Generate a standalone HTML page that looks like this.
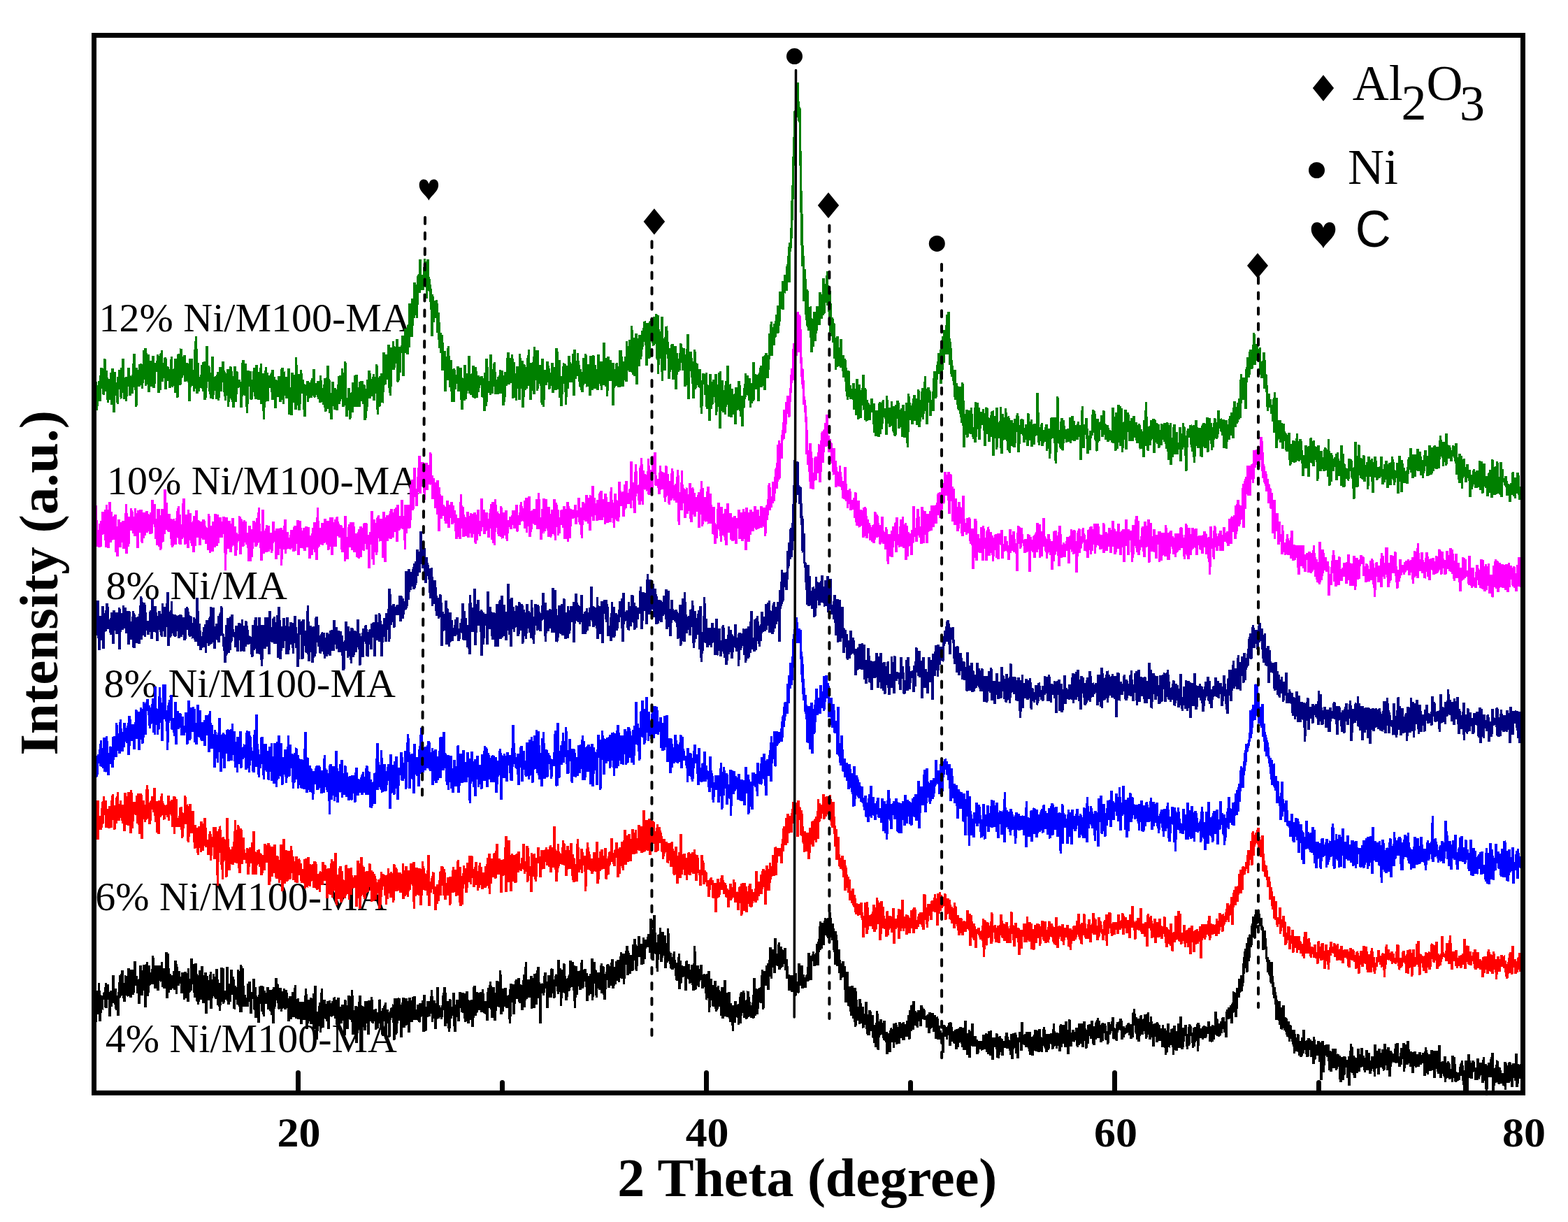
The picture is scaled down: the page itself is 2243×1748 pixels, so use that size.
<!DOCTYPE html>
<html><head><meta charset="utf-8"><title>XRD patterns</title>
<style>
html,body{margin:0;padding:0;background:#fff;}
svg{display:block;}
text{font-family:"Liberation Serif","Times New Roman",serif;fill:#000;}
.lbl{font-size:58px;}
.tk{font-size:59px;font-weight:bold;}
.ax{font-size:78px;font-weight:bold;}
.lg{font-size:72px;}
</style></head><body>
<svg width="2243" height="1748" viewBox="0 0 2243 1748">
<rect width="2243" height="1748" fill="#fff"/>

<text class="lbl" x="141.5" y="474">12% Ni/M100-MA</text>
<text class="lbl" x="152.9" y="707">10% Ni/M100-MA</text>
<text class="lbl" x="151.6" y="856.5">8% Ni/MA</text>
<text class="lbl" x="148.6" y="996.5">8% Ni/M100-MA</text>
<text class="lbl" x="136.2" y="1302">6% Ni/M100-MA</text>
<text class="lbl" x="150.7" y="1505">4% Ni/M100-MA</text>
<polyline fill="none" stroke="#008000" stroke-width="3.6" stroke-linejoin="miter" stroke-miterlimit="2" shape-rendering="crispEdges" points="134.5,564.0 135.1,569.4 135.7,559.1 136.3,547.9 136.8,555.5 137.4,545.6 138.0,564.3 138.6,587.1 139.2,553.9 139.8,551.4 140.3,571.2 140.9,568.6 141.5,563.8 142.1,544.9 142.7,560.9 143.3,573.8 143.8,536.8 144.4,552.6 145.0,526.4 145.6,537.1 146.2,527.0 146.8,555.7 147.3,536.9 147.9,564.3 148.5,562.1 149.1,555.7 149.7,513.5 150.3,548.9 150.9,557.5 151.4,560.2 152.0,530.4 152.6,549.1 153.2,539.9 153.8,542.7 154.4,576.1 154.9,542.3 155.5,556.0 156.1,572.3 156.7,545.6 157.3,553.9 157.9,557.7 158.4,556.6 159.0,533.2 159.6,556.4 160.2,579.2 160.8,526.8 161.4,569.8 161.9,556.3 162.5,542.4 163.1,589.7 163.7,567.2 164.3,531.7 164.9,554.4 165.5,563.2 166.0,549.2 166.6,564.6 167.2,550.9 167.8,563.9 168.4,577.6 169.0,539.3 169.5,554.9 170.1,542.7 170.7,553.1 171.3,529.2 171.9,539.9 172.5,546.6 173.0,566.1 173.6,570.3 174.2,525.7 174.8,535.0 175.4,560.7 176.0,513.0 176.5,540.3 177.1,546.6 177.7,570.7 178.3,560.3 178.9,541.8 179.5,540.8 180.1,542.8 180.6,574.4 181.2,539.1 181.8,541.1 182.4,552.7 183.0,544.0 183.6,542.4 184.1,525.7 184.7,545.3 185.3,537.3 185.9,566.0 186.5,556.5 187.1,544.2 187.6,556.4 188.2,538.0 188.8,562.8 189.4,543.6 190.0,554.0 190.6,520.1 191.1,549.3 191.7,512.5 192.3,506.0 192.9,536.9 193.5,526.0 194.1,544.9 194.7,582.0 195.2,526.5 195.8,530.1 196.4,544.7 197.0,549.7 197.6,537.4 198.2,536.7 198.7,552.8 199.3,549.3 199.9,521.1 200.5,538.1 201.1,539.9 201.7,520.1 202.2,543.5 202.8,523.2 203.4,555.8 204.0,541.6 204.6,539.5 205.2,527.1 205.7,535.4 206.3,501.4 206.9,516.7 207.5,543.3 208.1,498.4 208.7,551.6 209.3,504.8 209.8,549.5 210.4,520.5 211.0,549.5 211.6,537.6 212.2,507.5 212.8,557.2 213.3,560.5 213.9,533.2 214.5,529.2 215.1,531.1 215.7,516.2 216.3,553.2 216.8,523.5 217.4,532.1 218.0,518.6 218.6,521.4 219.2,509.5 219.8,554.7 220.3,529.2 220.9,549.0 221.5,531.7 222.1,518.9 222.7,525.5 223.3,521.4 223.9,531.7 224.4,524.9 225.0,526.3 225.6,507.1 226.2,517.4 226.8,561.6 227.4,520.0 227.9,513.2 228.5,538.3 229.1,557.5 229.7,506.3 230.3,528.7 230.9,521.2 231.4,501.0 232.0,545.9 232.6,532.4 233.2,534.1 233.8,519.4 234.4,541.2 234.9,523.4 235.5,530.6 236.1,513.4 236.7,511.5 237.3,557.4 237.9,524.4 238.5,538.8 239.0,533.1 239.6,525.8 240.2,524.7 240.8,545.2 241.4,528.6 242.0,531.4 242.5,534.5 243.1,555.3 243.7,546.5 244.3,541.2 244.9,524.4 245.5,509.8 246.0,551.7 246.6,552.0 247.2,532.3 247.8,544.6 248.4,549.0 249.0,549.9 249.5,551.6 250.1,527.0 250.7,562.4 251.3,513.0 251.9,550.9 252.5,544.4 253.1,551.3 253.6,569.3 254.2,562.4 254.8,515.3 255.4,505.7 256.0,550.6 256.6,517.9 257.1,536.0 257.7,551.3 258.3,506.9 258.9,498.6 259.5,541.1 260.1,537.4 260.6,532.3 261.2,537.4 261.8,521.4 262.4,509.8 263.0,534.0 263.6,519.7 264.1,507.7 264.7,546.3 265.3,536.2 265.9,544.7 266.5,519.8 267.1,525.8 267.7,519.7 268.2,521.8 268.8,541.3 269.4,523.9 270.0,544.3 270.6,544.1 271.2,574.4 271.7,513.3 272.3,554.2 272.9,536.8 273.5,538.2 274.1,512.6 274.7,530.4 275.2,552.0 275.8,537.3 276.4,540.3 277.0,533.7 277.6,559.7 278.2,538.7 278.7,499.8 279.3,526.9 279.9,504.1 280.5,481.2 281.1,530.0 281.7,563.4 282.3,540.5 282.8,518.8 283.4,523.0 284.0,560.1 284.6,542.8 285.2,540.9 285.8,539.2 286.3,540.9 286.9,554.7 287.5,550.3 288.1,544.3 288.7,521.9 289.3,549.8 289.8,528.5 290.4,560.4 291.0,518.1 291.6,538.5 292.2,540.9 292.8,517.4 293.3,572.0 293.9,567.4 294.5,533.1 295.1,555.2 295.7,548.3 296.3,494.9 296.9,546.2 297.4,540.7 298.0,543.3 298.6,522.7 299.2,537.2 299.8,538.9 300.4,563.5 300.9,548.3 301.5,542.3 302.1,569.8 302.7,532.7 303.3,535.7 303.9,510.3 304.4,570.9 305.0,560.2 305.6,559.4 306.2,555.1 306.8,545.2 307.4,547.2 307.9,538.9 308.5,539.9 309.1,544.6 309.7,570.7 310.3,553.7 310.9,542.8 311.5,533.6 312.0,532.7 312.6,572.8 313.2,553.3 313.8,545.6 314.4,538.3 315.0,524.7 315.5,543.4 316.1,560.3 316.7,537.8 317.3,540.8 317.9,541.0 318.5,547.1 319.0,516.7 319.6,541.1 320.2,530.1 320.8,561.3 321.4,531.8 322.0,556.0 322.5,573.0 323.1,540.2 323.7,535.2 324.3,549.4 324.9,546.1 325.5,528.5 326.1,554.5 326.6,582.4 327.2,541.9 327.8,543.0 328.4,528.0 329.0,552.5 329.6,524.6 330.1,527.2 330.7,569.9 331.3,531.0 331.9,566.5 332.5,574.5 333.1,552.0 333.6,557.4 334.2,582.5 334.8,544.2 335.4,537.2 336.0,523.7 336.6,548.7 337.1,574.5 337.7,565.3 338.3,531.4 338.9,533.1 339.5,539.4 340.1,553.7 340.7,545.0 341.2,552.5 341.8,554.1 342.4,543.6 343.0,548.3 343.6,552.8 344.2,547.7 344.7,558.3 345.3,582.8 345.9,560.0 346.5,550.5 347.1,519.5 347.7,556.7 348.2,515.1 348.8,524.8 349.4,565.3 350.0,562.7 350.6,547.5 351.2,519.8 351.7,543.8 352.3,538.4 352.9,561.9 353.5,590.9 354.1,554.6 354.7,536.9 355.3,530.1 355.8,550.0 356.4,548.0 357.0,530.7 357.6,553.4 358.2,530.9 358.8,571.3 359.3,570.5 359.9,571.0 360.5,543.3 361.1,561.0 361.7,549.6 362.3,545.1 362.8,546.1 363.4,529.1 364.0,526.6 364.6,566.6 365.2,549.1 365.8,556.5 366.3,570.6 366.9,521.9 367.5,538.9 368.1,556.1 368.7,560.1 369.3,546.4 369.9,571.6 370.4,557.1 371.0,531.8 371.6,536.9 372.2,568.0 372.8,562.0 373.4,520.0 373.9,577.9 374.5,564.7 375.1,578.0 375.7,547.3 376.3,549.0 376.9,534.3 377.4,599.7 378.0,551.4 378.6,582.9 379.2,543.2 379.8,557.7 380.4,525.1 380.9,548.1 381.5,572.6 382.1,532.8 382.7,574.3 383.3,561.3 383.9,536.8 384.5,546.6 385.0,547.4 385.6,554.8 386.2,546.2 386.8,541.1 387.4,550.5 388.0,537.7 388.5,533.1 389.1,555.3 389.7,572.0 390.3,529.1 390.9,556.5 391.5,545.0 392.0,539.2 392.6,571.9 393.2,547.6 393.8,583.6 394.4,543.1 395.0,564.0 395.5,553.1 396.1,543.8 396.7,567.8 397.3,554.7 397.9,568.3 398.5,556.8 399.1,538.4 399.6,556.0 400.2,558.8 400.8,575.0 401.4,541.9 402.0,557.4 402.6,527.6 403.1,569.9 403.7,539.1 404.3,526.3 404.9,557.5 405.5,578.3 406.1,531.6 406.6,539.5 407.2,545.7 407.8,538.9 408.4,565.9 409.0,544.8 409.6,546.4 410.1,569.7 410.7,546.0 411.3,567.2 411.9,542.3 412.5,538.1 413.1,527.1 413.7,593.0 414.2,554.3 414.8,564.4 415.4,559.6 416.0,563.1 416.6,561.2 417.2,594.4 417.7,542.0 418.3,532.9 418.9,542.7 419.5,537.0 420.1,574.1 420.7,575.5 421.2,543.9 421.8,536.4 422.4,554.9 423.0,586.0 423.6,511.2 424.2,570.8 424.7,542.4 425.3,580.2 425.9,542.6 426.5,556.7 427.1,535.1 427.7,544.6 428.3,586.7 428.8,576.8 429.4,555.1 430.0,546.9 430.6,528.8 431.2,555.5 431.8,562.1 432.3,561.2 432.9,561.1 433.5,542.9 434.1,561.8 434.7,562.4 435.3,586.1 435.8,596.4 436.4,560.9 437.0,549.8 437.6,562.3 438.2,552.8 438.8,550.5 439.3,562.7 439.9,545.3 440.5,574.7 441.1,562.2 441.7,568.6 442.3,560.9 442.9,551.4 443.4,547.5 444.0,560.2 444.6,554.8 445.2,568.8 445.8,564.6 446.4,540.6 446.9,566.1 447.5,541.1 448.1,554.1 448.7,559.9 449.3,528.4 449.9,567.0 450.4,568.1 451.0,562.7 451.6,558.1 452.2,559.1 452.8,548.4 453.4,561.1 453.9,556.1 454.5,567.7 455.1,544.7 455.7,570.4 456.3,568.9 456.9,563.9 457.5,558.7 458.0,576.4 458.6,537.1 459.2,574.9 459.8,571.2 460.4,572.0 461.0,573.8 461.5,555.5 462.1,562.6 462.7,578.6 463.3,575.0 463.9,571.1 464.5,540.6 465.0,577.2 465.6,588.5 466.2,585.7 466.8,572.0 467.4,540.3 468.0,584.8 468.5,565.5 469.1,523.3 469.7,575.0 470.3,541.9 470.9,545.5 471.5,557.3 472.1,591.3 472.6,562.2 473.2,573.7 473.8,600.0 474.4,597.3 475.0,567.3 475.6,564.7 476.1,546.5 476.7,556.5 477.3,576.3 477.9,575.7 478.5,570.5 479.1,586.1 479.6,554.6 480.2,567.2 480.8,581.1 481.4,578.4 482.0,586.9 482.6,574.9 483.1,562.3 483.7,574.1 484.3,549.7 484.9,538.3 485.5,577.6 486.1,566.3 486.7,572.6 487.2,536.9 487.8,560.5 488.4,556.2 489.0,551.4 489.6,526.6 490.2,560.6 490.7,582.4 491.3,573.1 491.9,555.6 492.5,565.9 493.1,579.5 493.7,517.0 494.2,563.6 494.8,575.4 495.4,577.8 496.0,595.7 496.6,585.6 497.2,570.9 497.7,570.6 498.3,579.1 498.9,555.5 499.5,564.3 500.1,580.9 500.7,599.5 501.3,561.8 501.8,563.7 502.4,568.0 503.0,588.2 503.6,563.7 504.2,590.2 504.8,546.9 505.3,560.7 505.9,560.4 506.5,577.7 507.1,582.2 507.7,536.8 508.3,547.3 508.8,569.4 509.4,551.6 510.0,536.2 510.6,581.5 511.2,571.7 511.8,571.6 512.3,554.4 512.9,580.9 513.5,558.3 514.1,581.9 514.7,546.2 515.3,547.1 515.9,565.8 516.4,549.6 517.0,574.0 517.6,566.5 518.2,545.4 518.8,563.0 519.4,555.4 519.9,577.7 520.5,550.2 521.1,553.5 521.7,582.7 522.3,600.8 522.9,596.4 523.4,562.0 524.0,564.7 524.6,587.9 525.2,558.4 525.8,543.2 526.4,562.5 526.9,568.3 527.5,545.1 528.1,530.1 528.7,533.3 529.3,570.0 529.9,544.2 530.5,554.6 531.0,560.4 531.6,567.0 532.2,549.6 532.8,563.8 533.4,538.7 534.0,547.5 534.5,535.3 535.1,572.9 535.7,551.9 536.3,538.7 536.9,545.0 537.5,546.8 538.0,562.6 538.6,521.4 539.2,530.8 539.8,541.9 540.4,592.9 541.0,564.5 541.5,545.0 542.1,559.1 542.7,582.4 543.3,541.3 543.9,538.4 544.5,565.8 545.1,552.6 545.6,555.2 546.2,533.8 546.8,576.3 547.4,571.9 548.0,551.2 548.6,552.7 549.1,504.2 549.7,550.8 550.3,535.6 550.9,546.2 551.5,550.0 552.1,531.4 552.6,507.0 553.2,542.9 553.8,522.7 554.4,529.4 555.0,524.1 555.6,528.2 556.1,492.8 556.7,554.7 557.3,537.1 557.9,551.7 558.5,566.2 559.1,530.5 559.7,497.1 560.2,512.2 560.8,505.6 561.4,517.0 562.0,526.2 562.6,488.4 563.2,528.8 563.7,495.0 564.3,525.9 564.9,517.6 565.5,513.0 566.1,516.2 566.7,506.9 567.2,504.5 567.8,484.6 568.4,512.7 569.0,544.9 569.6,546.2 570.2,533.5 570.7,521.6 571.3,496.1 571.9,532.5 572.5,504.9 573.1,503.7 573.7,498.7 574.3,504.4 574.8,494.0 575.4,499.2 576.0,480.4 576.6,492.0 577.2,537.8 577.8,495.2 578.3,491.2 578.9,503.8 579.5,504.9 580.1,470.5 580.7,484.3 581.3,502.1 581.8,488.4 582.4,483.7 583.0,506.8 583.6,465.2 584.2,476.5 584.8,463.6 585.3,497.0 585.9,434.0 586.5,454.5 587.1,454.8 587.7,473.7 588.3,470.4 588.9,482.0 589.4,427.1 590.0,465.9 590.6,445.0 591.2,436.1 591.8,455.0 592.4,426.8 592.9,404.0 593.5,431.8 594.1,409.5 594.7,422.1 595.3,437.8 595.9,434.4 596.4,454.5 597.0,420.6 597.6,394.6 598.2,405.9 598.8,400.3 599.4,392.2 599.9,418.7 600.5,396.9 601.1,370.6 601.7,415.1 602.3,398.1 602.9,403.6 603.5,396.4 604.0,403.2 604.6,393.3 605.2,415.0 605.8,401.3 606.4,401.3 607.0,402.2 607.5,369.8 608.1,393.2 608.7,392.1 609.3,401.0 609.9,373.9 610.5,427.3 611.0,400.9 611.6,378.2 612.2,371.1 612.8,399.7 613.4,406.6 614.0,398.9 614.5,416.7 615.1,407.2 615.7,431.7 616.3,412.6 616.9,428.1 617.5,449.5 618.1,481.1 618.6,421.4 619.2,434.1 619.8,430.0 620.4,461.3 621.0,429.8 621.6,444.1 622.1,454.7 622.7,440.6 623.3,443.5 623.9,454.6 624.5,428.6 625.1,442.7 625.6,463.5 626.2,476.0 626.8,472.7 627.4,447.3 628.0,473.0 628.6,497.9 629.1,496.2 629.7,487.6 630.3,475.9 630.9,505.3 631.5,486.6 632.1,478.7 632.7,487.8 633.2,530.1 633.8,511.0 634.4,529.3 635.0,501.8 635.6,528.2 636.2,502.4 636.7,511.6 637.3,559.6 637.9,530.6 638.5,509.6 639.1,518.3 639.7,526.9 640.2,543.9 640.8,515.3 641.4,494.6 642.0,521.7 642.6,528.3 643.2,531.3 643.7,554.0 644.3,537.7 644.9,547.8 645.5,515.4 646.1,551.5 646.7,574.5 647.3,552.6 647.8,544.8 648.4,544.4 649.0,574.5 649.6,526.8 650.2,541.3 650.8,551.4 651.3,556.5 651.9,535.8 652.5,549.0 653.1,538.8 653.7,545.9 654.3,541.5 654.8,523.8 655.4,543.7 656.0,559.6 656.6,527.2 657.2,540.1 657.8,556.1 658.3,525.7 658.9,547.8 659.5,526.0 660.1,564.8 660.7,585.6 661.3,580.6 661.9,541.2 662.4,558.2 663.0,547.4 663.6,547.1 664.2,572.7 664.8,522.3 665.4,564.2 665.9,544.8 666.5,570.6 667.1,549.2 667.7,534.1 668.3,551.0 668.9,559.1 669.4,546.9 670.0,555.0 670.6,537.3 671.2,509.0 671.8,562.5 672.4,559.0 672.9,549.4 673.5,548.1 674.1,565.2 674.7,539.0 675.3,534.7 675.9,544.0 676.5,568.3 677.0,523.0 677.6,568.5 678.2,536.4 678.8,528.4 679.4,570.0 680.0,546.2 680.5,525.1 681.1,541.8 681.7,564.6 682.3,569.3 682.9,540.9 683.5,555.6 684.0,561.1 684.6,537.3 685.2,555.0 685.8,548.3 686.4,539.4 687.0,540.1 687.5,549.8 688.1,549.1 688.7,538.6 689.3,540.9 689.9,567.9 690.5,552.0 691.1,563.8 691.6,569.3 692.2,558.4 692.8,587.9 693.4,533.4 694.0,562.0 694.6,542.1 695.1,580.3 695.7,577.5 696.3,513.1 696.9,530.4 697.5,559.0 698.1,561.1 698.6,560.1 699.2,545.8 699.8,555.0 700.4,558.4 701.0,545.5 701.6,564.8 702.1,506.9 702.7,557.8 703.3,528.3 703.9,563.3 704.5,542.3 705.1,530.7 705.7,552.8 706.2,530.1 706.8,530.0 707.4,518.4 708.0,545.4 708.6,554.6 709.2,563.7 709.7,543.2 710.3,564.0 710.9,545.8 711.5,543.8 712.1,555.4 712.7,563.9 713.2,539.2 713.8,540.8 714.4,542.2 715.0,546.4 715.6,529.0 716.2,562.9 716.7,537.7 717.3,552.8 717.9,530.0 718.5,550.8 719.1,551.3 719.7,536.9 720.3,579.8 720.8,550.7 721.4,575.3 722.0,560.9 722.6,532.3 723.2,537.1 723.8,551.4 724.3,544.8 724.9,544.5 725.5,538.5 726.1,511.7 726.7,539.4 727.3,504.3 727.8,549.7 728.4,530.4 729.0,530.5 729.6,539.1 730.2,547.7 730.8,517.7 731.3,512.0 731.9,523.9 732.5,506.7 733.1,525.5 733.7,570.4 734.3,523.8 734.9,553.7 735.4,518.1 736.0,547.4 736.6,536.4 737.2,540.9 737.8,551.9 738.4,572.6 738.9,545.1 739.5,543.8 740.1,524.5 740.7,551.7 741.3,537.1 741.9,555.9 742.4,540.5 743.0,571.7 743.6,506.3 744.2,535.8 744.8,556.4 745.4,534.7 745.9,526.8 746.5,536.0 747.1,516.4 747.7,542.6 748.3,583.3 748.9,560.5 749.5,520.8 750.0,524.9 750.6,533.0 751.2,557.7 751.8,525.5 752.4,527.8 753.0,555.3 753.5,554.9 754.1,533.1 754.7,520.0 755.3,512.3 755.9,527.1 756.5,500.2 757.0,552.4 757.6,528.1 758.2,547.5 758.8,571.8 759.4,559.5 760.0,518.7 760.5,554.0 761.1,559.0 761.7,525.5 762.3,521.9 762.9,536.6 763.5,510.5 764.1,564.4 764.6,496.4 765.2,519.1 765.8,533.8 766.4,534.6 767.0,541.4 767.6,543.3 768.1,534.8 768.7,558.5 769.3,501.0 769.9,538.5 770.5,526.0 771.1,540.8 771.6,542.4 772.2,522.5 772.8,527.2 773.4,552.4 774.0,544.6 774.6,526.5 775.1,574.2 775.7,578.9 776.3,512.8 776.9,543.7 777.5,582.4 778.1,552.2 778.7,542.3 779.2,534.8 779.8,528.9 780.4,534.7 781.0,528.7 781.6,551.4 782.2,531.4 782.7,530.6 783.3,517.3 783.9,537.5 784.5,522.7 785.1,535.2 785.7,556.6 786.2,544.7 786.8,547.2 787.4,544.6 788.0,539.4 788.6,536.1 789.2,532.9 789.7,551.6 790.3,519.3 790.9,561.8 791.5,538.9 792.1,525.2 792.7,529.7 793.3,526.4 793.8,541.1 794.4,525.7 795.0,558.3 795.6,524.5 796.2,498.4 796.8,525.4 797.3,503.0 797.9,537.5 798.5,556.8 799.1,549.5 799.7,514.8 800.3,524.8 800.8,569.3 801.4,543.8 802.0,538.2 802.6,556.7 803.2,581.1 803.8,560.9 804.3,540.6 804.9,544.4 805.5,548.9 806.1,527.4 806.7,519.6 807.3,539.0 807.9,521.5 808.4,537.0 809.0,539.8 809.6,579.1 810.2,523.2 810.8,535.9 811.4,535.2 811.9,545.7 812.5,556.4 813.1,529.5 813.7,523.7 814.3,509.3 814.9,521.8 815.4,547.4 816.0,538.8 816.6,520.2 817.2,531.5 817.8,538.6 818.4,546.8 818.9,527.6 819.5,533.6 820.1,506.2 820.7,517.8 821.3,566.3 821.9,499.7 822.5,532.0 823.0,541.8 823.6,531.3 824.2,523.7 824.8,536.7 825.4,537.6 826.0,536.1 826.5,504.6 827.1,534.8 827.7,522.4 828.3,527.7 828.9,541.2 829.5,548.3 830.0,552.7 830.6,528.3 831.2,553.0 831.8,557.3 832.4,556.6 833.0,560.9 833.5,534.0 834.1,533.5 834.7,550.8 835.3,512.5 835.9,539.9 836.5,526.9 837.1,529.7 837.6,505.6 838.2,520.4 838.8,535.5 839.4,551.3 840.0,553.0 840.6,534.3 841.1,532.3 841.7,521.0 842.3,542.5 842.9,531.0 843.5,545.9 844.1,565.8 844.6,534.6 845.2,508.9 845.8,520.0 846.4,509.5 847.0,514.0 847.6,557.5 848.1,538.6 848.7,508.1 849.3,545.9 849.9,556.4 850.5,528.1 851.1,522.5 851.7,528.3 852.2,539.1 852.8,545.2 853.4,554.6 854.0,555.0 854.6,554.5 855.2,557.5 855.7,545.2 856.3,507.0 856.9,531.3 857.5,538.9 858.1,526.7 858.7,549.2 859.2,527.0 859.8,517.1 860.4,558.2 861.0,544.6 861.6,536.7 862.2,549.0 862.7,551.2 863.3,538.6 863.9,489.9 864.5,520.8 865.1,524.5 865.7,515.3 866.3,535.8 866.8,552.9 867.4,523.7 868.0,512.4 868.6,567.2 869.2,524.1 869.8,510.5 870.3,535.9 870.9,539.1 871.5,519.4 872.1,545.3 872.7,523.0 873.3,515.4 873.8,534.4 874.4,544.6 875.0,520.2 875.6,536.8 876.2,529.4 876.8,579.9 877.3,518.6 877.9,554.8 878.5,529.8 879.1,528.4 879.7,543.1 880.3,546.0 880.9,552.4 881.4,536.0 882.0,519.9 882.6,520.9 883.2,538.9 883.8,540.1 884.4,553.9 884.9,536.3 885.5,546.9 886.1,554.2 886.7,530.2 887.3,501.1 887.9,505.9 888.4,500.8 889.0,552.7 889.6,509.9 890.2,545.3 890.8,533.6 891.4,552.5 891.9,539.6 892.5,520.0 893.1,517.7 893.7,522.1 894.3,523.1 894.9,510.3 895.5,518.3 896.0,546.2 896.6,488.4 897.2,521.7 897.8,501.0 898.4,519.3 899.0,530.0 899.5,514.0 900.1,527.7 900.7,486.4 901.3,532.4 901.9,502.3 902.5,522.9 903.0,514.7 903.6,466.4 904.2,497.4 904.8,513.7 905.4,536.1 906.0,513.7 906.5,512.6 907.1,483.2 907.7,531.7 908.3,537.6 908.9,506.4 909.5,501.5 910.1,476.9 910.6,519.4 911.2,550.2 911.8,515.4 912.4,524.3 913.0,511.3 913.6,484.4 914.1,523.8 914.7,479.0 915.3,496.0 915.9,503.7 916.5,513.5 917.1,504.7 917.6,503.6 918.2,483.1 918.8,473.3 919.4,495.9 920.0,481.9 920.6,471.0 921.1,471.0 921.7,483.7 922.3,459.6 922.9,467.6 923.5,462.0 924.1,492.5 924.7,495.7 925.2,522.6 925.8,461.6 926.4,475.0 927.0,501.7 927.6,481.6 928.2,479.0 928.7,513.3 929.3,477.5 929.9,462.7 930.5,459.3 931.1,487.0 931.7,485.8 932.2,456.3 932.8,462.3 933.4,488.7 934.0,490.2 934.6,469.9 935.2,492.4 935.7,492.2 936.3,452.6 936.9,478.5 937.5,491.7 938.1,475.5 938.7,449.4 939.3,481.9 939.8,500.4 940.4,515.4 941.0,451.4 941.6,534.5 942.2,471.1 942.8,507.6 943.3,513.1 943.9,509.5 944.5,495.9 945.1,474.2 945.7,505.6 946.3,483.3 946.8,453.1 947.4,545.4 948.0,509.9 948.6,529.6 949.2,483.6 949.8,525.0 950.3,527.9 950.9,528.0 951.5,501.7 952.1,482.3 952.7,500.5 953.3,466.6 953.9,475.9 954.4,507.3 955.0,489.5 955.6,504.4 956.2,506.1 956.8,541.7 957.4,531.6 957.9,509.4 958.5,531.5 959.1,498.3 959.7,506.6 960.3,528.6 960.9,492.6 961.4,509.4 962.0,491.9 962.6,516.8 963.2,542.9 963.8,502.5 964.4,519.5 964.9,500.6 965.5,496.6 966.1,495.5 966.7,541.7 967.3,557.4 967.9,525.7 968.5,505.5 969.0,530.1 969.6,512.6 970.2,532.3 970.8,523.9 971.4,524.0 972.0,529.9 972.5,509.9 973.1,513.2 973.7,491.1 974.3,513.2 974.9,496.8 975.5,518.8 976.0,505.3 976.6,523.6 977.2,529.9 977.8,498.3 978.4,508.9 979.0,507.0 979.5,536.1 980.1,552.7 980.7,538.5 981.3,518.3 981.9,549.5 982.5,499.1 983.1,550.7 983.6,514.3 984.2,478.5 984.8,571.1 985.4,553.2 986.0,509.1 986.6,529.8 987.1,523.6 987.7,529.3 988.3,502.6 988.9,516.5 989.5,536.4 990.1,532.5 990.6,549.4 991.2,530.9 991.8,570.2 992.4,519.0 993.0,536.4 993.6,500.3 994.1,512.4 994.7,557.0 995.3,519.3 995.9,545.2 996.5,535.9 997.1,520.1 997.7,532.7 998.2,530.7 998.8,532.0 999.4,553.9 1000.0,553.0 1000.6,533.0 1001.2,528.2 1001.7,549.2 1002.3,543.6 1002.9,563.5 1003.5,591.9 1004.1,562.1 1004.7,548.0 1005.2,546.5 1005.8,535.7 1006.4,535.7 1007.0,534.9 1007.6,545.5 1008.2,545.2 1008.7,565.3 1009.3,546.3 1009.9,550.0 1010.5,532.9 1011.1,581.7 1011.7,562.7 1012.3,584.7 1012.8,568.2 1013.4,580.2 1014.0,551.0 1014.6,567.6 1015.2,601.5 1015.8,535.4 1016.3,576.2 1016.9,585.3 1017.5,564.0 1018.1,570.1 1018.7,579.1 1019.3,546.4 1019.8,565.0 1020.4,543.3 1021.0,546.9 1021.6,548.1 1022.2,556.6 1022.8,561.9 1023.3,567.5 1023.9,535.4 1024.5,594.4 1025.1,580.4 1025.7,573.3 1026.3,554.8 1026.9,559.7 1027.4,571.0 1028.0,569.0 1028.6,533.1 1029.2,575.2 1029.8,613.1 1030.4,531.0 1030.9,580.4 1031.5,569.9 1032.1,561.8 1032.7,587.8 1033.3,543.9 1033.9,567.4 1034.4,590.2 1035.0,561.7 1035.6,558.2 1036.2,567.7 1036.8,558.3 1037.4,593.0 1037.9,550.8 1038.5,581.9 1039.1,545.4 1039.7,578.9 1040.3,565.8 1040.9,523.2 1041.5,568.1 1042.0,550.0 1042.6,561.0 1043.2,595.6 1043.8,550.0 1044.4,551.2 1045.0,594.7 1045.5,572.1 1046.1,597.0 1046.7,576.3 1047.3,555.7 1047.9,570.1 1048.5,592.7 1049.0,588.0 1049.6,572.1 1050.2,573.2 1050.8,570.6 1051.4,562.9 1052.0,606.5 1052.5,573.4 1053.1,553.9 1053.7,565.3 1054.3,586.2 1054.9,584.9 1055.5,571.6 1056.1,562.6 1056.6,574.7 1057.2,545.5 1057.8,552.0 1058.4,588.4 1059.0,566.5 1059.6,581.4 1060.1,595.9 1060.7,585.5 1061.3,574.0 1061.9,609.7 1062.5,583.9 1063.1,565.7 1063.6,583.8 1064.2,577.6 1064.8,555.2 1065.4,570.6 1066.0,565.8 1066.6,534.2 1067.1,564.5 1067.7,561.9 1068.3,558.7 1068.9,537.3 1069.5,558.9 1070.1,563.7 1070.7,565.5 1071.2,543.6 1071.8,573.4 1072.4,541.0 1073.0,557.4 1073.6,583.1 1074.2,548.1 1074.7,550.6 1075.3,577.2 1075.9,551.6 1076.5,552.4 1077.1,560.7 1077.7,574.3 1078.2,517.8 1078.8,540.8 1079.4,537.1 1080.0,535.2 1080.6,538.5 1081.2,538.2 1081.7,557.1 1082.3,536.1 1082.9,552.8 1083.5,556.5 1084.1,536.0 1084.7,549.5 1085.3,574.1 1085.8,550.4 1086.4,532.8 1087.0,541.4 1087.6,525.7 1088.2,544.8 1088.8,553.8 1089.3,523.4 1089.9,531.8 1090.5,552.3 1091.1,522.8 1091.7,532.5 1092.3,509.8 1092.8,511.3 1093.4,514.5 1094.0,557.5 1094.6,512.3 1095.2,508.3 1095.8,505.7 1096.3,510.3 1096.9,522.0 1097.5,512.2 1098.1,541.4 1098.7,509.4 1099.3,528.6 1099.9,507.8 1100.4,512.0 1101.0,476.6 1101.6,497.2 1102.2,496.9 1102.8,492.7 1103.4,459.6 1103.9,508.7 1104.5,486.3 1105.1,484.2 1105.7,485.9 1106.3,485.1 1106.9,494.3 1107.4,463.5 1108.0,465.8 1108.6,482.7 1109.2,476.9 1109.8,464.8 1110.4,458.2 1110.9,450.4 1111.5,460.0 1112.1,477.2 1112.7,436.6 1113.3,476.1 1113.9,461.4 1114.5,439.0 1115.0,459.5 1115.6,422.1 1116.2,417.6 1116.8,424.9 1117.4,439.5 1118.0,440.8 1118.5,434.9 1119.1,442.2 1119.7,402.1 1120.3,442.8 1120.9,408.0 1121.5,416.9 1122.0,417.1 1122.6,400.8 1123.2,393.3 1123.8,395.4 1124.4,408.5 1125.0,415.4 1125.5,411.9 1126.1,383.0 1126.7,383.2 1127.3,378.0 1127.9,397.6 1128.5,353.4 1129.1,403.8 1129.6,363.5 1130.2,346.8 1130.8,353.7 1131.4,353.5 1132.0,330.3 1132.6,322.6 1133.1,287.5 1133.7,285.8 1134.3,266.1 1134.9,224.0 1135.5,235.5 1136.1,201.8 1136.6,187.9 1137.2,158.6 1137.8,161.4 1138.4,175.5 1139.0,137.4 1139.6,166.4 1140.1,157.9 1140.7,156.0 1141.3,118.4 1141.9,156.7 1142.5,172.6 1143.1,152.8 1143.7,175.0 1144.2,155.2 1144.8,226.6 1145.4,238.5 1146.0,303.6 1146.6,295.3 1147.2,351.2 1147.7,349.8 1148.3,381.1 1148.9,366.5 1149.5,378.3 1150.1,430.7 1150.7,385.3 1151.2,392.7 1151.8,405.1 1152.4,399.0 1153.0,442.1 1153.6,457.6 1154.2,424.2 1154.7,414.0 1155.3,466.1 1155.9,467.5 1156.5,465.3 1157.1,473.3 1157.7,442.4 1158.3,456.4 1158.8,438.8 1159.4,440.8 1160.0,482.7 1160.6,455.4 1161.2,503.9 1161.8,467.5 1162.3,455.6 1162.9,479.2 1163.5,495.6 1164.1,473.8 1164.7,445.7 1165.3,471.7 1165.8,488.2 1166.4,455.9 1167.0,449.3 1167.6,476.8 1168.2,460.4 1168.8,438.0 1169.3,447.9 1169.9,439.8 1170.5,455.1 1171.1,450.0 1171.7,465.2 1172.3,456.3 1172.9,417.9 1173.4,449.1 1174.0,456.1 1174.6,447.7 1175.2,456.0 1175.8,429.0 1176.4,421.3 1176.9,451.1 1177.5,417.2 1178.1,398.1 1178.7,449.3 1179.3,419.5 1179.9,425.2 1180.4,406.5 1181.0,407.0 1181.6,409.0 1182.2,421.3 1182.8,432.6 1183.4,388.1 1183.9,437.4 1184.5,408.6 1185.1,413.8 1185.7,445.7 1186.3,436.7 1186.9,416.1 1187.5,474.8 1188.0,433.8 1188.6,455.2 1189.2,457.8 1189.8,480.9 1190.4,453.7 1191.0,481.1 1191.5,455.9 1192.1,489.8 1192.7,462.4 1193.3,472.3 1193.9,512.7 1194.5,490.3 1195.0,490.3 1195.6,528.6 1196.2,500.7 1196.8,483.4 1197.4,510.8 1198.0,481.4 1198.5,521.1 1199.1,524.3 1199.7,497.2 1200.3,498.3 1200.9,513.4 1201.5,512.7 1202.1,498.4 1202.6,525.6 1203.2,484.9 1203.8,513.2 1204.4,515.6 1205.0,519.7 1205.6,531.1 1206.1,508.0 1206.7,539.6 1207.3,529.0 1207.9,523.3 1208.5,513.6 1209.1,518.6 1209.6,545.7 1210.2,526.0 1210.8,544.8 1211.4,562.2 1212.0,562.4 1212.6,571.7 1213.1,542.1 1213.7,530.0 1214.3,565.0 1214.9,554.1 1215.5,568.1 1216.1,550.7 1216.7,570.7 1217.2,565.7 1217.8,564.3 1218.4,561.5 1219.0,560.5 1219.6,558.5 1220.2,559.1 1220.7,572.3 1221.3,548.5 1221.9,585.8 1222.5,556.6 1223.1,575.0 1223.7,558.2 1224.2,556.4 1224.8,594.2 1225.4,556.8 1226.0,541.8 1226.6,551.6 1227.2,558.8 1227.7,599.7 1228.3,568.7 1228.9,581.3 1229.5,550.5 1230.1,573.2 1230.7,579.1 1231.3,598.2 1231.8,558.3 1232.4,580.1 1233.0,576.0 1233.6,555.1 1234.2,572.1 1234.8,568.9 1235.3,536.1 1235.9,584.3 1236.5,584.1 1237.1,568.9 1237.7,555.0 1238.3,601.4 1238.8,582.4 1239.4,595.3 1240.0,602.4 1240.6,571.8 1241.2,594.1 1241.8,577.7 1242.3,581.1 1242.9,581.1 1243.5,582.8 1244.1,601.2 1244.7,585.5 1245.3,581.4 1245.9,579.7 1246.4,590.1 1247.0,570.4 1247.6,577.1 1248.2,584.7 1248.8,576.7 1249.4,584.3 1249.9,576.7 1250.5,619.4 1251.1,608.8 1251.7,594.9 1252.3,587.1 1252.9,623.7 1253.4,593.8 1254.0,587.6 1254.6,594.2 1255.2,594.6 1255.8,612.8 1256.4,590.0 1256.9,624.6 1257.5,576.7 1258.1,602.6 1258.7,575.5 1259.3,621.4 1259.9,587.0 1260.5,591.8 1261.0,608.0 1261.6,613.7 1262.2,575.8 1262.8,588.5 1263.4,571.9 1264.0,597.0 1264.5,593.4 1265.1,589.8 1265.7,584.7 1266.3,589.9 1266.9,584.4 1267.5,605.3 1268.0,621.6 1268.6,566.3 1269.2,595.9 1269.8,591.4 1270.4,606.4 1271.0,583.5 1271.5,596.8 1272.1,582.7 1272.7,610.6 1273.3,600.9 1273.9,596.6 1274.5,605.1 1275.1,595.1 1275.6,574.0 1276.2,608.6 1276.8,603.5 1277.4,596.3 1278.0,614.6 1278.6,618.3 1279.1,581.0 1279.7,586.0 1280.3,623.4 1280.9,621.3 1281.5,586.5 1282.1,579.3 1282.6,588.0 1283.2,590.1 1283.8,572.6 1284.4,598.5 1285.0,577.4 1285.6,578.4 1286.1,612.6 1286.7,586.8 1287.3,596.5 1287.9,607.7 1288.5,610.6 1289.1,592.1 1289.7,598.1 1290.2,584.1 1290.8,625.4 1291.4,607.7 1292.0,579.4 1292.6,597.2 1293.2,608.5 1293.7,604.7 1294.3,626.3 1294.9,618.9 1295.5,588.1 1296.1,595.3 1296.7,576.1 1297.2,600.6 1297.8,598.9 1298.4,639.8 1299.0,597.9 1299.6,562.7 1300.2,585.5 1300.7,598.0 1301.3,576.0 1301.9,582.1 1302.5,590.1 1303.1,601.3 1303.7,592.6 1304.3,580.4 1304.8,606.7 1305.4,584.9 1306.0,584.9 1306.6,570.3 1307.2,579.2 1307.8,601.7 1308.3,564.7 1308.9,588.9 1309.5,601.0 1310.1,582.9 1310.7,592.2 1311.3,569.9 1311.8,608.1 1312.4,604.2 1313.0,589.8 1313.6,557.4 1314.2,568.1 1314.8,599.9 1315.3,611.1 1315.9,587.9 1316.5,602.5 1317.1,572.3 1317.7,578.4 1318.3,580.9 1318.9,587.0 1319.4,555.3 1320.0,594.1 1320.6,599.7 1321.2,559.6 1321.8,555.7 1322.4,582.4 1322.9,565.8 1323.5,537.8 1324.1,588.0 1324.7,577.0 1325.3,566.3 1325.9,607.1 1326.4,575.0 1327.0,560.2 1327.6,573.2 1328.2,554.4 1328.8,558.3 1329.4,576.0 1329.9,560.5 1330.5,561.5 1331.1,594.8 1331.7,581.3 1332.3,579.8 1332.9,574.9 1333.5,572.4 1334.0,585.9 1334.6,560.3 1335.2,588.2 1335.8,541.4 1336.4,550.5 1337.0,530.6 1337.5,545.0 1338.1,556.7 1338.7,569.5 1339.3,533.8 1339.9,542.4 1340.5,534.6 1341.0,526.5 1341.6,517.3 1342.2,535.2 1342.8,504.6 1343.4,531.9 1344.0,528.4 1344.5,515.6 1345.1,508.0 1345.7,500.0 1346.3,548.7 1346.9,493.6 1347.5,535.7 1348.1,516.5 1348.6,497.2 1349.2,480.6 1349.8,511.6 1350.4,518.5 1351.0,472.2 1351.6,478.3 1352.1,496.2 1352.7,482.9 1353.3,507.4 1353.9,464.6 1354.5,480.4 1355.1,450.5 1355.6,507.1 1356.2,465.8 1356.8,445.8 1357.4,482.4 1358.0,485.7 1358.6,521.8 1359.1,489.5 1359.7,498.2 1360.3,512.8 1360.9,534.7 1361.5,514.8 1362.1,538.5 1362.7,536.5 1363.2,529.8 1363.8,542.0 1364.4,544.7 1365.0,531.9 1365.6,567.9 1366.2,529.0 1366.7,571.7 1367.3,570.5 1367.9,556.2 1368.5,547.8 1369.1,558.5 1369.7,571.9 1370.2,578.4 1370.8,573.4 1371.4,586.8 1372.0,564.5 1372.6,579.3 1373.2,553.0 1373.7,592.1 1374.3,584.7 1374.9,578.0 1375.5,605.1 1376.1,599.9 1376.7,546.7 1377.3,594.1 1377.8,572.7 1378.4,614.8 1379.0,639.5 1379.6,592.2 1380.2,601.7 1380.8,596.7 1381.3,606.4 1381.9,611.2 1382.5,621.5 1383.1,585.7 1383.7,626.3 1384.3,586.9 1384.8,606.2 1385.4,620.2 1386.0,613.4 1386.6,587.5 1387.2,591.4 1387.8,595.3 1388.3,602.0 1388.9,621.0 1389.5,582.7 1390.1,610.6 1390.7,613.0 1391.3,612.4 1391.9,611.1 1392.4,627.8 1393.0,611.7 1393.6,617.7 1394.2,613.2 1394.8,632.8 1395.4,574.8 1395.9,625.0 1396.5,600.9 1397.1,600.8 1397.7,590.1 1398.3,576.1 1398.9,599.6 1399.4,595.0 1400.0,613.8 1400.6,583.0 1401.2,628.8 1401.8,610.7 1402.4,602.7 1402.9,595.6 1403.5,594.6 1404.1,589.3 1404.7,598.7 1405.3,607.5 1405.9,604.8 1406.5,585.5 1407.0,603.7 1407.6,594.0 1408.2,610.7 1408.8,637.7 1409.4,618.4 1410.0,603.8 1410.5,583.4 1411.1,586.8 1411.7,582.7 1412.3,620.7 1412.9,597.5 1413.5,610.7 1414.0,600.1 1414.6,611.4 1415.2,632.1 1415.8,599.6 1416.4,605.1 1417.0,598.0 1417.5,624.5 1418.1,594.9 1418.7,593.4 1419.3,589.5 1419.9,589.4 1420.5,619.0 1421.1,652.0 1421.6,596.3 1422.2,627.0 1422.8,616.2 1423.4,595.1 1424.0,608.2 1424.6,609.1 1425.1,602.0 1425.7,643.1 1426.3,583.2 1426.9,619.0 1427.5,618.3 1428.1,604.1 1428.6,615.6 1429.2,627.0 1429.8,615.7 1430.4,619.9 1431.0,624.3 1431.6,581.8 1432.1,636.7 1432.7,649.3 1433.3,629.0 1433.9,629.6 1434.5,591.8 1435.1,612.0 1435.7,601.3 1436.2,604.8 1436.8,629.2 1437.4,601.6 1438.0,612.2 1438.6,584.5 1439.2,611.8 1439.7,615.8 1440.3,603.4 1440.9,603.3 1441.5,644.0 1442.1,595.7 1442.7,598.3 1443.2,602.1 1443.8,633.5 1444.4,647.6 1445.0,620.1 1445.6,603.8 1446.2,608.4 1446.7,631.7 1447.3,601.0 1447.9,637.9 1448.5,637.3 1449.1,616.4 1449.7,625.5 1450.3,627.1 1450.8,639.7 1451.4,599.2 1452.0,634.0 1452.6,609.9 1453.2,603.8 1453.8,617.4 1454.3,612.5 1454.9,600.6 1455.5,591.1 1456.1,601.4 1456.7,638.7 1457.3,646.7 1457.8,626.4 1458.4,634.7 1459.0,608.3 1459.6,615.2 1460.2,620.9 1460.8,599.7 1461.3,601.2 1461.9,618.2 1462.5,611.7 1463.1,600.3 1463.7,622.9 1464.3,612.8 1464.9,632.8 1465.4,616.9 1466.0,612.4 1466.6,619.1 1467.2,614.5 1467.8,606.9 1468.4,611.1 1468.9,629.0 1469.5,627.5 1470.1,637.5 1470.7,591.3 1471.3,611.5 1471.9,611.3 1472.4,620.4 1473.0,610.8 1473.6,609.9 1474.2,630.1 1474.8,620.8 1475.4,600.0 1475.9,638.8 1476.5,633.6 1477.1,609.3 1477.7,631.2 1478.3,607.0 1478.9,635.8 1479.5,615.1 1480.0,606.1 1480.6,612.8 1481.2,606.8 1481.8,621.7 1482.4,621.5 1483.0,619.4 1483.5,610.3 1484.1,562.4 1484.7,620.5 1485.3,589.8 1485.9,622.9 1486.5,636.6 1487.0,623.4 1487.6,613.2 1488.2,616.4 1488.8,617.1 1489.4,610.7 1490.0,610.2 1490.5,605.0 1491.1,637.6 1491.7,619.0 1492.3,634.0 1492.9,615.4 1493.5,620.4 1494.1,616.6 1494.6,626.4 1495.2,632.0 1495.8,623.0 1496.4,608.9 1497.0,607.3 1497.6,644.9 1498.1,615.0 1498.7,614.8 1499.3,641.9 1499.9,636.1 1500.5,627.6 1501.1,613.2 1501.6,655.6 1502.2,625.4 1502.8,627.8 1503.4,616.8 1504.0,597.7 1504.6,598.9 1505.1,625.7 1505.7,625.4 1506.3,615.7 1506.9,601.4 1507.5,597.3 1508.1,614.4 1508.7,597.1 1509.2,633.3 1509.8,637.2 1510.4,662.9 1511.0,633.0 1511.6,610.4 1512.2,606.1 1512.7,566.6 1513.3,610.4 1513.9,616.8 1514.5,634.4 1515.1,628.9 1515.7,628.6 1516.2,622.8 1516.8,629.7 1517.4,641.8 1518.0,603.3 1518.6,612.6 1519.2,598.4 1519.7,644.4 1520.3,639.5 1520.9,631.2 1521.5,601.3 1522.1,622.3 1522.7,616.1 1523.3,620.9 1523.8,616.8 1524.4,627.6 1525.0,613.7 1525.6,632.8 1526.2,623.4 1526.8,615.2 1527.3,618.0 1527.9,613.0 1528.5,632.2 1529.1,615.6 1529.7,624.3 1530.3,613.8 1530.8,597.1 1531.4,633.6 1532.0,603.6 1532.6,630.2 1533.2,626.2 1533.8,594.6 1534.3,605.4 1534.9,612.0 1535.5,607.3 1536.1,601.8 1536.7,631.1 1537.3,616.2 1537.9,625.7 1538.4,613.3 1539.0,624.5 1539.6,608.5 1540.2,619.5 1540.8,628.8 1541.4,620.6 1541.9,613.0 1542.5,603.4 1543.1,622.5 1543.7,625.2 1544.3,616.0 1544.9,608.3 1545.4,628.2 1546.0,657.7 1546.6,615.4 1547.2,625.1 1547.8,625.6 1548.4,580.8 1548.9,621.6 1549.5,608.9 1550.1,640.6 1550.7,615.7 1551.3,607.6 1551.9,616.0 1552.5,621.8 1553.0,610.7 1553.6,618.3 1554.2,598.5 1554.8,615.5 1555.4,630.6 1556.0,648.6 1556.5,629.4 1557.1,622.8 1557.7,636.5 1558.3,633.9 1558.9,643.6 1559.5,634.7 1560.0,616.5 1560.6,622.1 1561.2,620.8 1561.8,622.6 1562.4,621.0 1563.0,606.0 1563.5,586.0 1564.1,607.6 1564.7,587.0 1565.3,618.6 1565.9,617.5 1566.5,592.1 1567.1,627.7 1567.6,630.3 1568.2,618.6 1568.8,642.3 1569.4,645.3 1570.0,598.7 1570.6,632.5 1571.1,623.4 1571.7,623.0 1572.3,630.7 1572.9,605.7 1573.5,607.5 1574.1,603.9 1574.6,604.9 1575.2,614.7 1575.8,594.3 1576.4,600.3 1577.0,624.7 1577.6,614.8 1578.1,621.6 1578.7,587.3 1579.3,603.9 1579.9,607.2 1580.5,616.0 1581.1,606.6 1581.7,629.4 1582.2,614.4 1582.8,615.5 1583.4,615.3 1584.0,625.7 1584.6,607.9 1585.2,631.8 1585.7,621.7 1586.3,617.1 1586.9,615.3 1587.5,622.4 1588.1,629.8 1588.7,628.6 1589.2,620.0 1589.8,627.4 1590.4,616.0 1591.0,632.9 1591.6,613.6 1592.2,582.8 1592.7,634.0 1593.3,615.4 1593.9,596.2 1594.5,610.7 1595.1,600.3 1595.7,645.0 1596.3,620.9 1596.8,589.8 1597.4,621.4 1598.0,607.2 1598.6,641.8 1599.2,597.3 1599.8,579.3 1600.3,613.9 1600.9,607.6 1601.5,606.5 1602.1,580.6 1602.7,618.9 1603.3,637.5 1603.8,583.9 1604.4,629.8 1605.0,603.7 1605.6,647.3 1606.2,618.6 1606.8,609.2 1607.3,628.4 1607.9,619.7 1608.5,603.1 1609.1,622.7 1609.7,604.6 1610.3,585.7 1610.9,642.9 1611.4,607.5 1612.0,603.7 1612.6,618.0 1613.2,589.9 1613.8,593.1 1614.4,605.9 1614.9,605.8 1615.5,614.7 1616.1,630.5 1616.7,606.9 1617.3,621.4 1617.9,623.2 1618.4,598.2 1619.0,617.9 1619.6,600.6 1620.2,630.6 1620.8,621.7 1621.4,615.3 1621.9,595.3 1622.5,617.1 1623.1,604.1 1623.7,626.2 1624.3,614.0 1624.9,603.9 1625.5,629.8 1626.0,627.0 1626.6,607.6 1627.2,633.8 1627.8,612.2 1628.4,612.2 1629.0,618.8 1629.5,605.9 1630.1,610.7 1630.7,615.0 1631.3,640.2 1631.9,639.9 1632.5,614.0 1633.0,641.8 1633.6,617.4 1634.2,623.9 1634.8,631.5 1635.4,622.8 1636.0,654.4 1636.5,622.4 1637.1,601.2 1637.7,638.4 1638.3,613.1 1638.9,614.9 1639.5,575.2 1640.1,634.5 1640.6,631.9 1641.2,631.8 1641.8,634.5 1642.4,645.2 1643.0,619.7 1643.6,634.4 1644.1,609.7 1644.7,615.6 1645.3,636.5 1645.9,626.8 1646.5,601.5 1647.1,626.7 1647.6,618.8 1648.2,609.6 1648.8,628.2 1649.4,616.0 1650.0,598.9 1650.6,605.8 1651.1,648.4 1651.7,600.2 1652.3,625.9 1652.9,631.8 1653.5,632.3 1654.1,605.0 1654.7,618.5 1655.2,625.4 1655.8,635.3 1656.4,614.1 1657.0,606.6 1657.6,638.7 1658.2,640.3 1658.7,629.6 1659.3,615.4 1659.9,630.5 1660.5,626.2 1661.1,637.1 1661.7,606.5 1662.2,626.8 1662.8,622.9 1663.4,609.0 1664.0,628.6 1664.6,626.1 1665.2,619.7 1665.7,631.7 1666.3,605.2 1666.9,625.4 1667.5,632.7 1668.1,630.6 1668.7,642.4 1669.3,609.1 1669.8,604.6 1670.4,630.3 1671.0,633.5 1671.6,658.0 1672.2,635.9 1672.8,614.1 1673.3,638.8 1673.9,614.6 1674.5,605.3 1675.1,665.3 1675.7,631.9 1676.3,637.7 1676.8,635.5 1677.4,653.8 1678.0,631.5 1678.6,645.2 1679.2,612.4 1679.8,607.1 1680.3,648.3 1680.9,649.1 1681.5,635.0 1682.1,630.9 1682.7,630.1 1683.3,617.6 1683.9,650.2 1684.4,637.4 1685.0,635.2 1685.6,633.3 1686.2,643.2 1686.8,635.3 1687.4,638.8 1687.9,610.9 1688.5,635.5 1689.1,660.0 1689.7,620.5 1690.3,626.3 1690.9,641.2 1691.4,642.2 1692.0,637.4 1692.6,604.7 1693.2,635.6 1693.8,611.1 1694.4,616.4 1694.9,636.4 1695.5,624.2 1696.1,640.3 1696.7,674.4 1697.3,639.9 1697.9,639.2 1698.5,615.7 1699.0,619.4 1699.6,613.3 1700.2,621.1 1700.8,613.0 1701.4,619.3 1702.0,625.9 1702.5,614.4 1703.1,608.4 1703.7,609.3 1704.3,635.7 1704.9,630.0 1705.5,644.1 1706.0,644.4 1706.6,624.1 1707.2,638.6 1707.8,607.8 1708.4,661.7 1709.0,645.7 1709.5,625.1 1710.1,611.2 1710.7,633.4 1711.3,600.6 1711.9,616.3 1712.5,638.2 1713.1,628.3 1713.6,620.0 1714.2,640.7 1714.8,611.7 1715.4,630.7 1716.0,619.2 1716.6,614.0 1717.1,632.8 1717.7,611.6 1718.3,653.3 1718.9,617.1 1719.5,654.2 1720.1,609.5 1720.6,633.9 1721.2,607.6 1721.8,605.4 1722.4,626.9 1723.0,634.2 1723.6,605.9 1724.1,641.2 1724.7,612.4 1725.3,625.7 1725.9,629.1 1726.5,632.0 1727.1,597.4 1727.7,646.5 1728.2,631.1 1728.8,616.7 1729.4,607.9 1730.0,598.1 1730.6,602.7 1731.2,630.0 1731.7,617.1 1732.3,605.5 1732.9,614.1 1733.5,644.0 1734.1,616.6 1734.7,612.8 1735.2,640.4 1735.8,627.5 1736.4,621.3 1737.0,611.8 1737.6,598.0 1738.2,603.4 1738.7,613.1 1739.3,616.7 1739.9,624.8 1740.5,627.4 1741.1,622.4 1741.7,622.0 1742.3,604.1 1742.8,587.4 1743.4,610.5 1744.0,604.0 1744.6,608.1 1745.2,613.2 1745.8,599.0 1746.3,600.7 1746.9,614.9 1747.5,617.7 1748.1,606.3 1748.7,622.6 1749.3,612.0 1749.8,600.3 1750.4,615.2 1751.0,641.3 1751.6,604.4 1752.2,630.5 1752.8,633.2 1753.3,634.6 1753.9,601.1 1754.5,641.5 1755.1,614.0 1755.7,608.4 1756.3,608.5 1756.9,620.1 1757.4,611.9 1758.0,608.4 1758.6,629.0 1759.2,600.0 1759.8,595.2 1760.4,620.5 1760.9,618.1 1761.5,622.4 1762.1,590.3 1762.7,619.8 1763.3,610.0 1763.9,627.1 1764.4,582.9 1765.0,602.6 1765.6,594.4 1766.2,574.4 1766.8,585.7 1767.4,610.8 1767.9,586.8 1768.5,582.0 1769.1,603.4 1769.7,603.9 1770.3,602.7 1770.9,576.2 1771.5,585.4 1772.0,599.6 1772.6,573.4 1773.2,569.9 1773.8,590.2 1774.4,598.4 1775.0,557.6 1775.5,534.9 1776.1,549.0 1776.7,553.0 1777.3,563.3 1777.9,571.8 1778.5,558.8 1779.0,548.7 1779.6,558.7 1780.2,540.5 1780.8,551.1 1781.4,540.2 1782.0,584.9 1782.5,556.0 1783.1,530.2 1783.7,525.4 1784.3,530.9 1784.9,511.4 1785.5,521.9 1786.1,519.4 1786.6,540.1 1787.2,519.3 1787.8,511.9 1788.4,501.9 1789.0,502.0 1789.6,515.4 1790.1,511.1 1790.7,528.0 1791.3,500.8 1791.9,522.4 1792.5,510.0 1793.1,505.5 1793.6,476.3 1794.2,485.6 1794.8,513.5 1795.4,522.0 1796.0,504.3 1796.6,511.4 1797.1,494.4 1797.7,495.8 1798.3,492.5 1798.9,516.4 1799.5,508.3 1800.1,501.0 1800.7,500.5 1801.2,513.8 1801.8,511.3 1802.4,497.2 1803.0,535.8 1803.6,518.0 1804.2,517.2 1804.7,540.6 1805.3,537.0 1805.9,524.0 1806.5,535.6 1807.1,515.7 1807.7,524.5 1808.2,504.5 1808.8,556.4 1809.4,515.5 1810.0,554.7 1810.6,536.4 1811.2,537.2 1811.7,551.2 1812.3,560.6 1812.9,568.4 1813.5,587.6 1814.1,570.7 1814.7,581.0 1815.3,562.8 1815.8,583.3 1816.4,577.6 1817.0,571.0 1817.6,578.3 1818.2,580.9 1818.8,586.5 1819.3,591.6 1819.9,580.9 1820.5,579.8 1821.1,602.8 1821.7,570.6 1822.3,587.5 1822.8,619.3 1823.4,561.0 1824.0,590.6 1824.6,611.3 1825.2,579.9 1825.8,640.8 1826.3,569.5 1826.9,627.2 1827.5,630.3 1828.1,622.7 1828.7,608.1 1829.3,617.6 1829.9,601.4 1830.4,626.6 1831.0,601.0 1831.6,614.2 1832.2,633.3 1832.8,605.2 1833.4,617.1 1833.9,625.8 1834.5,606.1 1835.1,642.4 1835.7,631.5 1836.3,606.1 1836.9,627.2 1837.4,617.7 1838.0,619.9 1838.6,630.7 1839.2,620.4 1839.8,644.3 1840.4,621.6 1840.9,645.7 1841.5,632.0 1842.1,645.1 1842.7,626.3 1843.3,627.4 1843.9,618.9 1844.5,643.6 1845.0,649.2 1845.6,666.3 1846.2,655.3 1846.8,641.4 1847.4,635.6 1848.0,644.5 1848.5,639.3 1849.1,660.7 1849.7,654.0 1850.3,629.9 1850.9,632.5 1851.5,661.7 1852.0,647.6 1852.6,640.7 1853.2,660.9 1853.8,639.7 1854.4,641.8 1855.0,639.8 1855.5,619.6 1856.1,659.4 1856.7,631.2 1857.3,640.7 1857.9,638.9 1858.5,659.9 1859.1,649.4 1859.6,651.2 1860.2,628.2 1860.8,650.5 1861.4,631.5 1862.0,656.5 1862.6,657.6 1863.1,652.5 1863.7,681.3 1864.3,660.6 1864.9,661.8 1865.5,655.7 1866.1,651.4 1866.6,667.6 1867.2,669.8 1867.8,636.8 1868.4,669.6 1869.0,662.4 1869.6,668.9 1870.1,662.3 1870.7,638.9 1871.3,640.2 1871.9,681.8 1872.5,660.4 1873.1,637.6 1873.7,662.2 1874.2,652.6 1874.8,632.3 1875.4,626.2 1876.0,635.9 1876.6,661.8 1877.2,657.5 1877.7,654.9 1878.3,662.4 1878.9,666.9 1879.5,629.7 1880.1,654.7 1880.7,647.5 1881.2,642.1 1881.8,651.7 1882.4,657.6 1883.0,655.8 1883.6,639.5 1884.2,653.0 1884.7,687.5 1885.3,645.4 1885.9,636.9 1886.5,664.0 1887.1,668.5 1887.7,666.8 1888.3,645.2 1888.8,674.4 1889.4,650.0 1890.0,645.3 1890.6,652.7 1891.2,659.7 1891.8,671.1 1892.3,670.0 1892.9,661.2 1893.5,674.4 1894.1,662.9 1894.7,674.2 1895.3,642.8 1895.8,640.6 1896.4,672.9 1897.0,643.3 1897.6,658.4 1898.2,661.3 1898.8,656.1 1899.3,656.7 1899.9,682.1 1900.5,628.5 1901.1,675.3 1901.7,694.8 1902.3,663.8 1902.9,663.4 1903.4,673.7 1904.0,688.9 1904.6,647.7 1905.2,665.3 1905.8,661.7 1906.4,672.0 1906.9,666.7 1907.5,673.6 1908.1,659.0 1908.7,665.5 1909.3,655.8 1909.9,656.0 1910.4,663.3 1911.0,663.4 1911.6,649.5 1912.2,687.0 1912.8,663.9 1913.4,647.0 1913.9,681.0 1914.5,655.9 1915.1,673.1 1915.7,666.1 1916.3,669.9 1916.9,668.9 1917.5,658.9 1918.0,667.4 1918.6,694.6 1919.2,636.6 1919.8,668.1 1920.4,673.2 1921.0,653.1 1921.5,648.9 1922.1,697.0 1922.7,662.8 1923.3,696.2 1923.9,675.3 1924.5,669.2 1925.0,674.8 1925.6,677.0 1926.2,684.6 1926.8,674.6 1927.4,670.7 1928.0,671.3 1928.5,687.4 1929.1,680.2 1929.7,655.7 1930.3,660.8 1930.9,674.0 1931.5,661.2 1932.1,664.7 1932.6,656.9 1933.2,666.5 1933.8,675.9 1934.4,683.7 1935.0,670.5 1935.6,698.5 1936.1,669.4 1936.7,713.7 1937.3,684.0 1937.9,677.2 1938.5,663.7 1939.1,632.3 1939.6,668.4 1940.2,673.0 1940.8,696.5 1941.4,651.9 1942.0,696.3 1942.6,667.2 1943.1,680.4 1943.7,636.4 1944.3,672.5 1944.9,666.0 1945.5,679.9 1946.1,672.0 1946.7,655.3 1947.2,683.5 1947.8,680.1 1948.4,678.8 1949.0,684.4 1949.6,685.7 1950.2,670.6 1950.7,652.6 1951.3,652.2 1951.9,689.1 1952.5,680.5 1953.1,672.3 1953.7,665.1 1954.2,671.4 1954.8,671.3 1955.4,666.5 1956.0,661.6 1956.6,700.1 1957.2,674.1 1957.7,662.9 1958.3,653.6 1958.9,661.4 1959.5,680.8 1960.1,681.3 1960.7,668.2 1961.3,671.9 1961.8,667.1 1962.4,656.3 1963.0,688.7 1963.6,676.3 1964.2,704.5 1964.8,661.1 1965.3,669.5 1965.9,683.2 1966.5,668.1 1967.1,652.8 1967.7,658.7 1968.3,672.7 1968.8,676.0 1969.4,670.2 1970.0,684.9 1970.6,684.8 1971.2,675.8 1971.8,671.9 1972.3,668.1 1972.9,678.9 1973.5,683.9 1974.1,672.4 1974.7,677.6 1975.3,667.3 1975.9,652.8 1976.4,658.3 1977.0,681.9 1977.6,677.7 1978.2,692.9 1978.8,672.5 1979.4,683.3 1979.9,689.4 1980.5,685.0 1981.1,663.7 1981.7,669.3 1982.3,673.6 1982.9,658.7 1983.4,678.2 1984.0,685.5 1984.6,665.5 1985.2,698.2 1985.8,668.1 1986.4,669.2 1986.9,668.8 1987.5,662.5 1988.1,677.6 1988.7,672.3 1989.3,694.1 1989.9,680.1 1990.5,679.2 1991.0,669.1 1991.6,653.3 1992.2,670.9 1992.8,660.8 1993.4,684.8 1994.0,671.8 1994.5,694.3 1995.1,682.0 1995.7,683.3 1996.3,675.2 1996.9,674.8 1997.5,680.6 1998.0,684.0 1998.6,662.3 1999.2,678.1 1999.8,706.2 2000.4,670.1 2001.0,667.8 2001.5,661.9 2002.1,651.7 2002.7,686.6 2003.3,671.5 2003.9,674.5 2004.5,694.9 2005.1,703.5 2005.6,658.4 2006.2,684.0 2006.8,678.2 2007.4,675.1 2008.0,676.1 2008.6,669.3 2009.1,690.5 2009.7,677.5 2010.3,673.8 2010.9,685.6 2011.5,680.8 2012.1,675.0 2012.6,673.1 2013.2,691.8 2013.8,675.2 2014.4,667.2 2015.0,656.9 2015.6,663.6 2016.1,654.2 2016.7,669.3 2017.3,671.2 2017.9,640.6 2018.5,667.8 2019.1,675.9 2019.7,669.5 2020.2,654.6 2020.8,683.7 2021.4,657.7 2022.0,650.6 2022.6,652.4 2023.2,666.3 2023.7,679.3 2024.3,681.6 2024.9,668.9 2025.5,650.3 2026.1,657.3 2026.7,654.0 2027.2,663.3 2027.8,642.2 2028.4,666.9 2029.0,673.7 2029.6,663.2 2030.2,671.1 2030.7,652.6 2031.3,645.7 2031.9,656.3 2032.5,679.7 2033.1,677.9 2033.7,658.3 2034.3,679.9 2034.8,659.8 2035.4,683.7 2036.0,670.1 2036.6,657.7 2037.2,674.0 2037.8,653.3 2038.3,651.0 2038.9,644.2 2039.5,666.4 2040.1,662.2 2040.7,661.8 2041.3,657.3 2041.8,681.3 2042.4,656.7 2043.0,652.3 2043.6,677.7 2044.2,679.6 2044.8,665.0 2045.3,637.4 2045.9,651.9 2046.5,667.3 2047.1,659.2 2047.7,678.8 2048.3,640.3 2048.9,666.6 2049.4,649.1 2050.0,674.2 2050.6,655.5 2051.2,669.5 2051.8,647.2 2052.4,636.9 2052.9,640.4 2053.5,646.5 2054.1,640.7 2054.7,669.3 2055.3,670.6 2055.9,656.4 2056.4,638.9 2057.0,650.4 2057.6,642.6 2058.2,670.1 2058.8,654.9 2059.4,656.7 2059.9,644.7 2060.5,623.4 2061.1,639.1 2061.7,634.2 2062.3,653.1 2062.9,649.1 2063.5,637.1 2064.0,642.0 2064.6,667.0 2065.2,633.8 2065.8,633.9 2066.4,642.5 2067.0,636.0 2067.5,639.1 2068.1,651.1 2068.7,666.3 2069.3,620.3 2069.9,642.8 2070.5,643.1 2071.0,641.1 2071.6,639.3 2072.2,637.4 2072.8,655.6 2073.4,637.3 2074.0,642.5 2074.5,645.0 2075.1,647.1 2075.7,644.3 2076.3,660.3 2076.9,648.0 2077.5,651.2 2078.1,649.0 2078.6,637.5 2079.2,640.6 2079.8,638.5 2080.4,655.4 2081.0,644.4 2081.6,640.7 2082.1,658.3 2082.7,662.8 2083.3,634.1 2083.9,679.4 2084.5,658.8 2085.1,657.8 2085.6,673.7 2086.2,661.7 2086.8,653.8 2087.4,690.6 2088.0,649.3 2088.6,662.7 2089.1,675.6 2089.7,651.7 2090.3,665.0 2090.9,672.1 2091.5,698.8 2092.1,657.2 2092.7,668.9 2093.2,678.7 2093.8,672.1 2094.4,656.4 2095.0,677.9 2095.6,674.8 2096.2,680.0 2096.7,689.6 2097.3,688.8 2097.9,681.8 2098.5,681.4 2099.1,664.1 2099.7,677.3 2100.2,682.6 2100.8,675.4 2101.4,682.6 2102.0,671.6 2102.6,702.6 2103.2,711.1 2103.7,678.6 2104.3,688.8 2104.9,680.7 2105.5,700.0 2106.1,689.4 2106.7,684.9 2107.3,681.1 2107.8,685.6 2108.4,671.3 2109.0,692.8 2109.6,675.1 2110.2,691.1 2110.8,686.0 2111.3,698.4 2111.9,684.3 2112.5,697.6 2113.1,672.8 2113.7,692.4 2114.3,681.9 2114.8,687.3 2115.4,685.8 2116.0,696.9 2116.6,659.2 2117.2,689.2 2117.8,666.0 2118.3,700.6 2118.9,660.1 2119.5,672.5 2120.1,664.0 2120.7,706.3 2121.3,669.1 2121.9,687.0 2122.4,678.8 2123.0,662.7 2123.6,681.4 2124.2,694.2 2124.8,683.5 2125.4,697.9 2125.9,681.4 2126.5,686.1 2127.1,681.2 2127.7,690.6 2128.3,710.4 2128.9,690.9 2129.4,688.8 2130.0,678.6 2130.6,676.9 2131.2,705.2 2131.8,672.5 2132.4,675.1 2132.9,685.5 2133.5,681.4 2134.1,711.7 2134.7,656.9 2135.3,691.6 2135.9,696.1 2136.5,672.9 2137.0,679.0 2137.6,692.7 2138.2,708.0 2138.8,675.7 2139.4,667.4 2140.0,699.8 2140.5,706.9 2141.1,683.4 2141.7,659.7 2142.3,706.1 2142.9,685.3 2143.5,702.1 2144.0,687.4 2144.6,683.3 2145.2,682.4 2145.8,706.8 2146.4,706.3 2147.0,661.3 2147.5,676.5 2148.1,710.9 2148.7,683.8 2149.3,671.5 2149.9,689.1 2150.5,688.0 2151.1,688.5 2151.6,684.0 2152.2,686.5 2152.8,685.0 2153.4,695.3 2154.0,681.2 2154.6,688.2 2155.1,690.4 2155.7,709.0 2156.3,697.6 2156.9,691.9 2157.5,700.3 2158.1,699.0 2158.6,708.0 2159.2,701.0 2159.8,717.6 2160.4,712.3 2161.0,695.2 2161.6,690.8 2162.1,707.5 2162.7,703.2 2163.3,695.9 2163.9,678.9 2164.5,674.8 2165.1,702.5 2165.7,708.2 2166.2,708.9 2166.8,683.0 2167.4,712.6 2168.0,693.2 2168.6,705.1 2169.2,705.8 2169.7,690.9 2170.3,693.9 2170.9,675.7 2171.5,690.5 2172.1,679.8 2172.7,708.2 2173.2,703.8 2173.8,714.8 2174.4,708.2 2175.0,696.2 2175.6,708.8 2176.2,699.9 2176.7,712.8 2177.3,709.4 2177.9,693.5 2178.5,706.2"/>
<polyline fill="none" stroke="#FF00FF" stroke-width="3.6" stroke-linejoin="miter" stroke-miterlimit="2" shape-rendering="crispEdges" points="134.5,732.2 135.1,738.6 135.7,738.2 136.3,754.3 136.8,722.9 137.4,756.8 138.0,744.4 138.6,773.9 139.2,774.9 139.8,781.7 140.3,771.7 140.9,758.4 141.5,773.0 142.1,783.2 142.7,748.6 143.3,768.7 143.8,758.2 144.4,781.8 145.0,745.3 145.6,753.8 146.2,764.3 146.8,762.6 147.3,732.2 147.9,764.1 148.5,756.3 149.1,754.3 149.7,755.6 150.3,761.5 150.9,728.9 151.4,782.6 152.0,743.9 152.6,721.8 153.2,756.2 153.8,780.7 154.4,749.1 154.9,782.1 155.5,782.1 156.1,743.3 156.7,717.7 157.3,737.2 157.9,775.8 158.4,743.8 159.0,732.6 159.6,735.3 160.2,756.5 160.8,756.0 161.4,770.3 161.9,772.1 162.5,741.3 163.1,753.6 163.7,737.9 164.3,757.1 164.9,737.5 165.5,736.6 166.0,789.6 166.6,756.1 167.2,765.8 167.8,795.9 168.4,767.9 169.0,753.5 169.5,756.1 170.1,743.2 170.7,772.5 171.3,749.7 171.9,783.0 172.5,749.3 173.0,749.1 173.6,747.9 174.2,764.5 174.8,757.4 175.4,776.2 176.0,745.5 176.5,758.8 177.1,785.0 177.7,750.2 178.3,762.4 178.9,778.9 179.5,762.6 180.1,743.6 180.6,720.8 181.2,791.7 181.8,760.3 182.4,773.5 183.0,745.7 183.6,782.2 184.1,761.4 184.7,753.8 185.3,738.6 185.9,758.7 186.5,745.0 187.1,749.2 187.6,726.8 188.2,744.7 188.8,755.0 189.4,732.5 190.0,753.5 190.6,762.8 191.1,747.2 191.7,742.2 192.3,742.1 192.9,766.8 193.5,727.4 194.1,746.9 194.7,744.9 195.2,753.8 195.8,750.3 196.4,733.7 197.0,783.7 197.6,754.0 198.2,729.8 198.7,736.9 199.3,752.5 199.9,760.6 200.5,729.4 201.1,762.0 201.7,728.8 202.2,737.9 202.8,764.0 203.4,777.4 204.0,748.9 204.6,745.3 205.2,770.3 205.7,733.0 206.3,754.4 206.9,753.6 207.5,765.8 208.1,754.4 208.7,745.4 209.3,759.3 209.8,731.5 210.4,762.3 211.0,738.6 211.6,734.7 212.2,743.3 212.8,749.8 213.3,760.2 213.9,745.5 214.5,760.5 215.1,764.2 215.7,746.9 216.3,732.9 216.8,763.1 217.4,752.7 218.0,714.7 218.6,732.5 219.2,750.4 219.8,726.2 220.3,737.1 220.9,720.7 221.5,754.2 222.1,751.6 222.7,750.6 223.3,770.9 223.9,742.5 224.4,743.6 225.0,780.3 225.6,727.7 226.2,760.1 226.8,727.7 227.4,752.4 227.9,782.4 228.5,753.2 229.1,736.8 229.7,787.0 230.3,740.6 230.9,746.1 231.4,754.3 232.0,728.3 232.6,767.4 233.2,775.4 233.8,761.9 234.4,755.2 234.9,747.7 235.5,764.3 236.1,700.4 236.7,748.4 237.3,754.6 237.9,719.2 238.5,757.5 239.0,748.8 239.6,750.4 240.2,752.7 240.8,760.3 241.4,758.5 242.0,735.0 242.5,749.6 243.1,748.7 243.7,752.3 244.3,742.5 244.9,767.3 245.5,772.7 246.0,776.2 246.6,782.4 247.2,776.0 247.8,745.2 248.4,742.8 249.0,746.4 249.5,761.6 250.1,750.8 250.7,768.7 251.3,779.2 251.9,746.4 252.5,768.8 253.1,747.2 253.6,733.5 254.2,733.6 254.8,748.7 255.4,723.8 256.0,761.9 256.6,778.0 257.1,735.8 257.7,749.0 258.3,778.8 258.9,760.0 259.5,757.7 260.1,750.6 260.6,771.0 261.2,760.2 261.8,737.9 262.4,716.7 263.0,712.9 263.6,765.8 264.1,751.3 264.7,778.5 265.3,763.8 265.9,735.7 266.5,760.5 267.1,774.9 267.7,741.9 268.2,748.2 268.8,783.9 269.4,728.9 270.0,739.3 270.6,773.3 271.2,759.9 271.7,738.8 272.3,734.0 272.9,764.4 273.5,776.4 274.1,770.4 274.7,763.9 275.2,781.2 275.8,762.6 276.4,744.6 277.0,790.0 277.6,738.5 278.2,755.9 278.7,757.0 279.3,780.9 279.9,746.3 280.5,754.1 281.1,730.5 281.7,764.0 282.3,765.9 282.8,769.2 283.4,744.4 284.0,762.9 284.6,745.3 285.2,751.8 285.8,758.2 286.3,780.0 286.9,752.7 287.5,762.5 288.1,746.5 288.7,751.0 289.3,749.0 289.8,757.7 290.4,772.4 291.0,742.9 291.6,771.8 292.2,745.5 292.8,765.9 293.3,752.0 293.9,756.1 294.5,754.7 295.1,778.3 295.7,765.1 296.3,778.1 296.9,755.5 297.4,757.6 298.0,786.8 298.6,735.5 299.2,747.7 299.8,758.9 300.4,790.5 300.9,752.3 301.5,774.5 302.1,787.0 302.7,758.5 303.3,759.6 303.9,788.8 304.4,753.8 305.0,746.0 305.6,775.8 306.2,754.7 306.8,783.4 307.4,771.5 307.9,735.5 308.5,767.7 309.1,763.6 309.7,753.0 310.3,781.0 310.9,735.8 311.5,744.1 312.0,756.1 312.6,776.5 313.2,739.8 313.8,754.0 314.4,752.8 315.0,740.3 315.5,758.0 316.1,746.0 316.7,756.9 317.3,768.6 317.9,749.7 318.5,750.3 319.0,748.5 319.6,750.7 320.2,739.4 320.8,745.5 321.4,766.0 322.0,750.3 322.5,815.7 323.1,751.4 323.7,771.5 324.3,740.5 324.9,760.0 325.5,755.7 326.1,763.1 326.6,785.4 327.2,761.8 327.8,745.4 328.4,766.4 329.0,749.3 329.6,762.7 330.1,789.9 330.7,779.8 331.3,782.0 331.9,773.4 332.5,764.8 333.1,740.8 333.6,757.7 334.2,756.8 334.8,776.0 335.4,781.0 336.0,772.9 336.6,752.9 337.1,794.5 337.7,787.8 338.3,762.1 338.9,768.6 339.5,775.6 340.1,767.2 340.7,764.0 341.2,773.4 341.8,765.8 342.4,768.9 343.0,740.4 343.6,740.5 344.2,793.0 344.7,741.8 345.3,773.4 345.9,770.8 346.5,769.3 347.1,754.9 347.7,781.8 348.2,771.4 348.8,760.5 349.4,743.8 350.0,762.3 350.6,756.6 351.2,746.2 351.7,772.0 352.3,775.2 352.9,779.2 353.5,768.0 354.1,762.4 354.7,784.1 355.3,778.4 355.8,802.6 356.4,775.2 357.0,751.8 357.6,781.7 358.2,803.2 358.8,771.0 359.3,763.9 359.9,757.4 360.5,796.8 361.1,764.0 361.7,763.1 362.3,771.8 362.8,744.7 363.4,762.8 364.0,747.2 364.6,765.0 365.2,775.0 365.8,781.8 366.3,760.8 366.9,780.2 367.5,761.2 368.1,741.5 368.7,776.5 369.3,764.3 369.9,769.3 370.4,726.5 371.0,771.0 371.6,771.7 372.2,771.7 372.8,784.2 373.4,762.3 373.9,801.7 374.5,779.5 375.1,776.7 375.7,729.0 376.3,737.3 376.9,791.8 377.4,774.5 378.0,783.0 378.6,762.5 379.2,766.7 379.8,777.8 380.4,756.3 380.9,789.5 381.5,751.5 382.1,772.4 382.7,764.8 383.3,774.6 383.9,788.7 384.5,751.7 385.0,776.4 385.6,771.3 386.2,782.7 386.8,769.2 387.4,761.9 388.0,777.5 388.5,790.5 389.1,782.5 389.7,772.2 390.3,776.5 390.9,745.7 391.5,761.4 392.0,766.0 392.6,761.5 393.2,759.0 393.8,769.2 394.4,776.3 395.0,800.4 395.5,759.1 396.1,755.9 396.7,785.7 397.3,772.5 397.9,756.2 398.5,794.1 399.1,766.9 399.6,765.1 400.2,760.6 400.8,755.8 401.4,771.8 402.0,755.2 402.6,808.5 403.1,775.4 403.7,766.3 404.3,758.0 404.9,774.1 405.5,785.6 406.1,773.8 406.6,752.2 407.2,766.3 407.8,743.3 408.4,792.3 409.0,780.6 409.6,773.1 410.1,774.5 410.7,761.1 411.3,767.6 411.9,784.9 412.5,769.3 413.1,779.1 413.7,773.4 414.2,773.6 414.8,775.0 415.4,786.3 416.0,765.5 416.6,780.7 417.2,757.8 417.7,761.1 418.3,759.0 418.9,783.5 419.5,765.5 420.1,789.4 420.7,754.4 421.2,776.3 421.8,752.4 422.4,787.9 423.0,759.6 423.6,777.5 424.2,759.7 424.7,758.5 425.3,774.2 425.9,743.8 426.5,751.9 427.1,794.0 427.7,757.7 428.3,783.2 428.8,757.1 429.4,745.0 430.0,764.1 430.6,784.0 431.2,770.2 431.8,766.0 432.3,783.9 432.9,758.7 433.5,781.8 434.1,775.4 434.7,754.6 435.3,784.9 435.8,788.0 436.4,766.7 437.0,772.4 437.6,766.2 438.2,753.0 438.8,782.8 439.3,754.8 439.9,778.6 440.5,762.2 441.1,754.5 441.7,780.0 442.3,774.1 442.9,799.1 443.4,769.3 444.0,772.8 444.6,772.3 445.2,766.6 445.8,791.0 446.4,793.9 446.9,781.1 447.5,754.9 448.1,777.6 448.7,771.6 449.3,763.7 449.9,746.6 450.4,784.5 451.0,789.4 451.6,775.6 452.2,777.9 452.8,798.1 453.4,800.9 453.9,774.3 454.5,726.5 455.1,781.9 455.7,773.2 456.3,781.5 456.9,762.9 457.5,755.3 458.0,778.8 458.6,766.2 459.2,772.5 459.8,777.3 460.4,772.5 461.0,748.5 461.5,779.7 462.1,763.2 462.7,767.5 463.3,777.3 463.9,748.2 464.5,766.6 465.0,742.3 465.6,762.0 466.2,775.8 466.8,768.3 467.4,766.0 468.0,779.2 468.5,764.0 469.1,745.4 469.7,786.6 470.3,773.2 470.9,782.1 471.5,763.5 472.1,763.0 472.6,758.2 473.2,739.8 473.8,762.3 474.4,760.2 475.0,793.9 475.6,739.9 476.1,769.7 476.7,766.4 477.3,767.9 477.9,766.7 478.5,772.3 479.1,782.1 479.6,743.3 480.2,781.7 480.8,764.4 481.4,753.4 482.0,739.9 482.6,740.3 483.1,767.3 483.7,751.1 484.3,751.0 484.9,760.8 485.5,768.7 486.1,761.1 486.7,750.9 487.2,758.8 487.8,765.8 488.4,752.3 489.0,782.6 489.6,788.3 490.2,788.7 490.7,763.8 491.3,763.6 491.9,754.7 492.5,790.2 493.1,761.7 493.7,802.7 494.2,737.6 494.8,772.6 495.4,777.0 496.0,769.3 496.6,778.3 497.2,800.1 497.7,768.7 498.3,782.1 498.9,762.5 499.5,750.2 500.1,753.2 500.7,782.5 501.3,774.5 501.8,747.5 502.4,774.5 503.0,779.0 503.6,777.2 504.2,787.2 504.8,747.4 505.3,755.3 505.9,753.4 506.5,772.2 507.1,790.1 507.7,763.2 508.3,775.3 508.8,783.5 509.4,763.0 510.0,782.6 510.6,768.4 511.2,797.4 511.8,791.8 512.3,763.4 512.9,762.1 513.5,798.8 514.1,757.1 514.7,788.3 515.3,764.2 515.9,752.7 516.4,797.2 517.0,777.3 517.6,754.7 518.2,767.0 518.8,759.3 519.4,755.7 519.9,769.0 520.5,787.5 521.1,748.9 521.7,778.3 522.3,748.2 522.9,769.5 523.4,748.3 524.0,749.9 524.6,759.8 525.2,785.6 525.8,783.1 526.4,768.0 526.9,765.2 527.5,771.7 528.1,813.1 528.7,774.8 529.3,767.2 529.9,761.5 530.5,763.9 531.0,778.1 531.6,777.2 532.2,731.3 532.8,800.2 533.4,774.4 534.0,765.9 534.5,808.4 535.1,743.1 535.7,747.4 536.3,783.7 536.9,766.3 537.5,779.7 538.0,784.7 538.6,793.8 539.2,775.7 539.8,755.4 540.4,739.1 541.0,766.8 541.5,737.4 542.1,765.2 542.7,751.7 543.3,769.7 543.9,774.3 544.5,762.7 545.1,741.9 545.6,765.2 546.2,751.5 546.8,767.2 547.4,755.1 548.0,798.0 548.6,753.3 549.1,731.8 549.7,747.2 550.3,762.3 550.9,803.7 551.5,782.2 552.1,751.2 552.6,760.2 553.2,741.3 553.8,737.1 554.4,774.0 555.0,765.6 555.6,747.4 556.1,747.7 556.7,765.1 557.3,768.8 557.9,745.7 558.5,731.1 559.1,771.0 559.7,745.1 560.2,727.7 560.8,752.5 561.4,758.2 562.0,769.3 562.6,747.1 563.2,757.6 563.7,733.2 564.3,759.4 564.9,727.8 565.5,760.5 566.1,753.2 566.7,726.5 567.2,739.8 567.8,774.7 568.4,732.1 569.0,722.4 569.6,742.9 570.2,749.4 570.7,759.0 571.3,743.5 571.9,738.1 572.5,741.1 573.1,756.1 573.7,740.9 574.3,751.7 574.8,715.0 575.4,736.5 576.0,740.1 576.6,757.0 577.2,747.6 577.8,743.2 578.3,756.1 578.9,741.5 579.5,786.4 580.1,722.5 580.7,737.2 581.3,762.6 581.8,745.0 582.4,736.5 583.0,746.1 583.6,722.1 584.2,729.9 584.8,729.6 585.3,755.6 585.9,729.5 586.5,755.3 587.1,721.6 587.7,724.9 588.3,693.2 588.9,728.0 589.4,686.5 590.0,726.2 590.6,729.8 591.2,719.6 591.8,695.9 592.4,706.5 592.9,668.6 593.5,697.2 594.1,710.7 594.7,705.9 595.3,698.9 595.9,723.5 596.4,707.5 597.0,700.8 597.6,702.5 598.2,681.9 598.8,694.3 599.4,665.5 599.9,651.9 600.5,687.8 601.1,706.2 601.7,673.7 602.3,695.5 602.9,661.3 603.5,686.6 604.0,686.0 604.6,684.4 605.2,661.1 605.8,690.6 606.4,691.6 607.0,688.0 607.5,715.2 608.1,675.2 608.7,684.2 609.3,700.6 609.9,661.7 610.5,668.9 611.0,700.5 611.6,678.7 612.2,672.3 612.8,692.8 613.4,664.8 614.0,688.5 614.5,670.8 615.1,677.3 615.7,647.0 616.3,691.7 616.9,692.8 617.5,686.7 618.1,679.8 618.6,694.2 619.2,714.3 619.8,706.9 620.4,684.2 621.0,700.6 621.6,694.8 622.1,708.8 622.7,689.9 623.3,726.9 623.9,693.7 624.5,692.2 625.1,714.6 625.6,736.3 626.2,687.0 626.8,715.5 627.4,726.1 628.0,759.6 628.6,696.8 629.1,739.0 629.7,712.2 630.3,720.1 630.9,741.6 631.5,729.6 632.1,709.5 632.7,728.8 633.2,728.0 633.8,738.4 634.4,722.0 635.0,726.2 635.6,732.0 636.2,737.9 636.7,735.3 637.3,744.9 637.9,748.5 638.5,744.1 639.1,729.3 639.7,716.0 640.2,726.5 640.8,730.0 641.4,736.8 642.0,755.1 642.6,740.2 643.2,727.1 643.7,721.8 644.3,740.5 644.9,738.7 645.5,726.7 646.1,718.2 646.7,738.4 647.3,750.0 647.8,747.6 648.4,722.6 649.0,738.5 649.6,742.3 650.2,730.5 650.8,744.1 651.3,735.7 651.9,759.6 652.5,735.6 653.1,770.5 653.7,761.4 654.3,752.0 654.8,750.4 655.4,768.1 656.0,741.3 656.6,753.4 657.2,743.4 657.8,770.7 658.3,742.8 658.9,743.6 659.5,707.3 660.1,751.4 660.7,742.2 661.3,756.4 661.9,725.5 662.4,734.6 663.0,767.9 663.6,736.3 664.2,751.1 664.8,762.2 665.4,749.5 665.9,749.3 666.5,766.9 667.1,740.5 667.7,757.4 668.3,744.7 668.9,731.7 669.4,749.7 670.0,769.3 670.6,746.6 671.2,738.6 671.8,746.2 672.4,742.0 672.9,757.3 673.5,734.3 674.1,763.4 674.7,756.1 675.3,768.5 675.9,743.0 676.5,764.4 677.0,734.9 677.6,759.4 678.2,746.8 678.8,733.3 679.4,762.5 680.0,772.7 680.5,777.8 681.1,757.6 681.7,747.1 682.3,773.4 682.9,736.5 683.5,753.2 684.0,728.6 684.6,753.4 685.2,755.2 685.8,745.1 686.4,767.4 687.0,749.5 687.5,758.8 688.1,759.9 688.7,749.9 689.3,712.8 689.9,745.6 690.5,754.4 691.1,736.5 691.6,752.8 692.2,729.4 692.8,761.7 693.4,761.7 694.0,758.5 694.6,745.0 695.1,756.9 695.7,733.3 696.3,740.6 696.9,759.1 697.5,742.4 698.1,748.9 698.6,752.5 699.2,769.0 699.8,742.6 700.4,744.4 701.0,742.3 701.6,727.7 702.1,755.6 702.7,721.1 703.3,740.1 703.9,772.0 704.5,752.3 705.1,717.6 705.7,736.6 706.2,777.1 706.8,747.3 707.4,779.6 708.0,742.9 708.6,714.1 709.2,755.1 709.7,747.4 710.3,755.1 710.9,734.7 711.5,734.3 712.1,741.4 712.7,734.1 713.2,763.2 713.8,767.0 714.4,746.7 715.0,764.2 715.6,739.1 716.2,744.9 716.7,724.1 717.3,768.4 717.9,741.1 718.5,768.3 719.1,768.1 719.7,757.1 720.3,752.6 720.8,733.4 721.4,762.1 722.0,758.3 722.6,765.7 723.2,754.2 723.8,730.2 724.3,731.5 724.9,762.9 725.5,773.5 726.1,744.6 726.7,747.3 727.3,753.1 727.8,751.3 728.4,752.5 729.0,743.9 729.6,750.6 730.2,738.9 730.8,745.7 731.3,757.4 731.9,747.9 732.5,737.4 733.1,751.2 733.7,730.0 734.3,736.6 734.9,730.5 735.4,750.5 736.0,755.8 736.6,740.4 737.2,732.3 737.8,752.9 738.4,749.4 738.9,721.7 739.5,760.0 740.1,759.2 740.7,741.2 741.3,743.8 741.9,743.2 742.4,737.4 743.0,751.0 743.6,733.3 744.2,739.5 744.8,746.1 745.4,718.3 745.9,735.8 746.5,724.5 747.1,736.2 747.7,735.2 748.3,739.7 748.9,744.6 749.5,726.8 750.0,746.4 750.6,715.9 751.2,755.7 751.8,740.2 752.4,753.2 753.0,712.2 753.5,761.8 754.1,736.4 754.7,745.7 755.3,742.2 755.9,739.4 756.5,733.3 757.0,710.0 757.6,759.0 758.2,768.3 758.8,731.0 759.4,760.4 760.0,754.3 760.5,745.4 761.1,738.0 761.7,749.0 762.3,730.2 762.9,735.0 763.5,732.0 764.1,728.8 764.6,731.8 765.2,749.2 765.8,750.3 766.4,728.0 767.0,739.1 767.6,737.3 768.1,714.0 768.7,757.1 769.3,723.7 769.9,757.4 770.5,705.2 771.1,728.6 771.6,751.9 772.2,747.1 772.8,748.1 773.4,739.9 774.0,771.6 774.6,741.6 775.1,745.7 775.7,729.7 776.3,728.6 776.9,761.4 777.5,761.5 778.1,713.5 778.7,732.4 779.2,759.8 779.8,742.2 780.4,755.6 781.0,713.6 781.6,743.8 782.2,741.2 782.7,742.0 783.3,731.2 783.9,740.5 784.5,767.9 785.1,724.7 785.7,740.0 786.2,736.4 786.8,737.0 787.4,768.4 788.0,765.1 788.6,735.5 789.2,749.1 789.7,728.7 790.3,746.0 790.9,735.4 791.5,763.5 792.1,748.0 792.7,725.1 793.3,713.8 793.8,724.1 794.4,773.1 795.0,726.2 795.6,719.5 796.2,730.7 796.8,733.5 797.3,750.4 797.9,729.5 798.5,766.3 799.1,741.1 799.7,745.6 800.3,762.6 800.8,743.8 801.4,745.9 802.0,750.8 802.6,730.0 803.2,732.9 803.8,751.3 804.3,729.1 804.9,732.3 805.5,755.2 806.1,750.0 806.7,746.1 807.3,723.7 807.9,770.9 808.4,738.6 809.0,736.1 809.6,738.1 810.2,728.1 810.8,736.7 811.4,771.1 811.9,717.9 812.5,774.7 813.1,726.3 813.7,726.2 814.3,761.3 814.9,769.6 815.4,734.5 816.0,753.1 816.6,728.6 817.2,734.9 817.8,728.8 818.4,742.2 818.9,730.2 819.5,742.0 820.1,734.7 820.7,739.8 821.3,740.7 821.9,729.4 822.5,733.7 823.0,722.0 823.6,746.8 824.2,750.2 824.8,733.2 825.4,734.2 826.0,730.0 826.5,731.2 827.1,740.1 827.7,712.2 828.3,715.5 828.9,738.3 829.5,750.4 830.0,726.4 830.6,748.7 831.2,750.7 831.8,737.9 832.4,769.6 833.0,734.2 833.5,737.8 834.1,718.6 834.7,720.0 835.3,736.8 835.9,743.7 836.5,731.7 837.1,733.8 837.6,736.0 838.2,745.5 838.8,708.4 839.4,745.6 840.0,720.8 840.6,740.6 841.1,744.8 841.7,711.8 842.3,749.2 842.9,733.2 843.5,724.0 844.1,758.5 844.6,712.6 845.2,708.7 845.8,733.9 846.4,737.4 847.0,727.4 847.6,739.1 848.1,695.1 848.7,745.1 849.3,732.7 849.9,713.8 850.5,711.9 851.1,736.7 851.7,735.6 852.2,719.7 852.8,731.1 853.4,729.9 854.0,745.4 854.6,715.3 855.2,744.2 855.7,730.6 856.3,729.7 856.9,736.8 857.5,721.5 858.1,707.3 858.7,704.0 859.2,743.5 859.8,702.2 860.4,743.5 861.0,717.3 861.6,744.1 862.2,713.8 862.7,732.0 863.3,730.1 863.9,738.8 864.5,721.1 865.1,733.6 865.7,750.3 866.3,706.4 866.8,741.9 867.4,710.6 868.0,740.8 868.6,720.5 869.2,747.6 869.8,722.1 870.3,718.3 870.9,741.2 871.5,721.9 872.1,722.4 872.7,739.6 873.3,746.5 873.8,738.0 874.4,696.7 875.0,730.0 875.6,729.3 876.2,737.7 876.8,740.5 877.3,739.9 877.9,731.9 878.5,754.7 879.1,722.4 879.7,714.6 880.3,705.7 880.9,718.7 881.4,735.8 882.0,724.6 882.6,744.9 883.2,723.9 883.8,715.9 884.4,746.1 884.9,720.1 885.5,739.6 886.1,688.9 886.7,702.2 887.3,713.3 887.9,705.2 888.4,723.7 889.0,720.7 889.6,722.4 890.2,705.4 890.8,705.2 891.4,707.8 891.9,738.9 892.5,712.0 893.1,729.1 893.7,702.8 894.3,693.3 894.9,715.6 895.5,727.3 896.0,687.8 896.6,703.9 897.2,720.4 897.8,706.7 898.4,705.6 899.0,720.8 899.5,711.3 900.1,711.0 900.7,700.4 901.3,711.4 901.9,699.3 902.5,727.2 903.0,660.2 903.6,706.9 904.2,715.5 904.8,690.2 905.4,712.5 906.0,692.7 906.5,713.0 907.1,726.6 907.7,698.2 908.3,734.0 908.9,700.3 909.5,664.4 910.1,693.6 910.6,700.9 911.2,701.8 911.8,697.7 912.4,703.1 913.0,694.1 913.6,716.0 914.1,700.6 914.7,693.3 915.3,721.8 915.9,675.5 916.5,666.0 917.1,683.2 917.6,655.2 918.2,699.7 918.8,687.3 919.4,722.3 920.0,677.0 920.6,672.7 921.1,699.8 921.7,698.7 922.3,698.6 922.9,679.8 923.5,679.2 924.1,695.4 924.7,684.6 925.2,694.8 925.8,702.4 926.4,681.2 927.0,693.3 927.6,656.2 928.2,707.4 928.7,706.0 929.3,685.8 929.9,679.7 930.5,684.7 931.1,685.9 931.7,680.9 932.2,672.0 932.8,685.3 933.4,698.4 934.0,652.0 934.6,672.2 935.2,667.1 935.7,661.9 936.3,678.3 936.9,647.0 937.5,673.5 938.1,692.7 938.7,694.0 939.3,691.4 939.8,687.0 940.4,694.8 941.0,685.6 941.6,691.2 942.2,695.4 942.8,707.3 943.3,701.3 943.9,699.8 944.5,665.6 945.1,692.0 945.7,691.1 946.3,681.4 946.8,674.6 947.4,699.9 948.0,692.1 948.6,687.0 949.2,675.9 949.8,681.5 950.3,685.4 950.9,698.1 951.5,718.1 952.1,697.5 952.7,666.1 953.3,702.0 953.9,703.0 954.4,681.9 955.0,678.0 955.6,698.0 956.2,709.3 956.8,704.9 957.4,722.2 957.9,698.0 958.5,700.6 959.1,688.3 959.7,715.8 960.3,705.1 960.9,710.7 961.4,670.0 962.0,677.4 962.6,709.0 963.2,712.9 963.8,698.2 964.4,700.2 964.9,715.6 965.5,693.6 966.1,706.0 966.7,692.3 967.3,697.9 967.9,718.9 968.5,681.9 969.0,696.8 969.6,671.8 970.2,713.2 970.8,711.8 971.4,751.3 972.0,704.0 972.5,713.5 973.1,726.5 973.7,721.0 974.3,707.4 974.9,729.9 975.5,672.7 976.0,719.7 976.6,702.3 977.2,702.2 977.8,698.6 978.4,719.1 979.0,699.6 979.5,717.1 980.1,740.5 980.7,705.2 981.3,717.5 981.9,707.6 982.5,697.6 983.1,725.6 983.6,735.3 984.2,708.2 984.8,719.0 985.4,716.6 986.0,708.3 986.6,731.4 987.1,690.7 987.7,741.9 988.3,712.7 988.9,746.5 989.5,728.6 990.1,720.5 990.6,697.6 991.2,703.2 991.8,732.4 992.4,712.2 993.0,736.0 993.6,704.7 994.1,739.2 994.7,723.5 995.3,729.8 995.9,711.4 996.5,718.3 997.1,732.1 997.7,727.3 998.2,711.3 998.8,728.5 999.4,704.2 1000.0,755.3 1000.6,734.4 1001.2,719.2 1001.7,722.3 1002.3,712.2 1002.9,728.5 1003.5,687.7 1004.1,727.4 1004.7,752.5 1005.2,697.8 1005.8,730.9 1006.4,720.7 1007.0,726.6 1007.6,712.4 1008.2,743.9 1008.7,711.2 1009.3,744.3 1009.9,746.1 1010.5,734.1 1011.1,739.8 1011.7,703.2 1012.3,722.3 1012.8,696.0 1013.4,741.5 1014.0,749.4 1014.6,711.3 1015.2,736.3 1015.8,730.2 1016.3,706.3 1016.9,729.1 1017.5,735.7 1018.1,749.3 1018.7,733.6 1019.3,745.0 1019.8,764.0 1020.4,752.9 1021.0,725.4 1021.6,744.9 1022.2,762.2 1022.8,777.8 1023.3,749.9 1023.9,756.2 1024.5,752.6 1025.1,769.8 1025.7,753.9 1026.3,756.4 1026.9,727.7 1027.4,736.4 1028.0,719.1 1028.6,728.8 1029.2,746.5 1029.8,758.5 1030.4,758.1 1030.9,749.9 1031.5,774.7 1032.1,725.1 1032.7,743.5 1033.3,765.8 1033.9,750.0 1034.4,747.3 1035.0,759.3 1035.6,734.9 1036.2,735.5 1036.8,740.5 1037.4,773.1 1037.9,727.7 1038.5,737.7 1039.1,779.7 1039.7,752.6 1040.3,743.2 1040.9,720.2 1041.5,749.7 1042.0,747.0 1042.6,761.5 1043.2,735.5 1043.8,738.1 1044.4,760.4 1045.0,734.2 1045.5,771.6 1046.1,746.1 1046.7,754.9 1047.3,740.5 1047.9,773.7 1048.5,741.0 1049.0,768.8 1049.6,742.4 1050.2,755.8 1050.8,737.7 1051.4,761.6 1052.0,773.4 1052.5,743.4 1053.1,777.7 1053.7,752.7 1054.3,740.7 1054.9,755.5 1055.5,745.3 1056.1,755.4 1056.6,745.0 1057.2,729.5 1057.8,770.5 1058.4,756.1 1059.0,747.8 1059.6,761.8 1060.1,733.3 1060.7,749.9 1061.3,763.7 1061.9,773.7 1062.5,756.3 1063.1,765.7 1063.6,727.7 1064.2,752.4 1064.8,764.9 1065.4,771.3 1066.0,734.8 1066.6,774.5 1067.1,787.2 1067.7,754.0 1068.3,726.0 1068.9,760.3 1069.5,759.7 1070.1,743.5 1070.7,769.6 1071.2,775.2 1071.8,734.4 1072.4,733.4 1073.0,751.9 1073.6,765.2 1074.2,729.3 1074.7,735.6 1075.3,742.5 1075.9,734.2 1076.5,742.2 1077.1,759.7 1077.7,732.2 1078.2,755.2 1078.8,744.5 1079.4,740.2 1080.0,723.7 1080.6,746.9 1081.2,751.0 1081.7,731.4 1082.3,756.0 1082.9,757.0 1083.5,744.6 1084.1,729.4 1084.7,740.4 1085.3,755.3 1085.8,754.7 1086.4,740.0 1087.0,737.9 1087.6,751.7 1088.2,750.3 1088.8,755.2 1089.3,724.4 1089.9,738.2 1090.5,752.0 1091.1,727.8 1091.7,739.2 1092.3,726.0 1092.8,749.6 1093.4,753.9 1094.0,726.4 1094.6,767.2 1095.2,744.3 1095.8,727.0 1096.3,738.1 1096.9,723.1 1097.5,743.8 1098.1,725.8 1098.7,714.6 1099.3,722.5 1099.9,707.0 1100.4,691.3 1101.0,702.7 1101.6,729.8 1102.2,712.9 1102.8,725.5 1103.4,710.9 1103.9,713.5 1104.5,715.4 1105.1,720.0 1105.7,690.5 1106.3,689.1 1106.9,698.7 1107.4,717.4 1108.0,695.4 1108.6,685.5 1109.2,682.7 1109.8,678.2 1110.4,669.6 1110.9,687.8 1111.5,698.7 1112.1,672.6 1112.7,644.8 1113.3,636.0 1113.9,686.0 1114.5,629.7 1115.0,684.4 1115.6,653.9 1116.2,641.4 1116.8,651.8 1117.4,636.4 1118.0,656.0 1118.5,622.0 1119.1,630.2 1119.7,614.8 1120.3,626.6 1120.9,627.5 1121.5,593.9 1122.0,586.1 1122.6,620.3 1123.2,614.0 1123.8,606.3 1124.4,586.2 1125.0,576.5 1125.5,575.3 1126.1,586.7 1126.7,569.2 1127.3,565.9 1127.9,582.0 1128.5,596.3 1129.1,595.2 1129.6,566.5 1130.2,574.6 1130.8,560.4 1131.4,554.0 1132.0,542.8 1132.6,530.4 1133.1,526.8 1133.7,532.4 1134.3,544.3 1134.9,499.1 1135.5,504.9 1136.1,491.0 1136.6,511.7 1137.2,531.8 1137.8,498.3 1138.4,467.4 1139.0,487.5 1139.6,508.5 1140.1,468.4 1140.7,446.6 1141.3,450.1 1141.9,484.8 1142.5,452.8 1143.1,504.4 1143.7,450.3 1144.2,484.6 1144.8,470.6 1145.4,509.5 1146.0,512.9 1146.6,527.2 1147.2,539.2 1147.7,527.2 1148.3,549.6 1148.9,544.4 1149.5,561.6 1150.1,578.7 1150.7,578.1 1151.2,571.8 1151.8,580.9 1152.4,591.0 1153.0,600.0 1153.6,607.2 1154.2,650.4 1154.7,647.3 1155.3,644.4 1155.9,664.6 1156.5,656.7 1157.1,647.0 1157.7,675.0 1158.3,669.4 1158.8,634.3 1159.4,698.8 1160.0,666.8 1160.6,645.8 1161.2,691.9 1161.8,676.9 1162.3,679.5 1162.9,700.0 1163.5,691.2 1164.1,682.3 1164.7,679.5 1165.3,676.5 1165.8,671.3 1166.4,652.9 1167.0,686.7 1167.6,670.1 1168.2,666.8 1168.8,676.6 1169.3,653.5 1169.9,655.0 1170.5,668.1 1171.1,652.6 1171.7,637.6 1172.3,635.8 1172.9,689.9 1173.4,637.9 1174.0,675.0 1174.6,630.4 1175.2,643.5 1175.8,629.2 1176.4,617.4 1176.9,628.5 1177.5,662.0 1178.1,620.1 1178.7,615.6 1179.3,634.8 1179.9,613.6 1180.4,615.5 1181.0,605.4 1181.6,639.0 1182.2,634.8 1182.8,592.7 1183.4,638.4 1183.9,627.0 1184.5,631.0 1185.1,623.4 1185.7,639.0 1186.3,646.6 1186.9,627.9 1187.5,641.1 1188.0,642.4 1188.6,633.4 1189.2,638.9 1189.8,646.9 1190.4,662.5 1191.0,643.4 1191.5,655.3 1192.1,671.8 1192.7,679.4 1193.3,641.4 1193.9,667.3 1194.5,663.1 1195.0,661.0 1195.6,660.8 1196.2,697.2 1196.8,689.8 1197.4,674.1 1198.0,681.5 1198.5,680.1 1199.1,679.5 1199.7,694.9 1200.3,677.8 1200.9,695.7 1201.5,666.4 1202.1,691.3 1202.6,687.1 1203.2,681.8 1203.8,696.9 1204.4,693.9 1205.0,688.5 1205.6,712.9 1206.1,693.5 1206.7,693.6 1207.3,689.8 1207.9,713.9 1208.5,712.8 1209.1,667.6 1209.6,688.8 1210.2,707.6 1210.8,717.0 1211.4,711.9 1212.0,704.4 1212.6,727.3 1213.1,700.7 1213.7,710.4 1214.3,710.2 1214.9,712.9 1215.5,699.1 1216.1,709.4 1216.7,724.0 1217.2,729.4 1217.8,727.8 1218.4,724.0 1219.0,714.7 1219.6,728.4 1220.2,720.0 1220.7,723.4 1221.3,728.7 1221.9,712.1 1222.5,732.4 1223.1,741.1 1223.7,704.1 1224.2,723.1 1224.8,723.4 1225.4,751.6 1226.0,732.0 1226.6,739.9 1227.2,742.7 1227.7,722.6 1228.3,716.1 1228.9,751.0 1229.5,754.2 1230.1,749.6 1230.7,749.8 1231.3,729.5 1231.8,730.4 1232.4,741.5 1233.0,751.5 1233.6,738.9 1234.2,740.2 1234.8,752.2 1235.3,768.5 1235.9,725.6 1236.5,745.3 1237.1,728.7 1237.7,725.4 1238.3,766.9 1238.8,738.3 1239.4,758.4 1240.0,769.9 1240.6,765.0 1241.2,742.8 1241.8,762.6 1242.3,757.0 1242.9,748.5 1243.5,754.1 1244.1,751.4 1244.7,773.1 1245.3,759.1 1245.9,753.9 1246.4,765.5 1247.0,765.8 1247.6,768.8 1248.2,774.5 1248.8,750.7 1249.4,753.8 1249.9,777.2 1250.5,752.4 1251.1,771.9 1251.7,732.0 1252.3,762.4 1252.9,751.1 1253.4,760.3 1254.0,769.1 1254.6,736.6 1255.2,743.0 1255.8,763.8 1256.4,748.3 1256.9,767.9 1257.5,766.1 1258.1,751.0 1258.7,778.3 1259.3,775.8 1259.9,772.2 1260.5,758.6 1261.0,759.3 1261.6,747.6 1262.2,738.9 1262.8,762.5 1263.4,777.7 1264.0,764.6 1264.5,776.4 1265.1,761.0 1265.7,762.7 1266.3,763.3 1266.9,786.2 1267.5,754.1 1268.0,760.7 1268.6,780.9 1269.2,784.1 1269.8,779.5 1270.4,807.3 1271.0,770.0 1271.5,772.2 1272.1,764.4 1272.7,767.8 1273.3,796.2 1273.9,786.5 1274.5,767.3 1275.1,789.9 1275.6,759.0 1276.2,796.8 1276.8,766.4 1277.4,782.7 1278.0,753.5 1278.6,773.6 1279.1,765.6 1279.7,768.0 1280.3,769.5 1280.9,747.8 1281.5,748.2 1282.1,789.5 1282.6,754.5 1283.2,739.8 1283.8,776.3 1284.4,770.2 1285.0,772.3 1285.6,763.8 1286.1,779.1 1286.7,782.3 1287.3,766.7 1287.9,775.1 1288.5,742.8 1289.1,765.7 1289.7,756.8 1290.2,753.5 1290.8,782.0 1291.4,739.5 1292.0,772.0 1292.6,749.7 1293.2,783.6 1293.7,770.2 1294.3,780.6 1294.9,764.6 1295.5,748.3 1296.1,801.0 1296.7,765.6 1297.2,752.4 1297.8,782.8 1298.4,796.4 1299.0,767.9 1299.6,761.1 1300.2,776.6 1300.7,779.6 1301.3,780.6 1301.9,763.3 1302.5,767.1 1303.1,773.5 1303.7,794.0 1304.3,783.8 1304.8,757.9 1305.4,771.3 1306.0,776.4 1306.6,756.1 1307.2,723.8 1307.8,764.9 1308.3,755.4 1308.9,765.7 1309.5,767.0 1310.1,763.3 1310.7,761.2 1311.3,775.3 1311.8,753.9 1312.4,738.9 1313.0,727.7 1313.6,765.9 1314.2,739.4 1314.8,755.3 1315.3,757.8 1315.9,767.6 1316.5,768.1 1317.1,756.4 1317.7,755.9 1318.3,777.5 1318.9,725.0 1319.4,750.6 1320.0,742.0 1320.6,750.5 1321.2,776.5 1321.8,744.8 1322.4,734.1 1322.9,730.7 1323.5,749.7 1324.1,739.9 1324.7,734.8 1325.3,764.5 1325.9,776.8 1326.4,740.7 1327.0,735.0 1327.6,755.0 1328.2,741.0 1328.8,757.0 1329.4,760.3 1329.9,751.2 1330.5,746.2 1331.1,731.5 1331.7,756.6 1332.3,759.2 1332.9,723.3 1333.5,733.3 1334.0,747.1 1334.6,742.4 1335.2,753.8 1335.8,722.8 1336.4,731.8 1337.0,733.5 1337.5,732.6 1338.1,746.3 1338.7,741.2 1339.3,749.0 1339.9,727.0 1340.5,719.3 1341.0,736.6 1341.6,729.7 1342.2,707.3 1342.8,705.4 1343.4,722.9 1344.0,732.1 1344.5,704.0 1345.1,740.5 1345.7,723.1 1346.3,714.2 1346.9,728.9 1347.5,712.6 1348.1,690.7 1348.6,702.6 1349.2,719.5 1349.8,718.7 1350.4,699.2 1351.0,702.0 1351.6,702.1 1352.1,675.4 1352.7,690.1 1353.3,690.2 1353.9,708.6 1354.5,678.6 1355.1,706.0 1355.6,694.4 1356.2,696.2 1356.8,675.1 1357.4,723.5 1358.0,735.1 1358.6,684.5 1359.1,701.3 1359.7,678.2 1360.3,711.0 1360.9,714.3 1361.5,717.0 1362.1,696.5 1362.7,746.3 1363.2,732.5 1363.8,698.7 1364.4,712.4 1365.0,720.9 1365.6,725.0 1366.2,750.5 1366.7,713.1 1367.3,721.5 1367.9,726.1 1368.5,727.4 1369.1,731.1 1369.7,738.0 1370.2,759.5 1370.8,754.7 1371.4,742.5 1372.0,717.8 1372.6,725.5 1373.2,726.6 1373.7,738.5 1374.3,725.8 1374.9,734.0 1375.5,755.1 1376.1,762.4 1376.7,743.4 1377.3,767.4 1377.8,709.1 1378.4,748.7 1379.0,741.9 1379.6,761.4 1380.2,750.2 1380.8,756.3 1381.3,761.1 1381.9,752.7 1382.5,764.5 1383.1,751.0 1383.7,741.4 1384.3,750.3 1384.8,762.7 1385.4,754.6 1386.0,752.3 1386.6,739.8 1387.2,751.9 1387.8,773.9 1388.3,771.8 1388.9,778.0 1389.5,762.8 1390.1,766.6 1390.7,780.4 1391.3,756.5 1391.9,813.9 1392.4,759.3 1393.0,782.5 1393.6,797.8 1394.2,766.9 1394.8,741.6 1395.4,755.5 1395.9,746.0 1396.5,745.0 1397.1,801.8 1397.7,789.2 1398.3,787.9 1398.9,763.6 1399.4,777.2 1400.0,770.1 1400.6,772.7 1401.2,773.0 1401.8,791.4 1402.4,781.2 1402.9,779.1 1403.5,774.0 1404.1,754.5 1404.7,783.0 1405.3,778.0 1405.9,801.9 1406.5,751.6 1407.0,763.2 1407.6,777.6 1408.2,783.0 1408.8,784.0 1409.4,775.9 1410.0,769.0 1410.5,778.4 1411.1,802.0 1411.7,790.3 1412.3,760.1 1412.9,770.1 1413.5,753.6 1414.0,761.4 1414.6,789.7 1415.2,795.3 1415.8,768.2 1416.4,787.1 1417.0,761.0 1417.5,791.4 1418.1,772.1 1418.7,775.1 1419.3,766.5 1419.9,769.7 1420.5,803.3 1421.1,783.4 1421.6,786.4 1422.2,773.1 1422.8,773.6 1423.4,773.0 1424.0,765.3 1424.6,787.4 1425.1,763.8 1425.7,787.0 1426.3,797.7 1426.9,789.1 1427.5,763.5 1428.1,800.2 1428.6,766.2 1429.2,774.6 1429.8,770.9 1430.4,765.5 1431.0,763.8 1431.6,771.6 1432.1,777.5 1432.7,780.1 1433.3,758.3 1433.9,798.9 1434.5,781.5 1435.1,780.0 1435.7,780.0 1436.2,789.1 1436.8,785.1 1437.4,782.1 1438.0,767.3 1438.6,787.8 1439.2,778.3 1439.7,778.4 1440.3,774.1 1440.9,783.8 1441.5,784.7 1442.1,783.1 1442.7,801.3 1443.2,790.4 1443.8,780.1 1444.4,785.3 1445.0,756.6 1445.6,790.6 1446.2,772.7 1446.7,768.5 1447.3,787.1 1447.9,764.8 1448.5,788.1 1449.1,769.9 1449.7,759.9 1450.3,776.2 1450.8,790.0 1451.4,771.1 1452.0,787.4 1452.6,777.7 1453.2,779.2 1453.8,792.2 1454.3,779.6 1454.9,816.7 1455.5,774.8 1456.1,767.1 1456.7,752.4 1457.3,762.3 1457.8,778.0 1458.4,754.6 1459.0,759.1 1459.6,784.5 1460.2,774.8 1460.8,765.8 1461.3,755.3 1461.9,767.5 1462.5,775.6 1463.1,774.5 1463.7,775.3 1464.3,774.1 1464.9,772.6 1465.4,782.9 1466.0,791.1 1466.6,787.2 1467.2,771.2 1467.8,790.0 1468.4,785.4 1468.9,785.4 1469.5,787.6 1470.1,787.4 1470.7,764.2 1471.3,778.9 1471.9,773.9 1472.4,765.0 1473.0,818.3 1473.6,775.1 1474.2,768.5 1474.8,786.0 1475.4,775.7 1475.9,772.2 1476.5,782.5 1477.1,788.1 1477.7,784.7 1478.3,789.6 1478.9,768.2 1479.5,767.0 1480.0,797.9 1480.6,765.2 1481.2,786.7 1481.8,773.8 1482.4,761.0 1483.0,787.2 1483.5,790.0 1484.1,748.5 1484.7,768.0 1485.3,780.5 1485.9,752.2 1486.5,785.5 1487.0,750.2 1487.6,798.0 1488.2,764.7 1488.8,780.5 1489.4,760.1 1490.0,796.2 1490.5,772.6 1491.1,766.7 1491.7,780.5 1492.3,775.2 1492.9,740.7 1493.5,770.9 1494.1,781.8 1494.6,766.6 1495.2,781.5 1495.8,775.5 1496.4,789.5 1497.0,772.2 1497.6,799.2 1498.1,771.4 1498.7,778.4 1499.3,773.2 1499.9,764.1 1500.5,777.6 1501.1,770.8 1501.6,790.4 1502.2,778.4 1502.8,791.7 1503.4,791.5 1504.0,774.1 1504.6,777.6 1505.1,815.3 1505.7,793.0 1506.3,783.8 1506.9,803.1 1507.5,771.1 1508.1,759.6 1508.7,793.5 1509.2,775.3 1509.8,758.8 1510.4,770.3 1511.0,781.3 1511.6,766.5 1512.2,781.3 1512.7,789.3 1513.3,787.0 1513.9,795.1 1514.5,760.9 1515.1,810.3 1515.7,752.0 1516.2,770.2 1516.8,764.2 1517.4,788.1 1518.0,783.4 1518.6,798.1 1519.2,793.4 1519.7,790.7 1520.3,779.5 1520.9,785.4 1521.5,776.1 1522.1,794.5 1522.7,789.2 1523.3,797.2 1523.8,782.3 1524.4,778.0 1525.0,787.9 1525.6,773.8 1526.2,776.7 1526.8,767.8 1527.3,786.6 1527.9,782.6 1528.5,770.6 1529.1,805.8 1529.7,786.6 1530.3,776.0 1530.8,767.0 1531.4,767.7 1532.0,776.8 1532.6,756.7 1533.2,766.5 1533.8,781.0 1534.3,789.4 1534.9,762.5 1535.5,793.2 1536.1,788.3 1536.7,763.8 1537.3,758.6 1537.9,785.2 1538.4,785.8 1539.0,774.1 1539.6,787.1 1540.2,818.6 1540.8,776.8 1541.4,795.7 1541.9,770.5 1542.5,758.7 1543.1,763.4 1543.7,756.0 1544.3,790.5 1544.9,779.9 1545.4,782.5 1546.0,784.3 1546.6,767.4 1547.2,777.9 1547.8,770.2 1548.4,771.4 1548.9,761.8 1549.5,755.3 1550.1,775.9 1550.7,765.2 1551.3,766.3 1551.9,788.4 1552.5,777.7 1553.0,775.3 1553.6,772.7 1554.2,774.1 1554.8,788.8 1555.4,770.7 1556.0,797.5 1556.5,793.7 1557.1,758.4 1557.7,770.5 1558.3,787.1 1558.9,764.8 1559.5,753.6 1560.0,778.4 1560.6,792.8 1561.2,753.0 1561.8,788.1 1562.4,756.7 1563.0,762.6 1563.5,779.4 1564.1,769.1 1564.7,766.5 1565.3,768.3 1565.9,749.1 1566.5,792.1 1567.1,767.3 1567.6,759.1 1568.2,757.8 1568.8,779.8 1569.4,776.4 1570.0,749.5 1570.6,765.9 1571.1,753.3 1571.7,777.3 1572.3,763.6 1572.9,779.9 1573.5,780.5 1574.1,786.3 1574.6,767.0 1575.2,765.8 1575.8,774.0 1576.4,784.2 1577.0,766.9 1577.6,765.9 1578.1,784.6 1578.7,748.2 1579.3,791.1 1579.9,770.3 1580.5,776.4 1581.1,786.3 1581.7,761.1 1582.2,775.3 1582.8,787.6 1583.4,776.1 1584.0,782.1 1584.6,763.3 1585.2,781.8 1585.7,774.8 1586.3,766.8 1586.9,755.1 1587.5,777.7 1588.1,758.3 1588.7,776.3 1589.2,791.0 1589.8,767.3 1590.4,776.7 1591.0,757.6 1591.6,782.0 1592.2,744.8 1592.7,771.9 1593.3,756.5 1593.9,758.8 1594.5,758.9 1595.1,792.5 1595.7,759.7 1596.3,790.0 1596.8,770.2 1597.4,762.5 1598.0,770.6 1598.6,769.1 1599.2,769.7 1599.8,784.5 1600.3,749.2 1600.9,775.1 1601.5,770.7 1602.1,776.3 1602.7,761.4 1603.3,794.4 1603.8,776.0 1604.4,759.0 1605.0,765.3 1605.6,767.8 1606.2,764.7 1606.8,783.2 1607.3,756.7 1607.9,803.9 1608.5,765.0 1609.1,768.8 1609.7,768.7 1610.3,778.5 1610.9,743.2 1611.4,770.2 1612.0,780.5 1612.6,766.1 1613.2,776.4 1613.8,793.7 1614.4,757.0 1614.9,759.9 1615.5,770.4 1616.1,773.1 1616.7,769.8 1617.3,759.1 1617.9,761.3 1618.4,763.9 1619.0,776.3 1619.6,803.5 1620.2,771.8 1620.8,750.7 1621.4,792.6 1621.9,765.3 1622.5,780.8 1623.1,776.2 1623.7,769.4 1624.3,772.1 1624.9,742.6 1625.5,783.9 1626.0,737.9 1626.6,789.5 1627.2,768.8 1627.8,744.9 1628.4,774.8 1629.0,793.4 1629.5,792.7 1630.1,777.7 1630.7,778.4 1631.3,774.3 1631.9,782.5 1632.5,767.8 1633.0,780.0 1633.6,755.1 1634.2,776.3 1634.8,753.4 1635.4,755.8 1636.0,788.9 1636.5,773.9 1637.1,796.5 1637.7,757.3 1638.3,746.1 1638.9,756.7 1639.5,782.5 1640.1,780.0 1640.6,751.9 1641.2,763.3 1641.8,772.3 1642.4,764.8 1643.0,742.7 1643.6,805.3 1644.1,798.9 1644.7,782.1 1645.3,757.7 1645.9,748.1 1646.5,781.8 1647.1,779.2 1647.6,786.7 1648.2,789.0 1648.8,768.5 1649.4,768.0 1650.0,774.3 1650.6,768.8 1651.1,756.9 1651.7,772.5 1652.3,789.7 1652.9,773.7 1653.5,777.4 1654.1,798.5 1654.7,765.4 1655.2,773.4 1655.8,770.3 1656.4,773.1 1657.0,778.6 1657.6,760.4 1658.2,772.1 1658.7,804.0 1659.3,760.2 1659.9,778.3 1660.5,793.3 1661.1,802.3 1661.7,785.9 1662.2,761.8 1662.8,771.3 1663.4,792.7 1664.0,792.4 1664.6,768.1 1665.2,774.9 1665.7,794.4 1666.3,762.2 1666.9,796.0 1667.5,751.3 1668.1,761.6 1668.7,783.8 1669.3,782.7 1669.8,762.1 1670.4,800.6 1671.0,765.6 1671.6,781.4 1672.2,801.0 1672.8,783.5 1673.3,792.3 1673.9,761.0 1674.5,769.2 1675.1,759.3 1675.7,779.5 1676.3,775.7 1676.8,766.7 1677.4,784.9 1678.0,770.1 1678.6,792.8 1679.2,782.7 1679.8,769.4 1680.3,786.4 1680.9,779.2 1681.5,797.2 1682.1,763.0 1682.7,790.5 1683.3,774.6 1683.9,765.5 1684.4,789.3 1685.0,763.0 1685.6,773.0 1686.2,778.9 1686.8,786.7 1687.4,778.8 1687.9,765.0 1688.5,782.1 1689.1,755.5 1689.7,754.7 1690.3,762.0 1690.9,784.2 1691.4,765.1 1692.0,780.1 1692.6,773.8 1693.2,768.8 1693.8,774.2 1694.4,799.9 1694.9,789.5 1695.5,776.2 1696.1,774.2 1696.7,748.9 1697.3,792.8 1697.9,778.9 1698.5,786.2 1699.0,795.3 1699.6,770.8 1700.2,799.6 1700.8,754.6 1701.4,770.1 1702.0,765.0 1702.5,766.4 1703.1,793.9 1703.7,785.6 1704.3,787.2 1704.9,767.8 1705.5,781.3 1706.0,754.6 1706.6,785.1 1707.2,756.6 1707.8,767.6 1708.4,761.3 1709.0,781.6 1709.5,761.3 1710.1,782.3 1710.7,782.9 1711.3,755.9 1711.9,793.9 1712.5,784.1 1713.1,767.8 1713.6,768.8 1714.2,773.8 1714.8,779.5 1715.4,778.3 1716.0,765.7 1716.6,785.5 1717.1,769.7 1717.7,772.7 1718.3,766.1 1718.9,786.7 1719.5,786.3 1720.1,791.5 1720.6,766.5 1721.2,775.8 1721.8,783.4 1722.4,762.3 1723.0,760.1 1723.6,782.0 1724.1,763.3 1724.7,772.2 1725.3,763.9 1725.9,792.7 1726.5,784.7 1727.1,779.5 1727.7,788.7 1728.2,777.4 1728.8,769.0 1729.4,804.0 1730.0,768.4 1730.6,822.0 1731.2,768.4 1731.7,786.1 1732.3,753.5 1732.9,781.7 1733.5,771.8 1734.1,770.1 1734.7,773.1 1735.2,770.6 1735.8,783.2 1736.4,799.6 1737.0,767.7 1737.6,751.8 1738.2,765.4 1738.7,773.2 1739.3,763.2 1739.9,780.0 1740.5,767.4 1741.1,788.2 1741.7,777.0 1742.3,780.2 1742.8,768.2 1743.4,774.8 1744.0,763.4 1744.6,781.2 1745.2,772.2 1745.8,759.0 1746.3,787.9 1746.9,765.8 1747.5,779.2 1748.1,771.1 1748.7,788.1 1749.3,765.9 1749.8,766.5 1750.4,772.3 1751.0,754.5 1751.6,767.5 1752.2,774.7 1752.8,762.8 1753.3,764.7 1753.9,761.9 1754.5,773.5 1755.1,770.6 1755.7,777.3 1756.3,759.6 1756.9,781.3 1757.4,761.0 1758.0,769.2 1758.6,750.9 1759.2,742.5 1759.8,770.7 1760.4,746.7 1760.9,777.6 1761.5,740.4 1762.1,740.8 1762.7,739.0 1763.3,758.4 1763.9,742.6 1764.4,742.8 1765.0,760.8 1765.6,737.4 1766.2,754.2 1766.8,771.2 1767.4,735.3 1767.9,722.9 1768.5,763.7 1769.1,752.9 1769.7,720.9 1770.3,744.8 1770.9,715.1 1771.5,750.9 1772.0,753.2 1772.6,722.5 1773.2,749.7 1773.8,738.8 1774.4,743.5 1775.0,742.2 1775.5,722.8 1776.1,736.8 1776.7,727.1 1777.3,731.8 1777.9,710.5 1778.5,692.1 1779.0,754.7 1779.6,708.2 1780.2,707.3 1780.8,687.9 1781.4,728.1 1782.0,689.2 1782.5,682.1 1783.1,692.0 1783.7,702.2 1784.3,695.7 1784.9,666.5 1785.5,706.9 1786.1,708.7 1786.6,694.8 1787.2,682.7 1787.8,684.1 1788.4,708.6 1789.0,666.0 1789.6,681.9 1790.1,673.6 1790.7,664.2 1791.3,667.3 1791.9,663.8 1792.5,690.8 1793.1,673.6 1793.6,647.9 1794.2,644.0 1794.8,652.8 1795.4,669.2 1796.0,655.8 1796.6,660.2 1797.1,665.2 1797.7,643.5 1798.3,657.4 1798.9,649.2 1799.5,658.8 1800.1,646.2 1800.7,668.8 1801.2,642.7 1801.8,648.7 1802.4,638.6 1803.0,657.3 1803.6,655.3 1804.2,624.8 1804.7,631.2 1805.3,641.3 1805.9,650.3 1806.5,684.3 1807.1,664.3 1807.7,667.1 1808.2,677.2 1808.8,678.4 1809.4,692.4 1810.0,678.2 1810.6,674.6 1811.2,692.2 1811.7,702.9 1812.3,693.3 1812.9,685.5 1813.5,700.1 1814.1,696.3 1814.7,691.9 1815.3,719.7 1815.8,698.0 1816.4,703.2 1817.0,698.6 1817.6,711.8 1818.2,727.1 1818.8,705.3 1819.3,727.6 1819.9,722.7 1820.5,716.9 1821.1,763.1 1821.7,733.5 1822.3,737.9 1822.8,714.9 1823.4,770.6 1824.0,743.5 1824.6,745.3 1825.2,759.5 1825.8,745.1 1826.3,749.4 1826.9,734.5 1827.5,745.4 1828.1,747.5 1828.7,768.4 1829.3,778.7 1829.9,745.9 1830.4,774.3 1831.0,772.2 1831.6,765.4 1832.2,764.5 1832.8,769.8 1833.4,764.7 1833.9,793.2 1834.5,751.3 1835.1,772.3 1835.7,785.7 1836.3,780.1 1836.9,775.9 1837.4,789.6 1838.0,782.8 1838.6,793.8 1839.2,790.2 1839.8,780.8 1840.4,783.1 1840.9,787.1 1841.5,764.3 1842.1,779.7 1842.7,794.0 1843.3,779.9 1843.9,787.8 1844.5,786.7 1845.0,790.4 1845.6,773.4 1846.2,789.1 1846.8,798.9 1847.4,764.4 1848.0,759.3 1848.5,785.6 1849.1,789.4 1849.7,793.6 1850.3,801.6 1850.9,778.6 1851.5,795.1 1852.0,800.3 1852.6,798.6 1853.2,780.7 1853.8,783.4 1854.4,791.0 1855.0,798.1 1855.5,793.6 1856.1,779.8 1856.7,808.1 1857.3,812.1 1857.9,821.9 1858.5,789.9 1859.1,794.3 1859.6,803.1 1860.2,779.8 1860.8,784.3 1861.4,782.2 1862.0,810.3 1862.6,802.9 1863.1,789.8 1863.7,779.7 1864.3,792.2 1864.9,813.2 1865.5,799.2 1866.1,812.7 1866.6,798.7 1867.2,818.4 1867.8,793.5 1868.4,797.5 1869.0,801.0 1869.6,791.5 1870.1,797.3 1870.7,797.5 1871.3,791.2 1871.9,818.9 1872.5,806.5 1873.1,789.5 1873.7,790.7 1874.2,802.6 1874.8,790.9 1875.4,819.8 1876.0,815.7 1876.6,799.3 1877.2,816.6 1877.7,794.5 1878.3,803.7 1878.9,806.0 1879.5,779.7 1880.1,811.7 1880.7,814.3 1881.2,797.2 1881.8,825.2 1882.4,808.4 1883.0,800.3 1883.6,828.9 1884.2,819.8 1884.7,804.4 1885.3,832.8 1885.9,832.3 1886.5,805.6 1887.1,818.7 1887.7,835.5 1888.3,774.9 1888.8,829.6 1889.4,802.2 1890.0,791.7 1890.6,830.1 1891.2,801.2 1891.8,786.4 1892.3,820.3 1892.9,790.9 1893.5,813.3 1894.1,807.2 1894.7,815.7 1895.3,809.7 1895.8,796.7 1896.4,808.7 1897.0,812.8 1897.6,817.2 1898.2,816.4 1898.8,805.1 1899.3,805.0 1899.9,812.8 1900.5,812.0 1901.1,852.1 1901.7,823.6 1902.3,821.2 1902.9,827.8 1903.4,821.4 1904.0,836.6 1904.6,810.9 1905.2,818.4 1905.8,802.0 1906.4,819.6 1906.9,810.3 1907.5,787.2 1908.1,804.9 1908.7,831.5 1909.3,821.1 1909.9,822.9 1910.4,810.8 1911.0,838.9 1911.6,823.3 1912.2,801.3 1912.8,807.4 1913.4,830.4 1913.9,805.9 1914.5,830.0 1915.1,836.6 1915.7,796.5 1916.3,809.7 1916.9,817.6 1917.5,816.0 1918.0,816.7 1918.6,828.1 1919.2,830.4 1919.8,823.5 1920.4,812.6 1921.0,820.7 1921.5,821.1 1922.1,814.9 1922.7,808.1 1923.3,805.4 1923.9,824.8 1924.5,817.3 1925.0,808.2 1925.6,812.1 1926.2,835.0 1926.8,804.4 1927.4,815.0 1928.0,829.5 1928.5,816.7 1929.1,793.4 1929.7,822.7 1930.3,805.1 1930.9,818.4 1931.5,813.7 1932.1,837.7 1932.6,818.2 1933.2,805.8 1933.8,817.6 1934.4,815.6 1935.0,813.1 1935.6,837.6 1936.1,825.1 1936.7,818.0 1937.3,795.1 1937.9,805.7 1938.5,843.6 1939.1,830.1 1939.6,827.1 1940.2,823.3 1940.8,797.6 1941.4,817.5 1942.0,829.1 1942.6,821.9 1943.1,810.0 1943.7,822.9 1944.3,827.7 1944.9,802.0 1945.5,801.5 1946.1,806.1 1946.7,793.7 1947.2,799.4 1947.8,800.5 1948.4,796.3 1949.0,806.7 1949.6,796.0 1950.2,800.5 1950.7,823.6 1951.3,813.8 1951.9,813.3 1952.5,810.6 1953.1,811.9 1953.7,816.0 1954.2,832.7 1954.8,807.7 1955.4,807.0 1956.0,811.1 1956.6,824.4 1957.2,813.8 1957.7,831.7 1958.3,823.4 1958.9,815.4 1959.5,826.7 1960.1,829.3 1960.7,802.4 1961.3,829.8 1961.8,821.8 1962.4,798.8 1963.0,804.3 1963.6,801.2 1964.2,826.0 1964.8,826.8 1965.3,836.4 1965.9,813.4 1966.5,854.0 1967.1,824.9 1967.7,813.2 1968.3,812.7 1968.8,814.2 1969.4,803.7 1970.0,825.3 1970.6,809.6 1971.2,817.7 1971.8,832.7 1972.3,822.8 1972.9,822.2 1973.5,808.9 1974.1,832.3 1974.7,810.4 1975.3,815.4 1975.9,839.7 1976.4,790.6 1977.0,824.7 1977.6,813.5 1978.2,794.8 1978.8,813.0 1979.4,824.9 1979.9,810.2 1980.5,827.7 1981.1,809.7 1981.7,821.8 1982.3,805.9 1982.9,783.5 1983.4,810.9 1984.0,783.5 1984.6,816.1 1985.2,823.4 1985.8,839.7 1986.4,820.1 1986.9,804.8 1987.5,834.2 1988.1,811.3 1988.7,830.6 1989.3,812.2 1989.9,794.1 1990.5,803.3 1991.0,803.1 1991.6,817.3 1992.2,820.2 1992.8,803.8 1993.4,807.0 1994.0,794.7 1994.5,813.1 1995.1,808.8 1995.7,789.2 1996.3,820.0 1996.9,824.1 1997.5,809.9 1998.0,827.8 1998.6,838.1 1999.2,841.4 1999.8,819.8 2000.4,814.9 2001.0,822.9 2001.5,832.2 2002.1,818.6 2002.7,822.4 2003.3,799.9 2003.9,822.5 2004.5,820.8 2005.1,811.9 2005.6,809.9 2006.2,808.7 2006.8,817.4 2007.4,810.5 2008.0,816.8 2008.6,821.8 2009.1,808.6 2009.7,818.2 2010.3,804.4 2010.9,805.1 2011.5,807.6 2012.1,802.6 2012.6,807.4 2013.2,816.0 2013.8,812.1 2014.4,800.4 2015.0,816.2 2015.6,813.2 2016.1,822.5 2016.7,807.8 2017.3,813.8 2017.9,802.8 2018.5,801.8 2019.1,819.2 2019.7,817.7 2020.2,813.0 2020.8,796.8 2021.4,834.7 2022.0,809.2 2022.6,808.7 2023.2,825.7 2023.7,787.7 2024.3,820.7 2024.9,807.6 2025.5,803.4 2026.1,823.8 2026.7,792.6 2027.2,796.9 2027.8,826.5 2028.4,777.5 2029.0,804.4 2029.6,798.7 2030.2,806.7 2030.7,803.9 2031.3,802.4 2031.9,817.2 2032.5,809.3 2033.1,807.1 2033.7,789.8 2034.3,815.5 2034.8,820.2 2035.4,800.9 2036.0,815.4 2036.6,805.5 2037.2,805.6 2037.8,827.4 2038.3,819.7 2038.9,816.6 2039.5,802.4 2040.1,803.1 2040.7,790.1 2041.3,800.8 2041.8,807.5 2042.4,795.7 2043.0,824.9 2043.6,815.5 2044.2,813.3 2044.8,800.5 2045.3,830.2 2045.9,804.3 2046.5,799.4 2047.1,815.0 2047.7,813.6 2048.3,811.2 2048.9,807.4 2049.4,808.0 2050.0,798.5 2050.6,803.9 2051.2,821.6 2051.8,805.3 2052.4,808.0 2052.9,820.6 2053.5,803.5 2054.1,813.4 2054.7,795.3 2055.3,819.7 2055.9,818.2 2056.4,816.1 2057.0,817.1 2057.6,801.5 2058.2,814.7 2058.8,788.5 2059.4,785.8 2059.9,796.2 2060.5,787.8 2061.1,803.0 2061.7,822.0 2062.3,792.6 2062.9,797.6 2063.5,789.0 2064.0,811.7 2064.6,812.4 2065.2,809.1 2065.8,801.1 2066.4,807.3 2067.0,820.4 2067.5,821.8 2068.1,819.9 2068.7,806.7 2069.3,802.3 2069.9,787.8 2070.5,807.5 2071.0,796.8 2071.6,793.7 2072.2,813.9 2072.8,808.3 2073.4,807.0 2074.0,817.3 2074.5,802.5 2075.1,784.1 2075.7,814.0 2076.3,818.2 2076.9,786.0 2077.5,820.7 2078.1,791.6 2078.6,802.3 2079.2,817.4 2079.8,811.6 2080.4,830.7 2081.0,821.6 2081.6,804.3 2082.1,804.6 2082.7,819.1 2083.3,792.4 2083.9,827.1 2084.5,812.4 2085.1,820.5 2085.6,811.1 2086.2,804.9 2086.8,827.1 2087.4,814.5 2088.0,832.7 2088.6,831.8 2089.1,846.2 2089.7,812.0 2090.3,824.3 2090.9,829.4 2091.5,830.0 2092.1,821.1 2092.7,797.0 2093.2,829.4 2093.8,817.7 2094.4,797.7 2095.0,826.7 2095.6,807.6 2096.2,800.3 2096.7,819.2 2097.3,825.3 2097.9,816.7 2098.5,818.9 2099.1,818.4 2099.7,819.1 2100.2,824.8 2100.8,826.0 2101.4,836.6 2102.0,795.3 2102.6,822.3 2103.2,812.5 2103.7,820.2 2104.3,825.5 2104.9,832.2 2105.5,840.8 2106.1,820.5 2106.7,811.9 2107.3,819.8 2107.8,833.7 2108.4,835.9 2109.0,838.6 2109.6,826.4 2110.2,832.8 2110.8,838.6 2111.3,841.0 2111.9,820.7 2112.5,817.3 2113.1,808.0 2113.7,812.7 2114.3,828.0 2114.8,824.8 2115.4,831.4 2116.0,836.6 2116.6,814.8 2117.2,834.3 2117.8,835.8 2118.3,840.5 2118.9,800.5 2119.5,841.5 2120.1,826.2 2120.7,800.7 2121.3,816.2 2121.9,842.7 2122.4,832.5 2123.0,831.9 2123.6,840.2 2124.2,846.1 2124.8,827.4 2125.4,806.9 2125.9,827.9 2126.5,844.0 2127.1,818.1 2127.7,825.3 2128.3,815.7 2128.9,831.5 2129.4,806.2 2130.0,837.7 2130.6,836.4 2131.2,849.2 2131.8,832.6 2132.4,822.2 2132.9,826.7 2133.5,833.8 2134.1,829.4 2134.7,854.1 2135.3,852.6 2135.9,821.8 2136.5,829.0 2137.0,809.3 2137.6,829.7 2138.2,839.7 2138.8,820.7 2139.4,800.5 2140.0,838.5 2140.5,813.3 2141.1,842.4 2141.7,801.8 2142.3,834.3 2142.9,846.6 2143.5,831.2 2144.0,822.7 2144.6,827.9 2145.2,804.6 2145.8,815.9 2146.4,837.7 2147.0,840.1 2147.5,813.4 2148.1,815.1 2148.7,837.9 2149.3,806.8 2149.9,841.0 2150.5,828.1 2151.1,831.6 2151.6,825.9 2152.2,831.1 2152.8,808.2 2153.4,817.0 2154.0,843.7 2154.6,831.9 2155.1,807.1 2155.7,837.6 2156.3,828.1 2156.9,847.0 2157.5,825.4 2158.1,826.2 2158.6,804.8 2159.2,839.7 2159.8,818.1 2160.4,814.8 2161.0,823.7 2161.6,808.7 2162.1,824.0 2162.7,828.8 2163.3,823.2 2163.9,831.8 2164.5,839.1 2165.1,828.3 2165.7,810.3 2166.2,832.9 2166.8,840.5 2167.4,836.9 2168.0,820.0 2168.6,829.7 2169.2,845.6 2169.7,822.4 2170.3,820.0 2170.9,807.9 2171.5,821.0 2172.1,839.0 2172.7,814.2 2173.2,796.7 2173.8,809.6 2174.4,828.1 2175.0,805.7 2175.6,816.3 2176.2,840.0 2176.7,822.6 2177.3,847.3 2177.9,827.5 2178.5,831.7"/>
<polyline fill="none" stroke="#000080" stroke-width="3.6" stroke-linejoin="miter" stroke-miterlimit="2" shape-rendering="crispEdges" points="134.5,878.6 135.1,894.8 135.7,865.3 136.3,901.2 136.8,908.7 137.4,884.0 138.0,897.7 138.6,894.9 139.2,884.9 139.8,877.7 140.3,859.5 140.9,913.0 141.5,890.3 142.1,930.2 142.7,903.9 143.3,895.4 143.8,880.9 144.4,912.7 145.0,883.3 145.6,915.5 146.2,885.0 146.8,894.1 147.3,867.5 147.9,927.6 148.5,889.7 149.1,885.2 149.7,903.8 150.3,877.4 150.9,903.2 151.4,873.0 152.0,899.7 152.6,875.0 153.2,862.7 153.8,882.1 154.4,868.5 154.9,899.9 155.5,891.6 156.1,899.2 156.7,892.7 157.3,885.8 157.9,891.8 158.4,907.7 159.0,888.5 159.6,879.5 160.2,876.3 160.8,887.9 161.4,879.7 161.9,920.7 162.5,873.1 163.1,874.6 163.7,886.7 164.3,901.6 164.9,887.3 165.5,876.6 166.0,878.9 166.6,886.0 167.2,906.6 167.8,876.3 168.4,890.1 169.0,882.0 169.5,896.6 170.1,897.7 170.7,868.7 171.3,928.7 171.9,894.5 172.5,883.6 173.0,877.6 173.6,887.5 174.2,892.1 174.8,900.9 175.4,891.7 176.0,899.2 176.5,866.5 177.1,879.9 177.7,876.0 178.3,894.2 178.9,898.8 179.5,868.8 180.1,889.1 180.6,903.0 181.2,906.0 181.8,874.3 182.4,900.5 183.0,897.0 183.6,884.9 184.1,922.4 184.7,874.3 185.3,887.4 185.9,898.9 186.5,895.6 187.1,889.1 187.6,913.3 188.2,914.4 188.8,906.1 189.4,907.5 190.0,891.0 190.6,873.7 191.1,926.0 191.7,876.8 192.3,926.5 192.9,889.6 193.5,895.2 194.1,888.8 194.7,906.4 195.2,883.4 195.8,920.0 196.4,899.5 197.0,893.8 197.6,882.1 198.2,895.3 198.7,890.8 199.3,920.5 199.9,905.3 200.5,866.2 201.1,914.5 201.7,853.3 202.2,914.5 202.8,860.8 203.4,890.2 204.0,902.9 204.6,890.0 205.2,872.8 205.7,909.2 206.3,862.0 206.9,866.9 207.5,911.4 208.1,876.1 208.7,893.4 209.3,902.1 209.8,887.7 210.4,893.6 211.0,891.1 211.6,892.5 212.2,907.7 212.8,903.6 213.3,894.0 213.9,903.2 214.5,880.3 215.1,876.7 215.7,872.9 216.3,900.8 216.8,913.9 217.4,889.7 218.0,857.3 218.6,880.3 219.2,895.5 219.8,892.7 220.3,889.5 220.9,903.4 221.5,902.4 222.1,866.8 222.7,894.8 223.3,876.5 223.9,891.9 224.4,907.9 225.0,917.2 225.6,899.6 226.2,880.8 226.8,883.4 227.4,897.4 227.9,873.7 228.5,888.2 229.1,898.9 229.7,904.0 230.3,885.1 230.9,895.7 231.4,911.4 232.0,894.9 232.6,863.3 233.2,893.8 233.8,894.5 234.4,884.0 234.9,891.5 235.5,867.7 236.1,910.7 236.7,897.8 237.3,882.8 237.9,895.2 238.5,893.7 239.0,878.2 239.6,849.9 240.2,847.2 240.8,924.0 241.4,874.7 242.0,887.8 242.5,901.6 243.1,887.0 243.7,911.6 244.3,878.1 244.9,902.0 245.5,860.4 246.0,904.6 246.6,904.3 247.2,899.4 247.8,898.5 248.4,898.2 249.0,907.7 249.5,909.4 250.1,879.5 250.7,911.1 251.3,879.7 251.9,897.3 252.5,890.9 253.1,902.6 253.6,889.9 254.2,901.7 254.8,887.9 255.4,880.5 256.0,912.5 256.6,904.9 257.1,904.1 257.7,911.2 258.3,879.5 258.9,910.8 259.5,879.9 260.1,902.7 260.6,894.0 261.2,901.2 261.8,908.1 262.4,897.5 263.0,882.8 263.6,912.1 264.1,916.2 264.7,908.5 265.3,914.2 265.9,870.2 266.5,899.3 267.1,896.5 267.7,867.6 268.2,900.3 268.8,898.7 269.4,875.0 270.0,885.7 270.6,900.4 271.2,908.7 271.7,910.5 272.3,882.0 272.9,882.6 273.5,891.8 274.1,899.1 274.7,891.0 275.2,897.1 275.8,911.5 276.4,911.3 277.0,902.8 277.6,882.7 278.2,893.1 278.7,909.9 279.3,914.9 279.9,918.1 280.5,884.6 281.1,894.2 281.7,882.5 282.3,855.3 282.8,884.7 283.4,874.0 284.0,924.2 284.6,909.7 285.2,892.1 285.8,903.4 286.3,909.0 286.9,930.2 287.5,914.9 288.1,926.9 288.7,910.5 289.3,923.5 289.8,925.8 290.4,917.8 291.0,903.6 291.6,920.6 292.2,897.1 292.8,926.0 293.3,899.1 293.9,892.8 294.5,933.5 295.1,897.2 295.7,906.4 296.3,887.0 296.9,892.9 297.4,898.6 298.0,888.4 298.6,923.5 299.2,892.8 299.8,884.4 300.4,922.1 300.9,915.7 301.5,867.7 302.1,895.6 302.7,920.5 303.3,892.6 303.9,900.5 304.4,901.2 305.0,869.2 305.6,891.0 306.2,917.4 306.8,928.3 307.4,904.2 307.9,903.8 308.5,914.4 309.1,908.4 309.7,913.9 310.3,892.0 310.9,906.4 311.5,914.1 312.0,915.6 312.6,881.5 313.2,919.4 313.8,908.2 314.4,908.9 315.0,878.4 315.5,907.3 316.1,881.6 316.7,866.7 317.3,908.4 317.9,906.9 318.5,908.0 319.0,910.0 319.6,907.3 320.2,924.9 320.8,920.4 321.4,933.4 322.0,947.9 322.5,920.1 323.1,920.7 323.7,938.3 324.3,894.3 324.9,903.1 325.5,912.4 326.1,883.6 326.6,923.9 327.2,933.7 327.8,888.6 328.4,895.7 329.0,923.1 329.6,930.3 330.1,882.5 330.7,917.5 331.3,905.6 331.9,879.4 332.5,902.1 333.1,899.8 333.6,910.6 334.2,909.6 334.8,904.6 335.4,906.9 336.0,906.6 336.6,917.4 337.1,924.6 337.7,924.6 338.3,895.2 338.9,896.8 339.5,898.8 340.1,932.2 340.7,917.3 341.2,897.5 341.8,891.3 342.4,893.8 343.0,910.4 343.6,892.4 344.2,910.0 344.7,931.6 345.3,906.0 345.9,923.7 346.5,885.8 347.1,915.7 347.7,914.7 348.2,895.3 348.8,932.1 349.4,909.9 350.0,899.0 350.6,905.3 351.2,925.2 351.7,888.1 352.3,912.4 352.9,894.7 353.5,913.6 354.1,901.6 354.7,908.8 355.3,922.2 355.8,910.7 356.4,918.8 357.0,921.2 357.6,916.5 358.2,913.6 358.8,910.7 359.3,920.2 359.9,929.2 360.5,939.4 361.1,938.1 361.7,894.1 362.3,914.7 362.8,917.8 363.4,929.4 364.0,927.0 364.6,887.1 365.2,914.4 365.8,882.6 366.3,902.4 366.9,895.1 367.5,900.1 368.1,935.3 368.7,901.2 369.3,901.9 369.9,911.9 370.4,927.1 371.0,882.7 371.6,935.9 372.2,897.7 372.8,894.0 373.4,911.9 373.9,920.7 374.5,953.2 375.1,924.2 375.7,900.3 376.3,906.5 376.9,894.5 377.4,920.3 378.0,923.1 378.6,904.4 379.2,927.9 379.8,882.7 380.4,902.1 380.9,894.9 381.5,900.3 382.1,883.5 382.7,925.0 383.3,894.4 383.9,907.5 384.5,928.7 385.0,935.5 385.6,928.6 386.2,873.8 386.8,904.8 387.4,904.0 388.0,898.6 388.5,897.0 389.1,900.7 389.7,919.1 390.3,902.2 390.9,888.0 391.5,884.2 392.0,911.9 392.6,881.9 393.2,920.9 393.8,901.6 394.4,901.5 395.0,913.3 395.5,903.8 396.1,921.1 396.7,889.0 397.3,880.4 397.9,941.3 398.5,912.4 399.1,868.1 399.6,937.1 400.2,886.9 400.8,942.8 401.4,939.0 402.0,923.9 402.6,909.8 403.1,895.7 403.7,925.1 404.3,903.3 404.9,927.3 405.5,905.3 406.1,884.4 406.6,898.6 407.2,911.0 407.8,902.1 408.4,912.4 409.0,895.2 409.6,936.3 410.1,901.8 410.7,918.8 411.3,883.4 411.9,923.9 412.5,935.6 413.1,920.4 413.7,906.8 414.2,895.8 414.8,920.7 415.4,920.3 416.0,889.9 416.6,911.3 417.2,919.9 417.7,898.5 418.3,921.1 418.9,906.9 419.5,934.9 420.1,890.8 420.7,919.9 421.2,913.4 421.8,881.2 422.4,896.5 423.0,897.8 423.6,926.8 424.2,905.9 424.7,911.7 425.3,914.3 425.9,953.7 426.5,908.1 427.1,943.4 427.7,909.0 428.3,886.5 428.8,898.9 429.4,892.0 430.0,906.2 430.6,888.6 431.2,897.5 431.8,943.3 432.3,916.3 432.9,917.9 433.5,942.0 434.1,885.8 434.7,921.8 435.3,905.0 435.8,912.2 436.4,901.7 437.0,914.8 437.6,932.9 438.2,932.5 438.8,917.0 439.3,926.4 439.9,893.8 440.5,865.7 441.1,930.1 441.7,946.2 442.3,920.9 442.9,903.4 443.4,914.2 444.0,933.3 444.6,894.6 445.2,914.8 445.8,923.6 446.4,897.0 446.9,947.7 447.5,927.0 448.1,940.8 448.7,896.4 449.3,917.5 449.9,938.9 450.4,921.4 451.0,934.6 451.6,884.1 452.2,912.8 452.8,881.9 453.4,906.2 453.9,919.1 454.5,912.6 455.1,894.0 455.7,919.3 456.3,925.2 456.9,913.0 457.5,927.8 458.0,933.3 458.6,934.9 459.2,909.3 459.8,923.2 460.4,904.6 461.0,913.6 461.5,932.4 462.1,913.3 462.7,907.8 463.3,905.5 463.9,923.6 464.5,941.5 465.0,930.3 465.6,911.7 466.2,928.4 466.8,930.9 467.4,939.4 468.0,904.7 468.5,926.1 469.1,909.3 469.7,907.1 470.3,936.3 470.9,924.9 471.5,917.4 472.1,938.3 472.6,919.0 473.2,902.0 473.8,931.2 474.4,901.5 475.0,902.5 475.6,909.9 476.1,914.2 476.7,931.4 477.3,911.1 477.9,887.4 478.5,907.8 479.1,922.2 479.6,915.2 480.2,915.3 480.8,897.5 481.4,911.1 482.0,926.9 482.6,927.3 483.1,904.1 483.7,905.9 484.3,902.0 484.9,933.1 485.5,905.8 486.1,913.6 486.7,904.7 487.2,903.4 487.8,916.1 488.4,932.9 489.0,909.0 489.6,937.5 490.2,917.6 490.7,930.4 491.3,959.0 491.9,955.7 492.5,923.6 493.1,920.2 493.7,916.6 494.2,930.7 494.8,888.7 495.4,907.8 496.0,917.1 496.6,907.0 497.2,903.3 497.7,940.7 498.3,895.9 498.9,912.7 499.5,910.3 500.1,912.2 500.7,902.9 501.3,932.4 501.8,918.2 502.4,948.5 503.0,898.0 503.6,922.3 504.2,899.5 504.8,924.2 505.3,939.5 505.9,902.0 506.5,936.8 507.1,907.4 507.7,902.1 508.3,926.2 508.8,933.1 509.4,923.2 510.0,926.2 510.6,920.7 511.2,913.0 511.8,886.3 512.3,915.1 512.9,909.3 513.5,929.3 514.1,906.4 514.7,952.4 515.3,929.3 515.9,911.9 516.4,929.1 517.0,913.9 517.6,938.6 518.2,910.2 518.8,940.2 519.4,898.9 519.9,917.7 520.5,914.5 521.1,900.5 521.7,909.5 522.3,914.6 522.9,894.6 523.4,899.6 524.0,921.2 524.6,900.2 525.2,938.3 525.8,937.8 526.4,903.9 526.9,917.0 527.5,919.5 528.1,922.2 528.7,901.2 529.3,921.7 529.9,900.5 530.5,907.2 531.0,928.7 531.6,906.6 532.2,891.8 532.8,897.8 533.4,912.0 534.0,893.8 534.5,890.0 535.1,908.0 535.7,889.6 536.3,939.1 536.9,893.3 537.5,915.2 538.0,879.5 538.6,897.6 539.2,916.1 539.8,911.1 540.4,912.4 541.0,892.1 541.5,904.2 542.1,897.4 542.7,876.9 543.3,918.2 543.9,887.7 544.5,894.4 545.1,911.7 545.6,907.8 546.2,939.0 546.8,894.7 547.4,918.9 548.0,892.9 548.6,894.6 549.1,911.2 549.7,903.9 550.3,884.1 550.9,890.4 551.5,894.1 552.1,918.3 552.6,877.5 553.2,893.2 553.8,898.8 554.4,890.5 555.0,879.3 555.6,900.7 556.1,871.2 556.7,917.7 557.3,842.1 557.9,852.7 558.5,886.7 559.1,894.0 559.7,890.5 560.2,872.6 560.8,879.3 561.4,881.5 562.0,866.0 562.6,873.7 563.2,863.7 563.7,897.8 564.3,885.0 564.9,870.4 565.5,870.8 566.1,868.9 566.7,870.6 567.2,879.6 567.8,868.7 568.4,865.6 569.0,879.7 569.6,870.1 570.2,872.2 570.7,872.8 571.3,868.0 571.9,852.0 572.5,865.7 573.1,888.9 573.7,853.7 574.3,852.9 574.8,858.2 575.4,857.5 576.0,885.3 576.6,856.3 577.2,879.0 577.8,871.7 578.3,869.3 578.9,866.5 579.5,860.6 580.1,862.1 580.7,872.2 581.3,817.3 581.8,855.4 582.4,867.4 583.0,836.1 583.6,844.8 584.2,858.4 584.8,814.0 585.3,846.5 585.9,822.2 586.5,842.8 587.1,843.8 587.7,840.3 588.3,818.3 588.9,833.8 589.4,821.9 590.0,836.1 590.6,823.6 591.2,814.6 591.8,842.6 592.4,805.7 592.9,816.2 593.5,841.2 594.1,827.9 594.7,835.0 595.3,802.9 595.9,820.9 596.4,802.2 597.0,786.2 597.6,823.8 598.2,795.8 598.8,813.4 599.4,794.5 599.9,818.0 600.5,817.1 601.1,789.5 601.7,788.2 602.3,759.8 602.9,794.6 603.5,797.2 604.0,787.8 604.6,813.3 605.2,802.1 605.8,805.3 606.4,796.7 607.0,783.9 607.5,811.6 608.1,826.4 608.7,834.3 609.3,819.0 609.9,797.0 610.5,814.1 611.0,824.0 611.6,804.9 612.2,818.8 612.8,816.1 613.4,815.1 614.0,813.3 614.5,837.3 615.1,842.9 615.7,856.1 616.3,833.1 616.9,840.4 617.5,812.5 618.1,847.6 618.6,867.4 619.2,833.4 619.8,856.1 620.4,840.7 621.0,859.4 621.6,864.3 622.1,829.7 622.7,840.3 623.3,844.3 623.9,854.8 624.5,881.3 625.1,861.8 625.6,864.8 626.2,867.2 626.8,854.7 627.4,885.0 628.0,877.0 628.6,883.0 629.1,875.7 629.7,850.1 630.3,883.3 630.9,865.4 631.5,862.2 632.1,923.5 632.7,895.6 633.2,874.9 633.8,897.0 634.4,902.4 635.0,888.3 635.6,878.4 636.2,901.9 636.7,898.7 637.3,898.0 637.9,859.2 638.5,894.8 639.1,922.3 639.7,870.4 640.2,882.2 640.8,876.2 641.4,881.5 642.0,887.9 642.6,924.6 643.2,886.3 643.7,918.7 644.3,876.5 644.9,903.5 645.5,892.5 646.1,886.8 646.7,899.1 647.3,917.3 647.8,902.0 648.4,907.0 649.0,897.8 649.6,904.5 650.2,903.3 650.8,910.2 651.3,894.3 651.9,886.4 652.5,888.5 653.1,888.1 653.7,905.3 654.3,882.8 654.8,908.3 655.4,900.2 656.0,917.3 656.6,899.6 657.2,914.0 657.8,903.3 658.3,899.0 658.9,890.8 659.5,903.7 660.1,897.3 660.7,885.2 661.3,887.3 661.9,863.0 662.4,914.9 663.0,914.5 663.6,887.3 664.2,874.0 664.8,906.5 665.4,913.8 665.9,894.5 666.5,883.8 667.1,916.2 667.7,909.7 668.3,912.0 668.9,926.4 669.4,894.1 670.0,897.4 670.6,928.3 671.2,908.6 671.8,935.9 672.4,850.7 672.9,868.5 673.5,903.9 674.1,901.7 674.7,874.6 675.3,877.9 675.9,878.7 676.5,903.8 677.0,869.1 677.6,890.3 678.2,879.7 678.8,842.0 679.4,896.9 680.0,923.2 680.5,888.7 681.1,904.7 681.7,892.7 682.3,888.6 682.9,863.8 683.5,888.6 684.0,857.7 684.6,881.0 685.2,893.6 685.8,894.1 686.4,877.6 687.0,888.5 687.5,873.6 688.1,903.9 688.7,871.8 689.3,937.5 689.9,905.3 690.5,890.2 691.1,921.7 691.6,876.1 692.2,912.5 692.8,881.0 693.4,892.5 694.0,882.4 694.6,878.7 695.1,881.7 695.7,894.6 696.3,886.2 696.9,922.2 697.5,892.6 698.1,846.2 698.6,878.3 699.2,885.8 699.8,895.5 700.4,900.3 701.0,868.1 701.6,893.2 702.1,875.2 702.7,890.8 703.3,884.5 703.9,910.1 704.5,906.1 705.1,914.7 705.7,875.7 706.2,880.1 706.8,889.3 707.4,879.0 708.0,877.8 708.6,896.9 709.2,925.3 709.7,893.7 710.3,914.5 710.9,864.1 711.5,921.9 712.1,924.9 712.7,891.0 713.2,879.5 713.8,898.2 714.4,859.8 715.0,892.8 715.6,858.1 716.2,914.3 716.7,886.9 717.3,874.9 717.9,852.1 718.5,911.8 719.1,889.1 719.7,878.3 720.3,907.5 720.8,864.8 721.4,905.8 722.0,909.6 722.6,883.1 723.2,907.8 723.8,916.2 724.3,875.3 724.9,876.1 725.5,901.7 726.1,900.7 726.7,874.8 727.3,835.2 727.8,861.8 728.4,908.4 729.0,879.3 729.6,871.7 730.2,893.8 730.8,857.8 731.3,924.8 731.9,854.6 732.5,883.9 733.1,893.5 733.7,897.4 734.3,868.3 734.9,881.1 735.4,904.3 736.0,889.0 736.6,898.2 737.2,889.3 737.8,889.9 738.4,872.1 738.9,866.6 739.5,881.8 740.1,867.5 740.7,910.4 741.3,898.3 741.9,907.0 742.4,861.0 743.0,864.0 743.6,896.9 744.2,888.6 744.8,889.6 745.4,902.0 745.9,868.6 746.5,864.1 747.1,871.0 747.7,920.5 748.3,884.3 748.9,871.9 749.5,909.4 750.0,899.9 750.6,899.5 751.2,895.2 751.8,881.0 752.4,914.4 753.0,898.6 753.5,864.4 754.1,865.3 754.7,873.4 755.3,898.7 755.9,873.8 756.5,879.6 757.0,876.3 757.6,885.2 758.2,904.7 758.8,876.6 759.4,884.1 760.0,912.8 760.5,858.0 761.1,889.2 761.7,887.1 762.3,882.6 762.9,900.9 763.5,920.7 764.1,884.0 764.6,883.2 765.2,894.7 765.8,864.1 766.4,877.9 767.0,889.1 767.6,887.6 768.1,871.5 768.7,902.3 769.3,864.7 769.9,872.1 770.5,866.8 771.1,890.3 771.6,897.4 772.2,882.0 772.8,903.3 773.4,876.8 774.0,885.3 774.6,887.5 775.1,883.2 775.7,886.7 776.3,866.6 776.9,848.5 777.5,874.5 778.1,877.3 778.7,879.6 779.2,866.1 779.8,862.5 780.4,917.5 781.0,896.2 781.6,889.2 782.2,886.4 782.7,872.8 783.3,881.2 783.9,902.8 784.5,900.5 785.1,874.0 785.7,875.3 786.2,874.6 786.8,871.6 787.4,898.9 788.0,894.4 788.6,888.8 789.2,873.3 789.7,904.6 790.3,883.8 790.9,841.1 791.5,904.8 792.1,887.2 792.7,873.3 793.3,905.4 793.8,843.7 794.4,872.2 795.0,894.7 795.6,871.1 796.2,917.6 796.8,916.7 797.3,888.0 797.9,887.0 798.5,912.4 799.1,893.9 799.7,865.7 800.3,879.1 800.8,868.5 801.4,893.7 802.0,886.4 802.6,907.1 803.2,887.8 803.8,870.4 804.3,864.5 804.9,909.0 805.5,905.0 806.1,869.2 806.7,858.3 807.3,856.7 807.9,900.1 808.4,877.0 809.0,914.0 809.6,876.3 810.2,878.3 810.8,879.1 811.4,893.8 811.9,913.0 812.5,867.4 813.1,896.8 813.7,907.2 814.3,880.9 814.9,877.0 815.4,902.2 816.0,873.4 816.6,878.9 817.2,867.6 817.8,874.8 818.4,888.3 818.9,889.9 819.5,879.9 820.1,885.1 820.7,861.4 821.3,918.7 821.9,865.0 822.5,892.1 823.0,869.8 823.6,883.2 824.2,848.7 824.8,871.2 825.4,861.9 826.0,888.4 826.5,884.5 827.1,867.1 827.7,866.0 828.3,889.6 828.9,874.3 829.5,892.5 830.0,887.4 830.6,874.6 831.2,877.9 831.8,851.1 832.4,882.2 833.0,878.6 833.5,882.1 834.1,907.3 834.7,884.9 835.3,882.8 835.9,882.5 836.5,875.4 837.1,906.6 837.6,882.1 838.2,904.1 838.8,894.6 839.4,870.2 840.0,886.4 840.6,901.6 841.1,876.7 841.7,884.2 842.3,879.1 842.9,879.5 843.5,896.0 844.1,869.1 844.6,877.4 845.2,885.6 845.8,838.7 846.4,877.5 847.0,884.4 847.6,889.3 848.1,871.8 848.7,866.8 849.3,897.3 849.9,871.1 850.5,890.1 851.1,884.0 851.7,870.1 852.2,874.7 852.8,869.4 853.4,899.3 854.0,885.8 854.6,853.8 855.2,913.8 855.7,906.1 856.3,904.1 856.9,867.5 857.5,874.4 858.1,873.0 858.7,907.3 859.2,884.3 859.8,887.7 860.4,878.9 861.0,859.7 861.6,897.9 862.2,920.4 862.7,878.4 863.3,868.0 863.9,871.8 864.5,872.4 865.1,858.3 865.7,874.3 866.3,877.3 866.8,857.7 867.4,890.0 868.0,875.4 868.6,863.7 869.2,883.5 869.8,909.6 870.3,906.3 870.9,901.9 871.5,901.9 872.1,899.5 872.7,895.5 873.3,898.0 873.8,917.1 874.4,877.0 875.0,897.2 875.6,860.7 876.2,894.6 876.8,906.8 877.3,877.9 877.9,912.2 878.5,867.9 879.1,909.5 879.7,879.5 880.3,890.0 880.9,877.3 881.4,894.2 882.0,881.0 882.6,902.3 883.2,884.0 883.8,887.9 884.4,879.3 884.9,890.4 885.5,875.3 886.1,878.8 886.7,859.6 887.3,874.6 887.9,875.5 888.4,879.3 889.0,882.4 889.6,855.7 890.2,894.3 890.8,917.9 891.4,881.2 891.9,848.0 892.5,893.3 893.1,880.0 893.7,876.3 894.3,882.1 894.9,879.6 895.5,875.6 896.0,888.2 896.6,883.0 897.2,873.3 897.8,890.0 898.4,899.0 899.0,899.3 899.5,861.5 900.1,878.7 900.7,887.7 901.3,880.0 901.9,875.1 902.5,896.0 903.0,882.4 903.6,884.2 904.2,851.5 904.8,852.6 905.4,867.6 906.0,878.6 906.5,890.6 907.1,862.3 907.7,901.0 908.3,877.7 908.9,866.8 909.5,887.4 910.1,897.6 910.6,875.0 911.2,874.4 911.8,878.0 912.4,885.9 913.0,869.3 913.6,872.1 914.1,875.1 914.7,869.8 915.3,877.6 915.9,859.7 916.5,838.6 917.1,861.5 917.6,863.4 918.2,899.8 918.8,885.8 919.4,874.2 920.0,859.4 920.6,847.6 921.1,855.4 921.7,873.8 922.3,862.8 922.9,847.7 923.5,867.1 924.1,852.5 924.7,870.2 925.2,893.4 925.8,876.3 926.4,820.9 927.0,879.2 927.6,851.9 928.2,864.5 928.7,865.0 929.3,862.9 929.9,829.5 930.5,879.4 931.1,843.7 931.7,844.9 932.2,864.0 932.8,872.1 933.4,851.7 934.0,835.5 934.6,868.7 935.2,857.6 935.7,876.6 936.3,883.2 936.9,843.4 937.5,843.4 938.1,861.8 938.7,850.8 939.3,892.9 939.8,867.7 940.4,868.3 941.0,870.8 941.6,891.5 942.2,874.8 942.8,881.7 943.3,857.6 943.9,881.5 944.5,863.4 945.1,861.1 945.7,861.1 946.3,890.2 946.8,866.0 947.4,878.2 948.0,873.7 948.6,880.7 949.2,863.4 949.8,851.6 950.3,868.3 950.9,875.6 951.5,860.5 952.1,874.2 952.7,886.0 953.3,843.0 953.9,900.2 954.4,892.6 955.0,881.9 955.6,896.5 956.2,845.3 956.8,881.2 957.4,885.2 957.9,887.3 958.5,887.0 959.1,909.9 959.7,892.0 960.3,871.2 960.9,858.0 961.4,866.1 962.0,875.9 962.6,885.6 963.2,882.1 963.8,886.6 964.4,873.4 964.9,876.4 965.5,889.4 966.1,879.5 966.7,872.6 967.3,876.2 967.9,891.3 968.5,875.5 969.0,879.1 969.6,913.7 970.2,882.5 970.8,887.9 971.4,902.9 972.0,913.1 972.5,896.5 973.1,864.8 973.7,924.3 974.3,871.4 974.9,867.4 975.5,873.2 976.0,910.1 976.6,886.0 977.2,856.3 977.8,917.4 978.4,862.2 979.0,917.8 979.5,847.0 980.1,886.0 980.7,888.7 981.3,878.9 981.9,887.5 982.5,906.2 983.1,892.3 983.6,901.0 984.2,891.6 984.8,893.0 985.4,880.8 986.0,889.4 986.6,905.1 987.1,908.6 987.7,872.4 988.3,881.2 988.9,894.3 989.5,889.6 990.1,878.9 990.6,859.2 991.2,897.0 991.8,881.8 992.4,926.5 993.0,913.0 993.6,901.6 994.1,874.2 994.7,884.1 995.3,914.2 995.9,884.2 996.5,893.4 997.1,904.9 997.7,908.2 998.2,893.2 998.8,907.7 999.4,873.3 1000.0,900.4 1000.6,899.1 1001.2,928.5 1001.7,908.9 1002.3,866.8 1002.9,927.8 1003.5,947.2 1004.1,913.3 1004.7,916.0 1005.2,930.9 1005.8,905.7 1006.4,905.6 1007.0,910.9 1007.6,854.3 1008.2,898.9 1008.7,919.1 1009.3,918.6 1009.9,884.9 1010.5,905.9 1011.1,901.4 1011.7,899.3 1012.3,926.3 1012.8,897.7 1013.4,908.8 1014.0,923.1 1014.6,898.5 1015.2,913.4 1015.8,898.3 1016.3,914.2 1016.9,913.3 1017.5,925.7 1018.1,908.7 1018.7,911.9 1019.3,891.4 1019.8,907.3 1020.4,901.4 1021.0,897.7 1021.6,913.2 1022.2,919.2 1022.8,918.3 1023.3,937.0 1023.9,910.6 1024.5,907.7 1025.1,885.3 1025.7,937.4 1026.3,930.8 1026.9,929.8 1027.4,907.5 1028.0,910.0 1028.6,910.6 1029.2,899.0 1029.8,925.6 1030.4,918.1 1030.9,939.1 1031.5,922.7 1032.1,916.5 1032.7,930.3 1033.3,931.1 1033.9,902.6 1034.4,894.2 1035.0,901.3 1035.6,934.5 1036.2,929.9 1036.8,941.2 1037.4,921.0 1037.9,926.0 1038.5,913.8 1039.1,951.2 1039.7,931.0 1040.3,944.6 1040.9,927.9 1041.5,908.1 1042.0,935.9 1042.6,896.1 1043.2,932.9 1043.8,918.3 1044.4,926.5 1045.0,901.3 1045.5,921.3 1046.1,910.2 1046.7,906.7 1047.3,942.3 1047.9,928.3 1048.5,914.3 1049.0,909.8 1049.6,914.2 1050.2,922.8 1050.8,925.3 1051.4,921.6 1052.0,893.1 1052.5,920.4 1053.1,923.9 1053.7,931.8 1054.3,919.7 1054.9,917.7 1055.5,921.2 1056.1,911.7 1056.6,952.6 1057.2,908.2 1057.8,905.0 1058.4,924.4 1059.0,924.2 1059.6,930.1 1060.1,917.3 1060.7,911.3 1061.3,906.4 1061.9,920.1 1062.5,924.2 1063.1,919.3 1063.6,901.0 1064.2,899.7 1064.8,937.2 1065.4,920.5 1066.0,917.3 1066.6,948.0 1067.1,934.4 1067.7,899.5 1068.3,915.0 1068.9,934.0 1069.5,928.2 1070.1,922.7 1070.7,942.0 1071.2,896.0 1071.8,928.9 1072.4,907.6 1073.0,933.9 1073.6,913.6 1074.2,888.9 1074.7,917.2 1075.3,873.7 1075.9,929.2 1076.5,916.7 1077.1,929.3 1077.7,915.1 1078.2,912.8 1078.8,931.8 1079.4,921.2 1080.0,885.6 1080.6,899.4 1081.2,929.9 1081.7,887.7 1082.3,885.8 1082.9,891.6 1083.5,880.7 1084.1,905.0 1084.7,899.0 1085.3,917.0 1085.8,896.3 1086.4,924.9 1087.0,895.0 1087.6,912.9 1088.2,916.5 1088.8,903.5 1089.3,893.9 1089.9,875.6 1090.5,878.7 1091.1,903.5 1091.7,888.4 1092.3,903.1 1092.8,882.5 1093.4,892.7 1094.0,893.1 1094.6,902.8 1095.2,885.4 1095.8,901.4 1096.3,864.3 1096.9,869.3 1097.5,890.0 1098.1,885.5 1098.7,894.7 1099.3,861.9 1099.9,890.6 1100.4,859.5 1101.0,905.4 1101.6,873.4 1102.2,877.0 1102.8,892.2 1103.4,888.6 1103.9,874.0 1104.5,879.0 1105.1,907.4 1105.7,866.4 1106.3,904.0 1106.9,871.6 1107.4,860.9 1108.0,898.5 1108.6,888.2 1109.2,879.5 1109.8,893.3 1110.4,874.2 1110.9,868.2 1111.5,882.2 1112.1,876.7 1112.7,860.7 1113.3,888.7 1113.9,874.6 1114.5,891.4 1115.0,918.0 1115.6,844.5 1116.2,870.8 1116.8,866.5 1117.4,840.8 1118.0,864.3 1118.5,815.1 1119.1,833.0 1119.7,860.9 1120.3,825.2 1120.9,833.7 1121.5,840.1 1122.0,819.2 1122.6,826.1 1123.2,839.4 1123.8,833.1 1124.4,824.7 1125.0,844.4 1125.5,817.6 1126.1,828.5 1126.7,814.3 1127.3,788.4 1127.9,791.2 1128.5,809.6 1129.1,776.0 1129.6,796.9 1130.2,799.9 1130.8,769.4 1131.4,754.7 1132.0,795.0 1132.6,794.9 1133.1,762.4 1133.7,774.9 1134.3,748.0 1134.9,720.9 1135.5,721.7 1136.1,720.4 1136.6,658.2 1137.2,707.7 1137.8,719.4 1138.4,708.2 1139.0,688.8 1139.6,686.1 1140.1,660.5 1140.7,704.0 1141.3,660.7 1141.9,708.3 1142.5,705.1 1143.1,695.6 1143.7,712.1 1144.2,721.4 1144.8,701.7 1145.4,696.6 1146.0,740.8 1146.6,735.5 1147.2,750.8 1147.7,740.3 1148.3,788.1 1148.9,790.1 1149.5,764.4 1150.1,764.6 1150.7,804.1 1151.2,805.3 1151.8,806.1 1152.4,812.6 1153.0,829.9 1153.6,835.7 1154.2,838.4 1154.7,863.5 1155.3,863.6 1155.9,807.6 1156.5,857.6 1157.1,867.1 1157.7,824.0 1158.3,840.9 1158.8,845.8 1159.4,866.2 1160.0,862.8 1160.6,861.2 1161.2,859.5 1161.8,870.5 1162.3,861.1 1162.9,841.5 1163.5,841.3 1164.1,845.7 1164.7,882.8 1165.3,861.0 1165.8,866.2 1166.4,880.8 1167.0,860.8 1167.6,824.8 1168.2,859.1 1168.8,844.9 1169.3,845.2 1169.9,842.1 1170.5,850.0 1171.1,833.3 1171.7,865.7 1172.3,860.3 1172.9,856.7 1173.4,855.2 1174.0,833.1 1174.6,861.5 1175.2,833.2 1175.8,822.8 1176.4,841.8 1176.9,848.3 1177.5,848.6 1178.1,861.5 1178.7,839.1 1179.3,862.8 1179.9,867.4 1180.4,850.0 1181.0,830.4 1181.6,867.1 1182.2,848.4 1182.8,851.7 1183.4,828.8 1183.9,824.1 1184.5,876.2 1185.1,865.6 1185.7,843.2 1186.3,849.2 1186.9,838.9 1187.5,857.8 1188.0,828.4 1188.6,872.3 1189.2,867.6 1189.8,879.3 1190.4,865.1 1191.0,874.3 1191.5,872.7 1192.1,875.1 1192.7,859.8 1193.3,886.2 1193.9,851.4 1194.5,864.0 1195.0,872.1 1195.6,908.6 1196.2,861.2 1196.8,881.9 1197.4,885.7 1198.0,856.6 1198.5,919.2 1199.1,900.5 1199.7,891.4 1200.3,885.5 1200.9,902.0 1201.5,858.2 1202.1,918.3 1202.6,891.0 1203.2,912.8 1203.8,884.2 1204.4,892.0 1205.0,867.7 1205.6,900.4 1206.1,905.5 1206.7,897.9 1207.3,933.5 1207.9,909.7 1208.5,911.9 1209.1,901.3 1209.6,925.9 1210.2,911.8 1210.8,919.1 1211.4,906.8 1212.0,939.8 1212.6,943.8 1213.1,919.6 1213.7,930.7 1214.3,916.2 1214.9,940.5 1215.5,940.5 1216.1,917.1 1216.7,937.2 1217.2,902.2 1217.8,927.7 1218.4,914.8 1219.0,933.7 1219.6,934.8 1220.2,912.3 1220.7,915.8 1221.3,925.8 1221.9,929.0 1222.5,930.5 1223.1,936.7 1223.7,929.1 1224.2,965.5 1224.8,943.5 1225.4,928.5 1226.0,956.6 1226.6,948.9 1227.2,957.0 1227.7,957.7 1228.3,925.7 1228.9,936.7 1229.5,941.2 1230.1,921.4 1230.7,952.5 1231.3,934.0 1231.8,955.4 1232.4,957.2 1233.0,940.9 1233.6,919.8 1234.2,958.0 1234.8,937.5 1235.3,958.3 1235.9,921.6 1236.5,971.9 1237.1,954.4 1237.7,963.3 1238.3,955.0 1238.8,974.0 1239.4,978.2 1240.0,944.5 1240.6,950.4 1241.2,964.5 1241.8,969.7 1242.3,926.9 1242.9,961.5 1243.5,937.8 1244.1,976.2 1244.7,964.5 1245.3,945.3 1245.9,946.4 1246.4,983.4 1247.0,986.8 1247.6,959.1 1248.2,954.1 1248.8,969.7 1249.4,946.4 1249.9,959.4 1250.5,966.9 1251.1,967.4 1251.7,969.4 1252.3,958.9 1252.9,957.9 1253.4,942.9 1254.0,933.8 1254.6,968.1 1255.2,959.1 1255.8,983.7 1256.4,970.3 1256.9,938.6 1257.5,975.5 1258.1,950.6 1258.7,958.2 1259.3,952.8 1259.9,933.8 1260.5,984.7 1261.0,960.3 1261.6,968.2 1262.2,956.5 1262.8,948.5 1263.4,953.9 1264.0,988.1 1264.5,955.0 1265.1,946.7 1265.7,992.8 1266.3,958.7 1266.9,953.1 1267.5,980.2 1268.0,952.6 1268.6,970.1 1269.2,964.3 1269.8,952.3 1270.4,946.4 1271.0,983.9 1271.5,978.6 1272.1,993.9 1272.7,967.6 1273.3,964.7 1273.9,970.2 1274.5,974.4 1275.1,984.2 1275.6,938.7 1276.2,981.0 1276.8,961.9 1277.4,970.8 1278.0,955.9 1278.6,967.5 1279.1,992.1 1279.7,938.1 1280.3,973.2 1280.9,967.4 1281.5,962.7 1282.1,966.8 1282.6,973.5 1283.2,961.1 1283.8,966.4 1284.4,964.8 1285.0,970.3 1285.6,962.3 1286.1,965.6 1286.7,979.0 1287.3,973.5 1287.9,986.7 1288.5,962.0 1289.1,940.0 1289.7,966.3 1290.2,954.2 1290.8,953.0 1291.4,970.7 1292.0,962.4 1292.6,972.2 1293.2,991.0 1293.7,992.4 1294.3,973.4 1294.9,977.4 1295.5,980.9 1296.1,985.5 1296.7,948.8 1297.2,944.0 1297.8,988.1 1298.4,956.2 1299.0,939.6 1299.6,966.6 1300.2,953.5 1300.7,984.6 1301.3,985.3 1301.9,973.1 1302.5,964.6 1303.1,969.2 1303.7,959.8 1304.3,967.9 1304.8,969.8 1305.4,959.4 1306.0,960.9 1306.6,960.5 1307.2,989.8 1307.8,966.3 1308.3,951.6 1308.9,982.2 1309.5,962.5 1310.1,957.8 1310.7,926.2 1311.3,951.8 1311.8,944.4 1312.4,962.0 1313.0,958.1 1313.6,965.6 1314.2,966.6 1314.8,948.8 1315.3,931.1 1315.9,968.8 1316.5,956.6 1317.1,950.3 1317.7,945.0 1318.3,947.2 1318.9,999.0 1319.4,955.1 1320.0,968.8 1320.6,951.2 1321.2,939.8 1321.8,975.0 1322.4,979.5 1322.9,983.9 1323.5,962.6 1324.1,956.8 1324.7,976.5 1325.3,966.6 1325.9,978.3 1326.4,973.0 1327.0,991.8 1327.6,961.0 1328.2,966.0 1328.8,940.1 1329.4,974.4 1329.9,952.9 1330.5,975.8 1331.1,943.6 1331.7,965.0 1332.3,946.2 1332.9,945.0 1333.5,950.2 1334.0,1001.3 1334.6,955.2 1335.2,934.7 1335.8,967.1 1336.4,954.3 1337.0,938.3 1337.5,967.1 1338.1,933.4 1338.7,933.3 1339.3,923.3 1339.9,945.0 1340.5,936.1 1341.0,948.8 1341.6,968.2 1342.2,922.0 1342.8,936.2 1343.4,938.1 1344.0,950.6 1344.5,933.6 1345.1,925.6 1345.7,944.7 1346.3,925.6 1346.9,931.0 1347.5,941.3 1348.1,931.7 1348.6,946.4 1349.2,938.9 1349.8,910.3 1350.4,924.2 1351.0,918.6 1351.6,902.4 1352.1,910.3 1352.7,917.7 1353.3,912.6 1353.9,912.7 1354.5,889.1 1355.1,893.6 1355.6,908.6 1356.2,886.8 1356.8,893.4 1357.4,922.2 1358.0,896.8 1358.6,904.1 1359.1,935.6 1359.7,907.7 1360.3,914.7 1360.9,898.1 1361.5,914.3 1362.1,912.7 1362.7,904.0 1363.2,897.4 1363.8,917.9 1364.4,919.8 1365.0,932.4 1365.6,950.4 1366.2,935.1 1366.7,941.1 1367.3,925.4 1367.9,934.3 1368.5,950.0 1369.1,962.1 1369.7,924.2 1370.2,946.6 1370.8,958.7 1371.4,940.9 1372.0,966.3 1372.6,939.7 1373.2,947.0 1373.7,955.2 1374.3,934.3 1374.9,943.8 1375.5,953.9 1376.1,953.1 1376.7,971.9 1377.3,950.2 1377.8,954.6 1378.4,946.1 1379.0,948.2 1379.6,969.5 1380.2,972.8 1380.8,964.2 1381.3,966.0 1381.9,953.9 1382.5,965.0 1383.1,988.2 1383.7,987.0 1384.3,933.2 1384.8,972.1 1385.4,986.1 1386.0,954.8 1386.6,978.8 1387.2,987.5 1387.8,952.4 1388.3,971.7 1388.9,975.4 1389.5,969.6 1390.1,948.3 1390.7,979.1 1391.3,989.9 1391.9,962.8 1392.4,959.6 1393.0,988.9 1393.6,965.1 1394.2,976.7 1394.8,984.1 1395.4,969.3 1395.9,981.7 1396.5,984.2 1397.1,974.6 1397.7,948.1 1398.3,965.7 1398.9,981.3 1399.4,957.5 1400.0,956.6 1400.6,979.6 1401.2,982.1 1401.8,961.5 1402.4,988.6 1402.9,982.1 1403.5,959.5 1404.1,987.9 1404.7,956.4 1405.3,976.4 1405.9,989.0 1406.5,981.2 1407.0,968.2 1407.6,969.0 1408.2,1004.2 1408.8,967.2 1409.4,995.1 1410.0,979.1 1410.5,975.9 1411.1,977.5 1411.7,1005.2 1412.3,967.3 1412.9,985.5 1413.5,981.4 1414.0,988.8 1414.6,959.8 1415.2,986.3 1415.8,985.2 1416.4,977.0 1417.0,990.7 1417.5,954.9 1418.1,960.1 1418.7,973.8 1419.3,1001.8 1419.9,979.7 1420.5,980.0 1421.1,997.0 1421.6,983.6 1422.2,974.5 1422.8,1007.0 1423.4,991.2 1424.0,987.2 1424.6,975.8 1425.1,988.9 1425.7,962.7 1426.3,982.4 1426.9,987.4 1427.5,997.0 1428.1,1000.0 1428.6,988.4 1429.2,997.6 1429.8,975.5 1430.4,980.0 1431.0,986.6 1431.6,999.1 1432.1,991.8 1432.7,963.8 1433.3,954.0 1433.9,985.7 1434.5,966.4 1435.1,968.1 1435.7,989.0 1436.2,984.0 1436.8,1000.2 1437.4,971.9 1438.0,972.3 1438.6,990.8 1439.2,1004.4 1439.7,1003.0 1440.3,964.3 1440.9,974.9 1441.5,992.3 1442.1,994.9 1442.7,977.7 1443.2,970.2 1443.8,973.2 1444.4,1006.0 1445.0,990.6 1445.6,949.5 1446.2,951.6 1446.7,990.5 1447.3,970.0 1447.9,988.0 1448.5,977.9 1449.1,971.5 1449.7,987.5 1450.3,967.9 1450.8,993.3 1451.4,970.5 1452.0,969.7 1452.6,969.2 1453.2,985.9 1453.8,1002.0 1454.3,984.6 1454.9,995.4 1455.5,973.0 1456.1,1002.6 1456.7,973.1 1457.3,969.1 1457.8,994.5 1458.4,995.1 1459.0,1005.5 1459.6,1026.5 1460.2,980.2 1460.8,1000.4 1461.3,972.8 1461.9,989.9 1462.5,965.3 1463.1,1013.1 1463.7,991.9 1464.3,988.4 1464.9,977.0 1465.4,988.7 1466.0,983.8 1466.6,999.4 1467.2,982.7 1467.8,971.4 1468.4,994.0 1468.9,988.2 1469.5,984.4 1470.1,1001.4 1470.7,972.8 1471.3,979.7 1471.9,990.9 1472.4,989.5 1473.0,976.6 1473.6,970.3 1474.2,997.9 1474.8,998.9 1475.4,1015.0 1475.9,983.9 1476.5,991.2 1477.1,984.8 1477.7,992.5 1478.3,996.9 1478.9,999.8 1479.5,1004.5 1480.0,995.5 1480.6,989.7 1481.2,1000.0 1481.8,979.7 1482.4,995.3 1483.0,988.0 1483.5,1008.4 1484.1,1002.1 1484.7,1003.2 1485.3,989.2 1485.9,976.7 1486.5,979.9 1487.0,982.7 1487.6,991.4 1488.2,987.4 1488.8,988.8 1489.4,998.9 1490.0,999.9 1490.5,995.7 1491.1,988.6 1491.7,1002.7 1492.3,980.9 1492.9,990.6 1493.5,982.1 1494.1,993.7 1494.6,967.3 1495.2,990.9 1495.8,973.6 1496.4,968.0 1497.0,981.6 1497.6,991.6 1498.1,984.6 1498.7,1001.6 1499.3,1002.7 1499.9,974.7 1500.5,965.6 1501.1,973.4 1501.6,1003.2 1502.2,978.9 1502.8,989.2 1503.4,1005.3 1504.0,978.1 1504.6,982.3 1505.1,990.2 1505.7,989.0 1506.3,993.5 1506.9,983.4 1507.5,979.3 1508.1,981.0 1508.7,974.4 1509.2,998.5 1509.8,990.4 1510.4,983.2 1511.0,1020.2 1511.6,976.6 1512.2,976.0 1512.7,974.6 1513.3,978.2 1513.9,994.3 1514.5,990.5 1515.1,972.2 1515.7,995.2 1516.2,1016.9 1516.8,1000.3 1517.4,999.6 1518.0,994.0 1518.6,978.5 1519.2,1018.5 1519.7,996.2 1520.3,1016.2 1520.9,1000.6 1521.5,1007.2 1522.1,993.8 1522.7,992.5 1523.3,966.2 1523.8,1006.9 1524.4,1004.5 1525.0,984.5 1525.6,990.9 1526.2,991.6 1526.8,988.6 1527.3,988.0 1527.9,999.5 1528.5,986.3 1529.1,995.6 1529.7,1000.6 1530.3,978.6 1530.8,996.4 1531.4,992.6 1532.0,997.5 1532.6,988.7 1533.2,979.8 1533.8,1000.9 1534.3,968.9 1534.9,963.4 1535.5,1005.6 1536.1,991.9 1536.7,969.2 1537.3,969.5 1537.9,982.0 1538.4,964.1 1539.0,1000.9 1539.6,961.0 1540.2,971.2 1540.8,978.6 1541.4,984.7 1541.9,958.6 1542.5,959.7 1543.1,993.7 1543.7,1002.5 1544.3,981.8 1544.9,974.2 1545.4,1002.8 1546.0,1014.6 1546.6,993.0 1547.2,967.4 1547.8,980.7 1548.4,989.1 1548.9,968.6 1549.5,992.4 1550.1,986.9 1550.7,997.8 1551.3,992.0 1551.9,1008.2 1552.5,1007.0 1553.0,977.0 1553.6,1007.4 1554.2,993.7 1554.8,984.8 1555.4,971.2 1556.0,969.7 1556.5,987.2 1557.1,1002.2 1557.7,976.4 1558.3,972.9 1558.9,960.2 1559.5,1003.9 1560.0,967.5 1560.6,978.5 1561.2,983.2 1561.8,986.8 1562.4,988.1 1563.0,997.4 1563.5,976.6 1564.1,986.0 1564.7,993.2 1565.3,987.1 1565.9,979.4 1566.5,990.8 1567.1,989.4 1567.6,976.8 1568.2,982.0 1568.8,982.8 1569.4,984.1 1570.0,1009.4 1570.6,964.7 1571.1,1004.1 1571.7,986.0 1572.3,995.9 1572.9,984.7 1573.5,965.1 1574.1,990.7 1574.6,984.0 1575.2,1011.3 1575.8,955.4 1576.4,1012.7 1577.0,963.3 1577.6,967.4 1578.1,978.7 1578.7,990.5 1579.3,1000.3 1579.9,1000.8 1580.5,991.3 1581.1,987.6 1581.7,968.9 1582.2,998.5 1582.8,984.7 1583.4,961.9 1584.0,961.7 1584.6,1004.8 1585.2,967.8 1585.7,981.5 1586.3,964.8 1586.9,991.0 1587.5,971.6 1588.1,986.1 1588.7,985.3 1589.2,994.9 1589.8,977.1 1590.4,966.8 1591.0,998.0 1591.6,963.8 1592.2,984.8 1592.7,984.1 1593.3,979.7 1593.9,978.8 1594.5,1000.3 1595.1,966.6 1595.7,983.8 1596.3,970.3 1596.8,1025.6 1597.4,986.8 1598.0,988.4 1598.6,962.6 1599.2,963.3 1599.8,964.0 1600.3,974.4 1600.9,1002.4 1601.5,993.6 1602.1,981.4 1602.7,976.8 1603.3,976.9 1603.8,991.7 1604.4,981.4 1605.0,993.9 1605.6,986.8 1606.2,978.0 1606.8,984.9 1607.3,979.0 1607.9,970.6 1608.5,965.2 1609.1,982.9 1609.7,999.7 1610.3,978.0 1610.9,1002.3 1611.4,972.0 1612.0,976.1 1612.6,998.6 1613.2,980.4 1613.8,978.6 1614.4,986.6 1614.9,981.8 1615.5,980.2 1616.1,987.0 1616.7,995.3 1617.3,966.1 1617.9,996.0 1618.4,959.0 1619.0,983.5 1619.6,976.8 1620.2,989.3 1620.8,1002.5 1621.4,993.4 1621.9,984.2 1622.5,981.8 1623.1,991.3 1623.7,966.6 1624.3,963.5 1624.9,973.3 1625.5,959.6 1626.0,994.4 1626.6,1008.9 1627.2,983.4 1627.8,968.2 1628.4,973.0 1629.0,957.8 1629.5,974.0 1630.1,1003.6 1630.7,996.2 1631.3,991.6 1631.9,994.0 1632.5,967.8 1633.0,975.0 1633.6,995.5 1634.2,990.3 1634.8,994.5 1635.4,979.3 1636.0,968.8 1636.5,999.6 1637.1,981.7 1637.7,968.2 1638.3,1005.9 1638.9,974.2 1639.5,980.1 1640.1,1006.4 1640.6,992.4 1641.2,978.4 1641.8,983.9 1642.4,973.8 1643.0,979.8 1643.6,1000.1 1644.1,948.4 1644.7,974.8 1645.3,993.7 1645.9,958.0 1646.5,980.8 1647.1,1010.8 1647.6,1011.1 1648.2,977.9 1648.8,983.4 1649.4,993.4 1650.0,963.5 1650.6,967.9 1651.1,965.8 1651.7,989.0 1652.3,968.0 1652.9,1000.5 1653.5,977.1 1654.1,974.7 1654.7,992.6 1655.2,967.3 1655.8,982.0 1656.4,985.5 1657.0,983.8 1657.6,1006.9 1658.2,998.5 1658.7,1006.5 1659.3,984.5 1659.9,966.5 1660.5,980.7 1661.1,998.9 1661.7,1004.0 1662.2,982.9 1662.8,972.8 1663.4,981.2 1664.0,965.2 1664.6,986.1 1665.2,972.6 1665.7,966.1 1666.3,962.7 1666.9,1004.4 1667.5,978.7 1668.1,994.8 1668.7,996.9 1669.3,994.9 1669.8,988.0 1670.4,957.7 1671.0,972.0 1671.6,969.4 1672.2,1000.3 1672.8,999.1 1673.3,993.6 1673.9,984.5 1674.5,1003.7 1675.1,996.2 1675.7,1001.1 1676.3,985.7 1676.8,985.8 1677.4,982.8 1678.0,983.4 1678.6,972.7 1679.2,979.5 1679.8,978.0 1680.3,1009.4 1680.9,1004.5 1681.5,1002.7 1682.1,977.9 1682.7,987.3 1683.3,1002.3 1683.9,989.9 1684.4,979.9 1685.0,997.1 1685.6,1003.9 1686.2,1011.6 1686.8,1000.9 1687.4,985.4 1687.9,1001.3 1688.5,998.6 1689.1,963.7 1689.7,1009.2 1690.3,1002.7 1690.9,997.2 1691.4,1017.3 1692.0,1001.4 1692.6,1009.3 1693.2,1004.6 1693.8,982.4 1694.4,992.9 1694.9,995.7 1695.5,993.8 1696.1,1013.7 1696.7,973.5 1697.3,996.4 1697.9,975.5 1698.5,1017.0 1699.0,1006.3 1699.6,1008.6 1700.2,974.2 1700.8,997.7 1701.4,999.6 1702.0,975.6 1702.5,1015.1 1703.1,1027.2 1703.7,988.6 1704.3,1001.9 1704.9,976.9 1705.5,990.2 1706.0,1006.2 1706.6,997.4 1707.2,1009.8 1707.8,989.7 1708.4,1005.0 1709.0,963.4 1709.5,975.7 1710.1,988.9 1710.7,988.2 1711.3,1015.1 1711.9,1009.2 1712.5,991.4 1713.1,983.2 1713.6,981.7 1714.2,988.4 1714.8,990.1 1715.4,998.2 1716.0,986.2 1716.6,977.7 1717.1,992.0 1717.7,1002.0 1718.3,992.3 1718.9,998.7 1719.5,982.4 1720.1,1005.9 1720.6,998.3 1721.2,1017.5 1721.8,993.3 1722.4,1010.2 1723.0,985.9 1723.6,1001.9 1724.1,985.4 1724.7,974.8 1725.3,986.7 1725.9,982.2 1726.5,994.3 1727.1,995.4 1727.7,987.2 1728.2,968.0 1728.8,1000.9 1729.4,1002.1 1730.0,974.3 1730.6,985.2 1731.2,1007.3 1731.7,990.6 1732.3,985.9 1732.9,1012.5 1733.5,991.1 1734.1,1000.7 1734.7,997.2 1735.2,990.2 1735.8,985.0 1736.4,981.3 1737.0,996.1 1737.6,990.8 1738.2,991.3 1738.7,968.6 1739.3,982.3 1739.9,973.8 1740.5,996.8 1741.1,976.1 1741.7,974.2 1742.3,976.3 1742.8,998.4 1743.4,995.7 1744.0,991.0 1744.6,990.6 1745.2,980.2 1745.8,977.2 1746.3,983.4 1746.9,985.3 1747.5,982.2 1748.1,1010.1 1748.7,997.9 1749.3,1002.8 1749.8,989.7 1750.4,984.8 1751.0,965.9 1751.6,974.4 1752.2,994.2 1752.8,994.7 1753.3,992.5 1753.9,987.0 1754.5,1015.0 1755.1,986.6 1755.7,990.0 1756.3,1021.3 1756.9,973.4 1757.4,970.2 1758.0,987.3 1758.6,994.8 1759.2,958.2 1759.8,992.9 1760.4,992.9 1760.9,1001.0 1761.5,1002.9 1762.1,960.9 1762.7,965.0 1763.3,957.8 1763.9,983.6 1764.4,945.4 1765.0,984.4 1765.6,980.8 1766.2,963.3 1766.8,966.5 1767.4,957.5 1767.9,956.1 1768.5,967.7 1769.1,979.3 1769.7,985.6 1770.3,984.4 1770.9,951.0 1771.5,937.5 1772.0,968.3 1772.6,969.6 1773.2,951.4 1773.8,976.0 1774.4,988.2 1775.0,947.2 1775.5,951.5 1776.1,953.2 1776.7,939.0 1777.3,964.2 1777.9,945.6 1778.5,976.6 1779.0,974.5 1779.6,935.8 1780.2,934.4 1780.8,945.4 1781.4,973.2 1782.0,941.9 1782.5,958.4 1783.1,947.8 1783.7,940.9 1784.3,951.6 1784.9,952.0 1785.5,927.6 1786.1,937.7 1786.6,925.9 1787.2,914.3 1787.8,942.2 1788.4,906.5 1789.0,919.9 1789.6,940.7 1790.1,942.4 1790.7,910.8 1791.3,919.2 1791.9,904.5 1792.5,894.3 1793.1,903.3 1793.6,903.4 1794.2,927.2 1794.8,915.1 1795.4,901.0 1796.0,911.4 1796.6,912.8 1797.1,921.4 1797.7,901.4 1798.3,912.2 1798.9,928.8 1799.5,921.0 1800.1,915.3 1800.7,895.0 1801.2,919.1 1801.8,895.9 1802.4,890.9 1803.0,913.4 1803.6,915.8 1804.2,916.5 1804.7,911.3 1805.3,899.4 1805.9,918.3 1806.5,934.3 1807.1,938.8 1807.7,948.0 1808.2,918.8 1808.8,922.9 1809.4,905.6 1810.0,945.7 1810.6,932.4 1811.2,951.6 1811.7,933.4 1812.3,933.7 1812.9,952.9 1813.5,943.6 1814.1,924.5 1814.7,962.3 1815.3,976.8 1815.8,944.2 1816.4,930.0 1817.0,961.0 1817.6,946.6 1818.2,962.2 1818.8,950.6 1819.3,954.4 1819.9,950.5 1820.5,955.5 1821.1,948.2 1821.7,963.4 1822.3,948.0 1822.8,972.6 1823.4,987.5 1824.0,967.6 1824.6,961.3 1825.2,946.9 1825.8,976.1 1826.3,987.3 1826.9,960.4 1827.5,993.8 1828.1,969.3 1828.7,991.1 1829.3,964.7 1829.9,983.1 1830.4,998.2 1831.0,981.0 1831.6,980.4 1832.2,976.5 1832.8,991.6 1833.4,968.0 1833.9,979.6 1834.5,976.5 1835.1,985.2 1835.7,1003.5 1836.3,977.4 1836.9,975.6 1837.4,994.6 1838.0,988.6 1838.6,980.6 1839.2,994.1 1839.8,961.6 1840.4,993.2 1840.9,1005.9 1841.5,1002.3 1842.1,1005.6 1842.7,997.2 1843.3,996.9 1843.9,1003.4 1844.5,986.0 1845.0,1002.7 1845.6,989.3 1846.2,1006.2 1846.8,1000.2 1847.4,1006.5 1848.0,993.5 1848.5,991.3 1849.1,1017.8 1849.7,1024.0 1850.3,997.6 1850.9,998.9 1851.5,1012.3 1852.0,1014.4 1852.6,1029.3 1853.2,1008.1 1853.8,1023.6 1854.4,1001.5 1855.0,988.6 1855.5,1015.9 1856.1,998.4 1856.7,1022.9 1857.3,1032.9 1857.9,994.6 1858.5,1014.3 1859.1,1029.0 1859.6,1006.2 1860.2,1032.5 1860.8,1016.3 1861.4,1019.4 1862.0,1004.6 1862.6,1007.7 1863.1,1023.0 1863.7,1027.8 1864.3,1028.3 1864.9,1019.9 1865.5,1005.1 1866.1,1025.7 1866.6,1061.1 1867.2,1018.6 1867.8,1023.7 1868.4,1030.6 1869.0,1006.9 1869.6,1004.9 1870.1,1024.0 1870.7,998.0 1871.3,1026.9 1871.9,1044.3 1872.5,1029.7 1873.1,1015.1 1873.7,1016.7 1874.2,1019.1 1874.8,1012.5 1875.4,1011.5 1876.0,1027.9 1876.6,1025.3 1877.2,1016.3 1877.7,1035.0 1878.3,1007.4 1878.9,1017.7 1879.5,1012.9 1880.1,1018.6 1880.7,1014.3 1881.2,1022.5 1881.8,1022.1 1882.4,1006.6 1883.0,1026.2 1883.6,1019.0 1884.2,1011.5 1884.7,1027.7 1885.3,1026.8 1885.9,1036.9 1886.5,987.9 1887.1,1020.6 1887.7,1018.2 1888.3,1006.9 1888.8,1000.4 1889.4,993.3 1890.0,1031.9 1890.6,1012.5 1891.2,1037.1 1891.8,1020.6 1892.3,1035.9 1892.9,1019.9 1893.5,1029.1 1894.1,1018.6 1894.7,1010.9 1895.3,1018.4 1895.8,1020.7 1896.4,1025.7 1897.0,1041.2 1897.6,1029.1 1898.2,1036.2 1898.8,1029.1 1899.3,1015.4 1899.9,1039.2 1900.5,1020.5 1901.1,1047.4 1901.7,1021.8 1902.3,1046.9 1902.9,1012.4 1903.4,1031.9 1904.0,1023.1 1904.6,1018.9 1905.2,1019.9 1905.8,1021.3 1906.4,1027.8 1906.9,1020.2 1907.5,1015.2 1908.1,1006.9 1908.7,1004.4 1909.3,1026.4 1909.9,1028.3 1910.4,1027.3 1911.0,1010.1 1911.6,1036.3 1912.2,1025.4 1912.8,1051.4 1913.4,1031.9 1913.9,1022.5 1914.5,1031.1 1915.1,1010.3 1915.7,1012.2 1916.3,1022.8 1916.9,1022.0 1917.5,1018.9 1918.0,1023.3 1918.6,1036.9 1919.2,1037.5 1919.8,1047.0 1920.4,1016.4 1921.0,1024.2 1921.5,1025.3 1922.1,1035.0 1922.7,1048.7 1923.3,1020.9 1923.9,1023.4 1924.5,1010.8 1925.0,1026.1 1925.6,1017.1 1926.2,1006.1 1926.8,1031.7 1927.4,1019.4 1928.0,1036.8 1928.5,1022.6 1929.1,1017.2 1929.7,1017.2 1930.3,1019.3 1930.9,1017.4 1931.5,1001.9 1932.1,1023.1 1932.6,1033.8 1933.2,1059.6 1933.8,1045.9 1934.4,1041.7 1935.0,1029.1 1935.6,1013.8 1936.1,1033.7 1936.7,1017.3 1937.3,1014.6 1937.9,1034.1 1938.5,1026.4 1939.1,1007.4 1939.6,1014.2 1940.2,1005.6 1940.8,1030.5 1941.4,1013.0 1942.0,1017.3 1942.6,996.4 1943.1,1038.8 1943.7,1006.1 1944.3,1021.3 1944.9,1037.9 1945.5,1040.1 1946.1,1044.6 1946.7,1043.4 1947.2,1027.7 1947.8,1009.7 1948.4,1039.4 1949.0,1058.5 1949.6,1010.4 1950.2,1021.6 1950.7,1036.5 1951.3,1030.2 1951.9,1048.3 1952.5,1025.8 1953.1,1021.3 1953.7,1030.1 1954.2,1012.2 1954.8,1017.5 1955.4,1043.7 1956.0,1022.0 1956.6,1055.5 1957.2,1040.8 1957.7,1012.1 1958.3,1043.1 1958.9,1032.7 1959.5,1020.7 1960.1,1064.3 1960.7,1041.4 1961.3,1014.1 1961.8,1033.9 1962.4,1031.8 1963.0,1043.5 1963.6,1023.8 1964.2,1013.5 1964.8,1037.4 1965.3,1046.4 1965.9,1014.0 1966.5,1034.3 1967.1,1037.6 1967.7,1040.8 1968.3,1013.6 1968.8,1017.4 1969.4,1037.2 1970.0,1029.8 1970.6,1039.7 1971.2,1030.4 1971.8,1043.2 1972.3,1016.3 1972.9,1016.6 1973.5,1013.1 1974.1,1027.7 1974.7,1045.2 1975.3,1036.6 1975.9,1038.6 1976.4,1021.5 1977.0,1045.8 1977.6,1044.7 1978.2,1034.6 1978.8,1044.3 1979.4,1012.6 1979.9,1003.5 1980.5,1011.8 1981.1,1007.3 1981.7,1023.1 1982.3,1049.1 1982.9,1016.8 1983.4,1036.7 1984.0,1007.4 1984.6,998.2 1985.2,1037.5 1985.8,1028.3 1986.4,1016.4 1986.9,1048.6 1987.5,1019.1 1988.1,1031.6 1988.7,1031.2 1989.3,1039.1 1989.9,1030.3 1990.5,1039.2 1991.0,1037.5 1991.6,1034.5 1992.2,1034.3 1992.8,1049.7 1993.4,1051.0 1994.0,1006.0 1994.5,1020.8 1995.1,1030.9 1995.7,1025.2 1996.3,1024.2 1996.9,1046.3 1997.5,1054.7 1998.0,1045.4 1998.6,1028.3 1999.2,1019.9 1999.8,1003.5 2000.4,997.2 2001.0,1044.1 2001.5,1025.3 2002.1,1010.4 2002.7,1013.3 2003.3,1018.0 2003.9,1051.6 2004.5,1027.9 2005.1,1030.6 2005.6,1041.7 2006.2,1012.8 2006.8,1039.2 2007.4,1049.1 2008.0,1029.0 2008.6,1025.5 2009.1,1047.9 2009.7,1030.5 2010.3,1036.4 2010.9,1026.0 2011.5,1020.2 2012.1,1033.2 2012.6,1059.5 2013.2,1024.7 2013.8,1010.9 2014.4,1023.4 2015.0,1029.2 2015.6,1038.8 2016.1,1023.3 2016.7,1029.2 2017.3,1047.5 2017.9,1044.0 2018.5,998.1 2019.1,1027.7 2019.7,1009.5 2020.2,1010.7 2020.8,1045.6 2021.4,1004.0 2022.0,1021.5 2022.6,1054.8 2023.2,1005.9 2023.7,1029.4 2024.3,1008.7 2024.9,1016.8 2025.5,1033.1 2026.1,1017.6 2026.7,1036.3 2027.2,1001.4 2027.8,1012.5 2028.4,1035.5 2029.0,1035.4 2029.6,1049.5 2030.2,1027.6 2030.7,1008.0 2031.3,1021.6 2031.9,1017.5 2032.5,1023.8 2033.1,1047.1 2033.7,1035.0 2034.3,1022.5 2034.8,1025.3 2035.4,1033.4 2036.0,1037.4 2036.6,1022.4 2037.2,1024.0 2037.8,1044.8 2038.3,1044.7 2038.9,1014.7 2039.5,1025.6 2040.1,1021.5 2040.7,1031.4 2041.3,1008.4 2041.8,1022.4 2042.4,1019.8 2043.0,1034.8 2043.6,1019.9 2044.2,1032.6 2044.8,1023.2 2045.3,1033.3 2045.9,1024.0 2046.5,1021.5 2047.1,1031.8 2047.7,1037.6 2048.3,1018.2 2048.9,995.8 2049.4,1024.0 2050.0,1024.7 2050.6,1014.5 2051.2,1004.1 2051.8,1006.2 2052.4,1020.4 2052.9,1028.6 2053.5,1033.2 2054.1,1018.2 2054.7,1031.9 2055.3,1030.2 2055.9,1027.3 2056.4,1026.7 2057.0,1017.6 2057.6,1026.4 2058.2,1023.3 2058.8,1020.7 2059.4,1046.9 2059.9,1015.7 2060.5,1034.7 2061.1,992.8 2061.7,1033.8 2062.3,1026.6 2062.9,1011.6 2063.5,1013.9 2064.0,1032.8 2064.6,1023.2 2065.2,1014.6 2065.8,1012.3 2066.4,1015.4 2067.0,1021.2 2067.5,1036.1 2068.1,1003.7 2068.7,1014.4 2069.3,1024.3 2069.9,1022.8 2070.5,1006.1 2071.0,1020.7 2071.6,986.4 2072.2,1021.9 2072.8,1014.2 2073.4,1003.0 2074.0,1012.0 2074.5,1000.6 2075.1,1022.7 2075.7,1016.1 2076.3,1014.8 2076.9,1032.3 2077.5,1003.7 2078.1,1012.0 2078.6,1025.6 2079.2,1030.5 2079.8,1037.3 2080.4,999.2 2081.0,1024.4 2081.6,1021.5 2082.1,1029.4 2082.7,1017.4 2083.3,1003.4 2083.9,1021.9 2084.5,1002.5 2085.1,997.4 2085.6,1017.9 2086.2,1032.6 2086.8,1050.1 2087.4,1014.6 2088.0,1019.7 2088.6,1024.4 2089.1,1030.4 2089.7,1043.0 2090.3,1034.6 2090.9,1025.9 2091.5,1029.0 2092.1,1024.9 2092.7,1018.4 2093.2,1024.5 2093.8,1004.9 2094.4,1058.5 2095.0,1036.7 2095.6,1035.4 2096.2,1040.5 2096.7,1022.4 2097.3,1028.6 2097.9,1035.4 2098.5,1049.4 2099.1,1041.8 2099.7,1013.5 2100.2,1024.7 2100.8,1026.1 2101.4,1027.1 2102.0,1045.6 2102.6,1028.4 2103.2,1019.4 2103.7,1029.6 2104.3,1039.2 2104.9,1027.2 2105.5,1032.9 2106.1,1029.9 2106.7,1050.1 2107.3,1037.1 2107.8,1048.1 2108.4,1023.6 2109.0,1020.6 2109.6,1033.8 2110.2,1027.7 2110.8,1031.7 2111.3,1027.6 2111.9,1036.5 2112.5,1034.3 2113.1,1018.0 2113.7,1037.6 2114.3,1021.6 2114.8,1041.2 2115.4,1054.8 2116.0,1050.4 2116.6,1030.0 2117.2,1012.2 2117.8,1063.3 2118.3,1043.0 2118.9,1026.7 2119.5,1014.1 2120.1,1035.2 2120.7,1046.2 2121.3,1040.1 2121.9,1044.7 2122.4,1056.4 2123.0,1022.5 2123.6,1029.1 2124.2,1036.3 2124.8,1042.3 2125.4,1035.0 2125.9,1039.8 2126.5,1041.0 2127.1,1045.7 2127.7,1022.8 2128.3,1024.3 2128.9,1026.7 2129.4,1026.1 2130.0,1061.4 2130.6,1032.2 2131.2,1043.3 2131.8,1032.0 2132.4,1034.0 2132.9,1041.7 2133.5,1053.6 2134.1,1043.2 2134.7,1027.1 2135.3,1014.5 2135.9,1037.6 2136.5,1026.4 2137.0,1029.0 2137.6,1033.4 2138.2,1028.9 2138.8,1031.7 2139.4,1028.6 2140.0,1033.3 2140.5,1039.7 2141.1,1012.6 2141.7,1013.9 2142.3,1052.4 2142.9,1051.2 2143.5,1034.4 2144.0,1054.2 2144.6,1050.6 2145.2,1044.0 2145.8,1052.6 2146.4,1020.9 2147.0,1031.9 2147.5,1014.9 2148.1,1032.3 2148.7,1034.6 2149.3,1045.2 2149.9,1041.4 2150.5,1032.5 2151.1,1047.4 2151.6,1025.0 2152.2,1023.4 2152.8,1040.9 2153.4,1043.6 2154.0,1028.3 2154.6,1034.7 2155.1,1046.4 2155.7,1043.8 2156.3,1016.3 2156.9,1030.7 2157.5,1019.6 2158.1,1030.5 2158.6,1033.1 2159.2,1038.9 2159.8,1063.2 2160.4,1014.5 2161.0,1011.6 2161.6,1018.3 2162.1,1041.6 2162.7,1034.8 2163.3,1036.7 2163.9,1051.2 2164.5,1035.1 2165.1,1017.3 2165.7,1026.2 2166.2,1028.2 2166.8,1034.6 2167.4,1025.3 2168.0,1018.5 2168.6,1016.9 2169.2,1021.6 2169.7,1040.5 2170.3,1022.1 2170.9,1017.6 2171.5,1056.2 2172.1,1033.0 2172.7,1029.4 2173.2,1046.0 2173.8,1063.1 2174.4,1017.6 2175.0,1051.6 2175.6,1036.2 2176.2,1025.2 2176.7,1038.9 2177.3,1023.4 2177.9,1016.8 2178.5,1034.7"/>
<polyline fill="none" stroke="#0000FF" stroke-width="3.6" stroke-linejoin="miter" stroke-miterlimit="2" shape-rendering="crispEdges" points="134.5,1078.2 135.1,1084.7 135.7,1083.7 136.3,1101.4 136.8,1092.2 137.4,1098.1 138.0,1109.8 138.6,1109.7 139.2,1102.7 139.8,1086.5 140.3,1080.9 140.9,1079.5 141.5,1087.1 142.1,1091.6 142.7,1075.5 143.3,1072.3 143.8,1096.4 144.4,1059.3 145.0,1087.3 145.6,1097.1 146.2,1072.7 146.8,1070.1 147.3,1075.6 147.9,1099.2 148.5,1085.5 149.1,1055.5 149.7,1079.6 150.3,1103.7 150.9,1102.7 151.4,1096.3 152.0,1081.1 152.6,1053.3 153.2,1087.1 153.8,1080.8 154.4,1084.7 154.9,1109.2 155.5,1085.6 156.1,1086.8 156.7,1091.9 157.3,1076.8 157.9,1069.5 158.4,1067.8 159.0,1093.0 159.6,1088.1 160.2,1070.7 160.8,1098.2 161.4,1081.1 161.9,1054.5 162.5,1086.9 163.1,1073.5 163.7,1052.6 164.3,1083.3 164.9,1068.0 165.5,1066.5 166.0,1082.5 166.6,1034.4 167.2,1049.3 167.8,1063.1 168.4,1073.9 169.0,1057.7 169.5,1051.3 170.1,1049.7 170.7,1064.9 171.3,1077.7 171.9,1040.8 172.5,1029.4 173.0,1059.1 173.6,1056.9 174.2,1047.2 174.8,1072.4 175.4,1075.0 176.0,1051.0 176.5,1054.1 177.1,1069.0 177.7,1051.3 178.3,1034.0 178.9,1056.0 179.5,1041.1 180.1,1061.3 180.6,1046.5 181.2,1051.2 181.8,1062.5 182.4,1050.9 183.0,1041.5 183.6,1034.5 184.1,1080.2 184.7,1069.1 185.3,1023.9 185.9,1030.9 186.5,1058.1 187.1,1037.4 187.6,1047.0 188.2,1059.9 188.8,1047.6 189.4,1042.5 190.0,1035.9 190.6,1041.8 191.1,1049.3 191.7,1071.9 192.3,1060.2 192.9,1038.3 193.5,1057.0 194.1,1043.0 194.7,1015.4 195.2,1038.5 195.8,1057.0 196.4,1029.5 197.0,1055.3 197.6,1033.8 198.2,1039.1 198.7,1018.0 199.3,1073.3 199.9,1045.4 200.5,1054.5 201.1,1029.3 201.7,1011.7 202.2,1057.0 202.8,1023.9 203.4,1063.8 204.0,1032.4 204.6,1062.7 205.2,1022.2 205.7,1004.3 206.3,1045.9 206.9,1032.5 207.5,1033.3 208.1,1050.9 208.7,1017.6 209.3,1010.3 209.8,1012.1 210.4,1003.0 211.0,1000.5 211.6,1009.1 212.2,1014.1 212.8,1022.5 213.3,1009.3 213.9,1027.1 214.5,1041.8 215.1,1024.7 215.7,1035.2 216.3,1012.0 216.8,1032.1 217.4,1034.6 218.0,1015.1 218.6,999.5 219.2,1021.8 219.8,1024.3 220.3,1048.2 220.9,1016.4 221.5,1050.7 222.1,981.7 222.7,1017.3 223.3,1014.2 223.9,1016.1 224.4,1013.7 225.0,1021.9 225.6,1050.6 226.2,1020.4 226.8,1043.2 227.4,1021.6 227.9,1025.2 228.5,983.4 229.1,1025.1 229.7,1034.0 230.3,1004.8 230.9,1013.8 231.4,1009.8 232.0,1060.1 232.6,1008.0 233.2,1012.5 233.8,979.1 234.4,998.3 234.9,1028.6 235.5,1003.7 236.1,978.8 236.7,1020.6 237.3,1027.3 237.9,1030.2 238.5,1032.1 239.0,1015.8 239.6,1073.4 240.2,1017.0 240.8,1033.9 241.4,1005.2 242.0,1016.3 242.5,1001.2 243.1,1030.7 243.7,1020.5 244.3,1010.5 244.9,993.8 245.5,1037.1 246.0,1041.8 246.6,1042.2 247.2,1026.9 247.8,1040.2 248.4,1044.1 249.0,1037.6 249.5,1053.4 250.1,1026.7 250.7,1033.1 251.3,1004.3 251.9,1065.4 252.5,1017.7 253.1,1036.1 253.6,1041.6 254.2,1017.5 254.8,1030.7 255.4,1043.3 256.0,1030.3 256.6,1027.0 257.1,1027.0 257.7,1020.6 258.3,1029.9 258.9,1039.2 259.5,1040.9 260.1,1051.9 260.6,1034.6 261.2,1025.3 261.8,1048.4 262.4,1040.3 263.0,1051.5 263.6,1038.0 264.1,1044.0 264.7,1041.9 265.3,1047.8 265.9,1019.2 266.5,1034.1 267.1,1039.1 267.7,1065.2 268.2,1035.2 268.8,1044.4 269.4,1033.8 270.0,1002.1 270.6,1058.2 271.2,1048.8 271.7,1058.6 272.3,1014.7 272.9,1042.6 273.5,1041.0 274.1,1011.7 274.7,1046.3 275.2,1028.3 275.8,1047.0 276.4,1010.8 277.0,1024.2 277.6,1027.2 278.2,1013.6 278.7,1040.5 279.3,1061.9 279.9,1039.6 280.5,1050.8 281.1,1065.2 281.7,1049.9 282.3,1034.4 282.8,1008.4 283.4,1047.1 284.0,1035.9 284.6,1034.0 285.2,1054.4 285.8,1051.7 286.3,1016.2 286.9,1047.2 287.5,1037.9 288.1,1058.2 288.7,1043.7 289.3,1060.1 289.8,1033.5 290.4,1038.3 291.0,1036.1 291.6,1042.6 292.2,1041.9 292.8,1066.5 293.3,1029.9 293.9,1048.3 294.5,1027.4 295.1,1023.1 295.7,1037.8 296.3,1022.6 296.9,1051.5 297.4,1036.4 298.0,1040.1 298.6,1057.1 299.2,1076.1 299.8,1041.1 300.4,1017.2 300.9,1044.0 301.5,1051.0 302.1,1070.7 302.7,1051.0 303.3,1037.1 303.9,1068.1 304.4,1071.2 305.0,1049.9 305.6,1058.4 306.2,1060.0 306.8,1098.2 307.4,1044.5 307.9,1048.0 308.5,1053.7 309.1,1067.9 309.7,1051.0 310.3,1065.1 310.9,1072.0 311.5,1090.6 312.0,1054.8 312.6,1052.5 313.2,1052.5 313.8,1026.9 314.4,1038.7 315.0,1061.5 315.5,1061.9 316.1,1103.5 316.7,1080.9 317.3,1073.3 317.9,1085.4 318.5,1049.7 319.0,1051.4 319.6,1048.6 320.2,1058.9 320.8,1098.5 321.4,1057.7 322.0,1051.6 322.5,1063.5 323.1,1077.3 323.7,1071.6 324.3,1078.3 324.9,1043.6 325.5,1049.6 326.1,1060.7 326.6,1066.6 327.2,1088.5 327.8,1044.0 328.4,1076.8 329.0,1062.3 329.6,1076.9 330.1,1055.6 330.7,1043.4 331.3,1087.5 331.9,1072.6 332.5,1034.9 333.1,1080.1 333.6,1051.4 334.2,1067.0 334.8,1068.8 335.4,1046.4 336.0,1088.5 336.6,1061.0 337.1,1097.9 337.7,1078.8 338.3,1079.5 338.9,1075.6 339.5,1105.0 340.1,1054.2 340.7,1058.7 341.2,1061.0 341.8,1092.2 342.4,1090.8 343.0,1074.6 343.6,1078.0 344.2,1045.6 344.7,1099.2 345.3,1070.3 345.9,1076.3 346.5,1069.3 347.1,1085.8 347.7,1071.1 348.2,1077.0 348.8,1076.7 349.4,1066.6 350.0,1065.0 350.6,1082.4 351.2,1082.4 351.7,1088.6 352.3,1101.0 352.9,1055.3 353.5,1045.1 354.1,1069.8 354.7,1098.7 355.3,1076.3 355.8,1046.1 356.4,1104.7 357.0,1086.2 357.6,1052.2 358.2,1063.7 358.8,1079.8 359.3,1068.8 359.9,1076.1 360.5,1087.5 361.1,1078.9 361.7,1102.8 362.3,1075.9 362.8,1104.9 363.4,1069.5 364.0,1059.7 364.6,1043.9 365.2,1065.1 365.8,1081.7 366.3,1096.7 366.9,1021.6 367.5,1079.9 368.1,1064.1 368.7,1093.1 369.3,1072.3 369.9,1086.4 370.4,1112.4 371.0,1083.5 371.6,1078.9 372.2,1098.8 372.8,1087.1 373.4,1078.9 373.9,1055.0 374.5,1076.5 375.1,1054.3 375.7,1086.4 376.3,1092.9 376.9,1084.3 377.4,1114.9 378.0,1064.0 378.6,1090.7 379.2,1084.5 379.8,1063.9 380.4,1092.7 380.9,1098.5 381.5,1103.7 382.1,1081.8 382.7,1095.8 383.3,1073.8 383.9,1110.7 384.5,1116.1 385.0,1088.3 385.6,1089.7 386.2,1067.8 386.8,1086.6 387.4,1080.1 388.0,1090.5 388.5,1062.7 389.1,1117.2 389.7,1090.4 390.3,1105.9 390.9,1096.0 391.5,1082.9 392.0,1120.9 392.6,1107.3 393.2,1063.1 393.8,1088.3 394.4,1084.9 395.0,1075.4 395.5,1126.3 396.1,1068.7 396.7,1115.8 397.3,1060.6 397.9,1113.6 398.5,1081.3 399.1,1052.2 399.6,1095.5 400.2,1099.3 400.8,1075.7 401.4,1110.0 402.0,1062.9 402.6,1111.2 403.1,1102.2 403.7,1123.0 404.3,1085.8 404.9,1107.9 405.5,1083.1 406.1,1107.4 406.6,1097.8 407.2,1107.5 407.8,1072.0 408.4,1102.6 409.0,1100.7 409.6,1120.4 410.1,1089.0 410.7,1091.9 411.3,1106.3 411.9,1104.5 412.5,1052.5 413.1,1091.0 413.7,1110.7 414.2,1090.2 414.8,1064.7 415.4,1090.6 416.0,1096.3 416.6,1080.4 417.2,1098.5 417.7,1078.4 418.3,1094.1 418.9,1099.0 419.5,1128.2 420.1,1104.0 420.7,1120.0 421.2,1102.1 421.8,1079.1 422.4,1079.0 423.0,1112.5 423.6,1071.8 424.2,1072.1 424.7,1115.0 425.3,1085.8 425.9,1080.3 426.5,1128.4 427.1,1085.4 427.7,1111.0 428.3,1100.1 428.8,1103.2 429.4,1101.9 430.0,1118.6 430.6,1126.9 431.2,1085.8 431.8,1128.1 432.3,1098.4 432.9,1099.4 433.5,1114.3 434.1,1093.5 434.7,1087.1 435.3,1129.1 435.8,1093.5 436.4,1067.3 437.0,1047.5 437.6,1109.5 438.2,1101.7 438.8,1134.1 439.3,1084.8 439.9,1084.2 440.5,1105.8 441.1,1128.4 441.7,1129.9 442.3,1106.6 442.9,1095.2 443.4,1108.8 444.0,1132.8 444.6,1105.7 445.2,1099.6 445.8,1115.2 446.4,1111.2 446.9,1110.0 447.5,1143.9 448.1,1120.0 448.7,1110.8 449.3,1103.1 449.9,1104.8 450.4,1118.3 451.0,1122.3 451.6,1099.3 452.2,1101.4 452.8,1106.0 453.4,1094.8 453.9,1129.8 454.5,1096.0 455.1,1114.2 455.7,1128.7 456.3,1095.2 456.9,1097.7 457.5,1110.1 458.0,1121.4 458.6,1116.2 459.2,1114.2 459.8,1135.0 460.4,1104.0 461.0,1102.4 461.5,1125.4 462.1,1116.5 462.7,1131.0 463.3,1133.5 463.9,1096.5 464.5,1079.7 465.0,1125.2 465.6,1115.2 466.2,1121.0 466.8,1101.0 467.4,1130.4 468.0,1113.0 468.5,1126.6 469.1,1133.0 469.7,1119.5 470.3,1116.3 470.9,1106.3 471.5,1164.5 472.1,1095.2 472.6,1130.9 473.2,1093.3 473.8,1105.2 474.4,1143.6 475.0,1107.2 475.6,1138.2 476.1,1113.7 476.7,1135.5 477.3,1096.4 477.9,1101.4 478.5,1146.1 479.1,1127.0 479.6,1103.8 480.2,1113.4 480.8,1074.2 481.4,1116.4 482.0,1099.1 482.6,1105.2 483.1,1147.6 483.7,1112.4 484.3,1111.0 484.9,1102.7 485.5,1133.2 486.1,1131.2 486.7,1107.2 487.2,1093.1 487.8,1118.0 488.4,1123.8 489.0,1087.5 489.6,1141.2 490.2,1105.9 490.7,1123.2 491.3,1108.1 491.9,1108.3 492.5,1137.4 493.1,1123.1 493.7,1095.4 494.2,1127.4 494.8,1135.7 495.4,1118.5 496.0,1140.0 496.6,1105.5 497.2,1137.8 497.7,1125.2 498.3,1124.3 498.9,1145.1 499.5,1133.5 500.1,1116.1 500.7,1130.2 501.3,1109.9 501.8,1130.3 502.4,1144.2 503.0,1142.5 503.6,1109.4 504.2,1117.5 504.8,1132.6 505.3,1131.7 505.9,1108.7 506.5,1125.3 507.1,1128.2 507.7,1147.8 508.3,1125.6 508.8,1120.2 509.4,1102.9 510.0,1097.9 510.6,1137.4 511.2,1122.8 511.8,1113.8 512.3,1138.3 512.9,1129.9 513.5,1119.7 514.1,1134.0 514.7,1114.6 515.3,1134.0 515.9,1128.2 516.4,1114.3 517.0,1115.0 517.6,1109.1 518.2,1137.1 518.8,1119.4 519.4,1104.2 519.9,1134.1 520.5,1130.1 521.1,1122.0 521.7,1125.4 522.3,1115.4 522.9,1111.6 523.4,1136.5 524.0,1102.4 524.6,1095.3 525.2,1098.7 525.8,1136.5 526.4,1103.2 526.9,1116.8 527.5,1109.0 528.1,1103.7 528.7,1118.2 529.3,1118.9 529.9,1154.5 530.5,1115.1 531.0,1125.2 531.6,1155.5 532.2,1145.1 532.8,1131.4 533.4,1136.2 534.0,1120.1 534.5,1135.0 535.1,1125.3 535.7,1106.4 536.3,1150.2 536.9,1120.3 537.5,1130.2 538.0,1111.6 538.6,1099.4 539.2,1089.8 539.8,1063.3 540.4,1130.2 541.0,1089.8 541.5,1110.4 542.1,1119.4 542.7,1093.8 543.3,1110.3 543.9,1125.6 544.5,1114.9 545.1,1128.8 545.6,1073.2 546.2,1128.9 546.8,1133.4 547.4,1095.5 548.0,1131.7 548.6,1111.6 549.1,1114.0 549.7,1127.8 550.3,1092.6 550.9,1132.2 551.5,1105.5 552.1,1131.3 552.6,1116.5 553.2,1122.5 553.8,1103.4 554.4,1116.8 555.0,1097.4 555.6,1105.5 556.1,1093.0 556.7,1115.9 557.3,1099.9 557.9,1157.3 558.5,1101.3 559.1,1078.7 559.7,1134.7 560.2,1108.7 560.8,1123.1 561.4,1115.2 562.0,1100.1 562.6,1103.0 563.2,1094.2 563.7,1136.7 564.3,1123.2 564.9,1088.7 565.5,1127.8 566.1,1120.6 566.7,1082.0 567.2,1095.4 567.8,1116.0 568.4,1113.5 569.0,1143.5 569.6,1107.7 570.2,1123.6 570.7,1098.4 571.3,1104.4 571.9,1106.0 572.5,1104.4 573.1,1108.5 573.7,1106.0 574.3,1075.9 574.8,1115.6 575.4,1083.5 576.0,1116.9 576.6,1113.4 577.2,1113.8 577.8,1091.2 578.3,1106.0 578.9,1113.0 579.5,1090.9 580.1,1074.1 580.7,1128.8 581.3,1094.4 581.8,1089.4 582.4,1080.2 583.0,1075.6 583.6,1050.0 584.2,1077.2 584.8,1076.5 585.3,1079.6 585.9,1127.7 586.5,1091.7 587.1,1086.4 587.7,1094.0 588.3,1078.8 588.9,1114.2 589.4,1112.7 590.0,1077.7 590.6,1107.4 591.2,1102.9 591.8,1135.2 592.4,1110.6 592.9,1064.2 593.5,1080.8 594.1,1101.3 594.7,1096.7 595.3,1107.9 595.9,1083.3 596.4,1089.7 597.0,1110.1 597.6,1094.5 598.2,1083.1 598.8,1124.5 599.4,1081.2 599.9,1084.9 600.5,1066.7 601.1,1085.7 601.7,1050.6 602.3,1106.6 602.9,1041.0 603.5,1093.9 604.0,1063.5 604.6,1084.7 605.2,1105.0 605.8,1079.3 606.4,1088.1 607.0,1068.7 607.5,1074.8 608.1,1101.6 608.7,1068.1 609.3,1096.4 609.9,1084.8 610.5,1074.9 611.0,1098.8 611.6,1066.1 612.2,1088.6 612.8,1060.2 613.4,1079.1 614.0,1061.6 614.5,1087.3 615.1,1100.1 615.7,1102.3 616.3,1092.7 616.9,1089.6 617.5,1078.0 618.1,1079.6 618.6,1070.1 619.2,1122.5 619.8,1085.6 620.4,1085.0 621.0,1090.2 621.6,1073.9 622.1,1116.8 622.7,1081.0 623.3,1072.1 623.9,1120.3 624.5,1110.6 625.1,1101.8 625.6,1082.4 626.2,1116.0 626.8,1091.4 627.4,1096.2 628.0,1111.9 628.6,1095.2 629.1,1084.6 629.7,1055.5 630.3,1112.9 630.9,1054.3 631.5,1080.1 632.1,1077.7 632.7,1084.0 633.2,1086.4 633.8,1101.7 634.4,1088.7 635.0,1047.0 635.6,1096.3 636.2,1077.0 636.7,1091.6 637.3,1077.8 637.9,1099.0 638.5,1097.6 639.1,1117.6 639.7,1112.8 640.2,1122.5 640.8,1080.5 641.4,1129.7 642.0,1096.9 642.6,1113.2 643.2,1117.3 643.7,1118.8 644.3,1103.4 644.9,1081.4 645.5,1119.9 646.1,1127.8 646.7,1126.5 647.3,1125.9 647.8,1134.1 648.4,1122.2 649.0,1099.2 649.6,1118.9 650.2,1087.0 650.8,1104.9 651.3,1107.6 651.9,1124.8 652.5,1100.2 653.1,1101.5 653.7,1095.9 654.3,1113.4 654.8,1075.2 655.4,1065.8 656.0,1133.5 656.6,1125.6 657.2,1115.7 657.8,1110.6 658.3,1093.7 658.9,1078.0 659.5,1111.2 660.1,1084.4 660.7,1119.8 661.3,1107.9 661.9,1079.1 662.4,1107.6 663.0,1072.9 663.6,1090.6 664.2,1119.3 664.8,1090.6 665.4,1097.7 665.9,1091.5 666.5,1093.5 667.1,1119.3 667.7,1110.5 668.3,1111.3 668.9,1076.2 669.4,1098.3 670.0,1089.8 670.6,1105.2 671.2,1085.4 671.8,1119.6 672.4,1149.1 672.9,1105.4 673.5,1093.3 674.1,1116.5 674.7,1074.8 675.3,1093.6 675.9,1117.6 676.5,1096.2 677.0,1102.0 677.6,1126.1 678.2,1106.4 678.8,1112.2 679.4,1085.7 680.0,1138.8 680.5,1095.8 681.1,1110.0 681.7,1103.4 682.3,1101.2 682.9,1080.6 683.5,1097.3 684.0,1103.7 684.6,1125.7 685.2,1104.6 685.8,1094.3 686.4,1105.1 687.0,1104.5 687.5,1099.8 688.1,1105.8 688.7,1129.2 689.3,1101.3 689.9,1079.1 690.5,1091.8 691.1,1095.8 691.6,1088.4 692.2,1103.4 692.8,1116.8 693.4,1066.8 694.0,1081.5 694.6,1092.1 695.1,1111.0 695.7,1069.1 696.3,1116.9 696.9,1125.7 697.5,1120.1 698.1,1103.7 698.6,1077.1 699.2,1090.6 699.8,1088.2 700.4,1101.0 701.0,1114.5 701.6,1108.8 702.1,1083.8 702.7,1115.5 703.3,1119.0 703.9,1082.4 704.5,1082.2 705.1,1090.5 705.7,1104.3 706.2,1081.3 706.8,1118.7 707.4,1101.4 708.0,1112.3 708.6,1088.5 709.2,1083.3 709.7,1105.3 710.3,1133.5 710.9,1111.9 711.5,1121.7 712.1,1091.1 712.7,1088.5 713.2,1098.3 713.8,1108.9 714.4,1098.9 715.0,1077.7 715.6,1071.0 716.2,1102.2 716.7,1094.6 717.3,1144.0 717.9,1087.0 718.5,1080.6 719.1,1108.8 719.7,1090.9 720.3,1096.8 720.8,1113.0 721.4,1078.2 722.0,1087.2 722.6,1083.7 723.2,1082.7 723.8,1082.8 724.3,1089.2 724.9,1117.6 725.5,1091.0 726.1,1076.5 726.7,1091.3 727.3,1081.9 727.8,1095.0 728.4,1092.5 729.0,1079.9 729.6,1088.1 730.2,1103.2 730.8,1116.0 731.3,1091.6 731.9,1116.7 732.5,1111.2 733.1,1070.0 733.7,1084.0 734.3,1036.7 734.9,1073.8 735.4,1088.0 736.0,1076.9 736.6,1092.7 737.2,1085.4 737.8,1097.5 738.4,1083.0 738.9,1098.9 739.5,1093.6 740.1,1095.7 740.7,1107.5 741.3,1078.3 741.9,1122.7 742.4,1092.1 743.0,1098.1 743.6,1089.1 744.2,1085.2 744.8,1069.1 745.4,1084.2 745.9,1067.4 746.5,1069.8 747.1,1117.9 747.7,1091.6 748.3,1086.5 748.9,1073.8 749.5,1090.6 750.0,1090.9 750.6,1101.3 751.2,1088.0 751.8,1093.3 752.4,1111.3 753.0,1099.3 753.5,1108.5 754.1,1061.9 754.7,1085.0 755.3,1110.4 755.9,1092.7 756.5,1114.6 757.0,1084.9 757.6,1109.9 758.2,1057.6 758.8,1076.5 759.4,1092.5 760.0,1069.0 760.5,1053.9 761.1,1103.4 761.7,1119.8 762.3,1094.2 762.9,1065.8 763.5,1088.2 764.1,1065.5 764.6,1052.4 765.2,1098.4 765.8,1098.1 766.4,1090.2 767.0,1065.8 767.6,1044.0 768.1,1098.4 768.7,1086.9 769.3,1106.1 769.9,1060.0 770.5,1046.3 771.1,1104.2 771.6,1114.9 772.2,1106.3 772.8,1099.0 773.4,1090.6 774.0,1099.0 774.6,1077.1 775.1,1125.4 775.7,1115.8 776.3,1056.4 776.9,1109.2 777.5,1046.8 778.1,1092.8 778.7,1081.3 779.2,1113.7 779.8,1089.5 780.4,1083.5 781.0,1109.0 781.6,1073.7 782.2,1073.3 782.7,1111.8 783.3,1096.0 783.9,1090.1 784.5,1076.9 785.1,1085.2 785.7,1080.9 786.2,1093.3 786.8,1090.8 787.4,1085.4 788.0,1086.9 788.6,1114.0 789.2,1099.3 789.7,1095.0 790.3,1086.1 790.9,1093.1 791.5,1087.4 792.1,1091.8 792.7,1095.5 793.3,1076.4 793.8,1075.7 794.4,1045.0 795.0,1067.2 795.6,1088.8 796.2,1123.1 796.8,1124.1 797.3,1083.3 797.9,1034.4 798.5,1092.2 799.1,1094.0 799.7,1112.8 800.3,1073.6 800.8,1082.4 801.4,1082.9 802.0,1087.9 802.6,1065.8 803.2,1094.3 803.8,1075.5 804.3,1089.8 804.9,1086.0 805.5,1048.0 806.1,1091.3 806.7,1066.0 807.3,1068.9 807.9,1070.0 808.4,1062.8 809.0,1082.7 809.6,1039.6 810.2,1074.6 810.8,1088.7 811.4,1093.1 811.9,1105.6 812.5,1106.6 813.1,1105.2 813.7,1084.2 814.3,1073.5 814.9,1057.1 815.4,1077.2 816.0,1088.8 816.6,1080.8 817.2,1071.0 817.8,1103.3 818.4,1120.4 818.9,1083.0 819.5,1111.3 820.1,1098.1 820.7,1071.1 821.3,1090.4 821.9,1077.4 822.5,1109.8 823.0,1109.9 823.6,1096.9 824.2,1082.9 824.8,1097.1 825.4,1094.5 826.0,1109.8 826.5,1108.4 827.1,1101.7 827.7,1066.0 828.3,1099.0 828.9,1106.0 829.5,1080.6 830.0,1070.6 830.6,1100.0 831.2,1065.3 831.8,1076.8 832.4,1080.5 833.0,1068.4 833.5,1051.6 834.1,1116.0 834.7,1079.1 835.3,1060.5 835.9,1115.9 836.5,1088.0 837.1,1109.5 837.6,1112.3 838.2,1069.0 838.8,1097.5 839.4,1098.1 840.0,1069.2 840.6,1067.6 841.1,1103.6 841.7,1087.6 842.3,1065.1 842.9,1069.8 843.5,1083.3 844.1,1070.9 844.6,1116.7 845.2,1121.7 845.8,1098.3 846.4,1075.1 847.0,1063.7 847.6,1073.5 848.1,1125.0 848.7,1108.3 849.3,1069.2 849.9,1077.3 850.5,1102.3 851.1,1077.6 851.7,1076.8 852.2,1092.9 852.8,1098.7 853.4,1084.7 854.0,1122.7 854.6,1085.5 855.2,1078.2 855.7,1051.2 856.3,1063.7 856.9,1080.3 857.5,1078.3 858.1,1057.7 858.7,1129.7 859.2,1090.7 859.8,1086.6 860.4,1078.0 861.0,1077.3 861.6,1044.8 862.2,1080.9 862.7,1061.6 863.3,1056.2 863.9,1107.8 864.5,1079.8 865.1,1084.9 865.7,1076.7 866.3,1070.3 866.8,1057.4 867.4,1091.5 868.0,1060.6 868.6,1057.0 869.2,1056.8 869.8,1084.0 870.3,1085.8 870.9,1088.9 871.5,1074.6 872.1,1074.0 872.7,1099.1 873.3,1051.2 873.8,1087.6 874.4,1078.9 875.0,1067.1 875.6,1060.5 876.2,1048.4 876.8,1049.2 877.3,1054.6 877.9,1068.5 878.5,1109.8 879.1,1062.8 879.7,1071.0 880.3,1066.2 880.9,1049.0 881.4,1057.3 882.0,1099.2 882.6,1073.5 883.2,1047.2 883.8,1037.2 884.4,1095.7 884.9,1066.5 885.5,1048.2 886.1,1084.1 886.7,1066.4 887.3,1059.0 887.9,1068.7 888.4,1092.9 889.0,1052.5 889.6,1081.7 890.2,1070.0 890.8,1058.1 891.4,1093.5 891.9,1060.6 892.5,1068.8 893.1,1057.3 893.7,1042.6 894.3,1070.1 894.9,1045.8 895.5,1093.8 896.0,1089.7 896.6,1053.0 897.2,1052.2 897.8,1047.5 898.4,1090.7 899.0,1040.5 899.5,1041.2 900.1,1043.5 900.7,1044.2 901.3,1084.0 901.9,1052.0 902.5,1061.2 903.0,1054.4 903.6,1054.2 904.2,1090.6 904.8,1086.9 905.4,1064.7 906.0,1044.1 906.5,1094.4 907.1,1056.2 907.7,1038.2 908.3,1039.4 908.9,1053.7 909.5,1064.5 910.1,1004.4 910.6,1058.0 911.2,1049.9 911.8,1059.6 912.4,1035.2 913.0,1066.4 913.6,1041.0 914.1,1067.9 914.7,1088.0 915.3,1052.2 915.9,1053.5 916.5,1052.1 917.1,1017.6 917.6,1053.7 918.2,1019.7 918.8,1001.7 919.4,1043.3 920.0,1055.1 920.6,1028.8 921.1,1014.4 921.7,1065.1 922.3,1014.3 922.9,1059.1 923.5,1035.6 924.1,1020.9 924.7,1044.3 925.2,996.9 925.8,1025.6 926.4,1037.2 927.0,1035.6 927.6,1059.5 928.2,1018.2 928.7,1044.6 929.3,1031.9 929.9,1047.2 930.5,1040.6 931.1,1052.7 931.7,1031.0 932.2,1056.5 932.8,1032.4 933.4,1019.4 934.0,1032.2 934.6,1033.3 935.2,1056.2 935.7,1010.4 936.3,1030.7 936.9,1010.0 937.5,1047.9 938.1,1048.0 938.7,1044.9 939.3,1011.1 939.8,1017.7 940.4,1035.2 941.0,1044.0 941.6,1050.7 942.2,1031.6 942.8,1043.0 943.3,1035.2 943.9,1034.0 944.5,1037.5 945.1,1025.9 945.7,1061.1 946.3,1069.5 946.8,1056.9 947.4,1040.3 948.0,1073.5 948.6,1033.6 949.2,1069.8 949.8,1067.8 950.3,1072.9 950.9,1024.3 951.5,1060.2 952.1,1046.8 952.7,1069.4 953.3,1060.3 953.9,1022.6 954.4,1070.0 955.0,1090.3 955.6,1069.0 956.2,1074.8 956.8,1065.8 957.4,1072.8 957.9,1056.2 958.5,1093.8 959.1,1106.0 959.7,1056.2 960.3,1077.5 960.9,1063.8 961.4,1098.1 962.0,1075.6 962.6,1086.3 963.2,1069.5 963.8,1091.5 964.4,1086.7 964.9,1080.0 965.5,1084.0 966.1,1050.8 966.7,1089.7 967.3,1059.0 967.9,1066.7 968.5,1077.2 969.0,1089.2 969.6,1092.0 970.2,1082.4 970.8,1082.2 971.4,1090.3 972.0,1065.3 972.5,1079.9 973.1,1068.6 973.7,1051.4 974.3,1061.1 974.9,1098.8 975.5,1071.0 976.0,1053.8 976.6,1082.1 977.2,1071.7 977.8,1074.3 978.4,1077.0 979.0,1087.5 979.5,1086.6 980.1,1081.1 980.7,1087.2 981.3,1082.8 981.9,1090.7 982.5,1097.1 983.1,1084.7 983.6,1118.8 984.2,1070.5 984.8,1079.1 985.4,1084.7 986.0,1110.3 986.6,1105.6 987.1,1095.9 987.7,1077.3 988.3,1098.1 988.9,1090.7 989.5,1086.9 990.1,1112.4 990.6,1117.8 991.2,1098.8 991.8,1083.7 992.4,1098.6 993.0,1078.9 993.6,1070.8 994.1,1065.4 994.7,1091.0 995.3,1090.3 995.9,1083.1 996.5,1087.2 997.1,1090.8 997.7,1078.9 998.2,1102.7 998.8,1123.1 999.4,1094.0 1000.0,1070.5 1000.6,1097.7 1001.2,1102.5 1001.7,1109.9 1002.3,1117.8 1002.9,1114.3 1003.5,1119.3 1004.1,1101.7 1004.7,1109.2 1005.2,1092.5 1005.8,1096.5 1006.4,1117.5 1007.0,1101.7 1007.6,1082.1 1008.2,1074.8 1008.7,1118.2 1009.3,1101.1 1009.9,1098.8 1010.5,1095.1 1011.1,1115.0 1011.7,1107.5 1012.3,1105.3 1012.8,1105.2 1013.4,1107.7 1014.0,1125.6 1014.6,1114.7 1015.2,1133.2 1015.8,1082.0 1016.3,1101.6 1016.9,1126.9 1017.5,1102.5 1018.1,1111.8 1018.7,1109.5 1019.3,1117.5 1019.8,1121.5 1020.4,1148.4 1021.0,1133.4 1021.6,1120.9 1022.2,1127.0 1022.8,1127.2 1023.3,1118.7 1023.9,1109.4 1024.5,1126.5 1025.1,1130.2 1025.7,1108.8 1026.3,1118.0 1026.9,1126.8 1027.4,1126.5 1028.0,1147.6 1028.6,1116.9 1029.2,1109.7 1029.8,1128.7 1030.4,1105.2 1030.9,1117.8 1031.5,1091.5 1032.1,1128.6 1032.7,1158.4 1033.3,1115.4 1033.9,1116.5 1034.4,1131.5 1035.0,1138.1 1035.6,1097.0 1036.2,1118.9 1036.8,1124.6 1037.4,1123.4 1037.9,1127.6 1038.5,1120.6 1039.1,1119.5 1039.7,1106.0 1040.3,1150.6 1040.9,1124.3 1041.5,1142.2 1042.0,1123.3 1042.6,1126.4 1043.2,1122.5 1043.8,1134.2 1044.4,1125.9 1045.0,1101.0 1045.5,1167.0 1046.1,1129.1 1046.7,1114.8 1047.3,1102.5 1047.9,1113.7 1048.5,1122.7 1049.0,1112.1 1049.6,1136.1 1050.2,1103.4 1050.8,1129.1 1051.4,1131.3 1052.0,1111.5 1052.5,1110.5 1053.1,1113.9 1053.7,1128.8 1054.3,1121.0 1054.9,1120.4 1055.5,1130.6 1056.1,1144.1 1056.6,1116.4 1057.2,1107.5 1057.8,1123.5 1058.4,1123.7 1059.0,1144.9 1059.6,1139.4 1060.1,1128.2 1060.7,1114.7 1061.3,1146.4 1061.9,1117.0 1062.5,1133.8 1063.1,1134.7 1063.6,1141.0 1064.2,1116.5 1064.8,1151.9 1065.4,1142.9 1066.0,1122.9 1066.6,1123.8 1067.1,1097.4 1067.7,1131.2 1068.3,1135.1 1068.9,1112.4 1069.5,1125.7 1070.1,1108.5 1070.7,1164.7 1071.2,1115.6 1071.8,1125.6 1072.4,1132.1 1073.0,1118.1 1073.6,1130.0 1074.2,1137.5 1074.7,1154.4 1075.3,1140.5 1075.9,1158.0 1076.5,1105.1 1077.1,1110.8 1077.7,1104.8 1078.2,1121.7 1078.8,1114.0 1079.4,1114.5 1080.0,1122.2 1080.6,1125.4 1081.2,1107.1 1081.7,1122.6 1082.3,1119.9 1082.9,1117.2 1083.5,1138.7 1084.1,1091.4 1084.7,1110.3 1085.3,1108.7 1085.8,1109.5 1086.4,1108.4 1087.0,1103.3 1087.6,1105.1 1088.2,1122.1 1088.8,1120.5 1089.3,1092.4 1089.9,1082.8 1090.5,1100.6 1091.1,1082.9 1091.7,1111.9 1092.3,1112.0 1092.8,1078.0 1093.4,1114.5 1094.0,1103.7 1094.6,1088.0 1095.2,1120.6 1095.8,1138.1 1096.3,1101.7 1096.9,1106.7 1097.5,1086.4 1098.1,1108.5 1098.7,1094.6 1099.3,1110.0 1099.9,1096.9 1100.4,1103.1 1101.0,1088.5 1101.6,1072.7 1102.2,1098.9 1102.8,1118.2 1103.4,1052.8 1103.9,1092.0 1104.5,1070.5 1105.1,1062.3 1105.7,1085.5 1106.3,1078.5 1106.9,1081.0 1107.4,1082.4 1108.0,1046.1 1108.6,1096.3 1109.2,1092.4 1109.8,1059.9 1110.4,1067.0 1110.9,1046.4 1111.5,1066.5 1112.1,1062.0 1112.7,1062.1 1113.3,1052.9 1113.9,1062.8 1114.5,1053.4 1115.0,1047.2 1115.6,1052.1 1116.2,1055.2 1116.8,1054.2 1117.4,1048.0 1118.0,1060.5 1118.5,1032.1 1119.1,1055.3 1119.7,1026.8 1120.3,1025.5 1120.9,1023.1 1121.5,1040.0 1122.0,1016.8 1122.6,1005.4 1123.2,1024.8 1123.8,1003.7 1124.4,1009.4 1125.0,1009.7 1125.5,1008.7 1126.1,1020.6 1126.7,1000.1 1127.3,978.4 1127.9,1005.5 1128.5,976.8 1129.1,966.3 1129.6,972.3 1130.2,984.8 1130.8,947.8 1131.4,951.7 1132.0,973.8 1132.6,980.1 1133.1,949.0 1133.7,955.0 1134.3,939.1 1134.9,928.6 1135.5,907.3 1136.1,917.8 1136.6,901.2 1137.2,900.5 1137.8,903.2 1138.4,903.9 1139.0,883.0 1139.6,886.2 1140.1,903.2 1140.7,920.0 1141.3,899.4 1141.9,912.4 1142.5,915.1 1143.1,898.9 1143.7,920.2 1144.2,902.9 1144.8,901.1 1145.4,920.9 1146.0,943.1 1146.6,932.7 1147.2,964.9 1147.7,949.3 1148.3,975.8 1148.9,971.5 1149.5,1002.1 1150.1,984.0 1150.7,994.8 1151.2,1001.2 1151.8,993.7 1152.4,1021.4 1153.0,1007.7 1153.6,1013.9 1154.2,1027.1 1154.7,1032.7 1155.3,1062.3 1155.9,1035.1 1156.5,1062.8 1157.1,1010.1 1157.7,1053.9 1158.3,1041.7 1158.8,1072.0 1159.4,1029.1 1160.0,1045.4 1160.6,1044.8 1161.2,1005.3 1161.8,1036.9 1162.3,1078.0 1162.9,1035.4 1163.5,1044.3 1164.1,1027.8 1164.7,1049.6 1165.3,1014.5 1165.8,1008.4 1166.4,1032.8 1167.0,1000.6 1167.6,1017.6 1168.2,985.5 1168.8,1023.0 1169.3,1005.3 1169.9,1012.4 1170.5,1011.8 1171.1,1013.0 1171.7,1001.2 1172.3,997.8 1172.9,1017.3 1173.4,1021.1 1174.0,980.4 1174.6,991.2 1175.2,994.2 1175.8,989.5 1176.4,1012.9 1176.9,997.6 1177.5,993.2 1178.1,1002.8 1178.7,1016.9 1179.3,966.8 1179.9,1004.2 1180.4,993.2 1181.0,990.2 1181.6,994.3 1182.2,965.6 1182.8,993.4 1183.4,999.3 1183.9,988.0 1184.5,977.0 1185.1,986.9 1185.7,1010.6 1186.3,1025.5 1186.9,1003.4 1187.5,1015.3 1188.0,1025.4 1188.6,1013.7 1189.2,997.6 1189.8,1017.4 1190.4,1040.5 1191.0,1009.1 1191.5,1014.8 1192.1,1006.8 1192.7,1029.2 1193.3,1016.2 1193.9,1045.1 1194.5,1048.8 1195.0,1030.9 1195.6,1037.2 1196.2,1045.3 1196.8,1031.6 1197.4,1041.6 1198.0,1079.0 1198.5,1055.4 1199.1,1010.9 1199.7,1079.8 1200.3,1063.2 1200.9,1065.2 1201.5,1089.0 1202.1,1090.2 1202.6,1090.0 1203.2,1095.2 1203.8,1052.4 1204.4,1092.9 1205.0,1072.5 1205.6,1082.4 1206.1,1101.8 1206.7,1103.3 1207.3,1096.0 1207.9,1085.1 1208.5,1112.0 1209.1,1092.6 1209.6,1102.9 1210.2,1106.0 1210.8,1111.0 1211.4,1091.5 1212.0,1117.0 1212.6,1114.9 1213.1,1100.7 1213.7,1115.2 1214.3,1128.7 1214.9,1093.3 1215.5,1109.6 1216.1,1100.4 1216.7,1106.4 1217.2,1126.6 1217.8,1110.7 1218.4,1106.2 1219.0,1133.3 1219.6,1125.7 1220.2,1131.2 1220.7,1153.6 1221.3,1117.0 1221.9,1096.4 1222.5,1153.1 1223.1,1123.7 1223.7,1127.7 1224.2,1137.5 1224.8,1135.0 1225.4,1109.6 1226.0,1114.0 1226.6,1114.2 1227.2,1119.8 1227.7,1131.7 1228.3,1140.3 1228.9,1141.9 1229.5,1119.3 1230.1,1133.4 1230.7,1124.9 1231.3,1129.4 1231.8,1147.2 1232.4,1139.9 1233.0,1125.1 1233.6,1146.7 1234.2,1147.1 1234.8,1147.4 1235.3,1142.1 1235.9,1144.3 1236.5,1158.6 1237.1,1141.1 1237.7,1152.1 1238.3,1137.9 1238.8,1158.8 1239.4,1169.3 1240.0,1148.2 1240.6,1154.0 1241.2,1155.3 1241.8,1150.4 1242.3,1175.8 1242.9,1155.7 1243.5,1135.7 1244.1,1167.9 1244.7,1146.0 1245.3,1167.5 1245.9,1123.9 1246.4,1170.2 1247.0,1140.2 1247.6,1149.7 1248.2,1158.0 1248.8,1162.6 1249.4,1139.6 1249.9,1164.1 1250.5,1166.5 1251.1,1155.4 1251.7,1156.6 1252.3,1172.8 1252.9,1148.6 1253.4,1164.9 1254.0,1159.8 1254.6,1156.2 1255.2,1147.5 1255.8,1141.3 1256.4,1164.6 1256.9,1166.8 1257.5,1169.6 1258.1,1156.1 1258.7,1161.8 1259.3,1160.2 1259.9,1164.3 1260.5,1157.0 1261.0,1177.3 1261.6,1153.1 1262.2,1141.8 1262.8,1158.6 1263.4,1155.3 1264.0,1188.8 1264.5,1152.1 1265.1,1146.3 1265.7,1177.7 1266.3,1187.3 1266.9,1191.6 1267.5,1152.2 1268.0,1150.2 1268.6,1200.9 1269.2,1159.0 1269.8,1144.9 1270.4,1171.8 1271.0,1130.4 1271.5,1134.5 1272.1,1157.7 1272.7,1169.8 1273.3,1160.9 1273.9,1166.5 1274.5,1177.4 1275.1,1185.6 1275.6,1150.2 1276.2,1151.2 1276.8,1165.6 1277.4,1154.8 1278.0,1149.9 1278.6,1158.2 1279.1,1145.6 1279.7,1163.1 1280.3,1172.0 1280.9,1158.5 1281.5,1152.5 1282.1,1141.9 1282.6,1148.5 1283.2,1147.5 1283.8,1183.1 1284.4,1189.4 1285.0,1155.4 1285.6,1164.4 1286.1,1191.1 1286.7,1147.7 1287.3,1191.5 1287.9,1153.7 1288.5,1148.8 1289.1,1192.2 1289.7,1153.3 1290.2,1165.5 1290.8,1173.3 1291.4,1160.9 1292.0,1146.2 1292.6,1153.5 1293.2,1171.1 1293.7,1181.0 1294.3,1169.2 1294.9,1137.4 1295.5,1166.7 1296.1,1151.3 1296.7,1178.2 1297.2,1172.1 1297.8,1151.5 1298.4,1144.6 1299.0,1150.2 1299.6,1161.1 1300.2,1167.6 1300.7,1146.4 1301.3,1157.5 1301.9,1178.7 1302.5,1177.9 1303.1,1147.7 1303.7,1180.6 1304.3,1172.7 1304.8,1160.8 1305.4,1167.7 1306.0,1142.2 1306.6,1156.9 1307.2,1159.6 1307.8,1162.1 1308.3,1139.9 1308.9,1168.6 1309.5,1151.9 1310.1,1135.9 1310.7,1174.0 1311.3,1169.7 1311.8,1149.8 1312.4,1139.8 1313.0,1152.7 1313.6,1130.3 1314.2,1117.4 1314.8,1172.0 1315.3,1184.5 1315.9,1154.0 1316.5,1148.8 1317.1,1133.1 1317.7,1125.7 1318.3,1127.4 1318.9,1151.5 1319.4,1139.7 1320.0,1138.7 1320.6,1150.4 1321.2,1134.3 1321.8,1152.3 1322.4,1100.9 1322.9,1135.9 1323.5,1151.1 1324.1,1161.7 1324.7,1144.9 1325.3,1148.8 1325.9,1099.4 1326.4,1141.0 1327.0,1134.2 1327.6,1117.6 1328.2,1132.7 1328.8,1132.4 1329.4,1126.2 1329.9,1139.0 1330.5,1150.0 1331.1,1139.7 1331.7,1138.5 1332.3,1115.9 1332.9,1134.3 1333.5,1130.0 1334.0,1132.5 1334.6,1142.5 1335.2,1128.7 1335.8,1112.6 1336.4,1134.7 1337.0,1115.5 1337.5,1120.6 1338.1,1119.0 1338.7,1122.7 1339.3,1087.0 1339.9,1108.6 1340.5,1119.4 1341.0,1118.9 1341.6,1115.5 1342.2,1119.3 1342.8,1121.4 1343.4,1102.1 1344.0,1136.2 1344.5,1111.8 1345.1,1115.4 1345.7,1110.2 1346.3,1093.5 1346.9,1093.0 1347.5,1107.9 1348.1,1131.6 1348.6,1094.5 1349.2,1111.9 1349.8,1092.0 1350.4,1107.6 1351.0,1091.4 1351.6,1087.5 1352.1,1087.4 1352.7,1092.4 1353.3,1101.0 1353.9,1095.8 1354.5,1089.4 1355.1,1106.9 1355.6,1108.5 1356.2,1102.1 1356.8,1115.5 1357.4,1106.7 1358.0,1093.5 1358.6,1128.0 1359.1,1110.1 1359.7,1110.3 1360.3,1146.0 1360.9,1099.3 1361.5,1109.3 1362.1,1112.8 1362.7,1141.6 1363.2,1139.2 1363.8,1140.0 1364.4,1122.3 1365.0,1125.2 1365.6,1121.1 1366.2,1149.3 1366.7,1126.9 1367.3,1133.5 1367.9,1122.7 1368.5,1152.6 1369.1,1143.7 1369.7,1171.4 1370.2,1158.6 1370.8,1139.5 1371.4,1129.5 1372.0,1133.7 1372.6,1154.4 1373.2,1148.0 1373.7,1148.2 1374.3,1156.6 1374.9,1134.1 1375.5,1134.7 1376.1,1146.6 1376.7,1148.9 1377.3,1136.5 1377.8,1174.9 1378.4,1152.1 1379.0,1134.9 1379.6,1161.8 1380.2,1171.6 1380.8,1194.7 1381.3,1154.9 1381.9,1163.9 1382.5,1148.1 1383.1,1150.5 1383.7,1130.7 1384.3,1158.4 1384.8,1167.5 1385.4,1142.1 1386.0,1178.4 1386.6,1209.6 1387.2,1139.2 1387.8,1169.7 1388.3,1160.2 1388.9,1167.3 1389.5,1165.8 1390.1,1194.7 1390.7,1175.9 1391.3,1176.8 1391.9,1193.7 1392.4,1170.6 1393.0,1198.0 1393.6,1162.1 1394.2,1163.7 1394.8,1178.0 1395.4,1171.8 1395.9,1172.9 1396.5,1169.2 1397.1,1148.2 1397.7,1182.4 1398.3,1169.6 1398.9,1178.3 1399.4,1169.1 1400.0,1177.8 1400.6,1150.9 1401.2,1164.8 1401.8,1167.0 1402.4,1173.3 1402.9,1189.9 1403.5,1182.5 1404.1,1196.1 1404.7,1195.9 1405.3,1172.4 1405.9,1191.8 1406.5,1183.4 1407.0,1149.6 1407.6,1171.8 1408.2,1195.1 1408.8,1200.4 1409.4,1171.5 1410.0,1164.9 1410.5,1181.8 1411.1,1174.9 1411.7,1170.7 1412.3,1178.9 1412.9,1151.7 1413.5,1183.8 1414.0,1189.5 1414.6,1172.5 1415.2,1162.9 1415.8,1178.1 1416.4,1182.6 1417.0,1169.6 1417.5,1178.6 1418.1,1158.5 1418.7,1144.3 1419.3,1183.8 1419.9,1176.8 1420.5,1179.3 1421.1,1144.7 1421.6,1165.3 1422.2,1182.7 1422.8,1152.5 1423.4,1165.4 1424.0,1153.8 1424.6,1183.0 1425.1,1177.2 1425.7,1190.4 1426.3,1148.2 1426.9,1170.8 1427.5,1162.7 1428.1,1199.1 1428.6,1176.2 1429.2,1172.6 1429.8,1169.3 1430.4,1161.2 1431.0,1160.4 1431.6,1168.0 1432.1,1178.6 1432.7,1161.3 1433.3,1193.5 1433.9,1178.3 1434.5,1175.2 1435.1,1185.9 1435.7,1174.7 1436.2,1159.3 1436.8,1205.4 1437.4,1132.8 1438.0,1174.5 1438.6,1183.7 1439.2,1178.4 1439.7,1159.0 1440.3,1168.1 1440.9,1166.6 1441.5,1171.7 1442.1,1170.2 1442.7,1185.6 1443.2,1170.4 1443.8,1161.1 1444.4,1181.9 1445.0,1183.4 1445.6,1195.4 1446.2,1156.6 1446.7,1168.5 1447.3,1161.4 1447.9,1175.1 1448.5,1165.5 1449.1,1187.3 1449.7,1175.7 1450.3,1168.4 1450.8,1184.1 1451.4,1176.6 1452.0,1184.8 1452.6,1206.8 1453.2,1166.5 1453.8,1168.3 1454.3,1161.8 1454.9,1186.6 1455.5,1182.8 1456.1,1178.1 1456.7,1183.3 1457.3,1164.3 1457.8,1188.1 1458.4,1173.2 1459.0,1186.1 1459.6,1168.9 1460.2,1179.1 1460.8,1166.6 1461.3,1186.4 1461.9,1182.5 1462.5,1176.0 1463.1,1181.4 1463.7,1171.7 1464.3,1166.7 1464.9,1195.1 1465.4,1189.1 1466.0,1187.8 1466.6,1178.6 1467.2,1187.1 1467.8,1211.5 1468.4,1146.1 1468.9,1184.6 1469.5,1190.2 1470.1,1169.1 1470.7,1175.9 1471.3,1177.9 1471.9,1197.2 1472.4,1170.1 1473.0,1173.6 1473.6,1194.5 1474.2,1179.4 1474.8,1164.1 1475.4,1159.3 1475.9,1203.9 1476.5,1181.6 1477.1,1187.2 1477.7,1176.3 1478.3,1178.8 1478.9,1156.1 1479.5,1193.2 1480.0,1157.9 1480.6,1158.2 1481.2,1162.5 1481.8,1184.8 1482.4,1170.5 1483.0,1197.7 1483.5,1158.4 1484.1,1191.5 1484.7,1173.0 1485.3,1165.0 1485.9,1176.2 1486.5,1184.5 1487.0,1169.9 1487.6,1189.7 1488.2,1179.9 1488.8,1179.7 1489.4,1159.3 1490.0,1167.7 1490.5,1157.5 1491.1,1169.9 1491.7,1184.6 1492.3,1191.4 1492.9,1156.4 1493.5,1150.7 1494.1,1179.8 1494.6,1171.9 1495.2,1160.5 1495.8,1185.6 1496.4,1165.2 1497.0,1165.2 1497.6,1170.6 1498.1,1171.2 1498.7,1194.3 1499.3,1176.3 1499.9,1183.5 1500.5,1165.8 1501.1,1155.8 1501.6,1195.8 1502.2,1199.3 1502.8,1167.5 1503.4,1155.9 1504.0,1153.2 1504.6,1164.2 1505.1,1149.1 1505.7,1195.0 1506.3,1150.7 1506.9,1181.6 1507.5,1171.5 1508.1,1155.3 1508.7,1169.6 1509.2,1186.6 1509.8,1163.0 1510.4,1178.8 1511.0,1154.1 1511.6,1167.6 1512.2,1167.7 1512.7,1170.7 1513.3,1197.3 1513.9,1164.9 1514.5,1163.7 1515.1,1168.9 1515.7,1162.4 1516.2,1177.9 1516.8,1194.1 1517.4,1221.4 1518.0,1189.4 1518.6,1167.4 1519.2,1199.2 1519.7,1150.5 1520.3,1206.8 1520.9,1162.7 1521.5,1168.9 1522.1,1166.2 1522.7,1184.3 1523.3,1165.5 1523.8,1180.2 1524.4,1182.6 1525.0,1172.9 1525.6,1181.0 1526.2,1171.5 1526.8,1206.7 1527.3,1190.1 1527.9,1181.7 1528.5,1158.5 1529.1,1182.6 1529.7,1161.8 1530.3,1166.1 1530.8,1196.5 1531.4,1177.8 1532.0,1161.7 1532.6,1192.1 1533.2,1207.6 1533.8,1158.0 1534.3,1170.0 1534.9,1174.6 1535.5,1185.5 1536.1,1171.1 1536.7,1168.4 1537.3,1167.1 1537.9,1189.4 1538.4,1169.0 1539.0,1185.8 1539.6,1164.1 1540.2,1177.4 1540.8,1157.2 1541.4,1165.6 1541.9,1178.8 1542.5,1178.6 1543.1,1172.1 1543.7,1196.9 1544.3,1197.7 1544.9,1177.2 1545.4,1164.2 1546.0,1167.7 1546.6,1170.4 1547.2,1180.5 1547.8,1185.2 1548.4,1194.8 1548.9,1188.0 1549.5,1199.2 1550.1,1175.9 1550.7,1155.2 1551.3,1171.3 1551.9,1186.3 1552.5,1198.7 1553.0,1177.8 1553.6,1190.7 1554.2,1181.4 1554.8,1205.3 1555.4,1139.6 1556.0,1165.1 1556.5,1172.8 1557.1,1185.4 1557.7,1173.6 1558.3,1165.9 1558.9,1173.2 1559.5,1179.1 1560.0,1169.6 1560.6,1153.5 1561.2,1165.8 1561.8,1161.2 1562.4,1184.7 1563.0,1163.7 1563.5,1176.2 1564.1,1176.4 1564.7,1165.9 1565.3,1176.4 1565.9,1177.3 1566.5,1203.0 1567.1,1159.8 1567.6,1171.7 1568.2,1182.2 1568.8,1164.8 1569.4,1162.8 1570.0,1166.8 1570.6,1184.4 1571.1,1210.8 1571.7,1158.4 1572.3,1142.0 1572.9,1175.5 1573.5,1154.6 1574.1,1148.0 1574.6,1152.6 1575.2,1138.4 1575.8,1192.4 1576.4,1189.9 1577.0,1184.8 1577.6,1180.9 1578.1,1171.2 1578.7,1158.8 1579.3,1150.5 1579.9,1172.3 1580.5,1196.8 1581.1,1193.1 1581.7,1163.5 1582.2,1180.8 1582.8,1163.7 1583.4,1181.3 1584.0,1162.5 1584.6,1150.6 1585.2,1145.0 1585.7,1169.9 1586.3,1172.7 1586.9,1162.6 1587.5,1145.6 1588.1,1144.9 1588.7,1148.1 1589.2,1182.8 1589.8,1131.2 1590.4,1156.2 1591.0,1155.0 1591.6,1159.9 1592.2,1146.5 1592.7,1173.3 1593.3,1162.2 1593.9,1153.8 1594.5,1157.8 1595.1,1157.4 1595.7,1161.3 1596.3,1148.7 1596.8,1135.3 1597.4,1148.8 1598.0,1166.5 1598.6,1150.7 1599.2,1144.1 1599.8,1174.7 1600.3,1140.6 1600.9,1171.6 1601.5,1126.0 1602.1,1164.5 1602.7,1188.4 1603.3,1172.3 1603.8,1148.5 1604.4,1157.1 1605.0,1164.2 1605.6,1167.0 1606.2,1158.3 1606.8,1124.3 1607.3,1161.7 1607.9,1155.9 1608.5,1145.0 1609.1,1152.8 1609.7,1144.2 1610.3,1186.7 1610.9,1143.9 1611.4,1179.6 1612.0,1198.4 1612.6,1158.3 1613.2,1174.3 1613.8,1141.4 1614.4,1188.8 1614.9,1155.2 1615.5,1162.7 1616.1,1163.4 1616.7,1134.3 1617.3,1151.4 1617.9,1175.9 1618.4,1162.6 1619.0,1170.5 1619.6,1140.9 1620.2,1142.0 1620.8,1166.3 1621.4,1161.2 1621.9,1155.7 1622.5,1157.7 1623.1,1150.6 1623.7,1171.9 1624.3,1153.2 1624.9,1163.0 1625.5,1162.1 1626.0,1158.1 1626.6,1170.2 1627.2,1150.9 1627.8,1160.3 1628.4,1177.7 1629.0,1160.0 1629.5,1188.0 1630.1,1150.4 1630.7,1160.3 1631.3,1158.1 1631.9,1156.7 1632.5,1175.5 1633.0,1144.9 1633.6,1152.3 1634.2,1188.9 1634.8,1165.3 1635.4,1190.0 1636.0,1151.6 1636.5,1187.9 1637.1,1163.3 1637.7,1166.0 1638.3,1182.1 1638.9,1164.3 1639.5,1148.5 1640.1,1174.7 1640.6,1146.7 1641.2,1166.3 1641.8,1173.9 1642.4,1174.0 1643.0,1159.9 1643.6,1176.4 1644.1,1168.2 1644.7,1171.5 1645.3,1154.8 1645.9,1157.2 1646.5,1140.9 1647.1,1160.8 1647.6,1159.2 1648.2,1186.7 1648.8,1176.6 1649.4,1164.0 1650.0,1147.2 1650.6,1182.0 1651.1,1150.2 1651.7,1169.5 1652.3,1177.2 1652.9,1172.7 1653.5,1150.4 1654.1,1152.9 1654.7,1147.8 1655.2,1168.0 1655.8,1182.3 1656.4,1172.2 1657.0,1178.4 1657.6,1191.5 1658.2,1171.9 1658.7,1168.5 1659.3,1167.5 1659.9,1164.2 1660.5,1164.8 1661.1,1161.3 1661.7,1178.1 1662.2,1158.3 1662.8,1170.5 1663.4,1186.2 1664.0,1180.3 1664.6,1196.5 1665.2,1160.0 1665.7,1174.5 1666.3,1157.5 1666.9,1167.4 1667.5,1188.7 1668.1,1164.5 1668.7,1171.4 1669.3,1185.3 1669.8,1181.1 1670.4,1147.7 1671.0,1166.4 1671.6,1192.9 1672.2,1198.4 1672.8,1180.8 1673.3,1203.7 1673.9,1186.1 1674.5,1178.3 1675.1,1168.6 1675.7,1174.4 1676.3,1175.5 1676.8,1153.7 1677.4,1173.0 1678.0,1177.8 1678.6,1179.0 1679.2,1170.1 1679.8,1205.4 1680.3,1155.2 1680.9,1161.9 1681.5,1217.8 1682.1,1171.0 1682.7,1183.2 1683.3,1171.6 1683.9,1164.8 1684.4,1169.1 1685.0,1170.2 1685.6,1154.8 1686.2,1186.8 1686.8,1183.5 1687.4,1170.8 1687.9,1179.7 1688.5,1191.5 1689.1,1183.9 1689.7,1182.9 1690.3,1186.8 1690.9,1189.0 1691.4,1178.0 1692.0,1192.4 1692.6,1191.0 1693.2,1156.6 1693.8,1168.4 1694.4,1188.0 1694.9,1180.9 1695.5,1176.4 1696.1,1164.6 1696.7,1200.6 1697.3,1173.9 1697.9,1175.6 1698.5,1183.9 1699.0,1148.1 1699.6,1201.3 1700.2,1178.7 1700.8,1180.4 1701.4,1173.1 1702.0,1189.6 1702.5,1158.8 1703.1,1169.4 1703.7,1200.1 1704.3,1177.7 1704.9,1152.6 1705.5,1179.5 1706.0,1165.3 1706.6,1161.8 1707.2,1190.0 1707.8,1173.6 1708.4,1204.1 1709.0,1169.5 1709.5,1188.7 1710.1,1162.0 1710.7,1162.0 1711.3,1189.5 1711.9,1169.8 1712.5,1185.6 1713.1,1182.0 1713.6,1190.7 1714.2,1179.2 1714.8,1177.7 1715.4,1182.5 1716.0,1186.8 1716.6,1186.5 1717.1,1175.2 1717.7,1204.8 1718.3,1171.6 1718.9,1175.2 1719.5,1154.1 1720.1,1173.9 1720.6,1182.9 1721.2,1193.5 1721.8,1185.2 1722.4,1200.0 1723.0,1194.8 1723.6,1176.1 1724.1,1215.7 1724.7,1201.0 1725.3,1201.8 1725.9,1161.4 1726.5,1192.4 1727.1,1162.5 1727.7,1185.4 1728.2,1206.5 1728.8,1147.3 1729.4,1183.7 1730.0,1194.8 1730.6,1171.3 1731.2,1172.2 1731.7,1169.6 1732.3,1187.6 1732.9,1190.0 1733.5,1198.3 1734.1,1177.6 1734.7,1204.8 1735.2,1167.7 1735.8,1163.7 1736.4,1169.2 1737.0,1160.2 1737.6,1167.8 1738.2,1177.4 1738.7,1189.7 1739.3,1193.2 1739.9,1186.6 1740.5,1190.3 1741.1,1158.1 1741.7,1183.1 1742.3,1207.7 1742.8,1172.1 1743.4,1180.3 1744.0,1177.9 1744.6,1186.5 1745.2,1182.0 1745.8,1146.4 1746.3,1169.7 1746.9,1166.9 1747.5,1179.7 1748.1,1164.1 1748.7,1164.7 1749.3,1177.8 1749.8,1180.9 1750.4,1195.4 1751.0,1164.8 1751.6,1209.1 1752.2,1176.7 1752.8,1197.5 1753.3,1177.3 1753.9,1169.8 1754.5,1183.4 1755.1,1171.1 1755.7,1184.2 1756.3,1161.5 1756.9,1155.9 1757.4,1186.2 1758.0,1140.3 1758.6,1175.2 1759.2,1156.5 1759.8,1177.0 1760.4,1165.0 1760.9,1161.3 1761.5,1162.7 1762.1,1157.4 1762.7,1180.2 1763.3,1170.1 1763.9,1149.6 1764.4,1149.5 1765.0,1180.8 1765.6,1155.5 1766.2,1167.4 1766.8,1152.5 1767.4,1150.7 1767.9,1135.0 1768.5,1164.6 1769.1,1165.6 1769.7,1130.0 1770.3,1151.7 1770.9,1161.4 1771.5,1140.8 1772.0,1130.9 1772.6,1121.0 1773.2,1147.4 1773.8,1128.8 1774.4,1131.7 1775.0,1112.2 1775.5,1096.4 1776.1,1101.9 1776.7,1108.2 1777.3,1117.4 1777.9,1126.9 1778.5,1112.9 1779.0,1102.6 1779.6,1106.2 1780.2,1088.8 1780.8,1095.1 1781.4,1073.8 1782.0,1089.9 1782.5,1064.0 1783.1,1069.6 1783.7,1073.1 1784.3,1075.3 1784.9,1067.9 1785.5,1065.4 1786.1,1066.3 1786.6,1058.2 1787.2,1060.8 1787.8,1052.9 1788.4,1047.5 1789.0,1016.5 1789.6,1055.5 1790.1,1031.7 1790.7,1019.3 1791.3,1041.4 1791.9,1025.9 1792.5,1008.6 1793.1,1014.0 1793.6,1023.2 1794.2,1013.8 1794.8,1029.9 1795.4,1013.4 1796.0,979.1 1796.6,1024.0 1797.1,988.9 1797.7,978.6 1798.3,998.3 1798.9,1017.6 1799.5,991.7 1800.1,1003.5 1800.7,1027.5 1801.2,1034.6 1801.8,1028.2 1802.4,1010.7 1803.0,1021.8 1803.6,1037.9 1804.2,1025.3 1804.7,1040.7 1805.3,1035.0 1805.9,1007.2 1806.5,1029.0 1807.1,1053.8 1807.7,1039.8 1808.2,1035.5 1808.8,1061.0 1809.4,1047.1 1810.0,1075.2 1810.6,1051.1 1811.2,1071.0 1811.7,1058.6 1812.3,1082.3 1812.9,1062.5 1813.5,1074.8 1814.1,1069.5 1814.7,1084.7 1815.3,1080.9 1815.8,1092.3 1816.4,1085.4 1817.0,1083.9 1817.6,1107.4 1818.2,1100.6 1818.8,1114.6 1819.3,1087.2 1819.9,1122.5 1820.5,1104.9 1821.1,1103.7 1821.7,1094.8 1822.3,1094.5 1822.8,1117.3 1823.4,1126.7 1824.0,1120.8 1824.6,1130.9 1825.2,1109.6 1825.8,1128.5 1826.3,1125.7 1826.9,1149.3 1827.5,1117.6 1828.1,1119.8 1828.7,1139.3 1829.3,1142.3 1829.9,1139.5 1830.4,1147.6 1831.0,1153.3 1831.6,1141.3 1832.2,1172.6 1832.8,1134.4 1833.4,1162.6 1833.9,1118.1 1834.5,1167.7 1835.1,1143.1 1835.7,1160.2 1836.3,1159.2 1836.9,1148.9 1837.4,1157.9 1838.0,1155.3 1838.6,1158.5 1839.2,1175.9 1839.8,1144.6 1840.4,1176.2 1840.9,1159.2 1841.5,1180.8 1842.1,1176.2 1842.7,1182.2 1843.3,1174.0 1843.9,1181.1 1844.5,1174.5 1845.0,1179.7 1845.6,1187.2 1846.2,1197.1 1846.8,1189.4 1847.4,1178.0 1848.0,1163.9 1848.5,1180.5 1849.1,1187.0 1849.7,1183.6 1850.3,1202.9 1850.9,1204.8 1851.5,1193.6 1852.0,1176.0 1852.6,1195.0 1853.2,1186.9 1853.8,1170.2 1854.4,1190.8 1855.0,1187.9 1855.5,1202.4 1856.1,1171.6 1856.7,1174.9 1857.3,1201.1 1857.9,1219.9 1858.5,1202.8 1859.1,1203.4 1859.6,1205.8 1860.2,1196.7 1860.8,1179.0 1861.4,1201.6 1862.0,1198.4 1862.6,1187.6 1863.1,1230.2 1863.7,1190.2 1864.3,1214.0 1864.9,1235.5 1865.5,1204.3 1866.1,1200.3 1866.6,1197.7 1867.2,1215.2 1867.8,1208.8 1868.4,1208.0 1869.0,1174.5 1869.6,1209.9 1870.1,1202.8 1870.7,1214.1 1871.3,1190.2 1871.9,1205.5 1872.5,1209.1 1873.1,1211.9 1873.7,1215.3 1874.2,1192.5 1874.8,1219.3 1875.4,1216.3 1876.0,1191.3 1876.6,1208.4 1877.2,1210.2 1877.7,1207.6 1878.3,1182.7 1878.9,1211.5 1879.5,1223.3 1880.1,1187.3 1880.7,1214.5 1881.2,1235.2 1881.8,1204.1 1882.4,1230.0 1883.0,1242.0 1883.6,1212.0 1884.2,1225.2 1884.7,1229.2 1885.3,1204.0 1885.9,1215.7 1886.5,1225.1 1887.1,1223.2 1887.7,1211.9 1888.3,1206.1 1888.8,1231.4 1889.4,1242.9 1890.0,1222.8 1890.6,1222.6 1891.2,1199.9 1891.8,1200.4 1892.3,1205.8 1892.9,1221.8 1893.5,1225.3 1894.1,1216.9 1894.7,1208.2 1895.3,1213.8 1895.8,1220.5 1896.4,1210.2 1897.0,1205.1 1897.6,1241.2 1898.2,1200.3 1898.8,1213.5 1899.3,1236.6 1899.9,1215.6 1900.5,1233.3 1901.1,1224.6 1901.7,1206.5 1902.3,1212.7 1902.9,1202.6 1903.4,1221.7 1904.0,1225.4 1904.6,1206.8 1905.2,1224.9 1905.8,1210.2 1906.4,1178.0 1906.9,1188.0 1907.5,1225.1 1908.1,1236.0 1908.7,1243.1 1909.3,1201.7 1909.9,1227.6 1910.4,1216.6 1911.0,1216.8 1911.6,1193.3 1912.2,1229.4 1912.8,1217.8 1913.4,1218.6 1913.9,1230.6 1914.5,1222.5 1915.1,1201.8 1915.7,1240.8 1916.3,1194.1 1916.9,1218.1 1917.5,1213.0 1918.0,1240.3 1918.6,1207.8 1919.2,1197.0 1919.8,1224.3 1920.4,1201.9 1921.0,1185.2 1921.5,1203.1 1922.1,1217.4 1922.7,1205.2 1923.3,1242.3 1923.9,1204.0 1924.5,1207.6 1925.0,1210.2 1925.6,1223.0 1926.2,1229.3 1926.8,1212.6 1927.4,1219.5 1928.0,1194.7 1928.5,1231.1 1929.1,1222.9 1929.7,1221.2 1930.3,1230.4 1930.9,1223.4 1931.5,1207.9 1932.1,1211.4 1932.6,1225.2 1933.2,1234.0 1933.8,1202.0 1934.4,1220.5 1935.0,1201.9 1935.6,1238.8 1936.1,1232.9 1936.7,1204.0 1937.3,1238.1 1937.9,1204.9 1938.5,1213.7 1939.1,1227.6 1939.6,1241.9 1940.2,1203.5 1940.8,1235.7 1941.4,1220.1 1942.0,1213.6 1942.6,1214.1 1943.1,1219.1 1943.7,1215.6 1944.3,1213.9 1944.9,1221.5 1945.5,1213.0 1946.1,1238.9 1946.7,1240.9 1947.2,1227.8 1947.8,1222.8 1948.4,1236.2 1949.0,1209.4 1949.6,1226.6 1950.2,1225.0 1950.7,1242.4 1951.3,1201.6 1951.9,1226.2 1952.5,1236.7 1953.1,1219.2 1953.7,1225.5 1954.2,1220.5 1954.8,1199.2 1955.4,1206.2 1956.0,1223.9 1956.6,1242.9 1957.2,1197.2 1957.7,1215.1 1958.3,1238.9 1958.9,1222.3 1959.5,1222.3 1960.1,1220.8 1960.7,1209.2 1961.3,1195.7 1961.8,1228.4 1962.4,1234.8 1963.0,1249.5 1963.6,1235.3 1964.2,1183.2 1964.8,1222.3 1965.3,1209.7 1965.9,1224.5 1966.5,1230.5 1967.1,1203.0 1967.7,1230.8 1968.3,1223.4 1968.8,1233.0 1969.4,1228.7 1970.0,1229.9 1970.6,1205.1 1971.2,1220.1 1971.8,1232.3 1972.3,1216.1 1972.9,1238.0 1973.5,1203.1 1974.1,1220.8 1974.7,1230.0 1975.3,1239.2 1975.9,1216.1 1976.4,1263.2 1977.0,1227.0 1977.6,1208.8 1978.2,1201.0 1978.8,1206.7 1979.4,1215.2 1979.9,1224.0 1980.5,1215.9 1981.1,1246.6 1981.7,1242.5 1982.3,1236.0 1982.9,1248.9 1983.4,1213.5 1984.0,1214.2 1984.6,1223.7 1985.2,1222.0 1985.8,1223.7 1986.4,1247.1 1986.9,1243.9 1987.5,1223.8 1988.1,1209.0 1988.7,1199.0 1989.3,1234.6 1989.9,1254.5 1990.5,1229.9 1991.0,1216.8 1991.6,1214.1 1992.2,1210.1 1992.8,1228.8 1993.4,1217.0 1994.0,1238.9 1994.5,1189.8 1995.1,1214.9 1995.7,1228.9 1996.3,1214.9 1996.9,1215.0 1997.5,1223.4 1998.0,1221.2 1998.6,1202.1 1999.2,1219.6 1999.8,1211.4 2000.4,1224.2 2001.0,1198.7 2001.5,1219.2 2002.1,1198.7 2002.7,1198.8 2003.3,1216.3 2003.9,1215.3 2004.5,1245.0 2005.1,1220.4 2005.6,1238.1 2006.2,1245.1 2006.8,1205.0 2007.4,1229.1 2008.0,1221.4 2008.6,1200.9 2009.1,1219.9 2009.7,1210.8 2010.3,1194.4 2010.9,1226.0 2011.5,1224.0 2012.1,1219.4 2012.6,1216.3 2013.2,1220.2 2013.8,1225.4 2014.4,1191.3 2015.0,1230.6 2015.6,1204.7 2016.1,1234.7 2016.7,1216.8 2017.3,1215.9 2017.9,1217.1 2018.5,1243.7 2019.1,1238.5 2019.7,1214.8 2020.2,1217.8 2020.8,1226.1 2021.4,1216.7 2022.0,1219.0 2022.6,1210.7 2023.2,1241.7 2023.7,1200.7 2024.3,1196.9 2024.9,1202.5 2025.5,1210.2 2026.1,1216.3 2026.7,1211.2 2027.2,1237.0 2027.8,1198.9 2028.4,1207.2 2029.0,1234.6 2029.6,1214.3 2030.2,1221.7 2030.7,1236.0 2031.3,1210.3 2031.9,1222.6 2032.5,1209.4 2033.1,1197.4 2033.7,1208.4 2034.3,1216.3 2034.8,1233.3 2035.4,1228.9 2036.0,1227.2 2036.6,1226.1 2037.2,1214.6 2037.8,1217.9 2038.3,1213.9 2038.9,1220.1 2039.5,1245.2 2040.1,1220.9 2040.7,1218.5 2041.3,1228.8 2041.8,1220.2 2042.4,1202.5 2043.0,1215.1 2043.6,1230.8 2044.2,1222.6 2044.8,1215.8 2045.3,1207.9 2045.9,1207.0 2046.5,1212.3 2047.1,1217.6 2047.7,1204.0 2048.3,1221.5 2048.9,1229.1 2049.4,1167.4 2050.0,1233.4 2050.6,1222.3 2051.2,1219.2 2051.8,1226.1 2052.4,1200.1 2052.9,1224.3 2053.5,1198.9 2054.1,1214.1 2054.7,1207.5 2055.3,1225.0 2055.9,1221.0 2056.4,1218.9 2057.0,1222.5 2057.6,1233.5 2058.2,1222.4 2058.8,1215.8 2059.4,1231.0 2059.9,1214.1 2060.5,1209.3 2061.1,1226.8 2061.7,1223.7 2062.3,1232.4 2062.9,1203.1 2063.5,1205.3 2064.0,1210.3 2064.6,1228.5 2065.2,1234.5 2065.8,1226.7 2066.4,1213.4 2067.0,1206.4 2067.5,1204.2 2068.1,1174.0 2068.7,1218.3 2069.3,1189.0 2069.9,1197.4 2070.5,1206.4 2071.0,1229.3 2071.6,1209.5 2072.2,1219.9 2072.8,1238.5 2073.4,1214.8 2074.0,1202.7 2074.5,1229.2 2075.1,1226.5 2075.7,1208.3 2076.3,1243.9 2076.9,1210.7 2077.5,1220.0 2078.1,1221.3 2078.6,1201.8 2079.2,1207.3 2079.8,1216.0 2080.4,1229.7 2081.0,1228.5 2081.6,1223.6 2082.1,1194.3 2082.7,1220.6 2083.3,1219.6 2083.9,1237.1 2084.5,1220.7 2085.1,1244.3 2085.6,1232.5 2086.2,1224.7 2086.8,1214.2 2087.4,1224.7 2088.0,1212.4 2088.6,1231.5 2089.1,1198.1 2089.7,1215.9 2090.3,1220.2 2090.9,1196.3 2091.5,1225.5 2092.1,1232.3 2092.7,1230.1 2093.2,1224.6 2093.8,1213.5 2094.4,1212.9 2095.0,1225.0 2095.6,1235.8 2096.2,1225.8 2096.7,1201.4 2097.3,1219.8 2097.9,1220.7 2098.5,1229.6 2099.1,1214.9 2099.7,1225.7 2100.2,1227.6 2100.8,1222.9 2101.4,1245.5 2102.0,1232.9 2102.6,1238.2 2103.2,1219.9 2103.7,1232.3 2104.3,1200.9 2104.9,1251.5 2105.5,1224.6 2106.1,1239.3 2106.7,1212.8 2107.3,1253.3 2107.8,1213.0 2108.4,1219.9 2109.0,1227.4 2109.6,1227.6 2110.2,1217.1 2110.8,1227.2 2111.3,1249.8 2111.9,1235.4 2112.5,1250.0 2113.1,1248.8 2113.7,1234.0 2114.3,1238.8 2114.8,1236.9 2115.4,1222.2 2116.0,1236.2 2116.6,1242.9 2117.2,1230.0 2117.8,1237.7 2118.3,1218.9 2118.9,1250.8 2119.5,1229.6 2120.1,1218.0 2120.7,1248.6 2121.3,1248.4 2121.9,1238.9 2122.4,1244.5 2123.0,1245.4 2123.6,1237.5 2124.2,1241.2 2124.8,1238.5 2125.4,1260.7 2125.9,1235.8 2126.5,1212.9 2127.1,1234.8 2127.7,1263.6 2128.3,1226.5 2128.9,1220.0 2129.4,1234.4 2130.0,1264.6 2130.6,1222.2 2131.2,1238.5 2131.8,1205.6 2132.4,1236.3 2132.9,1223.2 2133.5,1257.6 2134.1,1214.9 2134.7,1231.2 2135.3,1223.9 2135.9,1253.6 2136.5,1258.6 2137.0,1230.3 2137.6,1239.6 2138.2,1236.4 2138.8,1244.7 2139.4,1223.8 2140.0,1206.9 2140.5,1232.6 2141.1,1227.7 2141.7,1227.2 2142.3,1227.3 2142.9,1217.9 2143.5,1242.4 2144.0,1239.1 2144.6,1233.9 2145.2,1231.0 2145.8,1228.0 2146.4,1220.7 2147.0,1247.4 2147.5,1254.2 2148.1,1222.6 2148.7,1227.2 2149.3,1214.2 2149.9,1238.5 2150.5,1255.1 2151.1,1236.4 2151.6,1248.3 2152.2,1202.9 2152.8,1205.1 2153.4,1254.9 2154.0,1221.2 2154.6,1228.1 2155.1,1227.6 2155.7,1260.2 2156.3,1225.6 2156.9,1217.3 2157.5,1261.3 2158.1,1235.6 2158.6,1235.2 2159.2,1215.1 2159.8,1247.5 2160.4,1241.7 2161.0,1233.7 2161.6,1226.4 2162.1,1245.8 2162.7,1236.7 2163.3,1230.4 2163.9,1212.5 2164.5,1238.5 2165.1,1263.9 2165.7,1234.4 2166.2,1244.8 2166.8,1235.0 2167.4,1233.2 2168.0,1244.7 2168.6,1227.2 2169.2,1224.3 2169.7,1217.1 2170.3,1242.7 2170.9,1257.3 2171.5,1213.9 2172.1,1232.7 2172.7,1225.4 2173.2,1232.1 2173.8,1235.2 2174.4,1234.5 2175.0,1241.2 2175.6,1236.5 2176.2,1241.6 2176.7,1218.7 2177.3,1247.7 2177.9,1227.3 2178.5,1231.9"/>
<polyline fill="none" stroke="#FF0000" stroke-width="3.6" stroke-linejoin="miter" stroke-miterlimit="2" shape-rendering="crispEdges" points="134.5,1177.6 135.1,1199.4 135.7,1197.2 136.3,1168.5 136.8,1171.7 137.4,1167.6 138.0,1185.4 138.6,1174.8 139.2,1187.8 139.8,1144.8 140.3,1200.8 140.9,1173.1 141.5,1185.6 142.1,1171.9 142.7,1167.6 143.3,1181.2 143.8,1186.8 144.4,1169.7 145.0,1170.2 145.6,1183.7 146.2,1157.8 146.8,1146.9 147.3,1178.1 147.9,1160.3 148.5,1139.4 149.1,1157.4 149.7,1162.8 150.3,1150.6 150.9,1145.4 151.4,1170.3 152.0,1184.1 152.6,1165.3 153.2,1156.6 153.8,1174.9 154.4,1180.1 154.9,1163.1 155.5,1176.7 156.1,1184.6 156.7,1163.8 157.3,1153.5 157.9,1172.3 158.4,1170.4 159.0,1184.1 159.6,1144.7 160.2,1154.6 160.8,1151.5 161.4,1136.5 161.9,1166.7 162.5,1173.0 163.1,1152.0 163.7,1186.5 164.3,1177.0 164.9,1173.5 165.5,1169.6 166.0,1178.4 166.6,1140.6 167.2,1172.2 167.8,1171.7 168.4,1132.6 169.0,1167.0 169.5,1156.9 170.1,1173.6 170.7,1153.3 171.3,1159.9 171.9,1165.5 172.5,1145.5 173.0,1169.6 173.6,1158.1 174.2,1167.8 174.8,1151.2 175.4,1177.5 176.0,1169.6 176.5,1156.7 177.1,1169.9 177.7,1180.2 178.3,1188.8 178.9,1133.8 179.5,1173.9 180.1,1167.1 180.6,1157.9 181.2,1143.0 181.8,1179.9 182.4,1138.7 183.0,1168.6 183.6,1180.5 184.1,1133.1 184.7,1154.3 185.3,1137.8 185.9,1163.2 186.5,1183.8 187.1,1192.1 187.6,1130.1 188.2,1149.7 188.8,1170.5 189.4,1184.7 190.0,1165.8 190.6,1146.8 191.1,1163.7 191.7,1158.6 192.3,1155.5 192.9,1146.9 193.5,1165.1 194.1,1163.8 194.7,1157.2 195.2,1155.1 195.8,1137.7 196.4,1150.7 197.0,1178.3 197.6,1155.5 198.2,1135.1 198.7,1180.2 199.3,1167.1 199.9,1192.8 200.5,1159.5 201.1,1150.9 201.7,1134.8 202.2,1179.9 202.8,1200.1 203.4,1144.9 204.0,1147.7 204.6,1167.9 205.2,1144.7 205.7,1153.8 206.3,1152.5 206.9,1161.2 207.5,1175.9 208.1,1158.4 208.7,1172.9 209.3,1151.2 209.8,1163.3 210.4,1123.2 211.0,1134.4 211.6,1170.8 212.2,1148.3 212.8,1167.2 213.3,1166.6 213.9,1179.2 214.5,1170.9 215.1,1174.2 215.7,1155.9 216.3,1146.5 216.8,1146.0 217.4,1150.0 218.0,1139.6 218.6,1149.1 219.2,1156.5 219.8,1162.1 220.3,1152.6 220.9,1127.0 221.5,1157.0 222.1,1161.8 222.7,1175.8 223.3,1167.6 223.9,1147.9 224.4,1146.6 225.0,1190.9 225.6,1170.7 226.2,1188.1 226.8,1192.9 227.4,1145.3 227.9,1164.8 228.5,1166.0 229.1,1167.7 229.7,1167.5 230.3,1162.0 230.9,1161.6 231.4,1134.6 232.0,1156.2 232.6,1146.8 233.2,1161.0 233.8,1151.4 234.4,1169.0 234.9,1172.3 235.5,1164.1 236.1,1164.2 236.7,1160.7 237.3,1152.0 237.9,1156.6 238.5,1151.3 239.0,1165.6 239.6,1159.6 240.2,1168.8 240.8,1138.0 241.4,1173.8 242.0,1147.2 242.5,1147.7 243.1,1156.5 243.7,1151.0 244.3,1165.2 244.9,1151.7 245.5,1144.1 246.0,1148.1 246.6,1183.3 247.2,1163.3 247.8,1144.2 248.4,1163.6 249.0,1138.8 249.5,1193.0 250.1,1140.1 250.7,1172.8 251.3,1174.2 251.9,1142.6 252.5,1171.2 253.1,1182.8 253.6,1174.7 254.2,1171.8 254.8,1183.2 255.4,1171.0 256.0,1174.2 256.6,1167.2 257.1,1179.8 257.7,1154.9 258.3,1183.2 258.9,1162.8 259.5,1153.8 260.1,1177.6 260.6,1199.3 261.2,1188.0 261.8,1164.7 262.4,1184.6 263.0,1166.5 263.6,1172.2 264.1,1176.1 264.7,1137.9 265.3,1178.5 265.9,1159.4 266.5,1165.1 267.1,1153.1 267.7,1152.8 268.2,1162.4 268.8,1191.2 269.4,1205.0 270.0,1178.4 270.6,1196.7 271.2,1175.4 271.7,1149.6 272.3,1183.1 272.9,1188.4 273.5,1174.9 274.1,1187.2 274.7,1192.0 275.2,1169.6 275.8,1160.3 276.4,1181.0 277.0,1181.7 277.6,1179.9 278.2,1201.9 278.7,1214.2 279.3,1180.5 279.9,1198.9 280.5,1203.3 281.1,1200.2 281.7,1206.1 282.3,1183.7 282.8,1202.3 283.4,1223.3 284.0,1204.4 284.6,1182.2 285.2,1202.3 285.8,1213.3 286.3,1199.6 286.9,1185.2 287.5,1219.4 288.1,1175.4 288.7,1203.9 289.3,1196.1 289.8,1177.9 290.4,1216.9 291.0,1203.6 291.6,1180.0 292.2,1208.7 292.8,1192.8 293.3,1169.9 293.9,1189.7 294.5,1205.4 295.1,1211.9 295.7,1205.0 296.3,1203.6 296.9,1210.9 297.4,1200.6 298.0,1223.2 298.6,1207.4 299.2,1210.1 299.8,1214.2 300.4,1189.0 300.9,1194.7 301.5,1230.5 302.1,1211.7 302.7,1202.1 303.3,1212.2 303.9,1199.3 304.4,1211.6 305.0,1196.8 305.6,1211.9 306.2,1182.7 306.8,1229.0 307.4,1199.9 307.9,1183.2 308.5,1204.9 309.1,1202.8 309.7,1211.3 310.3,1190.9 310.9,1215.5 311.5,1266.9 312.0,1189.3 312.6,1215.1 313.2,1205.0 313.8,1213.2 314.4,1181.6 315.0,1192.3 315.5,1218.0 316.1,1210.3 316.7,1237.0 317.3,1200.1 317.9,1214.2 318.5,1257.8 319.0,1199.7 319.6,1197.7 320.2,1211.7 320.8,1211.7 321.4,1225.9 322.0,1214.8 322.5,1201.0 323.1,1216.5 323.7,1255.1 324.3,1233.6 324.9,1169.7 325.5,1211.7 326.1,1200.3 326.6,1224.1 327.2,1211.7 327.8,1245.2 328.4,1229.6 329.0,1229.1 329.6,1218.2 330.1,1214.8 330.7,1221.0 331.3,1236.2 331.9,1224.4 332.5,1210.6 333.1,1236.5 333.6,1219.6 334.2,1215.5 334.8,1204.4 335.4,1208.2 336.0,1207.2 336.6,1173.4 337.1,1233.7 337.7,1226.8 338.3,1214.7 338.9,1234.7 339.5,1225.3 340.1,1224.5 340.7,1179.8 341.2,1215.3 341.8,1227.5 342.4,1244.7 343.0,1248.5 343.6,1242.2 344.2,1201.6 344.7,1185.5 345.3,1229.3 345.9,1220.9 346.5,1235.8 347.1,1218.9 347.7,1224.5 348.2,1197.6 348.8,1228.5 349.4,1214.6 350.0,1227.3 350.6,1229.2 351.2,1220.3 351.7,1227.3 352.3,1222.3 352.9,1234.7 353.5,1230.8 354.1,1214.5 354.7,1214.1 355.3,1250.9 355.8,1222.1 356.4,1239.4 357.0,1230.2 357.6,1215.3 358.2,1212.6 358.8,1226.4 359.3,1228.7 359.9,1234.5 360.5,1205.2 361.1,1215.9 361.7,1223.9 362.3,1250.7 362.8,1188.8 363.4,1232.8 364.0,1217.6 364.6,1233.0 365.2,1218.8 365.8,1232.3 366.3,1251.3 366.9,1232.5 367.5,1233.9 368.1,1233.2 368.7,1215.8 369.3,1236.2 369.9,1224.6 370.4,1215.3 371.0,1227.6 371.6,1224.8 372.2,1240.3 372.8,1228.1 373.4,1220.6 373.9,1251.8 374.5,1244.7 375.1,1249.3 375.7,1239.1 376.3,1228.1 376.9,1223.4 377.4,1225.8 378.0,1245.1 378.6,1232.2 379.2,1207.5 379.8,1230.2 380.4,1208.9 380.9,1233.8 381.5,1212.6 382.1,1211.8 382.7,1233.6 383.3,1230.7 383.9,1206.1 384.5,1243.9 385.0,1266.1 385.6,1209.5 386.2,1261.1 386.8,1222.2 387.4,1225.4 388.0,1230.5 388.5,1210.9 389.1,1253.9 389.7,1241.5 390.3,1222.3 390.9,1229.8 391.5,1210.7 392.0,1229.1 392.6,1249.2 393.2,1208.1 393.8,1228.2 394.4,1237.5 395.0,1251.7 395.5,1256.5 396.1,1228.6 396.7,1224.4 397.3,1243.1 397.9,1230.6 398.5,1231.6 399.1,1253.4 399.6,1263.0 400.2,1241.1 400.8,1234.1 401.4,1246.2 402.0,1208.1 402.6,1237.4 403.1,1221.3 403.7,1275.1 404.3,1249.3 404.9,1240.5 405.5,1235.5 406.1,1199.7 406.6,1249.9 407.2,1264.3 407.8,1227.9 408.4,1250.0 409.0,1250.8 409.6,1215.7 410.1,1254.4 410.7,1261.1 411.3,1243.8 411.9,1239.5 412.5,1252.8 413.1,1216.9 413.7,1242.5 414.2,1257.5 414.8,1222.2 415.4,1257.0 416.0,1235.3 416.6,1209.8 417.2,1240.6 417.7,1227.3 418.3,1247.5 418.9,1224.6 419.5,1259.2 420.1,1231.7 420.7,1248.9 421.2,1234.4 421.8,1238.8 422.4,1262.4 423.0,1247.5 423.6,1238.2 424.2,1225.2 424.7,1262.7 425.3,1256.3 425.9,1240.1 426.5,1249.1 427.1,1229.6 427.7,1230.0 428.3,1233.2 428.8,1251.6 429.4,1250.9 430.0,1235.0 430.6,1258.1 431.2,1259.0 431.8,1249.7 432.3,1263.3 432.9,1243.0 433.5,1245.9 434.1,1255.2 434.7,1247.5 435.3,1260.5 435.8,1229.1 436.4,1270.6 437.0,1236.8 437.6,1246.5 438.2,1228.0 438.8,1258.7 439.3,1269.2 439.9,1266.3 440.5,1262.8 441.1,1226.2 441.7,1238.4 442.3,1243.5 442.9,1236.4 443.4,1268.3 444.0,1254.0 444.6,1251.0 445.2,1259.1 445.8,1237.1 446.4,1238.0 446.9,1238.6 447.5,1260.0 448.1,1257.8 448.7,1261.6 449.3,1269.5 449.9,1232.3 450.4,1244.7 451.0,1255.8 451.6,1233.0 452.2,1245.8 452.8,1269.7 453.4,1271.2 453.9,1271.0 454.5,1255.4 455.1,1251.7 455.7,1271.7 456.3,1249.6 456.9,1260.7 457.5,1276.0 458.0,1250.2 458.6,1246.7 459.2,1256.1 459.8,1265.6 460.4,1264.1 461.0,1259.2 461.5,1265.6 462.1,1232.7 462.7,1244.3 463.3,1260.1 463.9,1243.6 464.5,1237.5 465.0,1239.7 465.6,1244.4 466.2,1255.9 466.8,1243.2 467.4,1262.6 468.0,1285.1 468.5,1257.0 469.1,1278.8 469.7,1263.8 470.3,1242.3 470.9,1255.5 471.5,1244.5 472.1,1271.3 472.6,1242.0 473.2,1279.9 473.8,1268.5 474.4,1228.9 475.0,1271.8 475.6,1283.6 476.1,1247.8 476.7,1275.0 477.3,1232.5 477.9,1263.9 478.5,1234.7 479.1,1267.5 479.6,1232.9 480.2,1220.1 480.8,1266.3 481.4,1295.2 482.0,1251.3 482.6,1273.1 483.1,1262.2 483.7,1255.6 484.3,1270.0 484.9,1285.6 485.5,1241.9 486.1,1269.3 486.7,1266.0 487.2,1239.1 487.8,1285.5 488.4,1290.6 489.0,1246.5 489.6,1287.5 490.2,1261.9 490.7,1258.6 491.3,1284.0 491.9,1264.7 492.5,1266.2 493.1,1284.4 493.7,1280.9 494.2,1275.0 494.8,1240.2 495.4,1237.6 496.0,1278.7 496.6,1247.5 497.2,1263.9 497.7,1245.4 498.3,1259.0 498.9,1242.4 499.5,1286.6 500.1,1246.4 500.7,1260.1 501.3,1259.1 501.8,1280.3 502.4,1240.6 503.0,1261.6 503.6,1259.0 504.2,1270.3 504.8,1269.4 505.3,1255.3 505.9,1266.0 506.5,1256.8 507.1,1269.6 507.7,1261.0 508.3,1252.6 508.8,1262.2 509.4,1268.2 510.0,1297.0 510.6,1255.3 511.2,1267.5 511.8,1285.0 512.3,1231.5 512.9,1236.6 513.5,1245.0 514.1,1261.3 514.7,1300.0 515.3,1269.1 515.9,1281.5 516.4,1259.9 517.0,1226.1 517.6,1228.4 518.2,1278.8 518.8,1266.3 519.4,1243.9 519.9,1280.4 520.5,1240.4 521.1,1280.8 521.7,1285.6 522.3,1252.2 522.9,1247.1 523.4,1276.6 524.0,1247.4 524.6,1277.0 525.2,1245.9 525.8,1276.1 526.4,1265.3 526.9,1257.4 527.5,1250.4 528.1,1267.5 528.7,1235.3 529.3,1259.7 529.9,1257.8 530.5,1274.0 531.0,1244.9 531.6,1289.6 532.2,1259.0 532.8,1246.6 533.4,1284.6 534.0,1288.7 534.5,1260.8 535.1,1250.2 535.7,1263.9 536.3,1253.2 536.9,1258.9 537.5,1287.0 538.0,1269.4 538.6,1265.7 539.2,1268.7 539.8,1262.6 540.4,1276.1 541.0,1276.7 541.5,1257.9 542.1,1265.0 542.7,1299.6 543.3,1269.7 543.9,1260.5 544.5,1294.1 545.1,1263.4 545.6,1246.8 546.2,1273.4 546.8,1249.7 547.4,1255.8 548.0,1268.1 548.6,1261.3 549.1,1251.7 549.7,1254.9 550.3,1254.2 550.9,1280.6 551.5,1252.3 552.1,1254.5 552.6,1293.6 553.2,1254.7 553.8,1285.3 554.4,1282.7 555.0,1260.7 555.6,1241.7 556.1,1269.7 556.7,1273.0 557.3,1277.4 557.9,1263.9 558.5,1280.9 559.1,1283.6 559.7,1247.0 560.2,1284.2 560.8,1265.4 561.4,1254.3 562.0,1258.0 562.6,1290.8 563.2,1277.4 563.7,1235.9 564.3,1263.9 564.9,1260.5 565.5,1260.0 566.1,1254.9 566.7,1240.8 567.2,1275.4 567.8,1248.5 568.4,1257.0 569.0,1253.5 569.6,1251.6 570.2,1273.5 570.7,1268.2 571.3,1252.3 571.9,1248.3 572.5,1255.4 573.1,1276.8 573.7,1264.2 574.3,1265.8 574.8,1257.4 575.4,1258.4 576.0,1265.5 576.6,1234.8 577.2,1286.2 577.8,1250.5 578.3,1253.7 578.9,1282.1 579.5,1265.4 580.1,1262.7 580.7,1253.4 581.3,1238.9 581.8,1264.9 582.4,1279.9 583.0,1248.8 583.6,1282.5 584.2,1245.5 584.8,1251.4 585.3,1269.8 585.9,1262.3 586.5,1272.6 587.1,1251.4 587.7,1247.1 588.3,1234.7 588.9,1244.6 589.4,1246.5 590.0,1241.4 590.6,1267.2 591.2,1252.8 591.8,1233.1 592.4,1299.5 592.9,1250.3 593.5,1244.1 594.1,1281.2 594.7,1280.1 595.3,1245.7 595.9,1241.0 596.4,1248.1 597.0,1279.7 597.6,1258.3 598.2,1251.0 598.8,1262.6 599.4,1280.9 599.9,1242.5 600.5,1257.4 601.1,1242.6 601.7,1295.3 602.3,1290.1 602.9,1277.3 603.5,1261.3 604.0,1273.0 604.6,1232.2 605.2,1267.4 605.8,1243.6 606.4,1243.8 607.0,1253.0 607.5,1258.3 608.1,1272.0 608.7,1273.9 609.3,1267.4 609.9,1249.6 610.5,1273.6 611.0,1261.9 611.6,1281.1 612.2,1250.2 612.8,1222.9 613.4,1256.7 614.0,1295.6 614.5,1270.8 615.1,1261.0 615.7,1276.9 616.3,1271.4 616.9,1270.8 617.5,1256.4 618.1,1265.1 618.6,1267.0 619.2,1254.6 619.8,1247.6 620.4,1266.2 621.0,1278.5 621.6,1273.7 622.1,1271.5 622.7,1271.7 623.3,1302.4 623.9,1268.2 624.5,1279.7 625.1,1293.2 625.6,1265.2 626.2,1268.3 626.8,1279.9 627.4,1289.4 628.0,1269.2 628.6,1269.9 629.1,1265.9 629.7,1246.9 630.3,1281.1 630.9,1261.0 631.5,1239.5 632.1,1262.6 632.7,1239.4 633.2,1250.1 633.8,1265.2 634.4,1251.4 635.0,1280.7 635.6,1243.4 636.2,1268.9 636.7,1273.3 637.3,1286.6 637.9,1278.7 638.5,1268.5 639.1,1266.1 639.7,1263.9 640.2,1281.3 640.8,1254.8 641.4,1271.9 642.0,1262.8 642.6,1267.5 643.2,1260.0 643.7,1295.0 644.3,1253.9 644.9,1267.1 645.5,1267.2 646.1,1271.9 646.7,1269.5 647.3,1268.9 647.8,1276.9 648.4,1240.4 649.0,1262.4 649.6,1244.0 650.2,1265.3 650.8,1244.5 651.3,1247.6 651.9,1260.6 652.5,1281.7 653.1,1269.6 653.7,1265.3 654.3,1281.3 654.8,1246.9 655.4,1229.9 656.0,1254.2 656.6,1256.1 657.2,1278.1 657.8,1291.1 658.3,1240.3 658.9,1295.7 659.5,1282.3 660.1,1271.5 660.7,1264.5 661.3,1294.3 661.9,1260.0 662.4,1251.7 663.0,1260.5 663.6,1238.3 664.2,1265.0 664.8,1256.4 665.4,1262.6 665.9,1262.9 666.5,1242.1 667.1,1276.5 667.7,1242.4 668.3,1270.0 668.9,1233.7 669.4,1262.1 670.0,1244.6 670.6,1257.0 671.2,1246.8 671.8,1224.3 672.4,1239.7 672.9,1256.8 673.5,1264.7 674.1,1234.1 674.7,1224.4 675.3,1242.5 675.9,1251.9 676.5,1245.6 677.0,1242.9 677.6,1266.9 678.2,1268.4 678.8,1265.0 679.4,1240.4 680.0,1255.0 680.5,1250.9 681.1,1232.8 681.7,1266.2 682.3,1254.5 682.9,1246.0 683.5,1273.5 684.0,1263.8 684.6,1265.0 685.2,1269.8 685.8,1262.7 686.4,1233.8 687.0,1246.3 687.5,1266.3 688.1,1240.5 688.7,1252.0 689.3,1257.1 689.9,1272.0 690.5,1269.8 691.1,1263.8 691.6,1248.0 692.2,1263.8 692.8,1258.0 693.4,1247.8 694.0,1269.7 694.6,1257.0 695.1,1238.8 695.7,1267.9 696.3,1245.7 696.9,1257.8 697.5,1227.1 698.1,1248.7 698.6,1235.2 699.2,1234.6 699.8,1220.9 700.4,1279.4 701.0,1246.1 701.6,1251.6 702.1,1264.0 702.7,1246.1 703.3,1255.1 703.9,1228.0 704.5,1250.3 705.1,1241.3 705.7,1254.4 706.2,1249.6 706.8,1226.9 707.4,1220.0 708.0,1232.0 708.6,1257.1 709.2,1252.5 709.7,1252.0 710.3,1217.0 710.9,1207.2 711.5,1236.8 712.1,1240.8 712.7,1236.8 713.2,1250.5 713.8,1242.8 714.4,1228.0 715.0,1232.3 715.6,1246.9 716.2,1245.7 716.7,1243.4 717.3,1277.0 717.9,1240.5 718.5,1245.8 719.1,1229.6 719.7,1238.7 720.3,1251.2 720.8,1251.7 721.4,1241.1 722.0,1248.9 722.6,1243.9 723.2,1215.9 723.8,1195.8 724.3,1275.9 724.9,1254.5 725.5,1241.6 726.1,1217.3 726.7,1223.8 727.3,1261.5 727.8,1201.9 728.4,1237.1 729.0,1254.1 729.6,1243.5 730.2,1252.2 730.8,1239.3 731.3,1275.4 731.9,1226.2 732.5,1221.3 733.1,1244.6 733.7,1261.0 734.3,1239.6 734.9,1255.3 735.4,1232.5 736.0,1223.0 736.6,1259.9 737.2,1262.2 737.8,1261.5 738.4,1233.2 738.9,1222.8 739.5,1222.4 740.1,1235.8 740.7,1247.2 741.3,1246.0 741.9,1218.1 742.4,1241.3 743.0,1238.6 743.6,1239.5 744.2,1237.7 744.8,1235.1 745.4,1246.3 745.9,1239.5 746.5,1240.8 747.1,1227.5 747.7,1242.9 748.3,1235.4 748.9,1206.8 749.5,1243.8 750.0,1233.0 750.6,1249.8 751.2,1234.1 751.8,1235.0 752.4,1239.2 753.0,1235.9 753.5,1229.5 754.1,1210.2 754.7,1261.9 755.3,1213.0 755.9,1230.5 756.5,1244.5 757.0,1240.4 757.6,1243.0 758.2,1245.7 758.8,1252.6 759.4,1238.7 760.0,1275.7 760.5,1219.7 761.1,1237.3 761.7,1228.7 762.3,1226.0 762.9,1237.7 763.5,1254.2 764.1,1223.2 764.6,1223.0 765.2,1243.3 765.8,1240.6 766.4,1260.5 767.0,1247.2 767.6,1235.7 768.1,1227.6 768.7,1235.2 769.3,1229.5 769.9,1212.5 770.5,1231.8 771.1,1229.1 771.6,1228.1 772.2,1225.2 772.8,1255.1 773.4,1240.8 774.0,1244.1 774.6,1222.1 775.1,1216.0 775.7,1226.4 776.3,1233.7 776.9,1225.2 777.5,1227.3 778.1,1243.4 778.7,1233.9 779.2,1215.6 779.8,1223.3 780.4,1219.9 781.0,1231.6 781.6,1212.4 782.2,1226.3 782.7,1238.4 783.3,1228.9 783.9,1215.4 784.5,1219.5 785.1,1229.8 785.7,1234.8 786.2,1239.6 786.8,1225.6 787.4,1208.9 788.0,1247.5 788.6,1231.4 789.2,1232.8 789.7,1231.2 790.3,1212.1 790.9,1222.1 791.5,1230.1 792.1,1240.9 792.7,1227.0 793.3,1182.0 793.8,1222.5 794.4,1230.7 795.0,1243.9 795.6,1235.8 796.2,1261.1 796.8,1246.3 797.3,1245.5 797.9,1240.0 798.5,1207.4 799.1,1239.0 799.7,1235.7 800.3,1220.1 800.8,1236.0 801.4,1233.8 802.0,1221.6 802.6,1226.6 803.2,1224.9 803.8,1232.0 804.3,1223.0 804.9,1236.9 805.5,1202.4 806.1,1225.7 806.7,1206.2 807.3,1223.3 807.9,1237.5 808.4,1230.8 809.0,1229.1 809.6,1231.9 810.2,1253.2 810.8,1215.8 811.4,1244.0 811.9,1210.5 812.5,1225.4 813.1,1234.5 813.7,1220.4 814.3,1235.5 814.9,1243.1 815.4,1216.3 816.0,1232.2 816.6,1228.2 817.2,1206.5 817.8,1231.3 818.4,1222.9 818.9,1253.1 819.5,1222.2 820.1,1258.6 820.7,1227.5 821.3,1262.3 821.9,1242.9 822.5,1241.9 823.0,1247.1 823.6,1248.6 824.2,1255.9 824.8,1260.7 825.4,1231.8 826.0,1219.4 826.5,1199.7 827.1,1231.9 827.7,1248.1 828.3,1243.0 828.9,1239.5 829.5,1233.2 830.0,1229.4 830.6,1234.6 831.2,1244.2 831.8,1214.3 832.4,1249.4 833.0,1219.1 833.5,1237.4 834.1,1231.0 834.7,1234.9 835.3,1225.7 835.9,1224.4 836.5,1237.4 837.1,1225.7 837.6,1274.9 838.2,1234.6 838.8,1231.1 839.4,1232.4 840.0,1224.9 840.6,1205.5 841.1,1235.9 841.7,1243.6 842.3,1218.1 842.9,1238.9 843.5,1221.9 844.1,1238.0 844.6,1243.3 845.2,1244.8 845.8,1243.9 846.4,1227.9 847.0,1249.7 847.6,1231.1 848.1,1242.0 848.7,1246.7 849.3,1232.5 849.9,1218.8 850.5,1244.9 851.1,1220.7 851.7,1223.6 852.2,1220.5 852.8,1247.3 853.4,1233.1 854.0,1204.1 854.6,1245.2 855.2,1263.5 855.7,1259.5 856.3,1226.6 856.9,1235.3 857.5,1241.1 858.1,1246.2 858.7,1234.2 859.2,1218.4 859.8,1243.7 860.4,1241.6 861.0,1214.6 861.6,1227.7 862.2,1236.2 862.7,1232.3 863.3,1239.4 863.9,1242.9 864.5,1239.2 865.1,1230.0 865.7,1212.8 866.3,1239.7 866.8,1250.3 867.4,1258.0 868.0,1230.1 868.6,1229.9 869.2,1250.1 869.8,1249.8 870.3,1234.5 870.9,1239.4 871.5,1219.0 872.1,1237.3 872.7,1217.7 873.3,1226.9 873.8,1227.0 874.4,1222.1 875.0,1199.3 875.6,1216.8 876.2,1232.5 876.8,1226.9 877.3,1222.1 877.9,1233.2 878.5,1236.6 879.1,1238.6 879.7,1215.7 880.3,1226.9 880.9,1221.8 881.4,1214.2 882.0,1205.5 882.6,1224.4 883.2,1213.7 883.8,1254.8 884.4,1223.9 884.9,1222.0 885.5,1219.4 886.1,1250.2 886.7,1211.6 887.3,1222.1 887.9,1213.6 888.4,1222.2 889.0,1223.2 889.6,1238.5 890.2,1204.0 890.8,1222.8 891.4,1244.9 891.9,1215.8 892.5,1220.1 893.1,1210.3 893.7,1186.6 894.3,1220.4 894.9,1237.4 895.5,1214.6 896.0,1195.5 896.6,1223.7 897.2,1220.8 897.8,1232.8 898.4,1231.2 899.0,1214.7 899.5,1223.4 900.1,1193.2 900.7,1232.2 901.3,1219.2 901.9,1231.0 902.5,1230.2 903.0,1211.5 903.6,1212.9 904.2,1202.7 904.8,1186.2 905.4,1211.9 906.0,1215.3 906.5,1198.1 907.1,1222.0 907.7,1213.3 908.3,1217.7 908.9,1200.7 909.5,1186.8 910.1,1220.7 910.6,1218.1 911.2,1207.9 911.8,1203.3 912.4,1204.8 913.0,1206.2 913.6,1200.8 914.1,1180.1 914.7,1217.4 915.3,1186.2 915.9,1201.3 916.5,1201.1 917.1,1208.2 917.6,1182.4 918.2,1219.8 918.8,1211.9 919.4,1212.9 920.0,1219.0 920.6,1190.7 921.1,1158.8 921.7,1204.8 922.3,1217.5 922.9,1214.9 923.5,1191.6 924.1,1197.0 924.7,1201.5 925.2,1172.9 925.8,1187.7 926.4,1187.5 927.0,1216.8 927.6,1186.3 928.2,1215.5 928.7,1194.1 929.3,1170.9 929.9,1222.5 930.5,1179.3 931.1,1200.0 931.7,1214.1 932.2,1183.6 932.8,1173.7 933.4,1204.5 934.0,1192.2 934.6,1175.8 935.2,1178.5 935.7,1188.6 936.3,1207.4 936.9,1191.5 937.5,1204.9 938.1,1219.0 938.7,1214.7 939.3,1217.7 939.8,1215.8 940.4,1178.7 941.0,1217.2 941.6,1206.1 942.2,1200.9 942.8,1188.9 943.3,1183.0 943.9,1190.2 944.5,1205.5 945.1,1190.9 945.7,1196.5 946.3,1199.9 946.8,1217.8 947.4,1205.8 948.0,1208.6 948.6,1228.9 949.2,1207.9 949.8,1220.9 950.3,1199.7 950.9,1218.9 951.5,1216.9 952.1,1218.4 952.7,1210.7 953.3,1204.1 953.9,1214.5 954.4,1213.1 955.0,1233.8 955.6,1232.9 956.2,1205.8 956.8,1230.8 957.4,1217.0 957.9,1230.2 958.5,1218.5 959.1,1206.3 959.7,1239.9 960.3,1233.3 960.9,1211.9 961.4,1203.9 962.0,1222.6 962.6,1214.9 963.2,1226.5 963.8,1240.3 964.4,1251.8 964.9,1227.8 965.5,1250.7 966.1,1247.9 966.7,1226.9 967.3,1210.7 967.9,1244.0 968.5,1240.8 969.0,1263.8 969.6,1251.7 970.2,1243.3 970.8,1255.2 971.4,1219.3 972.0,1235.7 972.5,1229.6 973.1,1256.2 973.7,1240.8 974.3,1193.3 974.9,1251.4 975.5,1221.6 976.0,1243.8 976.6,1227.4 977.2,1236.9 977.8,1242.1 978.4,1236.4 979.0,1221.4 979.5,1252.3 980.1,1239.2 980.7,1233.9 981.3,1243.4 981.9,1227.2 982.5,1259.0 983.1,1237.3 983.6,1239.2 984.2,1239.0 984.8,1222.6 985.4,1219.3 986.0,1237.5 986.6,1239.3 987.1,1252.3 987.7,1240.7 988.3,1220.7 988.9,1241.8 989.5,1245.8 990.1,1248.1 990.6,1239.4 991.2,1219.2 991.8,1250.3 992.4,1225.7 993.0,1242.8 993.6,1214.9 994.1,1245.4 994.7,1225.3 995.3,1250.0 995.9,1259.6 996.5,1252.7 997.1,1223.1 997.7,1226.8 998.2,1228.5 998.8,1249.2 999.4,1245.8 1000.0,1244.2 1000.6,1246.9 1001.2,1251.2 1001.7,1252.9 1002.3,1267.1 1002.9,1245.3 1003.5,1249.4 1004.1,1223.5 1004.7,1231.2 1005.2,1240.1 1005.8,1234.5 1006.4,1253.5 1007.0,1264.9 1007.6,1246.6 1008.2,1246.7 1008.7,1247.1 1009.3,1256.2 1009.9,1248.2 1010.5,1261.6 1011.1,1260.7 1011.7,1262.0 1012.3,1268.2 1012.8,1259.5 1013.4,1261.8 1014.0,1283.4 1014.6,1260.9 1015.2,1272.5 1015.8,1263.7 1016.3,1257.9 1016.9,1258.7 1017.5,1254.8 1018.1,1266.2 1018.7,1259.1 1019.3,1262.2 1019.8,1284.1 1020.4,1267.5 1021.0,1284.6 1021.6,1273.6 1022.2,1281.5 1022.8,1262.8 1023.3,1272.8 1023.9,1304.9 1024.5,1282.0 1025.1,1284.4 1025.7,1274.8 1026.3,1283.0 1026.9,1257.3 1027.4,1261.6 1028.0,1278.2 1028.6,1283.4 1029.2,1267.9 1029.8,1271.0 1030.4,1269.0 1030.9,1271.4 1031.5,1258.7 1032.1,1255.9 1032.7,1273.4 1033.3,1252.5 1033.9,1262.4 1034.4,1266.7 1035.0,1261.9 1035.6,1278.6 1036.2,1270.1 1036.8,1275.0 1037.4,1263.3 1037.9,1267.0 1038.5,1283.2 1039.1,1281.5 1039.7,1271.2 1040.3,1281.9 1040.9,1279.9 1041.5,1279.8 1042.0,1298.2 1042.6,1273.1 1043.2,1283.7 1043.8,1284.0 1044.4,1275.9 1045.0,1264.3 1045.5,1288.1 1046.1,1282.8 1046.7,1280.3 1047.3,1280.2 1047.9,1280.4 1048.5,1269.0 1049.0,1284.3 1049.6,1257.9 1050.2,1280.7 1050.8,1262.3 1051.4,1277.0 1052.0,1290.7 1052.5,1278.6 1053.1,1276.0 1053.7,1288.8 1054.3,1279.1 1054.9,1277.6 1055.5,1278.0 1056.1,1302.3 1056.6,1291.8 1057.2,1289.7 1057.8,1268.8 1058.4,1291.9 1059.0,1268.0 1059.6,1290.5 1060.1,1270.6 1060.7,1309.6 1061.3,1263.9 1061.9,1300.8 1062.5,1295.7 1063.1,1263.4 1063.6,1282.3 1064.2,1303.0 1064.8,1298.7 1065.4,1263.0 1066.0,1276.9 1066.6,1268.2 1067.1,1269.6 1067.7,1274.0 1068.3,1304.7 1068.9,1282.8 1069.5,1277.8 1070.1,1276.0 1070.7,1288.1 1071.2,1287.9 1071.8,1267.3 1072.4,1296.7 1073.0,1264.3 1073.6,1273.9 1074.2,1282.6 1074.7,1297.9 1075.3,1271.7 1075.9,1279.1 1076.5,1291.4 1077.1,1282.4 1077.7,1288.3 1078.2,1286.7 1078.8,1276.5 1079.4,1280.7 1080.0,1283.8 1080.6,1271.5 1081.2,1291.4 1081.7,1246.2 1082.3,1259.0 1082.9,1288.1 1083.5,1274.9 1084.1,1261.1 1084.7,1273.4 1085.3,1281.8 1085.8,1260.8 1086.4,1276.9 1087.0,1265.3 1087.6,1265.0 1088.2,1265.1 1088.8,1279.3 1089.3,1251.1 1089.9,1260.0 1090.5,1272.1 1091.1,1248.0 1091.7,1242.8 1092.3,1268.8 1092.8,1261.1 1093.4,1258.5 1094.0,1261.4 1094.6,1246.9 1095.2,1294.4 1095.8,1245.3 1096.3,1251.4 1096.9,1238.5 1097.5,1250.2 1098.1,1273.6 1098.7,1254.2 1099.3,1260.6 1099.9,1246.6 1100.4,1274.1 1101.0,1252.7 1101.6,1234.2 1102.2,1258.2 1102.8,1243.1 1103.4,1254.1 1103.9,1247.3 1104.5,1247.9 1105.1,1245.3 1105.7,1231.4 1106.3,1223.1 1106.9,1252.6 1107.4,1237.9 1108.0,1242.1 1108.6,1231.9 1109.2,1211.6 1109.8,1219.8 1110.4,1251.8 1110.9,1223.9 1111.5,1227.9 1112.1,1213.3 1112.7,1223.1 1113.3,1223.2 1113.9,1223.2 1114.5,1223.2 1115.0,1214.5 1115.6,1213.4 1116.2,1218.4 1116.8,1220.7 1117.4,1213.2 1118.0,1234.5 1118.5,1213.8 1119.1,1211.4 1119.7,1199.6 1120.3,1218.4 1120.9,1191.4 1121.5,1182.3 1122.0,1188.3 1122.6,1205.6 1123.2,1181.7 1123.8,1209.3 1124.4,1191.0 1125.0,1170.4 1125.5,1183.9 1126.1,1206.3 1126.7,1171.7 1127.3,1163.9 1127.9,1183.9 1128.5,1191.4 1129.1,1185.6 1129.6,1166.9 1130.2,1171.3 1130.8,1171.7 1131.4,1180.7 1132.0,1191.3 1132.6,1162.6 1133.1,1178.4 1133.7,1157.1 1134.3,1167.2 1134.9,1147.4 1135.5,1148.2 1136.1,1161.2 1136.6,1144.0 1137.2,1165.2 1137.8,1148.4 1138.4,1156.7 1139.0,1155.4 1139.6,1153.1 1140.1,1159.4 1140.7,1171.6 1141.3,1196.9 1141.9,1145.4 1142.5,1164.2 1143.1,1159.4 1143.7,1154.1 1144.2,1172.2 1144.8,1161.7 1145.4,1175.0 1146.0,1194.5 1146.6,1158.7 1147.2,1189.7 1147.7,1195.7 1148.3,1182.3 1148.9,1203.9 1149.5,1205.4 1150.1,1200.1 1150.7,1219.4 1151.2,1189.5 1151.8,1213.5 1152.4,1203.4 1153.0,1193.9 1153.6,1205.0 1154.2,1203.4 1154.7,1218.0 1155.3,1190.6 1155.9,1206.7 1156.5,1204.1 1157.1,1228.7 1157.7,1194.8 1158.3,1219.6 1158.8,1184.3 1159.4,1208.1 1160.0,1200.9 1160.6,1205.6 1161.2,1191.2 1161.8,1174.7 1162.3,1178.2 1162.9,1211.0 1163.5,1196.4 1164.1,1182.0 1164.7,1201.7 1165.3,1180.3 1165.8,1178.5 1166.4,1171.0 1167.0,1197.7 1167.6,1205.2 1168.2,1168.3 1168.8,1181.4 1169.3,1187.7 1169.9,1199.5 1170.5,1143.5 1171.1,1172.0 1171.7,1176.2 1172.3,1148.9 1172.9,1169.6 1173.4,1165.6 1174.0,1170.6 1174.6,1153.8 1175.2,1164.4 1175.8,1151.0 1176.4,1164.1 1176.9,1157.5 1177.5,1149.9 1178.1,1136.2 1178.7,1171.5 1179.3,1163.8 1179.9,1159.8 1180.4,1140.2 1181.0,1142.7 1181.6,1167.5 1182.2,1157.1 1182.8,1138.8 1183.4,1150.2 1183.9,1152.0 1184.5,1148.6 1185.1,1140.5 1185.7,1167.3 1186.3,1160.1 1186.9,1151.4 1187.5,1137.5 1188.0,1152.2 1188.6,1162.0 1189.2,1175.3 1189.8,1163.6 1190.4,1184.1 1191.0,1175.6 1191.5,1168.0 1192.1,1146.7 1192.7,1168.8 1193.3,1168.0 1193.9,1186.8 1194.5,1195.5 1195.0,1210.9 1195.6,1197.0 1196.2,1186.1 1196.8,1230.1 1197.4,1208.6 1198.0,1204.5 1198.5,1207.1 1199.1,1196.8 1199.7,1222.9 1200.3,1222.4 1200.9,1239.4 1201.5,1236.2 1202.1,1236.1 1202.6,1243.3 1203.2,1227.7 1203.8,1228.5 1204.4,1235.7 1205.0,1224.3 1205.6,1239.8 1206.1,1240.3 1206.7,1254.6 1207.3,1249.2 1207.9,1229.6 1208.5,1254.9 1209.1,1273.8 1209.6,1238.3 1210.2,1253.5 1210.8,1265.2 1211.4,1251.1 1212.0,1261.3 1212.6,1269.4 1213.1,1254.4 1213.7,1274.4 1214.3,1276.8 1214.9,1258.3 1215.5,1274.5 1216.1,1287.9 1216.7,1274.3 1217.2,1282.6 1217.8,1286.1 1218.4,1276.9 1219.0,1292.2 1219.6,1286.3 1220.2,1271.3 1220.7,1290.1 1221.3,1295.2 1221.9,1295.6 1222.5,1279.8 1223.1,1293.7 1223.7,1305.4 1224.2,1293.2 1224.8,1305.4 1225.4,1307.9 1226.0,1293.4 1226.6,1302.6 1227.2,1292.6 1227.7,1309.5 1228.3,1297.1 1228.9,1292.8 1229.5,1300.0 1230.1,1300.6 1230.7,1306.9 1231.3,1309.0 1231.8,1291.1 1232.4,1298.2 1233.0,1311.0 1233.6,1313.5 1234.2,1310.0 1234.8,1340.6 1235.3,1323.6 1235.9,1309.8 1236.5,1319.3 1237.1,1326.4 1237.7,1315.3 1238.3,1291.0 1238.8,1312.4 1239.4,1312.0 1240.0,1336.2 1240.6,1290.4 1241.2,1329.6 1241.8,1310.1 1242.3,1322.7 1242.9,1308.7 1243.5,1314.2 1244.1,1325.4 1244.7,1313.4 1245.3,1324.7 1245.9,1311.7 1246.4,1308.0 1247.0,1310.4 1247.6,1307.2 1248.2,1311.7 1248.8,1328.9 1249.4,1299.8 1249.9,1294.3 1250.5,1313.3 1251.1,1333.0 1251.7,1325.8 1252.3,1329.0 1252.9,1328.3 1253.4,1305.7 1254.0,1315.5 1254.6,1283.7 1255.2,1307.4 1255.8,1321.5 1256.4,1296.7 1256.9,1291.1 1257.5,1299.9 1258.1,1317.4 1258.7,1328.4 1259.3,1344.8 1259.9,1331.6 1260.5,1298.1 1261.0,1289.0 1261.6,1317.3 1262.2,1327.9 1262.8,1297.4 1263.4,1310.0 1264.0,1310.9 1264.5,1316.6 1265.1,1314.2 1265.7,1322.3 1266.3,1328.6 1266.9,1317.4 1267.5,1325.2 1268.0,1339.5 1268.6,1305.2 1269.2,1305.0 1269.8,1322.9 1270.4,1338.3 1271.0,1319.2 1271.5,1329.8 1272.1,1314.0 1272.7,1328.0 1273.3,1310.5 1273.9,1325.4 1274.5,1322.3 1275.1,1322.4 1275.6,1333.7 1276.2,1330.3 1276.8,1311.5 1277.4,1328.4 1278.0,1299.2 1278.6,1329.8 1279.1,1349.8 1279.7,1324.8 1280.3,1324.6 1280.9,1319.7 1281.5,1328.5 1282.1,1314.1 1282.6,1326.9 1283.2,1316.3 1283.8,1314.7 1284.4,1321.0 1285.0,1319.0 1285.6,1300.2 1286.1,1343.4 1286.7,1321.6 1287.3,1301.0 1287.9,1332.3 1288.5,1319.9 1289.1,1322.7 1289.7,1328.4 1290.2,1310.4 1290.8,1287.4 1291.4,1319.4 1292.0,1323.1 1292.6,1331.5 1293.2,1311.6 1293.7,1317.0 1294.3,1324.4 1294.9,1316.2 1295.5,1316.8 1296.1,1322.3 1296.7,1308.2 1297.2,1337.0 1297.8,1308.7 1298.4,1319.3 1299.0,1315.1 1299.6,1310.7 1300.2,1324.5 1300.7,1329.7 1301.3,1334.6 1301.9,1324.6 1302.5,1313.0 1303.1,1327.5 1303.7,1301.6 1304.3,1318.1 1304.8,1323.3 1305.4,1323.6 1306.0,1304.3 1306.6,1300.3 1307.2,1335.4 1307.8,1311.0 1308.3,1298.2 1308.9,1302.6 1309.5,1316.4 1310.1,1329.3 1310.7,1315.9 1311.3,1329.2 1311.8,1318.2 1312.4,1320.8 1313.0,1326.3 1313.6,1311.0 1314.2,1318.4 1314.8,1310.6 1315.3,1307.7 1315.9,1321.9 1316.5,1305.3 1317.1,1315.2 1317.7,1305.4 1318.3,1313.0 1318.9,1308.0 1319.4,1325.6 1320.0,1313.8 1320.6,1313.3 1321.2,1330.2 1321.8,1279.3 1322.4,1298.4 1322.9,1279.9 1323.5,1309.7 1324.1,1314.1 1324.7,1315.8 1325.3,1311.1 1325.9,1298.0 1326.4,1326.5 1327.0,1310.0 1327.6,1303.2 1328.2,1293.2 1328.8,1309.7 1329.4,1299.1 1329.9,1299.0 1330.5,1305.8 1331.1,1305.4 1331.7,1293.4 1332.3,1315.7 1332.9,1290.4 1333.5,1288.6 1334.0,1303.8 1334.6,1301.3 1335.2,1300.1 1335.8,1294.3 1336.4,1298.8 1337.0,1291.7 1337.5,1279.2 1338.1,1304.9 1338.7,1285.2 1339.3,1293.3 1339.9,1303.3 1340.5,1295.1 1341.0,1324.4 1341.6,1278.5 1342.2,1285.1 1342.8,1293.8 1343.4,1307.1 1344.0,1289.1 1344.5,1275.6 1345.1,1303.3 1345.7,1280.2 1346.3,1287.6 1346.9,1298.9 1347.5,1282.4 1348.1,1285.5 1348.6,1296.5 1349.2,1289.7 1349.8,1295.8 1350.4,1283.1 1351.0,1292.8 1351.6,1283.0 1352.1,1278.6 1352.7,1315.5 1353.3,1302.0 1353.9,1307.8 1354.5,1288.0 1355.1,1299.0 1355.6,1297.8 1356.2,1285.3 1356.8,1307.4 1357.4,1294.4 1358.0,1300.8 1358.6,1287.2 1359.1,1315.2 1359.7,1313.4 1360.3,1310.2 1360.9,1296.8 1361.5,1301.6 1362.1,1321.4 1362.7,1305.9 1363.2,1312.5 1363.8,1311.9 1364.4,1299.0 1365.0,1328.3 1365.6,1291.1 1366.2,1315.7 1366.7,1313.1 1367.3,1297.3 1367.9,1319.1 1368.5,1321.9 1369.1,1317.6 1369.7,1308.8 1370.2,1323.2 1370.8,1330.6 1371.4,1321.2 1372.0,1337.7 1372.6,1328.7 1373.2,1328.0 1373.7,1334.9 1374.3,1313.1 1374.9,1314.9 1375.5,1326.3 1376.1,1326.6 1376.7,1337.6 1377.3,1333.9 1377.8,1323.8 1378.4,1324.5 1379.0,1319.5 1379.6,1318.8 1380.2,1318.2 1380.8,1333.0 1381.3,1318.5 1381.9,1320.1 1382.5,1325.9 1383.1,1318.9 1383.7,1322.3 1384.3,1301.6 1384.8,1329.3 1385.4,1322.3 1386.0,1328.0 1386.6,1330.1 1387.2,1306.7 1387.8,1352.5 1388.3,1328.9 1388.9,1329.5 1389.5,1308.9 1390.1,1334.9 1390.7,1333.1 1391.3,1325.2 1391.9,1332.0 1392.4,1343.4 1393.0,1326.6 1393.6,1320.9 1394.2,1345.0 1394.8,1334.0 1395.4,1329.6 1395.9,1356.3 1396.5,1333.8 1397.1,1330.5 1397.7,1335.5 1398.3,1328.7 1398.9,1335.5 1399.4,1335.0 1400.0,1326.8 1400.6,1331.2 1401.2,1337.5 1401.8,1338.5 1402.4,1340.9 1402.9,1343.3 1403.5,1337.9 1404.1,1340.9 1404.7,1331.4 1405.3,1332.7 1405.9,1346.4 1406.5,1314.5 1407.0,1339.2 1407.6,1368.7 1408.2,1315.7 1408.8,1351.0 1409.4,1316.6 1410.0,1338.9 1410.5,1352.1 1411.1,1350.6 1411.7,1325.3 1412.3,1321.1 1412.9,1319.6 1413.5,1342.3 1414.0,1330.5 1414.6,1334.7 1415.2,1337.3 1415.8,1338.9 1416.4,1340.1 1417.0,1335.8 1417.5,1317.6 1418.1,1349.7 1418.7,1305.5 1419.3,1347.4 1419.9,1328.0 1420.5,1332.3 1421.1,1328.8 1421.6,1330.4 1422.2,1334.1 1422.8,1331.3 1423.4,1322.8 1424.0,1343.2 1424.6,1328.2 1425.1,1348.3 1425.7,1332.6 1426.3,1326.8 1426.9,1338.8 1427.5,1343.5 1428.1,1324.5 1428.6,1331.2 1429.2,1349.1 1429.8,1323.7 1430.4,1325.3 1431.0,1335.9 1431.6,1321.5 1432.1,1308.4 1432.7,1316.7 1433.3,1338.0 1433.9,1340.9 1434.5,1340.3 1435.1,1338.2 1435.7,1321.3 1436.2,1341.1 1436.8,1346.1 1437.4,1326.8 1438.0,1343.9 1438.6,1330.3 1439.2,1336.0 1439.7,1337.9 1440.3,1318.6 1440.9,1349.3 1441.5,1325.2 1442.1,1333.0 1442.7,1328.9 1443.2,1338.8 1443.8,1338.5 1444.4,1334.3 1445.0,1348.7 1445.6,1337.0 1446.2,1329.9 1446.7,1304.2 1447.3,1331.1 1447.9,1331.0 1448.5,1325.0 1449.1,1325.1 1449.7,1340.1 1450.3,1344.8 1450.8,1353.5 1451.4,1345.8 1452.0,1326.7 1452.6,1336.6 1453.2,1319.9 1453.8,1341.5 1454.3,1337.6 1454.9,1327.7 1455.5,1332.8 1456.1,1331.4 1456.7,1327.4 1457.3,1347.5 1457.8,1365.8 1458.4,1342.4 1459.0,1344.8 1459.6,1335.5 1460.2,1330.3 1460.8,1356.5 1461.3,1330.2 1461.9,1338.1 1462.5,1332.8 1463.1,1340.1 1463.7,1333.6 1464.3,1340.2 1464.9,1321.2 1465.4,1333.1 1466.0,1348.2 1466.6,1323.6 1467.2,1327.4 1467.8,1348.3 1468.4,1338.4 1468.9,1345.2 1469.5,1311.5 1470.1,1335.9 1470.7,1321.4 1471.3,1320.2 1471.9,1338.6 1472.4,1346.5 1473.0,1319.2 1473.6,1323.2 1474.2,1328.6 1474.8,1333.3 1475.4,1321.0 1475.9,1357.6 1476.5,1340.6 1477.1,1331.0 1477.7,1329.4 1478.3,1358.4 1478.9,1357.5 1479.5,1329.8 1480.0,1338.3 1480.6,1347.6 1481.2,1322.8 1481.8,1328.9 1482.4,1348.6 1483.0,1327.8 1483.5,1330.5 1484.1,1321.2 1484.7,1327.2 1485.3,1341.9 1485.9,1326.6 1486.5,1321.7 1487.0,1328.6 1487.6,1353.0 1488.2,1336.8 1488.8,1329.3 1489.4,1336.6 1490.0,1339.6 1490.5,1336.3 1491.1,1316.8 1491.7,1338.2 1492.3,1333.0 1492.9,1343.7 1493.5,1321.5 1494.1,1345.8 1494.6,1330.2 1495.2,1318.0 1495.8,1348.7 1496.4,1330.1 1497.0,1339.1 1497.6,1333.7 1498.1,1346.4 1498.7,1346.5 1499.3,1346.6 1499.9,1342.6 1500.5,1319.1 1501.1,1318.5 1501.6,1337.5 1502.2,1325.9 1502.8,1340.2 1503.4,1337.2 1504.0,1321.3 1504.6,1325.1 1505.1,1324.2 1505.7,1326.7 1506.3,1333.6 1506.9,1342.5 1507.5,1349.2 1508.1,1325.9 1508.7,1330.1 1509.2,1351.4 1509.8,1344.8 1510.4,1338.2 1511.0,1312.2 1511.6,1325.7 1512.2,1337.5 1512.7,1330.0 1513.3,1356.0 1513.9,1336.9 1514.5,1338.9 1515.1,1325.0 1515.7,1325.5 1516.2,1329.4 1516.8,1329.8 1517.4,1333.7 1518.0,1339.8 1518.6,1338.3 1519.2,1346.0 1519.7,1322.1 1520.3,1337.8 1520.9,1338.0 1521.5,1351.6 1522.1,1333.3 1522.7,1338.7 1523.3,1327.1 1523.8,1339.5 1524.4,1339.2 1525.0,1328.8 1525.6,1330.6 1526.2,1334.6 1526.8,1340.7 1527.3,1323.2 1527.9,1343.6 1528.5,1331.3 1529.1,1353.7 1529.7,1349.2 1530.3,1330.3 1530.8,1328.0 1531.4,1359.1 1532.0,1340.5 1532.6,1339.8 1533.2,1329.8 1533.8,1332.7 1534.3,1342.0 1534.9,1340.0 1535.5,1325.4 1536.1,1346.2 1536.7,1336.7 1537.3,1323.9 1537.9,1343.5 1538.4,1331.6 1539.0,1341.2 1539.6,1327.6 1540.2,1336.8 1540.8,1316.7 1541.4,1336.8 1541.9,1317.6 1542.5,1334.5 1543.1,1307.2 1543.7,1332.1 1544.3,1339.9 1544.9,1337.4 1545.4,1344.5 1546.0,1321.6 1546.6,1348.1 1547.2,1348.4 1547.8,1320.1 1548.4,1324.1 1548.9,1326.3 1549.5,1331.7 1550.1,1333.7 1550.7,1307.0 1551.3,1337.7 1551.9,1329.1 1552.5,1321.3 1553.0,1341.0 1553.6,1327.9 1554.2,1342.8 1554.8,1336.6 1555.4,1328.0 1556.0,1342.9 1556.5,1339.1 1557.1,1325.9 1557.7,1314.7 1558.3,1325.3 1558.9,1336.9 1559.5,1328.2 1560.0,1348.3 1560.6,1333.1 1561.2,1332.4 1561.8,1334.4 1562.4,1321.4 1563.0,1329.0 1563.5,1323.5 1564.1,1306.5 1564.7,1312.1 1565.3,1337.3 1565.9,1325.3 1566.5,1328.5 1567.1,1314.8 1567.6,1323.7 1568.2,1337.4 1568.8,1330.4 1569.4,1324.1 1570.0,1344.6 1570.6,1328.6 1571.1,1325.6 1571.7,1340.5 1572.3,1311.6 1572.9,1334.4 1573.5,1317.6 1574.1,1320.7 1574.6,1321.6 1575.2,1329.6 1575.8,1329.3 1576.4,1331.1 1577.0,1330.0 1577.6,1341.8 1578.1,1344.5 1578.7,1334.6 1579.3,1334.9 1579.9,1323.4 1580.5,1316.0 1581.1,1332.8 1581.7,1327.1 1582.2,1335.2 1582.8,1308.2 1583.4,1353.1 1584.0,1313.4 1584.6,1326.4 1585.2,1335.8 1585.7,1311.9 1586.3,1320.0 1586.9,1305.2 1587.5,1311.0 1588.1,1305.8 1588.7,1326.1 1589.2,1327.8 1589.8,1321.6 1590.4,1337.2 1591.0,1338.3 1591.6,1324.2 1592.2,1321.9 1592.7,1321.3 1593.3,1319.3 1593.9,1336.8 1594.5,1326.0 1595.1,1320.1 1595.7,1321.0 1596.3,1328.6 1596.8,1319.0 1597.4,1326.0 1598.0,1322.4 1598.6,1336.1 1599.2,1334.0 1599.8,1308.1 1600.3,1320.5 1600.9,1329.1 1601.5,1317.4 1602.1,1329.8 1602.7,1324.9 1603.3,1327.4 1603.8,1320.7 1604.4,1324.2 1605.0,1326.2 1605.6,1306.2 1606.2,1311.6 1606.8,1310.4 1607.3,1337.2 1607.9,1323.3 1608.5,1323.9 1609.1,1321.7 1609.7,1314.7 1610.3,1312.3 1610.9,1328.0 1611.4,1315.7 1612.0,1335.1 1612.6,1321.1 1613.2,1319.9 1613.8,1316.7 1614.4,1318.0 1614.9,1318.9 1615.5,1333.9 1616.1,1342.2 1616.7,1307.6 1617.3,1321.8 1617.9,1326.5 1618.4,1310.6 1619.0,1313.5 1619.6,1315.4 1620.2,1296.2 1620.8,1326.8 1621.4,1320.1 1621.9,1319.8 1622.5,1321.7 1623.1,1323.6 1623.7,1344.3 1624.3,1323.3 1624.9,1330.0 1625.5,1316.7 1626.0,1325.5 1626.6,1319.1 1627.2,1320.9 1627.8,1313.6 1628.4,1314.6 1629.0,1327.5 1629.5,1330.5 1630.1,1327.9 1630.7,1316.8 1631.3,1326.8 1631.9,1298.7 1632.5,1333.4 1633.0,1323.9 1633.6,1327.1 1634.2,1336.2 1634.8,1320.6 1635.4,1334.5 1636.0,1320.8 1636.5,1330.8 1637.1,1321.5 1637.7,1328.8 1638.3,1340.3 1638.9,1319.6 1639.5,1320.2 1640.1,1323.2 1640.6,1329.7 1641.2,1354.2 1641.8,1321.3 1642.4,1307.0 1643.0,1320.9 1643.6,1311.9 1644.1,1322.2 1644.7,1328.2 1645.3,1318.7 1645.9,1321.6 1646.5,1310.0 1647.1,1330.5 1647.6,1321.5 1648.2,1339.9 1648.8,1339.7 1649.4,1320.9 1650.0,1326.0 1650.6,1330.4 1651.1,1337.6 1651.7,1313.6 1652.3,1329.7 1652.9,1349.1 1653.5,1329.9 1654.1,1333.2 1654.7,1331.2 1655.2,1319.5 1655.8,1341.0 1656.4,1334.4 1657.0,1333.5 1657.6,1339.3 1658.2,1340.1 1658.7,1313.7 1659.3,1337.4 1659.9,1327.1 1660.5,1334.6 1661.1,1326.1 1661.7,1324.8 1662.2,1343.0 1662.8,1333.7 1663.4,1331.2 1664.0,1331.3 1664.6,1335.2 1665.2,1334.4 1665.7,1311.3 1666.3,1326.3 1666.9,1332.8 1667.5,1342.7 1668.1,1349.0 1668.7,1326.5 1669.3,1355.0 1669.8,1336.8 1670.4,1340.7 1671.0,1330.6 1671.6,1330.0 1672.2,1350.2 1672.8,1333.8 1673.3,1335.0 1673.9,1347.5 1674.5,1353.1 1675.1,1321.2 1675.7,1334.2 1676.3,1336.0 1676.8,1354.1 1677.4,1360.6 1678.0,1335.7 1678.6,1339.9 1679.2,1344.8 1679.8,1347.7 1680.3,1333.1 1680.9,1344.8 1681.5,1329.4 1682.1,1309.9 1682.7,1322.7 1683.3,1338.5 1683.9,1344.2 1684.4,1314.1 1685.0,1318.6 1685.6,1336.2 1686.2,1303.1 1686.8,1342.1 1687.4,1346.8 1687.9,1307.1 1688.5,1344.2 1689.1,1334.8 1689.7,1350.7 1690.3,1339.5 1690.9,1334.4 1691.4,1338.0 1692.0,1346.1 1692.6,1338.7 1693.2,1337.2 1693.8,1322.6 1694.4,1341.7 1694.9,1337.2 1695.5,1355.1 1696.1,1336.8 1696.7,1336.1 1697.3,1330.8 1697.9,1344.2 1698.5,1335.0 1699.0,1330.1 1699.6,1352.9 1700.2,1354.7 1700.8,1332.6 1701.4,1327.0 1702.0,1348.3 1702.5,1328.9 1703.1,1365.1 1703.7,1335.8 1704.3,1346.7 1704.9,1324.4 1705.5,1336.9 1706.0,1348.0 1706.6,1341.6 1707.2,1331.9 1707.8,1361.5 1708.4,1344.6 1709.0,1335.0 1709.5,1331.3 1710.1,1334.6 1710.7,1350.7 1711.3,1329.7 1711.9,1337.7 1712.5,1329.2 1713.1,1349.8 1713.6,1335.8 1714.2,1345.9 1714.8,1343.0 1715.4,1331.7 1716.0,1344.3 1716.6,1346.4 1717.1,1325.4 1717.7,1343.4 1718.3,1371.3 1718.9,1332.8 1719.5,1341.8 1720.1,1321.9 1720.6,1339.3 1721.2,1328.6 1721.8,1341.7 1722.4,1333.3 1723.0,1321.8 1723.6,1344.0 1724.1,1330.6 1724.7,1322.4 1725.3,1332.8 1725.9,1322.2 1726.5,1335.4 1727.1,1330.5 1727.7,1327.1 1728.2,1337.1 1728.8,1317.5 1729.4,1339.4 1730.0,1309.6 1730.6,1345.1 1731.2,1330.6 1731.7,1325.8 1732.3,1320.8 1732.9,1333.2 1733.5,1325.9 1734.1,1325.4 1734.7,1337.0 1735.2,1322.2 1735.8,1323.8 1736.4,1330.1 1737.0,1336.1 1737.6,1323.6 1738.2,1326.4 1738.7,1324.9 1739.3,1331.5 1739.9,1338.6 1740.5,1314.0 1741.1,1321.4 1741.7,1321.6 1742.3,1327.4 1742.8,1335.9 1743.4,1320.2 1744.0,1321.9 1744.6,1330.5 1745.2,1306.3 1745.8,1310.4 1746.3,1313.0 1746.9,1316.8 1747.5,1318.6 1748.1,1310.6 1748.7,1332.6 1749.3,1307.6 1749.8,1312.0 1750.4,1324.2 1751.0,1320.5 1751.6,1312.1 1752.2,1315.4 1752.8,1319.3 1753.3,1310.4 1753.9,1316.4 1754.5,1300.3 1755.1,1309.5 1755.7,1291.9 1756.3,1298.7 1756.9,1295.7 1757.4,1318.9 1758.0,1301.2 1758.6,1308.2 1759.2,1295.5 1759.8,1302.1 1760.4,1300.3 1760.9,1293.3 1761.5,1309.1 1762.1,1282.8 1762.7,1304.3 1763.3,1323.3 1763.9,1287.4 1764.4,1294.6 1765.0,1277.5 1765.6,1291.4 1766.2,1273.1 1766.8,1295.4 1767.4,1283.0 1767.9,1268.2 1768.5,1272.4 1769.1,1268.2 1769.7,1279.9 1770.3,1290.0 1770.9,1276.2 1771.5,1267.2 1772.0,1269.2 1772.6,1276.9 1773.2,1249.6 1773.8,1277.9 1774.4,1274.2 1775.0,1243.8 1775.5,1278.3 1776.1,1248.3 1776.7,1260.7 1777.3,1272.7 1777.9,1242.8 1778.5,1238.8 1779.0,1244.3 1779.6,1242.8 1780.2,1250.4 1780.8,1244.7 1781.4,1243.2 1782.0,1241.5 1782.5,1242.0 1783.1,1232.7 1783.7,1241.9 1784.3,1236.0 1784.9,1223.3 1785.5,1249.1 1786.1,1215.6 1786.6,1233.1 1787.2,1215.8 1787.8,1224.3 1788.4,1223.3 1789.0,1224.2 1789.6,1227.6 1790.1,1202.9 1790.7,1237.7 1791.3,1211.1 1791.9,1196.8 1792.5,1189.2 1793.1,1224.1 1793.6,1215.0 1794.2,1196.3 1794.8,1202.0 1795.4,1207.4 1796.0,1196.0 1796.6,1191.7 1797.1,1196.4 1797.7,1205.9 1798.3,1198.6 1798.9,1186.9 1799.5,1207.6 1800.1,1183.8 1800.7,1196.0 1801.2,1218.3 1801.8,1210.8 1802.4,1213.2 1803.0,1214.3 1803.6,1226.0 1804.2,1217.6 1804.7,1201.1 1805.3,1225.5 1805.9,1194.8 1806.5,1207.5 1807.1,1246.4 1807.7,1243.6 1808.2,1231.1 1808.8,1237.6 1809.4,1241.8 1810.0,1253.5 1810.6,1238.3 1811.2,1239.8 1811.7,1244.9 1812.3,1255.2 1812.9,1259.0 1813.5,1255.0 1814.1,1269.1 1814.7,1253.9 1815.3,1265.9 1815.8,1262.4 1816.4,1261.8 1817.0,1286.7 1817.6,1273.8 1818.2,1269.6 1818.8,1282.6 1819.3,1274.8 1819.9,1293.3 1820.5,1297.6 1821.1,1301.0 1821.7,1281.9 1822.3,1292.7 1822.8,1314.2 1823.4,1295.3 1824.0,1311.8 1824.6,1316.0 1825.2,1288.7 1825.8,1316.2 1826.3,1313.3 1826.9,1316.2 1827.5,1326.0 1828.1,1315.4 1828.7,1313.2 1829.3,1320.2 1829.9,1312.3 1830.4,1321.9 1831.0,1297.9 1831.6,1336.3 1832.2,1314.7 1832.8,1326.4 1833.4,1325.2 1833.9,1324.1 1834.5,1325.2 1835.1,1325.8 1835.7,1309.8 1836.3,1321.7 1836.9,1340.1 1837.4,1319.0 1838.0,1319.7 1838.6,1352.3 1839.2,1344.3 1839.8,1348.8 1840.4,1334.2 1840.9,1338.0 1841.5,1343.9 1842.1,1342.9 1842.7,1337.5 1843.3,1324.8 1843.9,1333.1 1844.5,1326.4 1845.0,1358.0 1845.6,1338.8 1846.2,1341.5 1846.8,1346.5 1847.4,1344.3 1848.0,1349.9 1848.5,1338.9 1849.1,1330.4 1849.7,1363.4 1850.3,1339.4 1850.9,1342.2 1851.5,1339.5 1852.0,1342.4 1852.6,1348.5 1853.2,1356.2 1853.8,1338.8 1854.4,1352.6 1855.0,1343.5 1855.5,1362.6 1856.1,1338.9 1856.7,1352.6 1857.3,1359.1 1857.9,1339.0 1858.5,1354.1 1859.1,1354.9 1859.6,1346.0 1860.2,1352.1 1860.8,1364.2 1861.4,1356.9 1862.0,1350.5 1862.6,1352.7 1863.1,1359.3 1863.7,1367.5 1864.3,1363.0 1864.9,1362.5 1865.5,1370.8 1866.1,1340.3 1866.6,1341.5 1867.2,1333.4 1867.8,1364.1 1868.4,1333.5 1869.0,1355.7 1869.6,1363.7 1870.1,1342.7 1870.7,1350.1 1871.3,1354.1 1871.9,1364.0 1872.5,1342.0 1873.1,1360.2 1873.7,1364.0 1874.2,1358.7 1874.8,1359.0 1875.4,1369.8 1876.0,1359.9 1876.6,1357.6 1877.2,1354.7 1877.7,1364.5 1878.3,1355.4 1878.9,1364.8 1879.5,1359.5 1880.1,1369.7 1880.7,1351.1 1881.2,1359.7 1881.8,1362.5 1882.4,1363.3 1883.0,1370.4 1883.6,1363.3 1884.2,1368.5 1884.7,1378.9 1885.3,1368.1 1885.9,1349.7 1886.5,1346.2 1887.1,1366.8 1887.7,1356.8 1888.3,1363.4 1888.8,1359.0 1889.4,1373.6 1890.0,1372.7 1890.6,1350.1 1891.2,1363.9 1891.8,1358.5 1892.3,1348.8 1892.9,1368.0 1893.5,1360.4 1894.1,1366.3 1894.7,1386.2 1895.3,1375.1 1895.8,1373.1 1896.4,1358.5 1897.0,1351.1 1897.6,1374.9 1898.2,1360.0 1898.8,1363.5 1899.3,1359.5 1899.9,1364.3 1900.5,1386.9 1901.1,1360.5 1901.7,1361.0 1902.3,1365.8 1902.9,1366.8 1903.4,1352.5 1904.0,1347.0 1904.6,1358.7 1905.2,1362.4 1905.8,1357.0 1906.4,1355.0 1906.9,1355.7 1907.5,1361.1 1908.1,1363.9 1908.7,1349.4 1909.3,1360.0 1909.9,1368.9 1910.4,1364.4 1911.0,1352.5 1911.6,1362.4 1912.2,1365.8 1912.8,1373.5 1913.4,1350.5 1913.9,1373.0 1914.5,1361.9 1915.1,1368.5 1915.7,1373.2 1916.3,1358.2 1916.9,1358.9 1917.5,1365.6 1918.0,1373.8 1918.6,1361.6 1919.2,1353.2 1919.8,1360.3 1920.4,1370.8 1921.0,1378.3 1921.5,1362.3 1922.1,1364.1 1922.7,1365.6 1923.3,1366.1 1923.9,1358.3 1924.5,1363.2 1925.0,1369.6 1925.6,1368.6 1926.2,1367.9 1926.8,1358.0 1927.4,1362.5 1928.0,1361.0 1928.5,1378.1 1929.1,1382.0 1929.7,1371.4 1930.3,1383.5 1930.9,1365.4 1931.5,1365.5 1932.1,1355.9 1932.6,1370.7 1933.2,1364.2 1933.8,1369.5 1934.4,1373.4 1935.0,1366.4 1935.6,1358.0 1936.1,1368.5 1936.7,1368.3 1937.3,1369.3 1937.9,1375.6 1938.5,1367.2 1939.1,1366.7 1939.6,1386.0 1940.2,1379.8 1940.8,1368.7 1941.4,1360.7 1942.0,1365.4 1942.6,1373.4 1943.1,1378.0 1943.7,1393.0 1944.3,1367.7 1944.9,1371.6 1945.5,1366.8 1946.1,1371.1 1946.7,1366.7 1947.2,1360.2 1947.8,1380.4 1948.4,1371.9 1949.0,1383.0 1949.6,1366.0 1950.2,1373.4 1950.7,1377.3 1951.3,1353.1 1951.9,1358.5 1952.5,1378.4 1953.1,1372.3 1953.7,1353.8 1954.2,1364.4 1954.8,1361.5 1955.4,1367.0 1956.0,1386.5 1956.6,1366.3 1957.2,1391.3 1957.7,1369.6 1958.3,1365.1 1958.9,1387.1 1959.5,1381.3 1960.1,1385.5 1960.7,1391.0 1961.3,1382.6 1961.8,1384.2 1962.4,1356.3 1963.0,1364.9 1963.6,1377.1 1964.2,1374.9 1964.8,1379.9 1965.3,1368.6 1965.9,1383.8 1966.5,1392.6 1967.1,1379.0 1967.7,1381.5 1968.3,1378.4 1968.8,1382.5 1969.4,1375.8 1970.0,1369.0 1970.6,1375.7 1971.2,1374.9 1971.8,1359.3 1972.3,1376.1 1972.9,1374.1 1973.5,1375.9 1974.1,1368.7 1974.7,1378.5 1975.3,1379.9 1975.9,1367.2 1976.4,1377.0 1977.0,1381.4 1977.6,1381.0 1978.2,1365.1 1978.8,1364.1 1979.4,1374.1 1979.9,1363.9 1980.5,1397.7 1981.1,1366.1 1981.7,1366.2 1982.3,1379.9 1982.9,1369.2 1983.4,1351.3 1984.0,1372.2 1984.6,1364.2 1985.2,1368.6 1985.8,1358.1 1986.4,1364.9 1986.9,1371.9 1987.5,1372.7 1988.1,1362.8 1988.7,1366.5 1989.3,1365.2 1989.9,1374.6 1990.5,1371.8 1991.0,1361.3 1991.6,1379.3 1992.2,1366.5 1992.8,1376.9 1993.4,1364.4 1994.0,1376.0 1994.5,1372.0 1995.1,1373.7 1995.7,1377.9 1996.3,1377.3 1996.9,1374.7 1997.5,1374.7 1998.0,1361.0 1998.6,1372.5 1999.2,1352.3 1999.8,1351.8 2000.4,1370.2 2001.0,1371.0 2001.5,1387.4 2002.1,1379.5 2002.7,1383.7 2003.3,1370.3 2003.9,1377.4 2004.5,1384.3 2005.1,1378.3 2005.6,1376.7 2006.2,1374.3 2006.8,1364.6 2007.4,1364.9 2008.0,1359.8 2008.6,1377.3 2009.1,1370.9 2009.7,1367.1 2010.3,1376.9 2010.9,1368.1 2011.5,1383.5 2012.1,1391.7 2012.6,1377.9 2013.2,1367.0 2013.8,1359.4 2014.4,1392.7 2015.0,1377.9 2015.6,1362.5 2016.1,1383.9 2016.7,1357.8 2017.3,1369.5 2017.9,1371.4 2018.5,1370.3 2019.1,1362.9 2019.7,1396.5 2020.2,1369.9 2020.8,1377.4 2021.4,1374.1 2022.0,1358.5 2022.6,1368.5 2023.2,1375.8 2023.7,1382.6 2024.3,1370.5 2024.9,1377.3 2025.5,1370.6 2026.1,1379.4 2026.7,1350.3 2027.2,1379.5 2027.8,1367.7 2028.4,1368.0 2029.0,1346.3 2029.6,1363.2 2030.2,1379.0 2030.7,1395.1 2031.3,1366.2 2031.9,1366.5 2032.5,1377.4 2033.1,1375.3 2033.7,1366.9 2034.3,1370.7 2034.8,1368.6 2035.4,1378.0 2036.0,1379.5 2036.6,1388.6 2037.2,1380.5 2037.8,1378.0 2038.3,1373.0 2038.9,1380.3 2039.5,1361.9 2040.1,1391.7 2040.7,1373.7 2041.3,1384.4 2041.8,1363.2 2042.4,1380.5 2043.0,1374.4 2043.6,1368.6 2044.2,1363.9 2044.8,1361.8 2045.3,1387.2 2045.9,1381.6 2046.5,1370.9 2047.1,1371.6 2047.7,1362.6 2048.3,1351.9 2048.9,1352.2 2049.4,1363.4 2050.0,1367.6 2050.6,1357.7 2051.2,1376.4 2051.8,1373.6 2052.4,1370.1 2052.9,1351.6 2053.5,1366.3 2054.1,1367.9 2054.7,1356.0 2055.3,1347.0 2055.9,1386.1 2056.4,1373.6 2057.0,1363.9 2057.6,1382.7 2058.2,1377.9 2058.8,1371.5 2059.4,1369.2 2059.9,1374.4 2060.5,1380.8 2061.1,1367.4 2061.7,1364.4 2062.3,1372.0 2062.9,1339.3 2063.5,1367.0 2064.0,1362.2 2064.6,1365.8 2065.2,1364.0 2065.8,1368.9 2066.4,1366.6 2067.0,1366.1 2067.5,1364.0 2068.1,1369.5 2068.7,1360.2 2069.3,1374.5 2069.9,1349.1 2070.5,1367.3 2071.0,1369.8 2071.6,1353.5 2072.2,1361.7 2072.8,1378.6 2073.4,1364.8 2074.0,1357.8 2074.5,1337.8 2075.1,1369.8 2075.7,1367.7 2076.3,1372.7 2076.9,1386.6 2077.5,1367.1 2078.1,1368.5 2078.6,1360.8 2079.2,1367.0 2079.8,1367.4 2080.4,1375.1 2081.0,1373.3 2081.6,1360.8 2082.1,1363.7 2082.7,1381.6 2083.3,1359.4 2083.9,1375.9 2084.5,1384.4 2085.1,1375.3 2085.6,1371.6 2086.2,1382.4 2086.8,1372.8 2087.4,1369.5 2088.0,1367.8 2088.6,1380.9 2089.1,1376.7 2089.7,1385.0 2090.3,1367.1 2090.9,1367.5 2091.5,1366.5 2092.1,1373.4 2092.7,1364.3 2093.2,1379.9 2093.8,1374.4 2094.4,1362.0 2095.0,1343.1 2095.6,1354.2 2096.2,1385.5 2096.7,1371.3 2097.3,1373.5 2097.9,1368.2 2098.5,1376.1 2099.1,1354.1 2099.7,1353.5 2100.2,1357.2 2100.8,1373.6 2101.4,1379.8 2102.0,1377.8 2102.6,1372.2 2103.2,1361.3 2103.7,1381.3 2104.3,1371.1 2104.9,1373.8 2105.5,1373.4 2106.1,1369.8 2106.7,1367.5 2107.3,1368.9 2107.8,1362.3 2108.4,1377.2 2109.0,1373.3 2109.6,1384.8 2110.2,1357.9 2110.8,1386.6 2111.3,1374.9 2111.9,1374.1 2112.5,1368.1 2113.1,1368.2 2113.7,1361.9 2114.3,1384.9 2114.8,1374.4 2115.4,1383.4 2116.0,1384.6 2116.6,1372.1 2117.2,1374.7 2117.8,1373.9 2118.3,1387.1 2118.9,1378.7 2119.5,1379.2 2120.1,1384.6 2120.7,1377.2 2121.3,1397.5 2121.9,1369.3 2122.4,1390.3 2123.0,1391.9 2123.6,1367.7 2124.2,1387.0 2124.8,1381.6 2125.4,1387.3 2125.9,1367.6 2126.5,1381.4 2127.1,1369.8 2127.7,1376.0 2128.3,1392.7 2128.9,1377.9 2129.4,1357.8 2130.0,1365.9 2130.6,1368.4 2131.2,1389.0 2131.8,1372.7 2132.4,1364.6 2132.9,1390.1 2133.5,1381.9 2134.1,1382.8 2134.7,1371.9 2135.3,1393.2 2135.9,1378.4 2136.5,1360.8 2137.0,1368.8 2137.6,1371.7 2138.2,1378.2 2138.8,1387.1 2139.4,1372.9 2140.0,1374.1 2140.5,1400.9 2141.1,1380.7 2141.7,1374.9 2142.3,1380.3 2142.9,1368.1 2143.5,1385.1 2144.0,1389.3 2144.6,1374.5 2145.2,1389.7 2145.8,1377.4 2146.4,1382.9 2147.0,1373.2 2147.5,1372.6 2148.1,1366.0 2148.7,1382.4 2149.3,1377.6 2149.9,1378.0 2150.5,1369.7 2151.1,1369.3 2151.6,1374.5 2152.2,1385.0 2152.8,1383.4 2153.4,1374.1 2154.0,1383.4 2154.6,1397.4 2155.1,1381.7 2155.7,1399.9 2156.3,1384.9 2156.9,1393.4 2157.5,1375.8 2158.1,1392.0 2158.6,1369.6 2159.2,1383.2 2159.8,1377.7 2160.4,1362.0 2161.0,1368.0 2161.6,1391.8 2162.1,1385.7 2162.7,1393.4 2163.3,1383.0 2163.9,1353.5 2164.5,1383.6 2165.1,1375.8 2165.7,1376.5 2166.2,1377.0 2166.8,1374.0 2167.4,1372.2 2168.0,1393.2 2168.6,1385.6 2169.2,1375.2 2169.7,1377.4 2170.3,1390.7 2170.9,1385.1 2171.5,1383.4 2172.1,1369.9 2172.7,1377.5 2173.2,1370.8 2173.8,1363.4 2174.4,1390.2 2175.0,1378.6 2175.6,1377.8 2176.2,1372.7 2176.7,1389.0 2177.3,1401.7 2177.9,1387.4 2178.5,1390.7"/>
<polyline fill="none" stroke="#000000" stroke-width="3.6" stroke-linejoin="miter" stroke-miterlimit="2" shape-rendering="crispEdges" points="134.5,1437.9 135.1,1453.7 135.7,1449.1 136.3,1448.7 136.8,1461.8 137.4,1419.1 138.0,1427.5 138.6,1416.8 139.2,1434.7 139.8,1450.9 140.3,1435.3 140.9,1442.7 141.5,1406.3 142.1,1436.9 142.7,1420.8 143.3,1460.7 143.8,1447.0 144.4,1447.6 145.0,1432.2 145.6,1442.0 146.2,1442.3 146.8,1427.0 147.3,1424.4 147.9,1429.8 148.5,1422.1 149.1,1422.0 149.7,1426.3 150.3,1419.3 150.9,1441.4 151.4,1405.7 152.0,1441.6 152.6,1419.6 153.2,1420.4 153.8,1408.1 154.4,1425.8 154.9,1424.0 155.5,1430.2 156.1,1419.0 156.7,1428.1 157.3,1453.6 157.9,1432.2 158.4,1417.2 159.0,1439.7 159.6,1423.2 160.2,1433.6 160.8,1433.6 161.4,1418.2 161.9,1394.9 162.5,1418.2 163.1,1431.3 163.7,1417.1 164.3,1429.0 164.9,1436.7 165.5,1413.6 166.0,1439.8 166.6,1445.3 167.2,1436.9 167.8,1437.8 168.4,1436.5 169.0,1453.4 169.5,1422.2 170.1,1419.1 170.7,1427.8 171.3,1404.8 171.9,1394.9 172.5,1404.6 173.0,1423.0 173.6,1424.1 174.2,1393.8 174.8,1388.3 175.4,1411.3 176.0,1412.9 176.5,1414.7 177.1,1425.1 177.7,1433.1 178.3,1417.8 178.9,1423.2 179.5,1397.4 180.1,1395.8 180.6,1416.6 181.2,1422.7 181.8,1423.2 182.4,1420.9 183.0,1423.4 183.6,1423.5 184.1,1384.9 184.7,1399.8 185.3,1417.2 185.9,1419.0 186.5,1387.2 187.1,1427.1 187.6,1402.8 188.2,1405.7 188.8,1413.0 189.4,1419.9 190.0,1387.1 190.6,1423.0 191.1,1409.2 191.7,1396.3 192.3,1403.5 192.9,1374.8 193.5,1397.5 194.1,1409.7 194.7,1396.1 195.2,1401.6 195.8,1404.1 196.4,1406.8 197.0,1421.1 197.6,1405.2 198.2,1401.5 198.7,1413.2 199.3,1435.9 199.9,1399.6 200.5,1412.1 201.1,1380.8 201.7,1424.1 202.2,1413.7 202.8,1423.5 203.4,1402.5 204.0,1387.6 204.6,1416.2 205.2,1414.0 205.7,1389.6 206.3,1380.3 206.9,1408.8 207.5,1399.3 208.1,1440.5 208.7,1392.3 209.3,1393.3 209.8,1399.3 210.4,1375.9 211.0,1387.3 211.6,1424.8 212.2,1398.1 212.8,1390.8 213.3,1380.7 213.9,1408.0 214.5,1409.0 215.1,1402.8 215.7,1393.2 216.3,1403.5 216.8,1404.5 217.4,1388.7 218.0,1408.0 218.6,1367.3 219.2,1379.5 219.8,1394.1 220.3,1397.0 220.9,1381.3 221.5,1403.4 222.1,1414.2 222.7,1405.2 223.3,1401.7 223.9,1410.7 224.4,1404.3 225.0,1381.3 225.6,1395.2 226.2,1417.4 226.8,1381.2 227.4,1399.0 227.9,1392.3 228.5,1384.7 229.1,1383.0 229.7,1399.5 230.3,1402.6 230.9,1402.5 231.4,1376.3 232.0,1393.5 232.6,1402.9 233.2,1411.8 233.8,1407.7 234.4,1410.0 234.9,1413.9 235.5,1409.8 236.1,1385.4 236.7,1398.3 237.3,1386.8 237.9,1362.0 238.5,1372.4 239.0,1428.3 239.6,1380.7 240.2,1363.9 240.8,1388.5 241.4,1419.7 242.0,1396.4 242.5,1403.1 243.1,1393.0 243.7,1396.0 244.3,1416.2 244.9,1409.4 245.5,1396.4 246.0,1411.1 246.6,1414.0 247.2,1395.0 247.8,1402.4 248.4,1402.3 249.0,1388.8 249.5,1415.9 250.1,1396.6 250.7,1390.0 251.3,1374.5 251.9,1380.8 252.5,1422.3 253.1,1383.0 253.6,1406.4 254.2,1394.8 254.8,1408.0 255.4,1409.5 256.0,1389.2 256.6,1396.5 257.1,1402.5 257.7,1402.9 258.3,1401.0 258.9,1396.9 259.5,1411.0 260.1,1421.4 260.6,1410.1 261.2,1391.2 261.8,1408.2 262.4,1403.4 263.0,1409.5 263.6,1430.2 264.1,1399.9 264.7,1403.0 265.3,1390.2 265.9,1399.3 266.5,1395.3 267.1,1427.6 267.7,1408.5 268.2,1395.7 268.8,1432.9 269.4,1384.9 270.0,1417.5 270.6,1419.9 271.2,1413.5 271.7,1401.3 272.3,1403.3 272.9,1400.3 273.5,1417.1 274.1,1371.1 274.7,1398.1 275.2,1408.0 275.8,1397.3 276.4,1379.1 277.0,1402.5 277.6,1395.0 278.2,1418.1 278.7,1427.1 279.3,1407.5 279.9,1378.0 280.5,1403.8 281.1,1393.1 281.7,1417.0 282.3,1432.0 282.8,1411.8 283.4,1437.3 284.0,1429.7 284.6,1417.7 285.2,1394.8 285.8,1410.7 286.3,1387.9 286.9,1424.9 287.5,1411.5 288.1,1430.2 288.7,1414.4 289.3,1381.6 289.8,1420.0 290.4,1424.3 291.0,1435.3 291.6,1396.5 292.2,1397.3 292.8,1412.0 293.3,1395.6 293.9,1390.9 294.5,1395.1 295.1,1449.6 295.7,1402.0 296.3,1396.4 296.9,1404.7 297.4,1411.4 298.0,1430.5 298.6,1425.4 299.2,1423.2 299.8,1412.4 300.4,1414.2 300.9,1402.7 301.5,1390.0 302.1,1442.5 302.7,1405.9 303.3,1427.7 303.9,1408.3 304.4,1411.8 305.0,1411.0 305.6,1393.1 306.2,1412.4 306.8,1419.4 307.4,1426.1 307.9,1421.4 308.5,1429.3 309.1,1418.8 309.7,1414.5 310.3,1385.7 310.9,1407.0 311.5,1438.0 312.0,1417.0 312.6,1427.1 313.2,1412.4 313.8,1405.8 314.4,1446.1 315.0,1421.4 315.5,1438.3 316.1,1424.3 316.7,1412.3 317.3,1383.7 317.9,1418.3 318.5,1394.0 319.0,1384.6 319.6,1435.8 320.2,1428.3 320.8,1427.3 321.4,1418.7 322.0,1417.6 322.5,1424.6 323.1,1420.8 323.7,1419.7 324.3,1429.8 324.9,1382.8 325.5,1432.3 326.1,1410.0 326.6,1432.1 327.2,1436.9 327.8,1407.4 328.4,1431.6 329.0,1431.5 329.6,1409.6 330.1,1412.2 330.7,1421.8 331.3,1387.4 331.9,1413.7 332.5,1423.2 333.1,1414.0 333.6,1397.2 334.2,1415.1 334.8,1443.3 335.4,1440.7 336.0,1419.6 336.6,1409.7 337.1,1421.4 337.7,1422.1 338.3,1412.0 338.9,1417.2 339.5,1431.5 340.1,1436.3 340.7,1386.8 341.2,1437.3 341.8,1425.1 342.4,1440.2 343.0,1423.1 343.6,1430.1 344.2,1447.9 344.7,1380.3 345.3,1447.5 345.9,1427.1 346.5,1397.7 347.1,1385.4 347.7,1429.4 348.2,1409.9 348.8,1439.9 349.4,1428.5 350.0,1423.5 350.6,1440.3 351.2,1428.7 351.7,1436.9 352.3,1438.4 352.9,1431.1 353.5,1438.2 354.1,1438.3 354.7,1406.8 355.3,1423.1 355.8,1425.5 356.4,1421.8 357.0,1404.1 357.6,1419.1 358.2,1432.5 358.8,1430.4 359.3,1450.0 359.9,1418.8 360.5,1421.4 361.1,1419.4 361.7,1423.2 362.3,1419.1 362.8,1400.5 363.4,1433.1 364.0,1442.6 364.6,1444.6 365.2,1412.3 365.8,1425.4 366.3,1455.5 366.9,1426.8 367.5,1433.6 368.1,1426.3 368.7,1443.3 369.3,1442.8 369.9,1462.8 370.4,1436.1 371.0,1435.4 371.6,1411.1 372.2,1422.9 372.8,1418.7 373.4,1424.2 373.9,1409.9 374.5,1447.0 375.1,1413.8 375.7,1433.3 376.3,1410.9 376.9,1434.5 377.4,1453.7 378.0,1417.5 378.6,1434.9 379.2,1428.6 379.8,1433.8 380.4,1435.9 380.9,1420.5 381.5,1427.2 382.1,1421.3 382.7,1417.9 383.3,1412.0 383.9,1444.2 384.5,1419.3 385.0,1440.0 385.6,1438.4 386.2,1415.7 386.8,1445.7 387.4,1417.8 388.0,1439.7 388.5,1451.9 389.1,1420.1 389.7,1417.1 390.3,1416.9 390.9,1464.4 391.5,1425.4 392.0,1412.4 392.6,1442.9 393.2,1428.4 393.8,1430.6 394.4,1416.5 395.0,1398.6 395.5,1420.5 396.1,1415.9 396.7,1407.6 397.3,1415.4 397.9,1417.5 398.5,1443.2 399.1,1441.8 399.6,1439.1 400.2,1423.8 400.8,1413.2 401.4,1436.0 402.0,1438.5 402.6,1446.5 403.1,1431.5 403.7,1430.0 404.3,1436.5 404.9,1418.5 405.5,1420.3 406.1,1441.5 406.6,1413.8 407.2,1431.1 407.8,1443.8 408.4,1435.9 409.0,1438.8 409.6,1416.4 410.1,1430.8 410.7,1428.8 411.3,1441.6 411.9,1439.0 412.5,1433.5 413.1,1461.0 413.7,1441.4 414.2,1429.5 414.8,1424.9 415.4,1433.6 416.0,1426.0 416.6,1458.4 417.2,1443.0 417.7,1430.3 418.3,1425.5 418.9,1419.6 419.5,1431.4 420.1,1454.8 420.7,1448.1 421.2,1435.2 421.8,1438.2 422.4,1409.2 423.0,1447.7 423.6,1433.5 424.2,1457.0 424.7,1434.5 425.3,1430.3 425.9,1440.6 426.5,1428.4 427.1,1457.5 427.7,1442.3 428.3,1443.6 428.8,1443.4 429.4,1433.5 430.0,1445.9 430.6,1441.6 431.2,1464.9 431.8,1440.4 432.3,1445.1 432.9,1433.2 433.5,1434.7 434.1,1435.9 434.7,1459.4 435.3,1442.0 435.8,1455.3 436.4,1437.5 437.0,1436.2 437.6,1413.7 438.2,1454.0 438.8,1472.2 439.3,1439.0 439.9,1463.4 440.5,1455.1 441.1,1433.0 441.7,1454.2 442.3,1430.2 442.9,1439.1 443.4,1461.4 444.0,1446.2 444.6,1427.0 445.2,1464.8 445.8,1428.4 446.4,1442.2 446.9,1439.7 447.5,1442.6 448.1,1432.7 448.7,1421.5 449.3,1472.4 449.9,1431.8 450.4,1432.9 451.0,1410.5 451.6,1447.4 452.2,1465.0 452.8,1466.8 453.4,1486.8 453.9,1468.6 454.5,1452.9 455.1,1447.6 455.7,1468.2 456.3,1447.1 456.9,1450.6 457.5,1434.0 458.0,1449.6 458.6,1477.0 459.2,1447.4 459.8,1454.4 460.4,1413.9 461.0,1468.5 461.5,1454.5 462.1,1469.7 462.7,1452.9 463.3,1437.1 463.9,1429.9 464.5,1457.0 465.0,1449.4 465.6,1435.8 466.2,1449.0 466.8,1440.9 467.4,1460.6 468.0,1444.3 468.5,1432.5 469.1,1448.9 469.7,1442.0 470.3,1471.5 470.9,1443.3 471.5,1430.9 472.1,1449.1 472.6,1446.2 473.2,1453.7 473.8,1452.9 474.4,1434.8 475.0,1449.0 475.6,1448.2 476.1,1432.3 476.7,1441.4 477.3,1452.6 477.9,1426.6 478.5,1433.9 479.1,1442.8 479.6,1448.2 480.2,1457.0 480.8,1429.9 481.4,1453.8 482.0,1458.6 482.6,1471.9 483.1,1443.5 483.7,1436.3 484.3,1427.4 484.9,1457.7 485.5,1468.4 486.1,1439.8 486.7,1456.3 487.2,1462.5 487.8,1464.0 488.4,1444.6 489.0,1459.9 489.6,1450.0 490.2,1437.3 490.7,1454.9 491.3,1456.5 491.9,1437.5 492.5,1458.0 493.1,1480.5 493.7,1430.1 494.2,1462.0 494.8,1465.2 495.4,1452.8 496.0,1456.8 496.6,1448.3 497.2,1471.7 497.7,1438.5 498.3,1450.1 498.9,1424.0 499.5,1456.7 500.1,1457.4 500.7,1427.8 501.3,1439.4 501.8,1458.9 502.4,1444.9 503.0,1434.5 503.6,1415.8 504.2,1456.9 504.8,1479.9 505.3,1445.3 505.9,1458.2 506.5,1458.0 507.1,1450.7 507.7,1453.4 508.3,1453.7 508.8,1439.5 509.4,1488.2 510.0,1491.5 510.6,1456.7 511.2,1478.1 511.8,1440.5 512.3,1449.1 512.9,1468.8 513.5,1435.8 514.1,1433.7 514.7,1457.6 515.3,1424.1 515.9,1477.7 516.4,1463.7 517.0,1456.5 517.6,1462.8 518.2,1440.1 518.8,1439.7 519.4,1465.5 519.9,1467.1 520.5,1455.7 521.1,1453.0 521.7,1446.0 522.3,1474.0 522.9,1432.5 523.4,1441.6 524.0,1446.2 524.6,1432.0 525.2,1434.9 525.8,1439.2 526.4,1468.6 526.9,1480.1 527.5,1459.0 528.1,1430.6 528.7,1445.1 529.3,1451.9 529.9,1449.9 530.5,1448.4 531.0,1461.2 531.6,1425.7 532.2,1445.3 532.8,1456.7 533.4,1463.9 534.0,1457.7 534.5,1453.9 535.1,1451.6 535.7,1444.0 536.3,1454.8 536.9,1450.6 537.5,1443.4 538.0,1470.9 538.6,1470.7 539.2,1448.2 539.8,1462.4 540.4,1470.8 541.0,1457.4 541.5,1455.3 542.1,1460.6 542.7,1429.7 543.3,1432.8 543.9,1460.9 544.5,1457.3 545.1,1473.0 545.6,1446.2 546.2,1469.1 546.8,1468.5 547.4,1481.6 548.0,1441.7 548.6,1448.1 549.1,1457.1 549.7,1456.9 550.3,1438.7 550.9,1444.8 551.5,1434.3 552.1,1486.2 552.6,1452.0 553.2,1452.7 553.8,1444.0 554.4,1453.2 555.0,1464.1 555.6,1447.9 556.1,1452.2 556.7,1483.8 557.3,1465.8 557.9,1455.9 558.5,1446.4 559.1,1452.1 559.7,1441.7 560.2,1456.2 560.8,1442.6 561.4,1441.7 562.0,1446.2 562.6,1436.6 563.2,1454.7 563.7,1488.0 564.3,1442.7 564.9,1427.8 565.5,1465.2 566.1,1449.9 566.7,1479.7 567.2,1456.6 567.8,1464.4 568.4,1439.8 569.0,1428.0 569.6,1448.1 570.2,1460.2 570.7,1438.2 571.3,1427.6 571.9,1441.8 572.5,1443.8 573.1,1445.4 573.7,1449.5 574.3,1484.2 574.8,1450.3 575.4,1442.6 576.0,1434.1 576.6,1461.1 577.2,1426.9 577.8,1470.2 578.3,1449.3 578.9,1427.8 579.5,1451.9 580.1,1447.6 580.7,1466.7 581.3,1427.7 581.8,1451.9 582.4,1448.7 583.0,1462.0 583.6,1432.5 584.2,1437.6 584.8,1476.8 585.3,1456.5 585.9,1427.3 586.5,1453.0 587.1,1437.0 587.7,1438.4 588.3,1430.7 588.9,1462.1 589.4,1440.3 590.0,1450.7 590.6,1448.9 591.2,1426.0 591.8,1437.0 592.4,1458.6 592.9,1425.1 593.5,1451.0 594.1,1445.9 594.7,1456.5 595.3,1457.0 595.9,1459.0 596.4,1448.0 597.0,1450.7 597.6,1436.9 598.2,1439.2 598.8,1459.7 599.4,1438.3 599.9,1461.4 600.5,1461.0 601.1,1435.3 601.7,1454.6 602.3,1434.9 602.9,1451.3 603.5,1435.3 604.0,1451.1 604.6,1448.7 605.2,1431.4 605.8,1475.5 606.4,1459.9 607.0,1423.2 607.5,1451.0 608.1,1439.9 608.7,1475.2 609.3,1445.0 609.9,1451.4 610.5,1443.2 611.0,1454.7 611.6,1438.0 612.2,1432.7 612.8,1438.4 613.4,1439.4 614.0,1454.3 614.5,1446.6 615.1,1438.9 615.7,1439.4 616.3,1432.1 616.9,1446.9 617.5,1416.0 618.1,1441.8 618.6,1461.8 619.2,1439.6 619.8,1435.4 620.4,1445.3 621.0,1431.3 621.6,1433.7 622.1,1454.2 622.7,1435.4 623.3,1472.2 623.9,1452.0 624.5,1442.7 625.1,1435.3 625.6,1440.4 626.2,1411.6 626.8,1447.4 627.4,1456.5 628.0,1451.9 628.6,1437.6 629.1,1452.4 629.7,1452.7 630.3,1441.6 630.9,1448.4 631.5,1458.2 632.1,1449.8 632.7,1437.8 633.2,1443.3 633.8,1445.3 634.4,1420.2 635.0,1444.8 635.6,1441.1 636.2,1411.9 636.7,1418.4 637.3,1468.3 637.9,1444.1 638.5,1461.7 639.1,1437.1 639.7,1464.2 640.2,1450.4 640.8,1432.5 641.4,1446.1 642.0,1464.4 642.6,1476.1 643.2,1449.3 643.7,1435.6 644.3,1429.6 644.9,1451.6 645.5,1457.3 646.1,1443.7 646.7,1440.1 647.3,1453.3 647.8,1448.5 648.4,1447.1 649.0,1419.7 649.6,1436.7 650.2,1468.2 650.8,1441.0 651.3,1475.7 651.9,1446.6 652.5,1437.0 653.1,1445.0 653.7,1449.5 654.3,1430.5 654.8,1444.2 655.4,1434.7 656.0,1461.3 656.6,1434.0 657.2,1442.1 657.8,1419.0 658.3,1420.8 658.9,1438.9 659.5,1427.1 660.1,1435.8 660.7,1443.3 661.3,1447.8 661.9,1419.7 662.4,1437.0 663.0,1449.0 663.6,1429.9 664.2,1420.9 664.8,1429.5 665.4,1462.4 665.9,1439.5 666.5,1461.3 667.1,1434.7 667.7,1455.9 668.3,1418.3 668.9,1435.2 669.4,1440.0 670.0,1463.6 670.6,1445.3 671.2,1454.4 671.8,1432.4 672.4,1432.4 672.9,1456.4 673.5,1458.5 674.1,1455.6 674.7,1455.1 675.3,1430.5 675.9,1468.6 676.5,1440.3 677.0,1455.8 677.6,1448.3 678.2,1412.7 678.8,1409.9 679.4,1414.7 680.0,1436.7 680.5,1453.2 681.1,1433.7 681.7,1449.1 682.3,1419.5 682.9,1428.1 683.5,1424.1 684.0,1437.2 684.6,1420.4 685.2,1435.2 685.8,1445.0 686.4,1429.9 687.0,1423.7 687.5,1429.9 688.1,1418.9 688.7,1421.4 689.3,1447.5 689.9,1440.8 690.5,1415.4 691.1,1431.8 691.6,1442.2 692.2,1447.0 692.8,1444.7 693.4,1449.4 694.0,1434.9 694.6,1435.1 695.1,1431.8 695.7,1450.8 696.3,1447.2 696.9,1460.2 697.5,1450.6 698.1,1422.9 698.6,1413.3 699.2,1414.2 699.8,1421.1 700.4,1442.3 701.0,1413.5 701.6,1404.3 702.1,1430.3 702.7,1444.1 703.3,1443.5 703.9,1455.9 704.5,1431.5 705.1,1423.8 705.7,1427.2 706.2,1412.3 706.8,1421.5 707.4,1449.0 708.0,1460.4 708.6,1448.4 709.2,1434.3 709.7,1426.4 710.3,1433.1 710.9,1402.6 711.5,1437.4 712.1,1440.1 712.7,1426.8 713.2,1428.8 713.8,1404.2 714.4,1439.3 715.0,1439.1 715.6,1388.4 716.2,1419.2 716.7,1432.1 717.3,1450.7 717.9,1414.5 718.5,1426.0 719.1,1447.2 719.7,1432.9 720.3,1422.9 720.8,1419.5 721.4,1426.1 722.0,1414.1 722.6,1439.6 723.2,1412.8 723.8,1433.0 724.3,1438.0 724.9,1441.8 725.5,1426.4 726.1,1424.9 726.7,1429.4 727.3,1425.8 727.8,1440.1 728.4,1422.9 729.0,1451.6 729.6,1463.8 730.2,1414.7 730.8,1429.4 731.3,1407.1 731.9,1433.9 732.5,1428.9 733.1,1419.7 733.7,1407.7 734.3,1422.7 734.9,1450.6 735.4,1444.7 736.0,1427.1 736.6,1412.7 737.2,1420.8 737.8,1409.6 738.4,1401.5 738.9,1406.9 739.5,1428.8 740.1,1424.3 740.7,1422.2 741.3,1403.8 741.9,1399.2 742.4,1433.4 743.0,1413.7 743.6,1435.4 744.2,1407.8 744.8,1432.0 745.4,1421.3 745.9,1411.6 746.5,1411.4 747.1,1444.5 747.7,1430.3 748.3,1413.1 748.9,1419.1 749.5,1394.4 750.0,1440.6 750.6,1435.8 751.2,1410.1 751.8,1422.1 752.4,1376.2 753.0,1429.0 753.5,1421.8 754.1,1418.7 754.7,1426.6 755.3,1419.0 755.9,1400.8 756.5,1404.5 757.0,1411.7 757.6,1426.9 758.2,1414.3 758.8,1404.3 759.4,1418.8 760.0,1396.1 760.5,1442.9 761.1,1417.6 761.7,1399.3 762.3,1415.5 762.9,1428.3 763.5,1420.6 764.1,1441.7 764.6,1392.6 765.2,1435.2 765.8,1412.1 766.4,1424.9 767.0,1436.6 767.6,1395.3 768.1,1392.1 768.7,1406.5 769.3,1388.4 769.9,1383.3 770.5,1412.9 771.1,1428.2 771.6,1404.8 772.2,1418.6 772.8,1463.5 773.4,1416.1 774.0,1406.9 774.6,1408.9 775.1,1417.2 775.7,1406.9 776.3,1420.7 776.9,1413.9 777.5,1423.7 778.1,1412.8 778.7,1409.4 779.2,1397.3 779.8,1390.8 780.4,1406.2 781.0,1404.7 781.6,1414.1 782.2,1408.9 782.7,1404.4 783.3,1441.8 783.9,1414.2 784.5,1426.8 785.1,1395.0 785.7,1423.7 786.2,1425.9 786.8,1415.6 787.4,1396.6 788.0,1426.8 788.6,1398.7 789.2,1386.8 789.7,1385.8 790.3,1409.5 790.9,1401.5 791.5,1419.8 792.1,1417.8 792.7,1427.6 793.3,1412.9 793.8,1409.6 794.4,1408.0 795.0,1396.7 795.6,1396.0 796.2,1397.3 796.8,1410.8 797.3,1395.4 797.9,1406.0 798.5,1422.4 799.1,1373.3 799.7,1394.5 800.3,1392.7 800.8,1406.4 801.4,1385.4 802.0,1396.9 802.6,1438.5 803.2,1386.8 803.8,1404.7 804.3,1408.7 804.9,1401.5 805.5,1388.6 806.1,1419.5 806.7,1378.3 807.3,1391.5 807.9,1401.8 808.4,1396.0 809.0,1421.2 809.6,1400.1 810.2,1431.2 810.8,1404.1 811.4,1425.8 811.9,1409.9 812.5,1400.3 813.1,1399.6 813.7,1418.0 814.3,1395.8 814.9,1402.8 815.4,1392.1 816.0,1374.4 816.6,1410.7 817.2,1412.0 817.8,1385.9 818.4,1409.5 818.9,1399.3 819.5,1375.9 820.1,1389.4 820.7,1411.9 821.3,1417.1 821.9,1408.0 822.5,1441.8 823.0,1407.4 823.6,1391.8 824.2,1381.6 824.8,1423.4 825.4,1395.6 826.0,1397.0 826.5,1390.7 827.1,1390.7 827.7,1397.0 828.3,1408.6 828.9,1409.8 829.5,1407.1 830.0,1415.5 830.6,1395.3 831.2,1387.7 831.8,1401.3 832.4,1373.1 833.0,1414.0 833.5,1409.2 834.1,1409.4 834.7,1386.7 835.3,1394.9 835.9,1402.1 836.5,1387.5 837.1,1386.4 837.6,1398.6 838.2,1403.6 838.8,1392.1 839.4,1415.8 840.0,1432.4 840.6,1409.4 841.1,1398.6 841.7,1396.6 842.3,1423.6 842.9,1405.3 843.5,1409.5 844.1,1404.0 844.6,1392.9 845.2,1421.9 845.8,1397.3 846.4,1402.8 847.0,1370.6 847.6,1430.7 848.1,1410.9 848.7,1399.0 849.3,1389.2 849.9,1391.6 850.5,1376.3 851.1,1406.5 851.7,1387.8 852.2,1405.8 852.8,1406.1 853.4,1426.5 854.0,1402.7 854.6,1403.8 855.2,1406.6 855.7,1390.9 856.3,1396.1 856.9,1404.0 857.5,1415.6 858.1,1409.8 858.7,1395.7 859.2,1416.4 859.8,1394.2 860.4,1378.2 861.0,1421.1 861.6,1399.6 862.2,1393.0 862.7,1382.6 863.3,1393.2 863.9,1422.7 864.5,1398.5 865.1,1430.1 865.7,1399.7 866.3,1414.8 866.8,1399.2 867.4,1392.0 868.0,1392.0 868.6,1393.9 869.2,1380.4 869.8,1379.6 870.3,1401.3 870.9,1413.2 871.5,1397.7 872.1,1395.8 872.7,1382.1 873.3,1410.0 873.8,1408.5 874.4,1377.5 875.0,1394.1 875.6,1388.1 876.2,1371.7 876.8,1414.1 877.3,1407.8 877.9,1395.5 878.5,1410.2 879.1,1383.3 879.7,1393.7 880.3,1408.1 880.9,1385.0 881.4,1392.8 882.0,1374.9 882.6,1396.7 883.2,1403.3 883.8,1373.4 884.4,1375.6 884.9,1385.0 885.5,1404.7 886.1,1378.0 886.7,1373.1 887.3,1382.6 887.9,1399.3 888.4,1362.2 889.0,1380.4 889.6,1400.3 890.2,1381.4 890.8,1377.5 891.4,1392.7 891.9,1363.9 892.5,1408.2 893.1,1386.2 893.7,1373.9 894.3,1379.8 894.9,1377.3 895.5,1373.8 896.0,1360.5 896.6,1373.4 897.2,1352.8 897.8,1394.7 898.4,1360.0 899.0,1364.9 899.5,1363.6 900.1,1383.9 900.7,1370.9 901.3,1392.7 901.9,1366.5 902.5,1374.3 903.0,1371.0 903.6,1366.8 904.2,1386.2 904.8,1387.4 905.4,1388.1 906.0,1351.0 906.5,1374.1 907.1,1353.7 907.7,1352.9 908.3,1343.5 908.9,1354.6 909.5,1375.0 910.1,1385.2 910.6,1389.3 911.2,1352.9 911.8,1356.2 912.4,1367.2 913.0,1365.5 913.6,1365.9 914.1,1338.6 914.7,1359.2 915.3,1369.1 915.9,1364.2 916.5,1358.5 917.1,1349.7 917.6,1357.7 918.2,1380.0 918.8,1364.6 919.4,1371.5 920.0,1379.1 920.6,1341.4 921.1,1364.6 921.7,1361.2 922.3,1372.3 922.9,1350.5 923.5,1350.2 924.1,1343.7 924.7,1354.4 925.2,1347.6 925.8,1348.7 926.4,1354.7 927.0,1344.5 927.6,1336.5 928.2,1342.9 928.7,1340.4 929.3,1353.0 929.9,1363.4 930.5,1342.3 931.1,1314.3 931.7,1355.5 932.2,1347.2 932.8,1335.7 933.4,1345.4 934.0,1374.1 934.6,1329.4 935.2,1334.2 935.7,1349.4 936.3,1308.7 936.9,1344.8 937.5,1364.4 938.1,1359.0 938.7,1357.1 939.3,1347.9 939.8,1350.7 940.4,1390.0 941.0,1356.7 941.6,1372.0 942.2,1337.5 942.8,1358.0 943.3,1360.0 943.9,1357.6 944.5,1326.8 945.1,1350.6 945.7,1376.1 946.3,1364.4 946.8,1347.0 947.4,1369.5 948.0,1333.1 948.6,1366.4 949.2,1363.6 949.8,1351.1 950.3,1346.3 950.9,1338.5 951.5,1358.5 952.1,1385.4 952.7,1374.6 953.3,1369.3 953.9,1377.0 954.4,1357.6 955.0,1373.3 955.6,1328.2 956.2,1361.2 956.8,1362.1 957.4,1368.4 957.9,1367.8 958.5,1378.7 959.1,1363.3 959.7,1384.7 960.3,1369.9 960.9,1385.6 961.4,1376.3 962.0,1386.8 962.6,1382.4 963.2,1369.0 963.8,1380.3 964.4,1361.3 964.9,1380.0 965.5,1385.2 966.1,1377.3 966.7,1379.5 967.3,1395.5 967.9,1399.3 968.5,1402.9 969.0,1377.3 969.6,1380.0 970.2,1396.9 970.8,1399.1 971.4,1363.9 972.0,1415.0 972.5,1404.9 973.1,1374.0 973.7,1406.6 974.3,1386.6 974.9,1391.3 975.5,1380.8 976.0,1383.7 976.6,1390.3 977.2,1397.4 977.8,1382.4 978.4,1396.3 979.0,1387.6 979.5,1389.8 980.1,1384.9 980.7,1388.1 981.3,1417.3 981.9,1374.6 982.5,1378.4 983.1,1394.6 983.6,1388.7 984.2,1381.2 984.8,1400.2 985.4,1379.2 986.0,1394.4 986.6,1406.7 987.1,1401.5 987.7,1390.0 988.3,1393.6 988.9,1395.7 989.5,1401.1 990.1,1380.4 990.6,1409.4 991.2,1402.4 991.8,1416.8 992.4,1403.2 993.0,1405.4 993.6,1353.0 994.1,1385.7 994.7,1415.8 995.3,1396.2 995.9,1384.9 996.5,1399.8 997.1,1391.7 997.7,1395.5 998.2,1381.1 998.8,1398.3 999.4,1412.2 1000.0,1396.4 1000.6,1399.9 1001.2,1385.8 1001.7,1402.2 1002.3,1391.4 1002.9,1379.9 1003.5,1393.0 1004.1,1396.3 1004.7,1407.6 1005.2,1413.6 1005.8,1399.4 1006.4,1398.2 1007.0,1412.1 1007.6,1392.9 1008.2,1401.1 1008.7,1403.3 1009.3,1405.1 1009.9,1400.4 1010.5,1430.4 1011.1,1422.5 1011.7,1408.7 1012.3,1393.0 1012.8,1406.0 1013.4,1421.2 1014.0,1389.0 1014.6,1447.7 1015.2,1415.2 1015.8,1416.4 1016.3,1426.3 1016.9,1400.3 1017.5,1420.6 1018.1,1420.6 1018.7,1430.8 1019.3,1409.3 1019.8,1431.5 1020.4,1439.7 1021.0,1429.0 1021.6,1418.5 1022.2,1414.9 1022.8,1403.3 1023.3,1419.3 1023.9,1433.8 1024.5,1447.1 1025.1,1441.5 1025.7,1444.1 1026.3,1422.7 1026.9,1423.7 1027.4,1409.8 1028.0,1421.4 1028.6,1415.9 1029.2,1427.7 1029.8,1440.1 1030.4,1430.3 1030.9,1428.0 1031.5,1441.6 1032.1,1452.7 1032.7,1447.5 1033.3,1411.9 1033.9,1456.9 1034.4,1429.0 1035.0,1416.5 1035.6,1430.9 1036.2,1449.0 1036.8,1402.0 1037.4,1453.8 1037.9,1440.1 1038.5,1445.0 1039.1,1420.4 1039.7,1431.4 1040.3,1424.3 1040.9,1454.6 1041.5,1429.7 1042.0,1445.0 1042.6,1432.1 1043.2,1419.5 1043.8,1452.8 1044.4,1457.2 1045.0,1461.7 1045.5,1435.5 1046.1,1443.7 1046.7,1452.4 1047.3,1448.2 1047.9,1447.1 1048.5,1474.9 1049.0,1439.7 1049.6,1456.5 1050.2,1438.1 1050.8,1463.3 1051.4,1441.6 1052.0,1432.2 1052.5,1454.5 1053.1,1445.4 1053.7,1439.8 1054.3,1441.8 1054.9,1436.7 1055.5,1451.2 1056.1,1448.7 1056.6,1465.9 1057.2,1435.7 1057.8,1462.7 1058.4,1451.4 1059.0,1426.1 1059.6,1463.5 1060.1,1421.3 1060.7,1450.2 1061.3,1419.4 1061.9,1446.5 1062.5,1437.8 1063.1,1438.7 1063.6,1417.3 1064.2,1431.7 1064.8,1456.3 1065.4,1448.8 1066.0,1439.6 1066.6,1438.5 1067.1,1431.5 1067.7,1458.0 1068.3,1438.7 1068.9,1452.8 1069.5,1419.5 1070.1,1418.3 1070.7,1455.3 1071.2,1426.2 1071.8,1434.6 1072.4,1442.9 1073.0,1448.2 1073.6,1444.2 1074.2,1442.8 1074.7,1456.1 1075.3,1438.2 1075.9,1446.0 1076.5,1434.4 1077.1,1435.4 1077.7,1457.1 1078.2,1429.0 1078.8,1399.3 1079.4,1432.1 1080.0,1433.0 1080.6,1453.4 1081.2,1424.7 1081.7,1414.2 1082.3,1429.9 1082.9,1451.4 1083.5,1422.8 1084.1,1442.9 1084.7,1432.5 1085.3,1433.7 1085.8,1414.2 1086.4,1425.2 1087.0,1413.3 1087.6,1423.2 1088.2,1413.3 1088.8,1434.7 1089.3,1412.3 1089.9,1414.5 1090.5,1387.4 1091.1,1401.7 1091.7,1443.9 1092.3,1406.2 1092.8,1389.1 1093.4,1407.9 1094.0,1403.6 1094.6,1398.5 1095.2,1399.4 1095.8,1394.8 1096.3,1410.4 1096.9,1380.9 1097.5,1396.5 1098.1,1402.2 1098.7,1377.8 1099.3,1415.6 1099.9,1385.2 1100.4,1380.8 1101.0,1372.7 1101.6,1387.4 1102.2,1354.8 1102.8,1380.1 1103.4,1399.6 1103.9,1375.4 1104.5,1381.2 1105.1,1358.4 1105.7,1379.5 1106.3,1359.3 1106.9,1363.0 1107.4,1368.1 1108.0,1391.7 1108.6,1359.5 1109.2,1341.8 1109.8,1367.6 1110.4,1375.2 1110.9,1373.3 1111.5,1367.3 1112.1,1381.4 1112.7,1375.8 1113.3,1375.8 1113.9,1360.3 1114.5,1347.7 1115.0,1387.1 1115.6,1356.3 1116.2,1384.0 1116.8,1383.1 1117.4,1354.0 1118.0,1361.1 1118.5,1375.1 1119.1,1382.5 1119.7,1358.7 1120.3,1368.3 1120.9,1360.9 1121.5,1360.4 1122.0,1378.8 1122.6,1373.5 1123.2,1355.8 1123.8,1388.3 1124.4,1380.2 1125.0,1381.9 1125.5,1372.1 1126.1,1399.7 1126.7,1396.4 1127.3,1397.8 1127.9,1394.3 1128.5,1400.7 1129.1,1417.2 1129.6,1400.7 1130.2,1402.4 1130.8,1394.9 1131.4,1409.9 1132.0,1399.8 1132.6,1394.8 1133.1,1419.2 1133.7,1404.0 1134.3,1396.3 1134.9,1399.4 1135.5,1402.0 1136.1,1395.1 1136.6,1426.8 1137.2,1416.3 1137.8,1392.0 1138.4,1423.8 1139.0,1404.6 1139.6,1412.6 1140.1,1404.7 1140.7,1414.8 1141.3,1414.5 1141.9,1419.3 1142.5,1420.2 1143.1,1377.9 1143.7,1403.6 1144.2,1409.5 1144.8,1407.2 1145.4,1391.1 1146.0,1403.6 1146.6,1405.0 1147.2,1381.0 1147.7,1394.7 1148.3,1413.6 1148.9,1394.3 1149.5,1400.5 1150.1,1401.9 1150.7,1407.3 1151.2,1409.3 1151.8,1412.6 1152.4,1400.3 1153.0,1400.6 1153.6,1395.6 1154.2,1399.1 1154.7,1394.4 1155.3,1404.0 1155.9,1402.1 1156.5,1375.1 1157.1,1362.7 1157.7,1394.6 1158.3,1381.4 1158.8,1367.4 1159.4,1396.9 1160.0,1402.3 1160.6,1368.3 1161.2,1369.3 1161.8,1371.2 1162.3,1368.3 1162.9,1375.3 1163.5,1360.9 1164.1,1372.5 1164.7,1365.8 1165.3,1381.5 1165.8,1365.4 1166.4,1375.5 1167.0,1381.0 1167.6,1367.0 1168.2,1366.5 1168.8,1350.5 1169.3,1354.6 1169.9,1380.5 1170.5,1367.8 1171.1,1350.0 1171.7,1343.1 1172.3,1344.7 1172.9,1358.5 1173.4,1318.4 1174.0,1345.2 1174.6,1324.5 1175.2,1356.7 1175.8,1320.2 1176.4,1347.5 1176.9,1331.3 1177.5,1333.6 1178.1,1352.3 1178.7,1330.8 1179.3,1338.2 1179.9,1333.5 1180.4,1313.5 1181.0,1326.1 1181.6,1337.5 1182.2,1328.8 1182.8,1325.9 1183.4,1313.6 1183.9,1340.3 1184.5,1313.4 1185.1,1341.6 1185.7,1322.9 1186.3,1330.1 1186.9,1305.1 1187.5,1324.7 1188.0,1312.7 1188.6,1326.3 1189.2,1341.0 1189.8,1331.6 1190.4,1332.7 1191.0,1344.7 1191.5,1321.4 1192.1,1340.5 1192.7,1334.9 1193.3,1359.0 1193.9,1340.1 1194.5,1371.7 1195.0,1380.0 1195.6,1332.5 1196.2,1359.6 1196.8,1345.3 1197.4,1382.2 1198.0,1358.4 1198.5,1378.6 1199.1,1376.7 1199.7,1363.5 1200.3,1358.2 1200.9,1392.3 1201.5,1373.3 1202.1,1385.8 1202.6,1401.8 1203.2,1386.0 1203.8,1384.6 1204.4,1377.8 1205.0,1397.8 1205.6,1384.1 1206.1,1375.5 1206.7,1390.8 1207.3,1392.2 1207.9,1381.9 1208.5,1400.6 1209.1,1415.4 1209.6,1414.4 1210.2,1434.0 1210.8,1425.1 1211.4,1416.4 1212.0,1390.4 1212.6,1419.9 1213.1,1433.7 1213.7,1416.8 1214.3,1438.8 1214.9,1411.5 1215.5,1427.2 1216.1,1435.3 1216.7,1447.1 1217.2,1427.1 1217.8,1452.8 1218.4,1425.9 1219.0,1409.6 1219.6,1431.4 1220.2,1450.8 1220.7,1431.0 1221.3,1456.5 1221.9,1435.2 1222.5,1462.1 1223.1,1413.2 1223.7,1469.4 1224.2,1417.6 1224.8,1443.1 1225.4,1430.2 1226.0,1449.3 1226.6,1443.4 1227.2,1443.1 1227.7,1455.2 1228.3,1460.0 1228.9,1444.8 1229.5,1464.7 1230.1,1429.0 1230.7,1437.9 1231.3,1434.9 1231.8,1458.2 1232.4,1464.2 1233.0,1448.4 1233.6,1446.5 1234.2,1440.4 1234.8,1464.1 1235.3,1470.4 1235.9,1450.3 1236.5,1455.6 1237.1,1453.6 1237.7,1458.9 1238.3,1465.6 1238.8,1433.4 1239.4,1454.7 1240.0,1472.0 1240.6,1451.4 1241.2,1478.6 1241.8,1480.9 1242.3,1452.5 1242.9,1454.9 1243.5,1481.2 1244.1,1445.5 1244.7,1453.2 1245.3,1446.7 1245.9,1467.4 1246.4,1472.0 1247.0,1474.1 1247.6,1472.1 1248.2,1452.0 1248.8,1484.0 1249.4,1469.4 1249.9,1465.8 1250.5,1492.1 1251.1,1473.2 1251.7,1476.4 1252.3,1482.9 1252.9,1497.7 1253.4,1473.5 1254.0,1482.6 1254.6,1446.2 1255.2,1463.2 1255.8,1500.8 1256.4,1500.4 1256.9,1474.8 1257.5,1466.2 1258.1,1460.9 1258.7,1463.5 1259.3,1471.6 1259.9,1458.0 1260.5,1478.3 1261.0,1478.0 1261.6,1465.5 1262.2,1465.2 1262.8,1467.3 1263.4,1475.7 1264.0,1478.9 1264.5,1488.4 1265.1,1460.1 1265.7,1477.0 1266.3,1481.5 1266.9,1484.9 1267.5,1491.3 1268.0,1475.9 1268.6,1495.8 1269.2,1508.4 1269.8,1486.0 1270.4,1499.3 1271.0,1492.3 1271.5,1485.9 1272.1,1477.8 1272.7,1483.4 1273.3,1505.0 1273.9,1481.0 1274.5,1470.7 1275.1,1474.0 1275.6,1489.3 1276.2,1472.1 1276.8,1490.7 1277.4,1488.5 1278.0,1482.3 1278.6,1499.4 1279.1,1463.7 1279.7,1472.7 1280.3,1477.1 1280.9,1483.8 1281.5,1462.7 1282.1,1471.9 1282.6,1494.3 1283.2,1473.7 1283.8,1489.4 1284.4,1475.4 1285.0,1469.0 1285.6,1484.1 1286.1,1493.4 1286.7,1477.0 1287.3,1461.8 1287.9,1468.0 1288.5,1471.8 1289.1,1473.9 1289.7,1465.7 1290.2,1485.0 1290.8,1464.0 1291.4,1487.9 1292.0,1463.0 1292.6,1463.4 1293.2,1487.8 1293.7,1482.3 1294.3,1469.2 1294.9,1465.5 1295.5,1469.3 1296.1,1472.0 1296.7,1473.8 1297.2,1482.7 1297.8,1459.9 1298.4,1469.2 1299.0,1469.3 1299.6,1451.7 1300.2,1481.2 1300.7,1486.7 1301.3,1466.1 1301.9,1444.7 1302.5,1455.3 1303.1,1475.4 1303.7,1439.6 1304.3,1439.4 1304.8,1456.4 1305.4,1467.3 1306.0,1471.0 1306.6,1472.6 1307.2,1432.0 1307.8,1452.4 1308.3,1447.3 1308.9,1446.6 1309.5,1466.7 1310.1,1462.0 1310.7,1447.7 1311.3,1458.5 1311.8,1457.8 1312.4,1469.7 1313.0,1447.7 1313.6,1461.0 1314.2,1444.6 1314.8,1457.6 1315.3,1451.5 1315.9,1454.4 1316.5,1450.8 1317.1,1467.9 1317.7,1441.7 1318.3,1438.6 1318.9,1442.4 1319.4,1454.6 1320.0,1458.2 1320.6,1450.0 1321.2,1443.7 1321.8,1447.3 1322.4,1444.8 1322.9,1459.0 1323.5,1453.8 1324.1,1457.2 1324.7,1455.9 1325.3,1456.7 1325.9,1469.5 1326.4,1451.6 1327.0,1462.4 1327.6,1463.4 1328.2,1450.7 1328.8,1477.8 1329.4,1462.5 1329.9,1447.8 1330.5,1471.9 1331.1,1468.0 1331.7,1470.2 1332.3,1460.6 1332.9,1459.5 1333.5,1465.8 1334.0,1449.5 1334.6,1467.1 1335.2,1466.6 1335.8,1476.4 1336.4,1464.7 1337.0,1474.4 1337.5,1452.4 1338.1,1460.3 1338.7,1478.1 1339.3,1486.2 1339.9,1480.5 1340.5,1454.6 1341.0,1460.3 1341.6,1465.6 1342.2,1486.7 1342.8,1466.9 1343.4,1476.8 1344.0,1480.0 1344.5,1480.5 1345.1,1474.4 1345.7,1480.3 1346.3,1486.7 1346.9,1479.7 1347.5,1477.6 1348.1,1487.0 1348.6,1495.2 1349.2,1505.9 1349.8,1466.3 1350.4,1482.0 1351.0,1480.3 1351.6,1467.2 1352.1,1476.3 1352.7,1472.0 1353.3,1468.9 1353.9,1473.1 1354.5,1486.9 1355.1,1468.7 1355.6,1474.4 1356.2,1478.8 1356.8,1469.5 1357.4,1467.0 1358.0,1463.1 1358.6,1472.5 1359.1,1496.3 1359.7,1462.3 1360.3,1490.4 1360.9,1471.1 1361.5,1471.0 1362.1,1490.0 1362.7,1487.7 1363.2,1488.8 1363.8,1481.8 1364.4,1491.5 1365.0,1475.3 1365.6,1486.1 1366.2,1493.1 1366.7,1482.1 1367.3,1473.4 1367.9,1501.2 1368.5,1480.6 1369.1,1472.5 1369.7,1490.3 1370.2,1497.5 1370.8,1489.9 1371.4,1470.8 1372.0,1484.7 1372.6,1487.6 1373.2,1491.3 1373.7,1469.0 1374.3,1470.8 1374.9,1487.0 1375.5,1485.1 1376.1,1490.1 1376.7,1498.0 1377.3,1470.5 1377.8,1473.1 1378.4,1479.3 1379.0,1502.4 1379.6,1483.7 1380.2,1496.7 1380.8,1460.2 1381.3,1488.8 1381.9,1496.6 1382.5,1502.2 1383.1,1479.2 1383.7,1509.2 1384.3,1478.4 1384.8,1503.6 1385.4,1506.5 1386.0,1487.1 1386.6,1473.5 1387.2,1512.5 1387.8,1492.7 1388.3,1475.5 1388.9,1494.2 1389.5,1477.4 1390.1,1490.9 1390.7,1477.2 1391.3,1464.4 1391.9,1496.8 1392.4,1481.8 1393.0,1488.1 1393.6,1490.9 1394.2,1487.9 1394.8,1482.3 1395.4,1494.1 1395.9,1496.9 1396.5,1492.9 1397.1,1486.8 1397.7,1491.2 1398.3,1507.5 1398.9,1504.4 1399.4,1488.8 1400.0,1498.4 1400.6,1498.5 1401.2,1498.7 1401.8,1493.1 1402.4,1498.2 1402.9,1489.4 1403.5,1500.8 1404.1,1499.2 1404.7,1500.8 1405.3,1500.6 1405.9,1499.4 1406.5,1484.8 1407.0,1480.5 1407.6,1494.7 1408.2,1488.9 1408.8,1501.1 1409.4,1486.1 1410.0,1487.9 1410.5,1478.3 1411.1,1491.5 1411.7,1488.4 1412.3,1505.1 1412.9,1493.3 1413.5,1507.8 1414.0,1484.4 1414.6,1475.4 1415.2,1504.2 1415.8,1498.0 1416.4,1509.5 1417.0,1485.4 1417.5,1473.9 1418.1,1509.6 1418.7,1496.0 1419.3,1486.6 1419.9,1516.1 1420.5,1493.6 1421.1,1484.3 1421.6,1497.3 1422.2,1487.5 1422.8,1484.2 1423.4,1497.5 1424.0,1493.5 1424.6,1491.0 1425.1,1491.9 1425.7,1478.5 1426.3,1500.6 1426.9,1513.4 1427.5,1495.9 1428.1,1506.6 1428.6,1514.1 1429.2,1490.4 1429.8,1485.5 1430.4,1482.4 1431.0,1487.6 1431.6,1501.0 1432.1,1491.0 1432.7,1505.2 1433.3,1485.6 1433.9,1510.1 1434.5,1489.0 1435.1,1491.4 1435.7,1493.0 1436.2,1489.8 1436.8,1491.0 1437.4,1498.5 1438.0,1490.9 1438.6,1496.8 1439.2,1483.6 1439.7,1483.5 1440.3,1476.9 1440.9,1499.5 1441.5,1482.8 1442.1,1496.3 1442.7,1492.7 1443.2,1492.9 1443.8,1489.1 1444.4,1497.6 1445.0,1496.7 1445.6,1508.9 1446.2,1489.1 1446.7,1487.5 1447.3,1478.7 1447.9,1514.5 1448.5,1483.9 1449.1,1500.0 1449.7,1499.4 1450.3,1478.4 1450.8,1484.5 1451.4,1498.9 1452.0,1491.0 1452.6,1477.5 1453.2,1492.3 1453.8,1506.9 1454.3,1494.5 1454.9,1496.5 1455.5,1504.2 1456.1,1513.5 1456.7,1491.0 1457.3,1484.1 1457.8,1489.7 1458.4,1485.4 1459.0,1476.0 1459.6,1488.6 1460.2,1480.1 1460.8,1503.3 1461.3,1488.8 1461.9,1462.5 1462.5,1478.9 1463.1,1493.6 1463.7,1483.4 1464.3,1480.8 1464.9,1483.4 1465.4,1480.3 1466.0,1495.4 1466.6,1484.0 1467.2,1479.2 1467.8,1497.6 1468.4,1476.2 1468.9,1490.9 1469.5,1478.0 1470.1,1484.0 1470.7,1483.1 1471.3,1476.4 1471.9,1482.1 1472.4,1503.7 1473.0,1476.4 1473.6,1509.2 1474.2,1496.8 1474.8,1504.7 1475.4,1482.9 1475.9,1499.5 1476.5,1490.2 1477.1,1509.6 1477.7,1483.5 1478.3,1501.2 1478.9,1481.8 1479.5,1502.9 1480.0,1484.1 1480.6,1476.2 1481.2,1473.5 1481.8,1481.8 1482.4,1504.1 1483.0,1473.9 1483.5,1479.7 1484.1,1486.5 1484.7,1488.0 1485.3,1490.1 1485.9,1504.6 1486.5,1485.4 1487.0,1472.3 1487.6,1495.4 1488.2,1483.2 1488.8,1485.2 1489.4,1489.0 1490.0,1504.4 1490.5,1500.6 1491.1,1488.1 1491.7,1483.9 1492.3,1492.4 1492.9,1479.6 1493.5,1469.0 1494.1,1480.6 1494.6,1497.9 1495.2,1480.4 1495.8,1482.2 1496.4,1502.9 1497.0,1503.0 1497.6,1503.2 1498.1,1479.5 1498.7,1492.9 1499.3,1501.8 1499.9,1498.4 1500.5,1483.6 1501.1,1485.3 1501.6,1479.7 1502.2,1481.9 1502.8,1491.4 1503.4,1491.4 1504.0,1478.3 1504.6,1494.3 1505.1,1489.5 1505.7,1500.9 1506.3,1481.8 1506.9,1489.7 1507.5,1463.9 1508.1,1495.4 1508.7,1493.4 1509.2,1496.3 1509.8,1487.8 1510.4,1487.7 1511.0,1486.7 1511.6,1500.4 1512.2,1477.3 1512.7,1486.4 1513.3,1493.7 1513.9,1483.6 1514.5,1477.7 1515.1,1484.3 1515.7,1490.6 1516.2,1503.9 1516.8,1481.9 1517.4,1464.6 1518.0,1497.8 1518.6,1487.0 1519.2,1493.2 1519.7,1485.7 1520.3,1486.3 1520.9,1466.3 1521.5,1492.2 1522.1,1474.6 1522.7,1492.8 1523.3,1465.8 1523.8,1497.9 1524.4,1483.6 1525.0,1461.1 1525.6,1486.3 1526.2,1486.0 1526.8,1485.9 1527.3,1473.1 1527.9,1507.9 1528.5,1479.2 1529.1,1494.8 1529.7,1458.1 1530.3,1490.5 1530.8,1489.1 1531.4,1483.6 1532.0,1496.7 1532.6,1477.3 1533.2,1488.2 1533.8,1482.7 1534.3,1486.1 1534.9,1473.0 1535.5,1489.8 1536.1,1488.7 1536.7,1486.0 1537.3,1486.0 1537.9,1478.6 1538.4,1476.3 1539.0,1480.2 1539.6,1486.3 1540.2,1469.7 1540.8,1481.2 1541.4,1498.4 1541.9,1489.6 1542.5,1472.2 1543.1,1494.8 1543.7,1464.3 1544.3,1479.6 1544.9,1493.3 1545.4,1488.6 1546.0,1485.2 1546.6,1470.6 1547.2,1464.2 1547.8,1486.6 1548.4,1483.9 1548.9,1498.4 1549.5,1474.7 1550.1,1469.1 1550.7,1474.7 1551.3,1461.1 1551.9,1476.2 1552.5,1479.2 1553.0,1477.8 1553.6,1498.3 1554.2,1499.0 1554.8,1475.9 1555.4,1473.4 1556.0,1492.5 1556.5,1490.2 1557.1,1466.0 1557.7,1471.2 1558.3,1470.6 1558.9,1465.1 1559.5,1472.5 1560.0,1465.2 1560.6,1486.2 1561.2,1483.3 1561.8,1460.1 1562.4,1471.2 1563.0,1471.7 1563.5,1492.5 1564.1,1471.0 1564.7,1486.8 1565.3,1494.5 1565.9,1468.2 1566.5,1483.0 1567.1,1478.4 1567.6,1486.6 1568.2,1462.8 1568.8,1473.2 1569.4,1459.5 1570.0,1484.5 1570.6,1456.0 1571.1,1477.4 1571.7,1460.0 1572.3,1468.6 1572.9,1467.6 1573.5,1477.0 1574.1,1482.0 1574.6,1488.3 1575.2,1490.6 1575.8,1476.4 1576.4,1464.4 1577.0,1489.0 1577.6,1462.8 1578.1,1475.9 1578.7,1468.5 1579.3,1469.2 1579.9,1477.7 1580.5,1463.6 1581.1,1474.5 1581.7,1474.5 1582.2,1486.6 1582.8,1487.4 1583.4,1483.6 1584.0,1475.9 1584.6,1493.6 1585.2,1485.6 1585.7,1461.8 1586.3,1478.4 1586.9,1480.0 1587.5,1466.1 1588.1,1477.6 1588.7,1471.4 1589.2,1465.2 1589.8,1475.3 1590.4,1468.0 1591.0,1461.6 1591.6,1474.7 1592.2,1454.7 1592.7,1486.4 1593.3,1470.6 1593.9,1475.2 1594.5,1484.4 1595.1,1484.1 1595.7,1470.9 1596.3,1477.4 1596.8,1484.2 1597.4,1488.8 1598.0,1465.3 1598.6,1476.9 1599.2,1462.0 1599.8,1463.9 1600.3,1472.5 1600.9,1471.0 1601.5,1461.5 1602.1,1463.3 1602.7,1472.0 1603.3,1457.4 1603.8,1474.3 1604.4,1459.8 1605.0,1487.4 1605.6,1474.2 1606.2,1480.1 1606.8,1468.2 1607.3,1483.9 1607.9,1477.5 1608.5,1479.9 1609.1,1473.0 1609.7,1478.5 1610.3,1470.6 1610.9,1478.2 1611.4,1468.4 1612.0,1468.2 1612.6,1473.2 1613.2,1472.5 1613.8,1470.8 1614.4,1463.0 1614.9,1468.4 1615.5,1481.2 1616.1,1472.5 1616.7,1474.6 1617.3,1465.5 1617.9,1485.8 1618.4,1468.6 1619.0,1476.7 1619.6,1470.5 1620.2,1483.5 1620.8,1453.7 1621.4,1448.3 1621.9,1466.6 1622.5,1443.3 1623.1,1461.6 1623.7,1462.1 1624.3,1466.9 1624.9,1476.7 1625.5,1455.1 1626.0,1475.2 1626.6,1482.9 1627.2,1486.8 1627.8,1457.5 1628.4,1465.6 1629.0,1490.0 1629.5,1458.9 1630.1,1482.1 1630.7,1474.1 1631.3,1476.4 1631.9,1452.6 1632.5,1455.4 1633.0,1461.4 1633.6,1477.7 1634.2,1479.9 1634.8,1462.9 1635.4,1474.8 1636.0,1473.3 1636.5,1461.5 1637.1,1460.2 1637.7,1451.2 1638.3,1459.8 1638.9,1463.3 1639.5,1485.5 1640.1,1481.4 1640.6,1470.4 1641.2,1476.0 1641.8,1463.6 1642.4,1447.6 1643.0,1475.7 1643.6,1479.3 1644.1,1464.8 1644.7,1486.4 1645.3,1484.9 1645.9,1482.6 1646.5,1453.6 1647.1,1474.6 1647.6,1481.1 1648.2,1465.1 1648.8,1469.1 1649.4,1484.1 1650.0,1497.3 1650.6,1484.1 1651.1,1478.2 1651.7,1470.3 1652.3,1464.3 1652.9,1467.0 1653.5,1480.5 1654.1,1471.3 1654.7,1491.4 1655.2,1462.6 1655.8,1464.8 1656.4,1477.0 1657.0,1480.1 1657.6,1479.3 1658.2,1466.6 1658.7,1470.5 1659.3,1489.0 1659.9,1475.0 1660.5,1474.0 1661.1,1486.4 1661.7,1484.1 1662.2,1480.0 1662.8,1498.3 1663.4,1465.7 1664.0,1484.6 1664.6,1474.2 1665.2,1491.7 1665.7,1470.7 1666.3,1488.3 1666.9,1477.1 1667.5,1508.9 1668.1,1484.3 1668.7,1505.8 1669.3,1474.8 1669.8,1475.6 1670.4,1485.9 1671.0,1463.7 1671.6,1472.0 1672.2,1498.3 1672.8,1494.0 1673.3,1479.8 1673.9,1494.2 1674.5,1487.1 1675.1,1487.2 1675.7,1471.8 1676.3,1492.6 1676.8,1476.0 1677.4,1498.2 1678.0,1471.0 1678.6,1509.2 1679.2,1475.0 1679.8,1467.5 1680.3,1470.0 1680.9,1486.3 1681.5,1485.3 1682.1,1474.8 1682.7,1490.5 1683.3,1503.2 1683.9,1483.6 1684.4,1490.6 1685.0,1491.8 1685.6,1491.5 1686.2,1463.6 1686.8,1498.7 1687.4,1482.0 1687.9,1484.0 1688.5,1495.7 1689.1,1454.0 1689.7,1491.5 1690.3,1485.9 1690.9,1500.8 1691.4,1486.9 1692.0,1497.5 1692.6,1494.6 1693.2,1470.0 1693.8,1482.3 1694.4,1475.1 1694.9,1482.2 1695.5,1473.3 1696.1,1466.5 1696.7,1481.4 1697.3,1479.3 1697.9,1487.8 1698.5,1500.6 1699.0,1478.8 1699.6,1480.3 1700.2,1495.9 1700.8,1493.2 1701.4,1465.4 1702.0,1482.3 1702.5,1466.0 1703.1,1473.0 1703.7,1476.7 1704.3,1480.4 1704.9,1478.7 1705.5,1484.1 1706.0,1485.4 1706.6,1498.9 1707.2,1490.5 1707.8,1470.3 1708.4,1496.5 1709.0,1485.3 1709.5,1469.2 1710.1,1471.2 1710.7,1482.3 1711.3,1482.8 1711.9,1485.6 1712.5,1465.3 1713.1,1478.2 1713.6,1504.3 1714.2,1463.0 1714.8,1467.2 1715.4,1482.1 1716.0,1484.8 1716.6,1475.1 1717.1,1482.6 1717.7,1479.5 1718.3,1471.2 1718.9,1479.6 1719.5,1476.3 1720.1,1483.1 1720.6,1486.5 1721.2,1469.1 1721.8,1477.3 1722.4,1466.7 1723.0,1473.9 1723.6,1478.8 1724.1,1484.7 1724.7,1468.3 1725.3,1483.3 1725.9,1475.1 1726.5,1473.1 1727.1,1473.0 1727.7,1468.8 1728.2,1478.8 1728.8,1461.1 1729.4,1479.2 1730.0,1468.2 1730.6,1489.5 1731.2,1468.0 1731.7,1476.4 1732.3,1480.5 1732.9,1480.8 1733.5,1489.0 1734.1,1489.7 1734.7,1470.2 1735.2,1466.6 1735.8,1486.7 1736.4,1475.6 1737.0,1469.7 1737.6,1471.0 1738.2,1479.8 1738.7,1478.9 1739.3,1447.0 1739.9,1461.1 1740.5,1463.3 1741.1,1457.8 1741.7,1480.6 1742.3,1481.4 1742.8,1466.4 1743.4,1482.9 1744.0,1463.9 1744.6,1481.8 1745.2,1475.3 1745.8,1469.0 1746.3,1472.1 1746.9,1460.8 1747.5,1478.1 1748.1,1461.6 1748.7,1471.4 1749.3,1456.3 1749.8,1456.3 1750.4,1465.7 1751.0,1465.6 1751.6,1477.4 1752.2,1461.3 1752.8,1466.6 1753.3,1466.6 1753.9,1483.6 1754.5,1463.4 1755.1,1449.0 1755.7,1444.0 1756.3,1454.1 1756.9,1457.6 1757.4,1442.9 1758.0,1441.5 1758.6,1442.5 1759.2,1451.0 1759.8,1456.5 1760.4,1441.0 1760.9,1438.6 1761.5,1459.9 1762.1,1464.0 1762.7,1449.7 1763.3,1436.4 1763.9,1435.1 1764.4,1447.7 1765.0,1420.3 1765.6,1420.6 1766.2,1446.6 1766.8,1419.7 1767.4,1425.7 1767.9,1455.1 1768.5,1425.5 1769.1,1443.2 1769.7,1423.5 1770.3,1412.7 1770.9,1427.0 1771.5,1419.1 1772.0,1427.1 1772.6,1400.1 1773.2,1419.5 1773.8,1414.3 1774.4,1418.4 1775.0,1410.6 1775.5,1395.0 1776.1,1417.8 1776.7,1411.2 1777.3,1409.3 1777.9,1403.8 1778.5,1398.5 1779.0,1385.8 1779.6,1370.1 1780.2,1369.6 1780.8,1382.1 1781.4,1356.9 1782.0,1371.5 1782.5,1384.9 1783.1,1362.9 1783.7,1390.8 1784.3,1349.5 1784.9,1372.2 1785.5,1341.1 1786.1,1363.2 1786.6,1374.9 1787.2,1350.9 1787.8,1338.3 1788.4,1336.9 1789.0,1353.7 1789.6,1353.5 1790.1,1346.0 1790.7,1333.5 1791.3,1324.6 1791.9,1324.7 1792.5,1319.9 1793.1,1311.5 1793.6,1339.1 1794.2,1340.0 1794.8,1339.2 1795.4,1342.4 1796.0,1315.3 1796.6,1301.0 1797.1,1322.2 1797.7,1315.6 1798.3,1305.0 1798.9,1320.7 1799.5,1309.8 1800.1,1321.0 1800.7,1319.6 1801.2,1307.4 1801.8,1318.1 1802.4,1313.8 1803.0,1324.7 1803.6,1321.7 1804.2,1313.3 1804.7,1329.9 1805.3,1324.3 1805.9,1326.5 1806.5,1332.7 1807.1,1359.1 1807.7,1342.7 1808.2,1339.9 1808.8,1338.6 1809.4,1331.0 1810.0,1352.4 1810.6,1356.3 1811.2,1353.7 1811.7,1371.2 1812.3,1370.7 1812.9,1376.3 1813.5,1369.0 1814.1,1390.8 1814.7,1383.6 1815.3,1373.0 1815.8,1382.7 1816.4,1396.2 1817.0,1381.2 1817.6,1404.6 1818.2,1388.9 1818.8,1376.3 1819.3,1406.6 1819.9,1395.9 1820.5,1405.2 1821.1,1406.5 1821.7,1423.1 1822.3,1414.8 1822.8,1427.7 1823.4,1412.3 1824.0,1425.8 1824.6,1422.0 1825.2,1431.7 1825.8,1458.7 1826.3,1430.1 1826.9,1446.1 1827.5,1441.5 1828.1,1452.9 1828.7,1440.1 1829.3,1444.2 1829.9,1432.5 1830.4,1465.5 1831.0,1453.7 1831.6,1456.9 1832.2,1440.9 1832.8,1472.3 1833.4,1469.0 1833.9,1454.1 1834.5,1462.1 1835.1,1457.2 1835.7,1471.3 1836.3,1438.4 1836.9,1465.1 1837.4,1466.9 1838.0,1474.3 1838.6,1455.0 1839.2,1459.0 1839.8,1456.6 1840.4,1479.2 1840.9,1474.5 1841.5,1482.4 1842.1,1480.5 1842.7,1479.7 1843.3,1461.0 1843.9,1472.1 1844.5,1489.6 1845.0,1479.8 1845.6,1466.4 1846.2,1468.7 1846.8,1473.8 1847.4,1476.9 1848.0,1481.6 1848.5,1481.3 1849.1,1486.9 1849.7,1494.1 1850.3,1490.4 1850.9,1473.3 1851.5,1507.3 1852.0,1483.7 1852.6,1479.6 1853.2,1499.5 1853.8,1503.5 1854.4,1494.5 1855.0,1504.2 1855.5,1488.7 1856.1,1489.3 1856.7,1479.3 1857.3,1502.7 1857.9,1494.0 1858.5,1510.0 1859.1,1489.2 1859.6,1505.2 1860.2,1494.5 1860.8,1512.0 1861.4,1494.3 1862.0,1509.7 1862.6,1483.8 1863.1,1490.5 1863.7,1489.7 1864.3,1506.9 1864.9,1473.4 1865.5,1483.7 1866.1,1498.8 1866.6,1496.1 1867.2,1496.5 1867.8,1501.8 1868.4,1494.9 1869.0,1504.8 1869.6,1511.8 1870.1,1488.1 1870.7,1512.0 1871.3,1490.3 1871.9,1484.7 1872.5,1498.0 1873.1,1497.9 1873.7,1502.2 1874.2,1487.1 1874.8,1498.5 1875.4,1493.4 1876.0,1511.7 1876.6,1500.8 1877.2,1493.8 1877.7,1489.5 1878.3,1500.8 1878.9,1522.1 1879.5,1482.9 1880.1,1494.4 1880.7,1515.2 1881.2,1513.2 1881.8,1500.3 1882.4,1501.5 1883.0,1498.5 1883.6,1493.9 1884.2,1500.6 1884.7,1509.8 1885.3,1508.3 1885.9,1488.6 1886.5,1502.8 1887.1,1498.2 1887.7,1518.8 1888.3,1491.1 1888.8,1493.7 1889.4,1491.9 1890.0,1545.3 1890.6,1526.1 1891.2,1505.2 1891.8,1518.4 1892.3,1489.5 1892.9,1505.9 1893.5,1533.8 1894.1,1507.4 1894.7,1494.9 1895.3,1502.8 1895.8,1503.3 1896.4,1508.3 1897.0,1508.6 1897.6,1505.3 1898.2,1494.5 1898.8,1510.7 1899.3,1511.1 1899.9,1494.2 1900.5,1518.0 1901.1,1510.3 1901.7,1531.4 1902.3,1518.1 1902.9,1506.0 1903.4,1503.7 1904.0,1533.2 1904.6,1526.9 1905.2,1520.5 1905.8,1524.1 1906.4,1500.3 1906.9,1528.3 1907.5,1514.3 1908.1,1515.8 1908.7,1527.8 1909.3,1523.0 1909.9,1500.5 1910.4,1524.9 1911.0,1516.0 1911.6,1531.2 1912.2,1520.7 1912.8,1525.8 1913.4,1508.9 1913.9,1510.7 1914.5,1507.8 1915.1,1523.7 1915.7,1510.1 1916.3,1516.8 1916.9,1544.4 1917.5,1531.1 1918.0,1548.2 1918.6,1514.1 1919.2,1512.6 1919.8,1517.6 1920.4,1529.6 1921.0,1513.5 1921.5,1544.9 1922.1,1512.9 1922.7,1537.9 1923.3,1511.5 1923.9,1513.3 1924.5,1526.5 1925.0,1522.1 1925.6,1518.5 1926.2,1517.0 1926.8,1525.1 1927.4,1515.6 1928.0,1542.4 1928.5,1530.4 1929.1,1527.2 1929.7,1510.6 1930.3,1552.9 1930.9,1524.8 1931.5,1513.8 1932.1,1510.8 1932.6,1492.8 1933.2,1513.5 1933.8,1497.8 1934.4,1503.7 1935.0,1534.6 1935.6,1515.8 1936.1,1510.3 1936.7,1538.3 1937.3,1512.1 1937.9,1542.2 1938.5,1516.3 1939.1,1523.8 1939.6,1515.3 1940.2,1513.3 1940.8,1521.9 1941.4,1534.9 1942.0,1520.7 1942.6,1508.6 1943.1,1500.3 1943.7,1533.2 1944.3,1511.8 1944.9,1507.9 1945.5,1525.1 1946.1,1525.3 1946.7,1526.6 1947.2,1513.1 1947.8,1498.7 1948.4,1526.1 1949.0,1519.5 1949.6,1519.3 1950.2,1509.9 1950.7,1525.9 1951.3,1520.6 1951.9,1523.1 1952.5,1533.6 1953.1,1517.3 1953.7,1516.1 1954.2,1516.2 1954.8,1501.8 1955.4,1515.4 1956.0,1530.5 1956.6,1528.2 1957.2,1513.1 1957.7,1505.7 1958.3,1524.3 1958.9,1519.7 1959.5,1521.0 1960.1,1535.8 1960.7,1516.8 1961.3,1531.7 1961.8,1522.6 1962.4,1528.7 1963.0,1511.4 1963.6,1518.5 1964.2,1522.7 1964.8,1517.6 1965.3,1520.1 1965.9,1516.2 1966.5,1539.5 1967.1,1494.3 1967.7,1528.4 1968.3,1520.5 1968.8,1506.7 1969.4,1512.4 1970.0,1502.7 1970.6,1526.1 1971.2,1527.5 1971.8,1523.8 1972.3,1537.4 1972.9,1500.0 1973.5,1504.3 1974.1,1513.6 1974.7,1526.5 1975.3,1523.5 1975.9,1506.3 1976.4,1518.3 1977.0,1526.5 1977.6,1501.2 1978.2,1523.8 1978.8,1527.7 1979.4,1529.3 1979.9,1528.9 1980.5,1513.3 1981.1,1492.8 1981.7,1500.9 1982.3,1506.1 1982.9,1513.3 1983.4,1524.3 1984.0,1516.2 1984.6,1519.1 1985.2,1531.2 1985.8,1497.8 1986.4,1518.2 1986.9,1522.7 1987.5,1529.8 1988.1,1539.9 1988.7,1526.7 1989.3,1503.0 1989.9,1521.4 1990.5,1505.1 1991.0,1519.3 1991.6,1507.5 1992.2,1508.4 1992.8,1517.3 1993.4,1507.1 1994.0,1514.9 1994.5,1513.2 1995.1,1519.7 1995.7,1506.9 1996.3,1500.4 1996.9,1493.3 1997.5,1518.4 1998.0,1520.2 1998.6,1501.1 1999.2,1491.8 1999.8,1520.4 2000.4,1512.9 2001.0,1521.3 2001.5,1512.8 2002.1,1526.4 2002.7,1516.5 2003.3,1511.2 2003.9,1523.0 2004.5,1499.2 2005.1,1511.1 2005.6,1512.9 2006.2,1507.9 2006.8,1514.9 2007.4,1506.6 2008.0,1492.3 2008.6,1532.7 2009.1,1510.5 2009.7,1507.5 2010.3,1494.6 2010.9,1510.8 2011.5,1508.0 2012.1,1494.2 2012.6,1523.1 2013.2,1520.5 2013.8,1489.3 2014.4,1518.4 2015.0,1501.2 2015.6,1518.3 2016.1,1515.3 2016.7,1520.8 2017.3,1515.5 2017.9,1525.7 2018.5,1505.7 2019.1,1505.8 2019.7,1506.2 2020.2,1505.2 2020.8,1534.6 2021.4,1512.5 2022.0,1525.1 2022.6,1513.9 2023.2,1510.3 2023.7,1522.0 2024.3,1504.5 2024.9,1519.6 2025.5,1526.6 2026.1,1513.6 2026.7,1514.5 2027.2,1508.5 2027.8,1520.9 2028.4,1523.9 2029.0,1525.6 2029.6,1509.3 2030.2,1514.2 2030.7,1504.7 2031.3,1518.7 2031.9,1522.4 2032.5,1516.2 2033.1,1513.8 2033.7,1519.4 2034.3,1518.3 2034.8,1520.5 2035.4,1507.6 2036.0,1506.3 2036.6,1510.3 2037.2,1505.9 2037.8,1519.5 2038.3,1538.6 2038.9,1517.5 2039.5,1498.5 2040.1,1508.0 2040.7,1506.0 2041.3,1522.7 2041.8,1519.9 2042.4,1537.3 2043.0,1519.0 2043.6,1516.4 2044.2,1532.2 2044.8,1507.8 2045.3,1518.4 2045.9,1531.6 2046.5,1521.8 2047.1,1524.0 2047.7,1509.2 2048.3,1502.5 2048.9,1516.5 2049.4,1531.2 2050.0,1514.1 2050.6,1508.4 2051.2,1503.3 2051.8,1542.0 2052.4,1503.5 2052.9,1514.4 2053.5,1508.5 2054.1,1529.3 2054.7,1502.9 2055.3,1506.3 2055.9,1524.6 2056.4,1504.4 2057.0,1528.5 2057.6,1536.2 2058.2,1524.4 2058.8,1494.9 2059.4,1516.3 2059.9,1521.0 2060.5,1539.1 2061.1,1541.4 2061.7,1535.9 2062.3,1525.3 2062.9,1522.3 2063.5,1524.0 2064.0,1518.3 2064.6,1520.6 2065.2,1519.1 2065.8,1525.7 2066.4,1540.6 2067.0,1511.2 2067.5,1547.6 2068.1,1533.8 2068.7,1537.2 2069.3,1526.9 2069.9,1526.8 2070.5,1541.5 2071.0,1523.5 2071.6,1517.7 2072.2,1527.7 2072.8,1522.1 2073.4,1544.0 2074.0,1530.8 2074.5,1535.4 2075.1,1530.3 2075.7,1529.9 2076.3,1543.2 2076.9,1534.0 2077.5,1547.5 2078.1,1510.3 2078.6,1536.3 2079.2,1541.5 2079.8,1531.0 2080.4,1511.6 2081.0,1531.8 2081.6,1529.1 2082.1,1547.2 2082.7,1546.1 2083.3,1545.0 2083.9,1536.0 2084.5,1537.3 2085.1,1536.4 2085.6,1546.1 2086.2,1534.6 2086.8,1541.6 2087.4,1544.4 2088.0,1533.8 2088.6,1536.8 2089.1,1527.4 2089.7,1522.5 2090.3,1527.9 2090.9,1526.7 2091.5,1517.4 2092.1,1536.4 2092.7,1544.3 2093.2,1545.1 2093.8,1551.9 2094.4,1532.3 2095.0,1560.3 2095.6,1531.1 2096.2,1537.5 2096.7,1550.2 2097.3,1516.9 2097.9,1539.7 2098.5,1539.3 2099.1,1559.5 2099.7,1528.5 2100.2,1537.3 2100.8,1507.8 2101.4,1535.3 2102.0,1517.5 2102.6,1520.8 2103.2,1542.2 2103.7,1527.6 2104.3,1519.8 2104.9,1543.2 2105.5,1536.6 2106.1,1530.2 2106.7,1517.2 2107.3,1526.4 2107.8,1519.6 2108.4,1531.3 2109.0,1530.4 2109.6,1532.9 2110.2,1526.8 2110.8,1531.1 2111.3,1544.5 2111.9,1528.7 2112.5,1544.3 2113.1,1543.2 2113.7,1543.0 2114.3,1514.3 2114.8,1543.4 2115.4,1535.9 2116.0,1539.5 2116.6,1531.4 2117.2,1531.3 2117.8,1521.8 2118.3,1520.6 2118.9,1537.8 2119.5,1524.2 2120.1,1528.8 2120.7,1544.9 2121.3,1549.3 2121.9,1533.0 2122.4,1512.1 2123.0,1538.5 2123.6,1545.4 2124.2,1535.8 2124.8,1530.9 2125.4,1522.5 2125.9,1537.3 2126.5,1566.6 2127.1,1542.8 2127.7,1531.9 2128.3,1525.4 2128.9,1540.8 2129.4,1520.3 2130.0,1530.1 2130.6,1533.1 2131.2,1532.9 2131.8,1540.8 2132.4,1535.6 2132.9,1522.5 2133.5,1512.3 2134.1,1537.5 2134.7,1505.7 2135.3,1520.1 2135.9,1559.6 2136.5,1527.7 2137.0,1552.5 2137.6,1528.8 2138.2,1540.2 2138.8,1544.1 2139.4,1549.3 2140.0,1533.0 2140.5,1523.1 2141.1,1536.0 2141.7,1518.8 2142.3,1519.1 2142.9,1547.5 2143.5,1526.3 2144.0,1550.1 2144.6,1549.5 2145.2,1526.9 2145.8,1531.3 2146.4,1533.7 2147.0,1548.2 2147.5,1536.8 2148.1,1550.4 2148.7,1536.7 2149.3,1550.2 2149.9,1535.2 2150.5,1552.6 2151.1,1547.2 2151.6,1553.1 2152.2,1549.1 2152.8,1518.7 2153.4,1559.4 2154.0,1539.5 2154.6,1521.5 2155.1,1531.1 2155.7,1527.3 2156.3,1545.1 2156.9,1533.7 2157.5,1537.8 2158.1,1548.8 2158.6,1520.2 2159.2,1520.7 2159.8,1539.6 2160.4,1519.9 2161.0,1546.8 2161.6,1523.7 2162.1,1525.8 2162.7,1545.8 2163.3,1554.7 2163.9,1536.3 2164.5,1531.6 2165.1,1520.6 2165.7,1532.5 2166.2,1531.3 2166.8,1523.7 2167.4,1530.8 2168.0,1546.2 2168.6,1537.6 2169.2,1507.1 2169.7,1554.9 2170.3,1548.9 2170.9,1521.9 2171.5,1550.4 2172.1,1522.6 2172.7,1542.7 2173.2,1538.1 2173.8,1525.4 2174.4,1540.4 2175.0,1538.0 2175.6,1538.7 2176.2,1521.7 2176.7,1545.1 2177.3,1533.6 2177.9,1552.1 2178.5,1546.2"/>
<line x1="608.05" y1="311" x2="604" y2="1137.6" stroke="#000" stroke-width="4" stroke-dasharray="9 13.1" stroke-linecap="round"/>
<line x1="932.5" y1="345.2" x2="932.4" y2="1480.9" stroke="#000" stroke-width="4" stroke-dasharray="9 13.1" stroke-linecap="round"/>
<line x1="1186.4" y1="322.4" x2="1186.4" y2="1457" stroke="#000" stroke-width="4" stroke-dasharray="9 13.1" stroke-linecap="round"/>
<line x1="1347" y1="377.9" x2="1347.1" y2="1513.2" stroke="#000" stroke-width="4" stroke-dasharray="9 13.1" stroke-linecap="round"/>
<line x1="1800" y1="396.4" x2="1800" y2="1441" stroke="#000" stroke-width="4" stroke-dasharray="9 13.1" stroke-linecap="round"/>
<line x1="1138.5" y1="100.5" x2="1136.2" y2="1455" stroke="#000" stroke-width="3.5" stroke-linecap="round"/>
<path d="M613.40,263.09 C612.03,258.71 609.56,256.60 606.00,256.60 C601.89,256.60 599.70,260.22 599.70,264.75 C599.70,270.19 602.99,274.12 606.55,278.04 C609.56,281.36 612.03,283.78 613.40,286.80 C614.77,283.78 617.24,281.36 620.25,278.04 C623.81,274.12 627.10,270.19 627.10,264.75 C627.10,260.22 624.91,256.60 620.80,256.60 C617.24,256.60 614.77,258.71 613.40,263.09 Z" fill="#000"/>
<polygon points="935.9,298.15 951.1999999999999,317 935.9,335.85 920.6,317" fill="#000"/>
<circle cx="1136.5" cy="80.6" r="11.5" fill="#000"/>
<polygon points="1185,275.2 1200.2,293.7 1185,312.2 1169.8,293.7" fill="#000"/>
<circle cx="1340.3" cy="348.4" r="11.5" fill="#000"/>
<polygon points="1799,362.0 1814.0,380 1799,398.0 1784.0,380" fill="#000"/>
<polygon points="1893,107.2 1908.15,126 1893,144.8 1877.85,126" fill="#000"/>
<circle cx="1883.5" cy="243.5" r="11.5" fill="#000"/>
<path d="M1893.00,325.90 C1891.27,320.50 1888.16,317.90 1883.66,317.90 C1878.47,317.90 1875.70,322.36 1875.70,327.94 C1875.70,334.64 1879.85,339.48 1884.35,344.31 C1888.16,348.40 1891.27,351.38 1893.00,355.10 C1894.73,351.38 1897.84,348.40 1901.65,344.31 C1906.15,339.48 1910.30,334.64 1910.30,327.94 C1910.30,322.36 1907.53,317.90 1902.34,317.90 C1897.84,317.90 1894.73,320.50 1893.00,325.90 Z" fill="#000"/>
<text class="lg" y="143"><tspan x="1934.8">Al</tspan><tspan x="2004.5" y="171">2</tspan><tspan x="2040.5" y="143">O</tspan><tspan x="2088" y="171.5">3</tspan></text>
<text class="lg" x="1927.9" y="262.8">Ni</text>
<text transform="translate(1938.7,353.1) scale(0.94,1)" style="font-family:'Liberation Sans',Arial,sans-serif;font-size:75px">C</text>
<rect x="134.5" y="50.5" width="2044" height="1512.85" fill="none" stroke="#000" stroke-width="7"/>
<line x1="426.5" y1="1534.5" x2="426.5" y2="1562" stroke="#000" stroke-width="7" stroke-linecap="round"/>
<line x1="1010.5" y1="1534.5" x2="1010.5" y2="1562" stroke="#000" stroke-width="7" stroke-linecap="round"/>
<line x1="1594.5" y1="1534.5" x2="1594.5" y2="1562" stroke="#000" stroke-width="7" stroke-linecap="round"/>
<line x1="2178.5" y1="1534.5" x2="2178.5" y2="1562" stroke="#000" stroke-width="7" stroke-linecap="round"/>
<line x1="718.5" y1="1548.5" x2="718.5" y2="1562" stroke="#000" stroke-width="7" stroke-linecap="round"/>
<line x1="1302.5" y1="1548.5" x2="1302.5" y2="1562" stroke="#000" stroke-width="7" stroke-linecap="round"/>
<line x1="1886.5" y1="1548.5" x2="1886.5" y2="1562" stroke="#000" stroke-width="7" stroke-linecap="round"/>
<text class="tk" transform="translate(427.5,1640) scale(1.05,1)" text-anchor="middle">20</text>
<text class="tk" transform="translate(1011.6,1640) scale(1.05,1)" text-anchor="middle">40</text>
<text class="tk" transform="translate(1596,1640) scale(1.05,1)" text-anchor="middle">60</text>
<text class="tk" transform="translate(2180,1640) scale(1.05,1)" text-anchor="middle">80</text>
<text class="ax" x="883.3" y="1711">2 Theta (degree)</text>
<text class="ax" style="font-size:79px" transform="translate(82,1080.7) rotate(-90)">Intensity (a.u.)</text>
</svg></body></html>
